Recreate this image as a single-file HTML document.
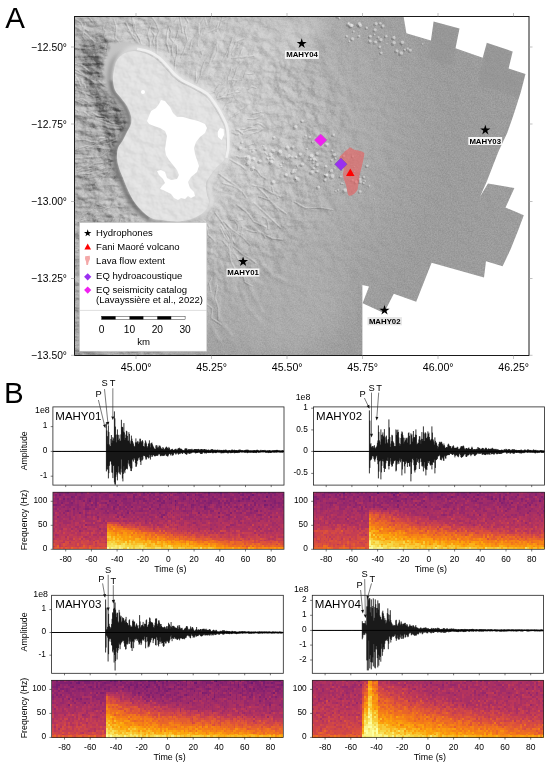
<!DOCTYPE html>
<html><head><meta charset="utf-8"><title>Figure</title>
<style>html,body{margin:0;padding:0;background:#fff}svg{display:block}text{font-family:"Liberation Sans",Arial,Helvetica,sans-serif;fill:#000}</style></head><body>
<svg width="550" height="767" viewBox="0 0 550 767">
<rect width="550" height="767" fill="#fff"/>
<defs>
<clipPath id="mapclip"><rect x="74.5" y="16.5" width="454.5" height="339.0"/></clipPath>
<clipPath id="lagclip"><path d="M114.0,70.0C114.7,66.7 115.2,62.8 117.0,60.0C118.8,57.2 122.0,54.5 125.0,53.0C128.0,51.5 131.3,50.8 135.0,51.0C138.7,51.2 143.3,52.5 147.0,54.0C150.7,55.5 154.0,57.7 157.0,60.0C160.0,62.3 162.3,65.2 165.0,68.0C167.7,70.8 170.3,74.5 173.0,77.0C175.7,79.5 178.0,81.2 181.0,83.0C184.0,84.8 187.0,85.8 191.0,88.0C195.0,90.2 201.3,93.0 205.0,96.0C208.7,99.0 210.5,102.3 213.0,106.0C215.5,109.7 218.0,114.0 220.0,118.0C222.0,122.0 224.0,124.7 225.0,130.0C226.0,135.3 226.2,145.0 226.0,150.0C225.8,155.0 225.7,157.0 224.0,160.0C222.3,163.0 218.3,165.3 216.0,168.0C213.7,170.7 211.7,173.3 210.0,176.0C208.3,178.7 206.5,181.0 206.0,184.0C205.5,187.0 206.5,191.0 207.0,194.0C207.5,197.0 209.2,199.3 209.0,202.0C208.8,204.7 207.8,207.7 206.0,210.0C204.2,212.3 201.0,214.3 198.0,216.0C195.0,217.7 191.7,219.1 188.0,220.0C184.3,220.9 180.3,221.5 176.0,221.5C171.7,221.5 166.2,220.6 162.0,220.0C157.8,219.4 154.5,219.7 151.0,218.0C147.5,216.3 144.0,213.0 141.0,210.0C138.0,207.0 135.3,203.7 133.0,200.0C130.7,196.3 128.7,191.7 127.0,188.0C125.3,184.3 124.3,181.3 123.0,178.0C121.7,174.7 120.0,171.3 119.0,168.0C118.0,164.7 117.2,161.3 117.0,158.0C116.8,154.7 117.0,151.0 118.0,148.0C119.0,145.0 121.5,142.7 123.0,140.0C124.5,137.3 125.7,134.7 127.0,132.0C128.3,129.3 130.3,126.7 131.0,124.0C131.7,121.3 131.7,119.0 131.0,116.0C130.3,113.0 128.7,109.0 127.0,106.0C125.3,103.0 123.0,100.7 121.0,98.0C119.0,95.3 116.3,93.0 115.0,90.0C113.7,87.0 113.2,83.3 113.0,80.0C112.8,76.7 113.3,73.3 114.0,70.0Z"/></clipPath>
<filter id="relief" x="0" y="0" width="100%" height="100%" color-interpolation-filters="sRGB">
<feTurbulence type="fractalNoise" baseFrequency="0.09 0.11" numOctaves="4" seed="11" result="n"/>
<feDiffuseLighting in="n" surfaceScale="3" diffuseConstant="1.0" lighting-color="#ffffff" result="l"><feDistantLight azimuth="325" elevation="45"/></feDiffuseLighting>
<feColorMatrix in="l" type="matrix" values="1.3 0 0 0 -0.40  0 1.3 0 0 -0.40  0 0 1.3 0 -0.40  0 0 0 1 0"/>
</filter>
<filter id="reliefW" x="0" y="0" width="100%" height="100%" color-interpolation-filters="sRGB">
<feTurbulence type="fractalNoise" baseFrequency="0.045 0.17" numOctaves="4" seed="4" result="n"/>
<feDiffuseLighting in="n" surfaceScale="3.5" diffuseConstant="1.0" lighting-color="#ffffff" result="l"><feDistantLight azimuth="325" elevation="45"/></feDiffuseLighting>
<feColorMatrix in="l" type="matrix" values="1.3 0 0 0 -0.40  0 1.3 0 0 -0.40  0 0 1.3 0 -0.40  0 0 0 1 0"/>
</filter>
<filter id="grain" x="0" y="0" width="100%" height="100%" color-interpolation-filters="sRGB">
<feTurbulence type="fractalNoise" baseFrequency="0.7" numOctaves="2" seed="5" result="n"/>
<feColorMatrix in="n" type="matrix" values="0 0 0 1.2 -0.1  0 0 0 1.2 -0.1  0 0 0 1.2 -0.1  0 0 0 0 1"/>
</filter>
<filter id="b4"><feGaussianBlur stdDeviation="4"/></filter>
<filter id="b8"><feGaussianBlur stdDeviation="8"/></filter>
<filter id="b14"><feGaussianBlur stdDeviation="14"/></filter>
<filter id="b25"><feGaussianBlur stdDeviation="25"/></filter>
<filter id="b1"><feGaussianBlur stdDeviation="0.8"/></filter>
<filter id="b05"><feGaussianBlur stdDeviation="0.45"/></filter>
<filter id="b2"><feGaussianBlur stdDeviation="2"/></filter>
<radialGradient id="tmask" cx="185" cy="135" r="250" gradientUnits="userSpaceOnUse"><stop offset="0" stop-color="#fff"/><stop offset="0.45" stop-color="#ddd"/><stop offset="0.7" stop-color="#333"/><stop offset="1" stop-color="#111"/></radialGradient>
<mask id="texmask"><rect x="70" y="10" width="470" height="350" fill="url(#tmask)"/></mask>
<radialGradient id="baseg" cx="178" cy="128" r="270" gradientUnits="userSpaceOnUse"><stop offset="0" stop-color="#d2d2d2"/><stop offset="0.25" stop-color="#cccccc"/><stop offset="0.4" stop-color="#c0c0c0"/><stop offset="0.55" stop-color="#b2b2b2"/><stop offset="0.7" stop-color="#aaaaaa"/><stop offset="0.85" stop-color="#a1a1a1"/><stop offset="1" stop-color="#9c9c9c"/></radialGradient>
<linearGradient id="wmaskg" x1="75" x2="200" y1="0" y2="0" gradientUnits="userSpaceOnUse"><stop offset="0" stop-color="#fff"/><stop offset="0.55" stop-color="#fff"/><stop offset="1" stop-color="#000"/></linearGradient>
<mask id="wmask"><rect x="70" y="10" width="200" height="350" fill="url(#wmaskg)"/></mask>

</defs>
<g clip-path="url(#mapclip)">
<rect x="74.5" y="16.5" width="454.5" height="339.0" fill="url(#baseg)"/>
<ellipse cx="285" cy="300" rx="60" ry="55" fill="#adadad" filter="url(#b14)" opacity="0.8"/>
<path d="M112,17 L330,17 L300,55 L240,80 L190,70 L150,42 L112,40Z" fill="#c9c9c9" filter="url(#b8)" opacity="0.8"/>
<path d="M75,17 L108,17 L100,60 L104,100 L120,130 L112,165 L118,200 L140,232 L180,262 L180,356 L75,356Z" fill="#a9a9a9" filter="url(#b8)"/>
<path d="M75,17 L112,17 L106,36 L88,40 L75,48Z" fill="#b8b8b8" filter="url(#b4)"/>
<path d="M84,38 L109,41 L102,60 L101,80 L105,92 L114,100 L125,112 L128,128 L120,142 L116,155 L118,170 L124,186 L134,204 L128,208 L116,190 L108,170 L106,150 L104,128 L94,106 L86,80 L82,55Z" fill="#7e7e7e" filter="url(#b2)" opacity="0.95"/>
<path d="M99,180 L120,176 L128,192 L140,212 L128,220 L104,214 L97,196Z" fill="#b6b6b6" filter="url(#b2)"/>
<g mask="url(#texmask)" style="mix-blend-mode:overlay" opacity="0.42"><rect x="74.5" y="16.5" width="454.5" height="339.0" filter="url(#relief)"/></g>
<g mask="url(#wmask)" style="mix-blend-mode:overlay" opacity="0.36"><rect x="74.5" y="16.5" width="130" height="339.0" filter="url(#reliefW)"/></g>
<g fill="none" stroke-linecap="round" filter="url(#b05)"><path d="M236.1,249.7L241.6,254.7L248.9,258.7L255.0,263.3M179.1,255.3L186.0,263.0L190.5,270.8L196.6,278.2M209.8,94.0L214.4,92.2L216.5,88.0L219.3,84.4M216.0,31.3L219.2,26.8L220.5,21.4L222.3,16.2M240.5,58.4L244.7,57.4L249.5,57.0L253.7,56.2M158.5,31.1L155.4,23.2L149.9,15.6L146.0,7.9M42.3,177.6L37.0,179.9L32.4,184.1L29.6,192.9M63.5,140.4L59.3,139.6L55.2,141.1L51.0,140.6M113.6,217.2L110.4,224.4L104.3,229.8L101.2,237.1M85.1,220.6L73.0,223.4L62.5,227.9L53.1,233.4M227.7,81.5L231.6,80.0L237.4,80.9L241.6,80.0M115.8,140.9L111.5,142.7L107.2,144.4L102.7,145.2M168.6,52.1L166.0,42.9L166.5,33.6L169.1,24.3M197.3,46.2L197.2,40.7L200.1,36.1L201.0,30.9M182.1,33.0L180.3,23.5L178.7,14.1L174.2,4.6M165.1,305.0L168.7,316.8L173.4,328.6L174.7,340.3M92.0,22.4L88.7,18.4L85.8,14.1L83.8,9.3M149.1,49.6L149.4,41.9L147.0,34.9L149.7,26.8M219.8,228.9L224.0,237.4L230.0,245.0L233.1,254.2M132.5,262.2L132.9,275.0L132.0,287.5L131.5,299.9M122.8,249.6L122.4,257.5L126.3,266.9L127.8,275.2M231.2,133.0L233.5,133.4L235.8,135.0L238.2,134.6M87.5,31.5L82.5,28.1L79.9,22.8L74.7,19.5M128.6,-2.6L125.0,-8.3L121.6,-13.9L119.2,-19.9M257.3,188.3L264.6,195.0L271.0,203.2L277.6,210.8M231.6,58.8L236.7,58.0L241.9,57.4L246.9,56.9M240.9,129.2L244.3,129.6L247.5,127.4L250.9,127.3M43.7,166.3L35.3,169.2L27.3,173.7L20.3,181.2M234.2,115.2L238.7,110.7L244.0,108.5L248.4,103.9M96.0,206.6L91.3,210.7L85.6,213.8L80.8,217.8M141.7,49.5L137.7,43.1L134.6,36.5L127.4,31.4M257.3,231.5L264.3,235.5L271.8,239.0L281.5,240.1M207.0,27.9L204.1,17.9L207.0,9.6L204.8,-0.0M174.1,70.4L174.6,62.2L176.7,54.1L176.3,45.9M158.0,247.4L154.2,255.8L147.7,263.7L142.1,271.5M203.7,221.6L204.7,223.8L207.4,225.3L208.5,227.4M68.4,199.0L65.9,208.1L62.7,215.6L58.1,221.4M113.1,124.0L104.8,120.5L96.0,118.8L87.4,116.6M105.7,-6.4L101.9,-16.6L94.1,-24.8L93.5,-36.5M69.0,44.4L59.4,42.8L52.4,38.3L41.3,39.0M187.8,22.8L184.5,17.5L183.8,12.7L182.5,7.7M124.3,190.8L118.6,194.0L115.5,199.3L111.5,203.9M219.8,96.9L222.9,94.6L225.7,91.9L228.3,89.1M167.6,256.2L169.6,263.5L173.8,270.8L171.5,278.1M76.7,79.3L70.7,71.6L64.0,65.2L60.8,53.9M60.9,72.3L56.7,71.9L51.4,73.5L45.8,75.8M96.2,212.4L92.3,217.7L88.1,222.7L83.7,227.4M172.0,55.3L171.2,47.3L175.5,39.5L177.9,31.7M271.5,187.3L272.7,192.8L275.5,195.0L277.6,198.6M210.9,278.7L208.5,283.8L209.6,288.1L210.1,292.4M245.1,229.9L252.2,232.4L261.2,233.1L265.0,238.3M92.8,82.2L83.0,76.4L72.4,71.8L62.3,66.6M173.9,43.8L169.6,37.8L170.4,31.9L167.8,26.0M196.6,270.9L193.7,274.4L197.0,276.8L197.6,279.7M191.3,238.0L193.9,241.2L194.3,244.8L192.3,248.9M262.1,217.1L265.8,219.3L267.3,223.9L268.0,229.3M258.4,197.0L268.9,200.7L277.0,208.1L285.8,214.4M189.3,49.3L191.3,40.7L198.0,33.3L198.3,24.3M153.4,45.7L152.5,41.2L154.2,36.2L151.4,32.1M144.8,247.5L139.9,257.2L136.4,267.2L128.5,276.0M87.1,165.5L77.6,169.8L68.3,174.6L58.6,178.5M100.2,217.5L95.3,219.9L94.7,225.9L93.4,231.2M264.3,153.0L267.2,156.3L270.5,157.2L273.4,160.2M105.1,122.8L97.6,120.5L90.2,117.8L83.5,112.5M227.1,55.6L232.3,49.6L235.6,42.3L244.1,38.8M97.0,270.8L98.2,275.5L97.5,279.2L93.7,281.4M67.1,44.8L62.2,34.6L55.0,27.0L51.1,15.9M73.9,127.4L67.7,126.6L61.7,123.9L55.6,123.3M247.0,137.4L252.4,133.6L257.8,132.5L263.0,129.0M84.4,166.7L78.2,166.7L71.8,165.8L65.6,165.6M253.7,125.3L256.9,123.5L260.4,124.9L264.1,127.9M90.6,245.4L84.4,246.7L80.4,249.5L74.6,251.0M205.7,287.8L204.0,292.2L204.2,296.1L205.7,299.8M214.8,213.3L221.9,223.1L228.4,233.2L234.1,243.8M231.2,54.7L233.1,51.3L236.0,48.7L237.8,45.2M133.9,34.4L134.5,25.7L131.6,18.3L135.8,8.7M106.8,139.6L99.7,142.0L92.8,146.6L85.7,148.7M241.0,226.0L242.1,228.5L240.6,233.0L240.3,236.5M87.8,71.4L80.5,65.7L70.2,64.0L60.7,61.3M231.2,96.5L233.7,94.3L235.2,90.4L238.1,88.7M236.1,156.4L238.8,158.2L242.0,157.9L245.3,157.6M180.5,57.8L183.4,51.5L185.4,45.1L189.0,39.0M157.7,304.6L148.4,311.4L146.3,318.9L137.0,325.3M97.4,172.3L92.6,172.8L88.5,174.6L83.3,174.1M247.5,119.4L252.8,119.9L257.6,118.3L262.2,115.4M66.7,182.5L60.2,188.8L54.4,196.2L47.0,200.6M83.6,218.5L72.1,223.2L62.3,229.8L50.6,234.0M231.0,86.6L233.5,82.1L238.1,80.0L241.9,77.1M180.4,252.2L186.5,262.1L187.8,272.7L190.8,283.0M94.3,-16.3L87.9,-24.5L80.1,-32.0L76.6,-41.8M195.0,83.0L195.5,79.7L195.3,76.0L195.3,72.5M252.2,114.3L254.9,113.5L258.0,113.6L260.6,112.2M91.0,210.5L82.0,215.2L76.1,223.1L67.8,228.5M170.2,266.4L172.1,271.8L174.6,277.2L178.7,282.5M231.0,81.8L234.4,75.3L236.6,67.6L240.1,61.4M151.8,257.5L149.0,267.6L143.9,277.3L134.5,286.0M227.6,94.9L233.0,93.1L239.2,92.5L242.9,88.2M143.4,297.1L140.4,309.0L143.5,321.8L143.0,334.1M165.2,234.6L160.2,242.2L157.0,249.8L150.8,256.9M55.0,123.8L45.3,127.6L36.0,126.8L26.6,129.4M103.6,138.7L98.9,138.6L94.5,142.3L89.8,142.4M86.0,77.7L77.3,70.9L66.4,67.3L58.4,59.5M212.6,60.8L214.6,56.3L216.8,51.9L216.2,46.0M54.3,106.7L47.8,102.4L40.9,99.8L34.3,96.0M84.5,88.4L83.8,84.5L81.2,84.0L80.9,79.8M220.6,226.0L225.7,236.0L231.0,245.8L240.6,253.2M119.3,-8.4L114.1,-12.2L113.4,-17.7L112.2,-23.0M227.5,57.0L228.6,53.2L228.9,49.0L230.2,45.5M231.8,235.3L231.2,241.2L231.8,246.4L228.4,253.6M81.2,-5.8L73.7,-10.7L63.3,-13.5L59.1,-20.6M236.0,204.9L246.0,212.4L253.5,222.3L265.6,227.6M221.7,61.8L225.9,54.2L229.4,46.1L232.2,37.5M106.7,51.9L106.8,49.3L103.9,48.9L105.0,45.4M53.0,169.6L47.1,174.5L39.4,173.4L33.4,177.9M50.2,196.3L47.2,201.0L44.5,205.9L44.4,215.0M117.7,224.9L113.7,226.8L111.3,229.7L106.9,231.3M61.7,126.3L52.7,126.7L43.6,127.7L34.9,122.9M208.4,32.9L215.9,29.2L217.7,23.2L225.0,19.7M92.6,97.2L83.8,93.2L74.4,90.5L64.1,89.6M103.1,36.8L105.2,31.7L102.5,29.7L103.1,25.7M137.8,44.0L132.4,37.5L128.6,30.4L125.3,23.2M243.5,77.0L244.8,73.9L249.2,74.6L252.5,74.0M77.1,13.9L76.8,7.9L73.7,3.9L68.0,1.9M222.1,241.2L228.5,248.9L235.5,256.2L240.2,264.7M105.1,163.7L95.5,168.5L84.6,170.3L74.1,173.0M103.8,227.8L99.5,228.1L94.7,228.0L90.4,228.2M235.6,48.7L239.3,47.6L241.0,44.9L243.0,42.5M200.0,57.6L202.0,55.4L200.3,51.8L203.2,49.9M112.7,94.5L109.2,88.5L103.1,86.1L98.4,81.8M146.2,243.7L145.8,255.0L147.6,266.8L150.3,278.5M96.2,142.6L89.9,142.0L83.5,140.3L77.3,140.6M83.0,105.1L76.3,102.2L70.1,98.1L62.5,97.9M76.6,240.5L67.9,247.9L57.7,253.8L45.3,257.5M142.3,51.2L139.4,39.8L133.2,29.6L131.6,17.8M56.3,112.4L52.7,114.6L49.0,117.0L45.5,119.0M56.2,31.9L50.8,21.7L50.5,6.6L43.8,-2.1M50.0,119.8L43.8,118.3L37.2,120.8L30.3,127.0M151.8,6.2L148.8,0.9L141.5,-3.6L138.7,-8.9M87.2,162.2L83.6,164.8L79.4,165.5L76.2,169.1M104.1,207.6L99.6,206.2L95.6,205.1L94.5,207.0M154.9,267.7L152.8,280.1L158.5,293.3L158.6,305.9M156.1,54.0L156.2,46.1L156.0,38.2L159.3,30.0M218.5,174.3L224.6,178.9L230.9,183.1L237.0,187.6M91.7,157.5L80.1,159.0L68.0,158.1L57.1,162.0M232.7,69.4L237.7,65.8L242.6,62.2L246.9,57.9M251.9,185.9L262.3,188.0L270.7,193.4L280.0,197.3M192.3,46.9L195.5,42.1L199.4,37.5L198.1,31.5M78.5,164.9L68.7,171.4L60.5,181.5L50.5,187.2M234.2,221.6L237.5,225.6L237.0,232.4L242.7,234.8M204.6,28.8L209.2,23.4L211.1,17.1L213.5,10.9M66.8,69.2L58.2,66.9L51.6,61.4L42.9,59.5M237.4,57.7L239.7,55.1L240.7,51.2L242.6,48.2M199.6,26.1L204.1,18.1L209.5,10.3L215.3,2.7M222.8,109.5L226.2,103.8L231.2,101.3L234.2,95.4M67.2,52.3L60.5,51.1L55.7,47.5L52.8,41.4M227.2,84.0L227.6,77.7L229.7,73.3L231.0,68.1M108.7,151.3L104.9,154.3L101.1,157.0L96.7,157.9M217.2,99.6L222.3,98.0L228.3,97.8L233.8,97.0M74.7,166.6L71.5,166.6L70.8,173.4L68.5,175.5M203.5,62.8L208.3,56.2L213.7,49.9L217.0,42.6M227.6,122.3L230.8,118.0L234.5,115.6L238.2,113.3M103.7,168.7L97.9,171.4L90.7,171.0L85.2,174.2M247.4,89.6L249.5,88.1L251.8,86.9L255.6,88.5M193.9,273.9L196.1,277.1L204.4,278.8L205.8,282.0M294.1,202.5L304.9,208.7L319.2,208.1L331.8,210.4M223.7,222.6L231.9,230.5L241.8,237.2L249.4,245.4M97.8,-15.9L90.1,-19.1L88.9,-25.5L84.7,-30.4M158.6,18.8L162.8,11.0L168.2,3.4L170.3,-4.1M240.2,269.5L242.8,275.9L244.4,282.7L251.5,286.7M49.2,153.6L39.5,157.4L29.1,157.5L18.9,158.1M202.4,222.7L206.1,228.7L207.7,235.5L213.3,240.7M108.8,161.6L101.5,163.6L93.5,164.2L87.1,168.3M93.9,42.9L86.4,35.5L77.8,28.9L68.1,23.4M120.1,219.2L118.0,226.9L115.1,234.1L114.6,242.6M253.5,203.4L262.4,211.7L271.3,220.0L280.0,228.6M84.7,39.9L82.0,36.9L82.8,31.0L84.3,24.6M69.3,81.1L60.6,78.1L50.8,77.4L42.4,73.8M77.7,111.6L68.8,105.8L59.7,100.8L50.5,96.5M229.6,159.9L234.8,163.1L240.2,165.9L245.0,170.1M245.3,147.2L247.8,145.6L250.1,145.1L252.5,144.2M80.6,158.5L71.7,159.5L63.1,161.5L54.6,164.2M224.8,230.8L229.5,237.8L231.2,246.6L234.1,254.7M128.0,-1.7L126.8,-11.6L122.0,-20.3L121.0,-30.3M84.8,95.0L76.3,89.6L67.7,84.4L58.4,80.5M129.6,240.0L127.3,242.8L124.2,245.1L123.8,248.7M235.6,130.2L237.9,130.7L240.3,132.6L242.6,134.5M189.4,241.0L191.2,243.5L193.5,245.8L196.2,248.0M228.5,245.5L229.0,254.1L230.4,262.1L234.0,269.1M112.2,204.9L110.1,208.0L105.6,209.1L102.4,211.2M251.8,168.2L256.7,170.7L260.4,176.2L265.2,179.0M183.9,234.9L177.6,238.8L175.9,242.1L172.7,245.4M227.6,185.0L235.2,187.7L241.3,191.9L245.9,198.2M119.5,126.8L114.0,125.8L108.5,124.8L103.1,123.0M216.4,97.8L218.2,93.3L221.5,90.7L224.0,87.2M108.4,121.3L103.3,117.6L97.5,116.9L92.4,113.5M228.2,92.0L230.7,87.4L234.8,84.8L237.6,80.6M204.2,70.8L208.5,64.9L210.8,57.9L213.5,51.2M99.8,11.8L100.5,4.8L97.9,-0.4L93.8,-4.7M72.0,100.7L64.7,91.3L55.3,87.6L47.0,81.1M107.2,172.0L98.9,174.1L91.6,178.0L82.7,178.9M172.7,298.8L175.1,311.5L175.4,324.2L182.8,336.7M222.6,183.8L230.1,186.0L237.2,188.6L242.7,193.3M71.5,157.0L66.7,161.6L62.5,167.6L58.2,173.0M71.0,32.9L66.9,21.7L64.6,9.1L59.6,-1.0M99.7,141.2L90.2,145.6L80.5,148.1L70.9,151.3M79.9,86.2L76.9,79.3L72.9,74.1L68.4,70.0M187.2,42.7L186.1,37.2L184.4,31.7L185.3,26.5M88.0,103.5L84.8,101.2L81.4,99.3L76.7,101.0M230.7,220.1L235.0,219.8L237.0,221.2L241.8,220.3M120.1,45.1L114.7,38.2L115.8,27.8L113.1,19.4M112.1,167.2L107.0,174.5L100.1,178.9L94.5,185.1M248.9,149.9L252.8,149.3L256.4,150.2L260.8,146.5M174.4,21.1L180.3,13.6L181.1,5.8L186.1,-1.6M196.8,83.7L199.9,77.1L201.3,69.7L203.6,62.7M216.7,286.0L214.6,298.2L217.7,308.8L218.0,320.2M203.1,302.2L211.9,309.2L210.7,318.5L220.5,325.2M87.5,5.8L84.0,-0.6L76.1,-4.0L71.5,-9.7M243.4,132.1L247.7,130.4L252.1,129.7L256.5,129.5" stroke="#000" stroke-opacity="0.12" stroke-width="1.4"/><path d="M237.1,248.7L242.6,253.7L249.9,257.7L256.0,262.3M180.1,254.3L187.0,262.0L191.5,269.8L197.6,277.2M210.8,93.0L215.4,91.2L217.5,87.0L220.3,83.4M217.0,30.3L220.2,25.8L221.5,20.4L223.3,15.2M241.5,57.4L245.7,56.4L250.5,56.0L254.7,55.2M159.5,30.1L156.4,22.2L150.9,14.6L147.0,6.9M43.3,176.6L38.0,178.9L33.4,183.1L30.6,191.9M64.5,139.4L60.3,138.6L56.2,140.1L52.0,139.6M114.6,216.2L111.4,223.4L105.3,228.8L102.2,236.1M86.1,219.6L74.0,222.4L63.5,226.9L54.1,232.4M228.7,80.5L232.6,79.0L238.4,79.9L242.6,79.0M116.8,139.9L112.5,141.7L108.2,143.4L103.7,144.2M169.6,51.1L167.0,41.9L167.5,32.6L170.1,23.3M198.3,45.2L198.2,39.7L201.1,35.1L202.0,29.9M183.1,32.0L181.3,22.5L179.7,13.1L175.2,3.6M166.1,304.0L169.7,315.8L174.4,327.6L175.7,339.3M93.0,21.4L89.7,17.4L86.8,13.1L84.8,8.3M150.1,48.6L150.4,40.9L148.0,33.9L150.7,25.8M220.8,227.9L225.0,236.4L231.0,244.0L234.1,253.2M133.5,261.2L133.9,274.0L133.0,286.5L132.5,298.9M123.8,248.6L123.4,256.5L127.3,265.9L128.8,274.2M232.2,132.0L234.5,132.4L236.8,134.0L239.2,133.6M88.5,30.5L83.5,27.1L80.9,21.8L75.7,18.5M129.6,-3.6L126.0,-9.3L122.6,-14.9L120.2,-20.9M258.3,187.3L265.6,194.0L272.0,202.2L278.6,209.8M232.6,57.8L237.7,57.0L242.9,56.4L247.9,55.9M241.9,128.2L245.3,128.6L248.5,126.4L251.9,126.3M44.7,165.3L36.3,168.2L28.3,172.7L21.3,180.2M235.2,114.2L239.7,109.7L245.0,107.5L249.4,102.9M97.0,205.6L92.3,209.7L86.6,212.8L81.8,216.8M142.7,48.5L138.7,42.1L135.6,35.5L128.4,30.4M258.3,230.5L265.3,234.5L272.8,238.0L282.5,239.1M208.0,26.9L205.1,16.9L208.0,8.6L205.8,-1.0M175.1,69.4L175.6,61.2L177.7,53.1L177.3,44.9M159.0,246.4L155.2,254.8L148.7,262.7L143.1,270.5M204.7,220.6L205.7,222.8L208.4,224.3L209.5,226.4M69.4,198.0L66.9,207.1L63.7,214.6L59.1,220.4M114.1,123.0L105.8,119.5L97.0,117.8L88.4,115.6M106.7,-7.4L102.9,-17.6L95.1,-25.8L94.5,-37.5M70.0,43.4L60.4,41.8L53.4,37.3L42.3,38.0M188.8,21.8L185.5,16.5L184.8,11.7L183.5,6.7M125.3,189.8L119.6,193.0L116.5,198.3L112.5,202.9M220.8,95.9L223.9,93.6L226.7,90.9L229.3,88.1M168.6,255.2L170.6,262.5L174.8,269.8L172.5,277.1M77.7,78.3L71.7,70.6L65.0,64.2L61.8,52.9M61.9,71.3L57.7,70.9L52.4,72.5L46.8,74.8M97.2,211.4L93.3,216.7L89.1,221.7L84.7,226.4M173.0,54.3L172.2,46.3L176.5,38.5L178.9,30.7M272.5,186.3L273.7,191.8L276.5,194.0L278.6,197.6M211.9,277.7L209.5,282.8L210.6,287.1L211.1,291.4M246.1,228.9L253.2,231.4L262.2,232.1L266.0,237.3M93.8,81.2L84.0,75.4L73.4,70.8L63.3,65.6M174.9,42.8L170.6,36.8L171.4,30.9L168.8,25.0M197.6,269.9L194.7,273.4L198.0,275.8L198.6,278.7M192.3,237.0L194.9,240.2L195.3,243.8L193.3,247.9M263.1,216.1L266.8,218.3L268.3,222.9L269.0,228.3M259.4,196.0L269.9,199.7L278.0,207.1L286.8,213.4M190.3,48.3L192.3,39.7L199.0,32.3L199.3,23.3M154.4,44.7L153.5,40.2L155.2,35.2L152.4,31.1M145.8,246.5L140.9,256.2L137.4,266.2L129.5,275.0M88.1,164.5L78.6,168.8L69.3,173.6L59.6,177.5M101.2,216.5L96.3,218.9L95.7,224.9L94.4,230.2M265.3,152.0L268.2,155.3L271.5,156.2L274.4,159.2M106.1,121.8L98.6,119.5L91.2,116.8L84.5,111.5M228.1,54.6L233.3,48.6L236.6,41.3L245.1,37.8M98.0,269.8L99.2,274.5L98.5,278.2L94.7,280.4M68.1,43.8L63.2,33.6L56.0,26.0L52.1,14.9M74.9,126.4L68.7,125.6L62.7,122.9L56.6,122.3M248.0,136.4L253.4,132.6L258.8,131.5L264.0,128.0M85.4,165.7L79.2,165.7L72.8,164.8L66.6,164.6M254.7,124.3L257.9,122.5L261.4,123.9L265.1,126.9M91.6,244.4L85.4,245.7L81.4,248.5L75.6,250.0M206.7,286.8L205.0,291.2L205.2,295.1L206.7,298.8M215.8,212.3L222.9,222.1L229.4,232.2L235.1,242.8M232.2,53.7L234.1,50.3L237.0,47.7L238.8,44.2M134.9,33.4L135.5,24.7L132.6,17.3L136.8,7.7M107.8,138.6L100.7,141.0L93.8,145.6L86.7,147.7M242.0,225.0L243.1,227.5L241.6,232.0L241.3,235.5M88.8,70.4L81.5,64.7L71.2,63.0L61.7,60.3M232.2,95.5L234.7,93.3L236.2,89.4L239.1,87.7M237.1,155.4L239.8,157.2L243.0,156.9L246.3,156.6M181.5,56.8L184.4,50.5L186.4,44.1L190.0,38.0M158.7,303.6L149.4,310.4L147.3,317.9L138.0,324.3M98.4,171.3L93.6,171.8L89.5,173.6L84.3,173.1M248.5,118.4L253.8,118.9L258.6,117.3L263.2,114.4M67.7,181.5L61.2,187.8L55.4,195.2L48.0,199.6M84.6,217.5L73.1,222.2L63.3,228.8L51.6,233.0M232.0,85.6L234.5,81.1L239.1,79.0L242.9,76.1M181.4,251.2L187.5,261.1L188.8,271.7L191.8,282.0M95.3,-17.3L88.9,-25.5L81.1,-33.0L77.6,-42.8M196.0,82.0L196.5,78.7L196.3,75.0L196.3,71.5M253.2,113.3L255.9,112.5L259.0,112.6L261.6,111.2M92.0,209.5L83.0,214.2L77.1,222.1L68.8,227.5M171.2,265.4L173.1,270.8L175.6,276.2L179.7,281.5M232.0,80.8L235.4,74.3L237.6,66.6L241.1,60.4M152.8,256.5L150.0,266.6L144.9,276.3L135.5,285.0M228.6,93.9L234.0,92.1L240.2,91.5L243.9,87.2M144.4,296.1L141.4,308.0L144.5,320.8L144.0,333.1M166.2,233.6L161.2,241.2L158.0,248.8L151.8,255.9M56.0,122.8L46.3,126.6L37.0,125.8L27.6,128.4M104.6,137.7L99.9,137.6L95.5,141.3L90.8,141.4M87.0,76.7L78.3,69.9L67.4,66.3L59.4,58.5M213.6,59.8L215.6,55.3L217.8,50.9L217.2,45.0M55.3,105.7L48.8,101.4L41.9,98.8L35.3,95.0M85.5,87.4L84.8,83.5L82.2,83.0L81.9,78.8M221.6,225.0L226.7,235.0L232.0,244.8L241.6,252.2M120.3,-9.4L115.1,-13.2L114.4,-18.7L113.2,-24.0M228.5,56.0L229.6,52.2L229.9,48.0L231.2,44.5M232.8,234.3L232.2,240.2L232.8,245.4L229.4,252.6M82.2,-6.8L74.7,-11.7L64.3,-14.5L60.1,-21.6M237.0,203.9L247.0,211.4L254.5,221.3L266.6,226.6M222.7,60.8L226.9,53.2L230.4,45.1L233.2,36.5M107.7,50.9L107.8,48.3L104.9,47.9L106.0,44.4M54.0,168.6L48.1,173.5L40.4,172.4L34.4,176.9M51.2,195.3L48.2,200.0L45.5,204.9L45.4,214.0M118.7,223.9L114.7,225.8L112.3,228.7L107.9,230.3M62.7,125.3L53.7,125.7L44.6,126.7L35.9,121.9M209.4,31.9L216.9,28.2L218.7,22.2L226.0,18.7M93.6,96.2L84.8,92.2L75.4,89.5L65.1,88.6M104.1,35.8L106.2,30.7L103.5,28.7L104.1,24.7M138.8,43.0L133.4,36.5L129.6,29.4L126.3,22.2M244.5,76.0L245.8,72.9L250.2,73.6L253.5,73.0M78.1,12.9L77.8,6.9L74.7,2.9L69.0,0.9M223.1,240.2L229.5,247.9L236.5,255.2L241.2,263.7M106.1,162.7L96.5,167.5L85.6,169.3L75.1,172.0M104.8,226.8L100.5,227.1L95.7,227.0L91.4,227.2M236.6,47.7L240.3,46.6L242.0,43.9L244.0,41.5M201.0,56.6L203.0,54.4L201.3,50.8L204.2,48.9M113.7,93.5L110.2,87.5L104.1,85.1L99.4,80.8M147.2,242.7L146.8,254.0L148.6,265.8L151.3,277.5M97.2,141.6L90.9,141.0L84.5,139.3L78.3,139.6M84.0,104.1L77.3,101.2L71.1,97.1L63.5,96.9M77.6,239.5L68.9,246.9L58.7,252.8L46.3,256.5M143.3,50.2L140.4,38.8L134.2,28.6L132.6,16.8M57.3,111.4L53.7,113.6L50.0,116.0L46.5,118.0M57.2,30.9L51.8,20.7L51.5,5.6L44.8,-3.1M51.0,118.8L44.8,117.3L38.2,119.8L31.3,126.0M152.8,5.2L149.8,-0.1L142.5,-4.6L139.7,-9.9M88.2,161.2L84.6,163.8L80.4,164.5L77.2,168.1M105.1,206.6L100.6,205.2L96.6,204.1L95.5,206.0M155.9,266.7L153.8,279.1L159.5,292.3L159.6,304.9M157.1,53.0L157.2,45.1L157.0,37.2L160.3,29.0M219.5,173.3L225.6,177.9L231.9,182.1L238.0,186.6M92.7,156.5L81.1,158.0L69.0,157.1L58.1,161.0M233.7,68.4L238.7,64.8L243.6,61.2L247.9,56.9M252.9,184.9L263.3,187.0L271.7,192.4L281.0,196.3M193.3,45.9L196.5,41.1L200.4,36.5L199.1,30.5M79.5,163.9L69.7,170.4L61.5,180.5L51.5,186.2M235.2,220.6L238.5,224.6L238.0,231.4L243.7,233.8M205.6,27.8L210.2,22.4L212.1,16.1L214.5,9.9M67.8,68.2L59.2,65.9L52.6,60.4L43.9,58.5M238.4,56.7L240.7,54.1L241.7,50.2L243.6,47.2M200.6,25.1L205.1,17.1L210.5,9.3L216.3,1.7M223.8,108.5L227.2,102.8L232.2,100.3L235.2,94.4M68.2,51.3L61.5,50.1L56.7,46.5L53.8,40.4M228.2,83.0L228.6,76.7L230.7,72.3L232.0,67.1M109.7,150.3L105.9,153.3L102.1,156.0L97.7,156.9M218.2,98.6L223.3,97.0L229.3,96.8L234.8,96.0M75.7,165.6L72.5,165.6L71.8,172.4L69.5,174.5M204.5,61.8L209.3,55.2L214.7,48.9L218.0,41.6M228.6,121.3L231.8,117.0L235.5,114.6L239.2,112.3M104.7,167.7L98.9,170.4L91.7,170.0L86.2,173.2M248.4,88.6L250.5,87.1L252.8,85.9L256.6,87.5M194.9,272.9L197.1,276.1L205.4,277.8L206.8,281.0M295.1,201.5L305.9,207.7L320.2,207.1L332.8,209.4M224.7,221.6L232.9,229.5L242.8,236.2L250.4,244.4M98.8,-16.9L91.1,-20.1L89.9,-26.5L85.7,-31.4M159.6,17.8L163.8,10.0L169.2,2.4L171.3,-5.1M241.2,268.5L243.8,274.9L245.4,281.7L252.5,285.7M50.2,152.6L40.5,156.4L30.1,156.5L19.9,157.1M203.4,221.7L207.1,227.7L208.7,234.5L214.3,239.7M109.8,160.6L102.5,162.6L94.5,163.2L88.1,167.3M94.9,41.9L87.4,34.5L78.8,27.9L69.1,22.4M121.1,218.2L119.0,225.9L116.1,233.1L115.6,241.6M254.5,202.4L263.4,210.7L272.3,219.0L281.0,227.6M85.7,38.9L83.0,35.9L83.8,30.0L85.3,23.6M70.3,80.1L61.6,77.1L51.8,76.4L43.4,72.8M78.7,110.6L69.8,104.8L60.7,99.8L51.5,95.5M230.6,158.9L235.8,162.1L241.2,164.9L246.0,169.1M246.3,146.2L248.8,144.6L251.1,144.1L253.5,143.2M81.6,157.5L72.7,158.5L64.1,160.5L55.6,163.2M225.8,229.8L230.5,236.8L232.2,245.6L235.1,253.7M129.0,-2.7L127.8,-12.6L123.0,-21.3L122.0,-31.3M85.8,94.0L77.3,88.6L68.7,83.4L59.4,79.5M130.6,239.0L128.3,241.8L125.2,244.1L124.8,247.7M236.6,129.2L238.9,129.7L241.3,131.6L243.6,133.5M190.4,240.0L192.2,242.5L194.5,244.8L197.2,247.0M229.5,244.5L230.0,253.1L231.4,261.1L235.0,268.1M113.2,203.9L111.1,207.0L106.6,208.1L103.4,210.2M252.8,167.2L257.7,169.7L261.4,175.2L266.2,178.0M184.9,233.9L178.6,237.8L176.9,241.1L173.7,244.4M228.6,184.0L236.2,186.7L242.3,190.9L246.9,197.2M120.5,125.8L115.0,124.8L109.5,123.8L104.1,122.0M217.4,96.8L219.2,92.3L222.5,89.7L225.0,86.2M109.4,120.3L104.3,116.6L98.5,115.9L93.4,112.5M229.2,91.0L231.7,86.4L235.8,83.8L238.6,79.6M205.2,69.8L209.5,63.9L211.8,56.9L214.5,50.2M100.8,10.8L101.5,3.8L98.9,-1.4L94.8,-5.7M73.0,99.7L65.7,90.3L56.3,86.6L48.0,80.1M108.2,171.0L99.9,173.1L92.6,177.0L83.7,177.9M173.7,297.8L176.1,310.5L176.4,323.2L183.8,335.7M223.6,182.8L231.1,185.0L238.2,187.6L243.7,192.3M72.5,156.0L67.7,160.6L63.5,166.6L59.2,172.0M72.0,31.9L67.9,20.7L65.6,8.1L60.6,-2.0M100.7,140.2L91.2,144.6L81.5,147.1L71.9,150.3M80.9,85.2L77.9,78.3L73.9,73.1L69.4,69.0M188.2,41.7L187.1,36.2L185.4,30.7L186.3,25.5M89.0,102.5L85.8,100.2L82.4,98.3L77.7,100.0M231.7,219.1L236.0,218.8L238.0,220.2L242.8,219.3M121.1,44.1L115.7,37.2L116.8,26.8L114.1,18.4M113.1,166.2L108.0,173.5L101.1,177.9L95.5,184.1M249.9,148.9L253.8,148.3L257.4,149.2L261.8,145.5M175.4,20.1L181.3,12.6L182.1,4.8L187.1,-2.6M197.8,82.7L200.9,76.1L202.3,68.7L204.6,61.7M217.7,285.0L215.6,297.2L218.7,307.8L219.0,319.2M204.1,301.2L212.9,308.2L211.7,317.5L221.5,324.2M88.5,4.8L85.0,-1.6L77.1,-5.0L72.5,-10.7M244.4,131.1L248.7,129.4L253.1,128.7L257.5,128.5" stroke="#fff" stroke-opacity="0.25" stroke-width="1.3"/></g>
<g fill="none" stroke-linecap="round" filter="url(#b1)"><path d="M225.3,119.2L231.5,117.6L237.0,113.8L243.2,112.1M104.5,272.5L100.9,280.4L88.3,283.6L82.0,290.0M113.1,272.6L105.3,277.6L100.5,283.9L92.4,288.5M57.9,35.9L54.6,32.0L50.4,29.0L51.6,20.4M121.6,46.6L113.9,42.7L107.5,38.3L100.3,34.5M106.0,34.5L104.7,28.6L102.1,23.6L99.2,18.8M122.3,44.5L115.9,34.7L111.7,23.7L105.3,13.8M116.7,130.9L105.9,131.8L95.2,132.8L84.4,134.1M219.4,258.4L219.6,269.7L225.7,278.8L225.9,290.0M77.6,156.5L70.8,158.5L64.0,160.8L56.7,160.7M78.0,14.8L68.1,9.9L65.3,-0.6L60.9,-9.8M102.3,245.2L96.4,248.8L97.7,256.9L97.5,264.0M206.6,293.1L207.3,297.0L212.1,299.9L214.4,303.4M208.9,66.5L211.9,58.4L213.2,49.6L215.7,41.4M148.9,39.6L149.1,35.7L144.8,32.9L145.5,28.8M90.3,31.1L80.6,28.9L75.7,22.6L64.0,22.6M66.0,24.6L64.2,20.4L64.0,14.8L61.2,11.6M72.1,17.7L68.1,7.1L60.1,-0.1L51.9,-7.2M140.5,290.7L136.2,297.5L138.0,305.5L133.0,312.1M225.1,77.9L228.5,71.5L232.9,66.0L235.8,59.2M112.6,128.4L105.4,126.3L98.4,123.0L90.9,122.4M191.3,77.6L192.1,75.2L191.7,72.4L190.0,69.2M93.4,59.5L88.1,48.6L82.3,38.3L76.8,27.9M127.9,224.4L125.5,226.1L120.9,226.6L118.1,228.0M101.4,160.1L94.8,161.4L89.3,165.6L83.0,167.6M71.5,236.8L67.9,243.1L64.7,249.7L62.9,257.5M205.1,57.3L209.4,50.3L213.0,43.1L218.5,36.8M84.7,84.7L82.9,82.9L80.7,81.7L79.0,79.7M235.9,138.5L239.8,140.5L243.6,142.6L247.4,144.3M110.5,100.2L104.1,93.9L98.3,87.0L91.6,81.3M80.4,193.2L73.2,200.4L67.6,209.8L59.6,216.0M110.4,6.3L111.4,1.1L107.7,-2.0L109.8,-7.7M98.4,97.0L97.1,92.8L94.3,91.0L93.1,86.8M255.0,221.1L259.2,223.3L265.8,222.9L272.0,222.7M103.5,161.7L93.2,166.0L82.5,169.2L71.9,172.8M227.4,248.4L228.8,253.0L231.9,256.7L236.3,259.8M230.4,156.0L235.9,157.2L241.5,158.3L246.7,160.6M155.6,12.3L152.6,7.5L146.1,3.4L145.5,-1.7M55.4,107.6L44.3,107.0L34.2,102.0L23.8,98.5M84.3,208.2L77.3,215.0L73.9,225.7L65.7,231.2M124.8,243.0L126.0,247.3L125.7,251.1L127.7,255.7M74.9,35.5L69.4,28.2L61.1,23.4L53.6,18.0M65.1,219.5L61.9,223.0L53.0,219.2L47.5,219.5M89.6,122.7L87.4,122.3L84.9,123.8L82.2,127.8M117.8,209.1L113.5,212.7L112.1,218.3L107.2,221.5M61.5,149.4L56.3,151.0L51.3,153.7L45.9,153.9M113.5,208.5L111.2,210.1L112.7,214.6L112.1,217.4M255.3,257.4L262.1,267.4L270.7,276.0L283.0,282.0M115.1,165.2L107.3,169.6L99.0,173.2L90.6,176.4M225.0,196.7L230.6,198.9L234.9,202.3L241.5,203.5M111.5,113.2L108.6,111.7L105.5,110.6L102.7,108.9M262.1,149.0L265.8,148.8L270.0,144.1L273.9,142.0M92.5,137.1L88.0,135.2L83.6,132.8L79.3,130.3M215.6,79.6L218.5,75.8L220.6,71.4L220.0,65.0M298.4,199.4L308.2,203.5L318.1,207.3L328.8,209.5M179.1,231.6L177.6,237.8L174.9,244.0L176.1,250.0M101.6,222.5L94.8,228.1L86.2,232.2L78.4,236.9M98.3,85.2L89.8,81.0L82.0,75.6L73.1,72.0M127.3,114.4L120.1,110.0L112.2,107.0L105.9,100.6M142.9,293.7L141.3,299.8L140.3,306.2L139.6,312.5M119.3,126.8L116.5,126.0L113.8,125.3L111.0,124.9M182.5,75.0L186.6,69.9L188.1,64.2L193.1,59.5M160.7,3.3L157.7,-4.7L155.4,-12.7L148.6,-20.2M115.5,106.2L110.1,102.6L105.0,98.7L100.4,94.0M97.6,187.5L95.0,191.1L92.3,194.6L89.0,197.2M105.5,24.3L101.6,18.4L101.8,10.1L101.3,2.4M186.1,66.9L184.8,64.3L186.5,62.4L187.2,60.2M122.3,115.3L119.7,116.0L117.8,114.6L115.4,114.8M88.3,88.9L80.4,82.2L70.5,79.0L60.4,76.2M82.4,197.7L74.5,203.1L67.9,210.4L59.1,214.8M225.4,264.3L227.4,274.7L234.1,283.1L234.6,294.2M257.2,204.1L264.7,205.3L270.6,208.4L276.8,211.1M126.0,265.9L120.7,272.2L120.1,280.2L112.9,285.9M237.6,198.5L248.0,203.7L254.7,213.0L263.6,219.8M200.0,82.3L202.9,75.7L207.2,69.8L209.0,62.5M224.2,40.4L227.1,35.8L228.4,30.4L227.9,24.0M191.5,59.2L191.9,52.2L194.3,45.7L198.5,39.7M100.8,231.2L97.1,234.3L94.9,238.6L95.6,244.9M53.5,132.0L46.4,130.7L39.3,128.2L32.2,126.3M257.9,128.8L261.7,130.3L265.3,128.8L268.8,125.8M51.1,136.4L41.7,136.9L32.6,143.8L23.5,146.7M117.9,194.5L114.2,201.9L109.0,208.2L105.3,215.7M234.4,52.0L238.5,45.2L244.7,40.0L249.1,33.4M241.9,168.6L243.7,170.2L246.4,169.8L247.1,173.7M195.5,27.7L200.5,19.6L204.3,11.3L206.9,2.6M125.3,37.9L122.8,35.4L123.7,31.4L127.7,26.1M111.6,149.3L102.6,152.6L93.9,156.9L85.2,161.4M103.8,158.1L99.6,155.9L96.1,155.5L93.2,157.0M65.4,173.3L60.5,179.4L54.6,182.9L49.8,188.9M129.9,216.9L129.8,221.0L128.6,224.7L127.0,228.2M197.1,32.7L204.2,27.2L208.6,21.0L217.0,16.3M58.7,177.7L46.8,178.3L35.0,179.1L23.2,179.5M172.6,285.1L175.9,288.7L181.4,292.1L183.4,295.7M236.7,221.1L240.3,232.1L247.2,240.7L250.3,251.9M128.2,48.3L123.2,42.8L118.0,37.4L113.8,31.5M140.1,236.4L135.4,239.2L135.1,243.5L134.1,247.5M187.9,62.1L186.8,54.7L187.1,47.6L183.2,39.9M96.2,135.0L86.3,137.9L76.5,140.2L67.0,145.4M236.4,105.8L239.7,105.2L243.0,104.3L246.8,104.7M234.9,145.3L239.4,149.4L244.1,152.0L249.1,153.1M63.3,64.6L61.5,59.6L60.8,53.4L57.6,50.8M92.4,116.9L89.7,118.7L87.4,118.3L85.7,115.5M196.0,80.6L200.9,75.4L204.0,69.2L208.5,63.8M180.9,279.8L179.7,289.1L181.6,298.2L175.5,307.7M107.8,31.0L108.4,27.6L106.4,25.8L108.5,21.6M216.6,90.9L222.6,88.3L228.0,85.1L232.8,81.2M241.7,206.7L251.4,212.2L257.4,221.6L265.0,229.3M205.1,44.3L205.4,40.8L206.7,37.8L205.9,34.0M76.9,-9.6L75.9,-11.4L77.6,-14.9L78.4,-17.8M171.9,237.8L172.5,244.5L173.9,251.2L176.9,257.9M142.6,19.1L138.5,17.0L133.8,15.2L132.4,12.4M232.1,204.2L236.3,207.3L243.4,207.7L249.4,208.9M101.2,196.3L100.0,200.8L96.0,202.2L94.5,206.3M90.5,45.5L84.5,36.7L78.4,27.9L73.0,18.6M104.3,197.1L94.7,204.0L87.3,213.1L76.3,218.4M150.2,24.4L149.4,17.6L150.3,10.6L149.0,3.9M135.9,220.0L135.6,228.9L132.8,236.8L133.2,245.8M226.1,76.1L234.2,71.3L241.0,65.4L248.1,59.6M238.9,189.7L242.9,191.2L246.7,193.1L250.4,194.9M130.1,17.4L126.5,15.0L129.1,10.5L128.5,7.1M247.7,127.5L250.9,124.1L254.5,123.9L258.3,125.2M68.8,159.5L59.9,158.4L51.8,160.3L42.9,158.5M128.9,22.3L127.1,20.4L125.7,18.4L120.3,18.0M140.7,253.6L138.4,261.7L134.7,269.3L131.2,277.0M231.8,39.7L236.7,36.1L241.2,32.3L247.7,30.1M180.5,74.7L180.5,67.3L184.8,60.7L186.1,53.5M110.3,246.3L107.7,257.9L110.8,272.2L105.6,282.5M230.2,140.6L233.1,139.3L235.9,139.6L238.8,137.9M246.1,174.9L254.8,181.6L263.6,188.0L272.3,194.4M226.4,44.7L233.3,38.8L238.6,31.8L244.7,25.5M168.0,12.0L170.5,7.5L174.0,3.1L177.9,-1.2M98.6,175.8L93.2,179.0L87.7,181.9L82.2,184.9M119.1,52.6L114.6,48.6L107.9,46.2L106.7,40.0M110.6,175.0L108.0,175.9L107.4,179.8L105.4,181.6M105.6,36.2L101.9,31.0L96.9,26.6L94.7,20.3M112.0,79.1L108.7,73.7L104.9,68.7L102.7,62.3" stroke="#000" stroke-opacity="0.11" stroke-width="2.6"/><path d="M227.1,117.4L233.3,115.8L238.8,112.0L245.0,110.3M106.3,270.7L102.7,278.6L90.1,281.8L83.8,288.2M114.9,270.8L107.1,275.8L102.3,282.1L94.2,286.7M59.7,34.1L56.4,30.2L52.2,27.2L53.4,18.6M123.4,44.8L115.7,40.9L109.3,36.5L102.1,32.7M107.8,32.7L106.5,26.8L103.9,21.8L101.0,17.0M124.1,42.7L117.7,32.9L113.5,21.9L107.1,12.0M118.5,129.1L107.7,130.0L97.0,131.0L86.2,132.3M221.2,256.6L221.4,267.9L227.5,277.0L227.7,288.2M79.4,154.7L72.6,156.7L65.8,159.0L58.5,158.9M79.8,13.0L69.9,8.1L67.1,-2.4L62.7,-11.6M104.1,243.4L98.2,247.0L99.5,255.1L99.3,262.2M208.4,291.3L209.1,295.2L213.9,298.1L216.2,301.6M210.7,64.7L213.7,56.6L215.0,47.8L217.5,39.6M150.7,37.8L150.9,33.9L146.6,31.1L147.3,27.0M92.1,29.3L82.4,27.1L77.5,20.8L65.8,20.8M67.8,22.8L66.0,18.6L65.8,13.0L63.0,9.8M73.9,15.9L69.9,5.3L61.9,-1.9L53.7,-9.0M142.3,288.9L138.0,295.7L139.8,303.7L134.8,310.3M226.9,76.1L230.3,69.7L234.7,64.2L237.6,57.4M114.4,126.6L107.2,124.5L100.2,121.2L92.7,120.6M193.1,75.8L193.9,73.4L193.5,70.6L191.8,67.4M95.2,57.7L89.9,46.8L84.1,36.5L78.6,26.1M129.7,222.6L127.3,224.3L122.7,224.8L119.9,226.2M103.2,158.3L96.6,159.6L91.1,163.8L84.8,165.8M73.3,235.0L69.7,241.3L66.5,247.9L64.7,255.7M206.9,55.5L211.2,48.5L214.8,41.3L220.3,35.0M86.5,82.9L84.7,81.1L82.5,79.9L80.8,77.9M237.7,136.7L241.6,138.7L245.4,140.8L249.2,142.5M112.3,98.4L105.9,92.1L100.1,85.2L93.4,79.5M82.2,191.4L75.0,198.6L69.4,208.0L61.4,214.2M112.2,4.5L113.2,-0.7L109.5,-3.8L111.6,-9.5M100.2,95.2L98.9,91.0L96.1,89.2L94.9,85.0M256.8,219.3L261.0,221.5L267.6,221.1L273.8,220.9M105.3,159.9L95.0,164.2L84.3,167.4L73.7,171.0M229.2,246.6L230.6,251.2L233.7,254.9L238.1,258.0M232.2,154.2L237.7,155.4L243.3,156.5L248.5,158.8M157.4,10.5L154.4,5.7L147.9,1.6L147.3,-3.5M57.2,105.8L46.1,105.2L36.0,100.2L25.6,96.7M86.1,206.4L79.1,213.2L75.7,223.9L67.5,229.4M126.6,241.2L127.8,245.5L127.5,249.3L129.5,253.9M76.7,33.7L71.2,26.4L62.9,21.6L55.4,16.2M66.9,217.7L63.7,221.2L54.8,217.4L49.3,217.7M91.4,120.9L89.2,120.5L86.7,122.0L84.0,126.0M119.6,207.3L115.3,210.9L113.9,216.5L109.0,219.7M63.3,147.6L58.1,149.2L53.1,151.9L47.7,152.1M115.3,206.7L113.0,208.3L114.5,212.8L113.9,215.6M257.1,255.6L263.9,265.6L272.5,274.2L284.8,280.2M116.9,163.4L109.1,167.8L100.8,171.4L92.4,174.6M226.8,194.9L232.4,197.1L236.7,200.5L243.3,201.7M113.3,111.4L110.4,109.9L107.3,108.8L104.5,107.1M263.9,147.2L267.6,147.0L271.8,142.3L275.7,140.2M94.3,135.3L89.8,133.4L85.4,131.0L81.1,128.5M217.4,77.8L220.3,74.0L222.4,69.6L221.8,63.2M300.2,197.6L310.0,201.7L319.9,205.5L330.6,207.7M180.9,229.8L179.4,236.0L176.7,242.2L177.9,248.2M103.4,220.7L96.6,226.3L88.0,230.4L80.2,235.1M100.1,83.4L91.6,79.2L83.8,73.8L74.9,70.2M129.1,112.6L121.9,108.2L114.0,105.2L107.7,98.8M144.7,291.9L143.1,298.0L142.1,304.4L141.4,310.7M121.1,125.0L118.3,124.2L115.6,123.5L112.8,123.1M184.3,73.2L188.4,68.1L189.9,62.4L194.9,57.7M162.5,1.5L159.5,-6.5L157.2,-14.5L150.4,-22.0M117.3,104.4L111.9,100.8L106.8,96.9L102.2,92.2M99.4,185.7L96.8,189.3L94.1,192.8L90.8,195.4M107.3,22.5L103.4,16.6L103.6,8.3L103.1,0.6M187.9,65.1L186.6,62.5L188.3,60.6L189.0,58.4M124.1,113.5L121.5,114.2L119.6,112.8L117.2,113.0M90.1,87.1L82.2,80.4L72.3,77.2L62.2,74.4M84.2,195.9L76.3,201.3L69.7,208.6L60.9,213.0M227.2,262.5L229.2,272.9L235.9,281.3L236.4,292.4M259.0,202.3L266.5,203.5L272.4,206.6L278.6,209.3M127.8,264.1L122.5,270.4L121.9,278.4L114.7,284.1M239.4,196.7L249.8,201.9L256.5,211.2L265.4,218.0M201.8,80.5L204.7,73.9L209.0,68.0L210.8,60.7M226.0,38.6L228.9,34.0L230.2,28.6L229.7,22.2M193.3,57.4L193.7,50.4L196.1,43.9L200.3,37.9M102.6,229.4L98.9,232.5L96.7,236.8L97.4,243.1M55.3,130.2L48.2,128.9L41.1,126.4L34.0,124.5M259.7,127.0L263.5,128.5L267.1,127.0L270.6,124.0M52.9,134.6L43.5,135.1L34.4,142.0L25.3,144.9M119.7,192.7L116.0,200.1L110.8,206.4L107.1,213.9M236.2,50.2L240.3,43.4L246.5,38.2L250.9,31.6M243.7,166.8L245.5,168.4L248.2,168.0L248.9,171.9M197.3,25.9L202.3,17.8L206.1,9.5L208.7,0.8M127.1,36.1L124.6,33.6L125.5,29.6L129.5,24.3M113.4,147.5L104.4,150.8L95.7,155.1L87.0,159.6M105.6,156.3L101.4,154.1L97.9,153.7L95.0,155.2M67.2,171.5L62.3,177.6L56.4,181.1L51.6,187.1M131.7,215.1L131.6,219.2L130.4,222.9L128.8,226.4M198.9,30.9L206.0,25.4L210.4,19.2L218.8,14.5M60.5,175.9L48.6,176.5L36.8,177.3L25.0,177.7M174.4,283.3L177.7,286.9L183.2,290.3L185.2,293.9M238.5,219.3L242.1,230.3L249.0,238.9L252.1,250.1M130.0,46.5L125.0,41.0L119.8,35.6L115.6,29.7M141.9,234.6L137.2,237.4L136.9,241.7L135.9,245.7M189.7,60.3L188.6,52.9L188.9,45.8L185.0,38.1M98.0,133.2L88.1,136.1L78.3,138.4L68.8,143.6M238.2,104.0L241.5,103.4L244.8,102.5L248.6,102.9M236.7,143.5L241.2,147.6L245.9,150.2L250.9,151.3M65.1,62.8L63.3,57.8L62.6,51.6L59.4,49.0M94.2,115.1L91.5,116.9L89.2,116.5L87.5,113.7M197.8,78.8L202.7,73.6L205.8,67.4L210.3,62.0M182.7,278.0L181.5,287.3L183.4,296.4L177.3,305.9M109.6,29.2L110.2,25.8L108.2,24.0L110.3,19.8M218.4,89.1L224.4,86.5L229.8,83.3L234.6,79.4M243.5,204.9L253.2,210.4L259.2,219.8L266.8,227.5M206.9,42.5L207.2,39.0L208.5,36.0L207.7,32.2M78.7,-11.4L77.7,-13.2L79.4,-16.7L80.2,-19.6M173.7,236.0L174.3,242.7L175.7,249.4L178.7,256.1M144.4,17.3L140.3,15.2L135.6,13.4L134.2,10.6M233.9,202.4L238.1,205.5L245.2,205.9L251.2,207.1M103.0,194.5L101.8,199.0L97.8,200.4L96.3,204.5M92.3,43.7L86.3,34.9L80.2,26.1L74.8,16.8M106.1,195.3L96.5,202.2L89.1,211.3L78.1,216.6M152.0,22.6L151.2,15.8L152.1,8.8L150.8,2.1M137.7,218.2L137.4,227.1L134.6,235.0L135.0,244.0M227.9,74.3L236.0,69.5L242.8,63.6L249.9,57.8M240.7,187.9L244.7,189.4L248.5,191.3L252.2,193.1M131.9,15.6L128.3,13.2L130.9,8.7L130.3,5.3M249.5,125.7L252.7,122.3L256.3,122.1L260.1,123.4M70.6,157.7L61.7,156.6L53.6,158.5L44.7,156.7M130.7,20.5L128.9,18.6L127.5,16.6L122.1,16.2M142.5,251.8L140.2,259.9L136.5,267.5L133.0,275.2M233.6,37.9L238.5,34.3L243.0,30.5L249.5,28.3M182.3,72.9L182.3,65.5L186.6,58.9L187.9,51.7M112.1,244.5L109.5,256.1L112.6,270.4L107.4,280.7M232.0,138.8L234.9,137.5L237.7,137.8L240.6,136.1M247.9,173.1L256.6,179.8L265.4,186.2L274.1,192.6M228.2,42.9L235.1,37.0L240.4,30.0L246.5,23.7M169.8,10.2L172.3,5.7L175.8,1.3L179.7,-3.0M100.4,174.0L95.0,177.2L89.5,180.1L84.0,183.1M120.9,50.8L116.4,46.8L109.7,44.4L108.5,38.2M112.4,173.2L109.8,174.1L109.2,178.0L107.2,179.8M107.4,34.4L103.7,29.2L98.7,24.8L96.5,18.5M113.8,77.3L110.5,71.9L106.7,66.9L104.5,60.5" stroke="#fff" stroke-opacity="0.2" stroke-width="2.4"/></g>
<g fill="none" stroke-linecap="round" stroke-linejoin="round" filter="url(#b1)"><path d="M220.9,175.4L229.5,182.4L237.7,190.0L245.0,198.5L253.9,205.2L260.5,214.6M175.2,230.8L174.5,243.8L177.9,256.6L179.3,269.5L177.3,282.6L180.5,295.4M217.8,196.9L223.8,205.8L228.4,215.8L233.1,225.7L235.9,236.7L239.2,247.3M212.4,220.7L217.3,237.1L222.2,253.4L226.9,269.8L231.3,286.2L230.6,304.5M167.6,233.2L167.1,247.5L167.9,261.9L169.1,276.2L170.3,290.6L172.2,304.9M129.6,253.3L123.2,271.1L113.9,287.9L105.6,305.0L95.6,321.4L88.1,338.8M233.1,214.9L240.7,226.5L247.2,238.9L255.2,250.2L261.1,263.0L270.3,273.4M208.4,251.4L212.8,262.3L215.3,273.9L213.9,286.6L218.2,297.7L218.3,309.9M222.3,236.9L229.4,252.5L238.8,266.9L246.6,282.1L253.7,297.7L261.7,312.8M219.0,177.7L224.3,183.4L230.0,188.7L236.0,193.8L240.3,200.6L244.7,207.3M208.8,212.3L214.3,221.7L219.7,231.1L223.8,241.2L232.2,249.1L237.3,258.7M213.9,193.0L223.8,206.4L233.9,219.7L245.2,232.0L255.6,245.0L268.6,256.0M197.4,251.0L200.6,262.6L202.5,274.5L201.4,287.0L202.2,299.1L201.5,311.4M172.9,248.7L171.4,256.8L170.9,265.0L168.1,273.2L165.7,281.3L161.9,289.3M168.2,247.1L167.1,256.3L168.2,265.5L164.5,274.5L161.0,283.5L160.4,292.6M228.2,213.3L235.6,221.1L242.8,229.1L249.8,237.3L256.6,245.6L262.9,254.3M219.2,242.6L223.0,248.4L226.8,254.2L229.8,260.4L236.4,264.8L241.8,269.7M231.3,186.1L238.9,192.4L246.0,199.3L252.9,206.3L261.3,211.7L267.8,219.3M186.6,240.3L189.0,256.3L193.7,271.8L199.0,287.2L205.2,302.4L209.2,318.0M218.2,196.9L225.9,207.4L232.0,219.2L239.2,230.1L244.3,242.5L247.9,255.8M189.5,232.4L189.9,243.9L192.6,254.9L190.0,266.9L190.3,278.3L190.4,289.7M128.8,243.8L125.5,249.8L126.5,257.5L125.9,264.5L124.6,271.2L125.4,278.6M212.1,237.2L215.2,248.6L222.1,258.5L228.5,268.5L235.8,278.0L243.1,287.6M140.4,251.9L137.3,267.0L131.6,281.5L131.9,297.5L127.6,312.4L124.2,327.5M216.8,223.4L221.0,234.1L226.8,244.0L227.8,256.3L230.6,267.6L231.9,279.5M151.5,252.0L149.7,269.7L145.4,287.1L139.9,304.3L136.0,321.7L131.6,339.0M189.3,258.9L193.4,275.7L197.7,292.6L200.9,309.6L210.0,325.5L218.5,341.3M219.7,213.7L227.7,226.1L236.0,238.2L242.9,251.2L254.0,261.6L261.5,274.3M235.0,202.1L241.8,208.7L247.7,216.2L251.7,225.4L257.2,233.1L262.0,241.5M220.1,238.7L227.1,248.9L232.8,259.8L241.8,268.9L250.0,278.4L262.2,285.5M169.2,249.9L168.1,267.0L165.3,284.0L164.1,301.0L158.7,317.8L152.1,334.4M186.3,246.0L188.2,263.0L186.5,280.5L187.0,297.7L180.9,315.4L179.0,332.6M196.7,255.3L202.3,271.7L207.0,288.4L215.0,304.2L219.4,321.0L230.5,335.8M218.6,248.4L225.1,263.8L234.0,278.1L242.1,292.8L247.5,308.7L259.2,321.7M168.2,255.0L168.6,268.7L171.7,282.4L169.7,296.1L172.1,309.8L175.5,323.4M213.1,186.8L223.5,199.7L233.4,213.0L241.7,227.5L250.3,241.8L258.6,256.2M227.1,234.1L231.6,239.4L235.7,244.9L239.6,250.5L243.5,256.2L245.2,263.1M146.8,249.9L141.7,266.9L139.8,284.6L136.3,301.9L136.9,320.0L135.5,337.8M169.0,260.8L167.8,268.9L167.5,277.1L170.1,285.3L173.6,293.4L173.9,301.5M176.5,229.5L177.8,247.3L178.9,265.2L178.0,283.1L178.1,301.1L177.9,319.0M178.6,251.7L178.0,270.1L178.0,288.6L175.3,307.1L170.8,325.6L163.2,343.9M229.0,187.6L237.1,194.1L244.8,201.0L250.7,209.9L257.1,218.3L262.8,227.3M161.0,242.2L158.7,255.1L154.8,268.0L150.7,280.7L147.0,293.4L145.2,306.5M137.2,224.8L134.2,236.4L130.7,247.8L127.8,259.3L129.0,272.2L126.6,283.9M182.7,235.7L182.9,242.2L183.5,248.6L179.7,255.5L178.9,262.0L175.8,268.6M189.9,241.5L193.1,259.6L196.0,277.8L202.5,295.3L205.7,313.4L206.8,331.9" stroke="#000" stroke-opacity="0.10" stroke-width="2.2"/><path d="M222.6,174.4L231.2,181.4L239.4,188.9L246.7,197.5L255.6,204.2L262.2,213.6M176.9,229.8L176.2,242.8L179.6,255.6L181.0,268.5L179.0,281.6L182.2,294.4M219.5,195.9L225.5,204.8L230.1,214.8L234.8,224.6L237.6,235.7L240.9,246.3M214.1,219.7L219.0,236.1L223.9,252.4L228.6,268.7L233.0,285.2L232.3,303.5M169.3,232.2L168.8,246.5L169.6,260.9L170.8,275.2L172.0,289.6L173.9,303.9M131.3,252.3L124.9,270.1L115.6,286.9L107.3,304.0L97.3,320.4L89.8,337.8M234.8,213.9L242.4,225.5L248.9,237.9L256.9,249.2L262.8,262.0L272.0,272.4M210.1,250.3L214.5,261.3L217.0,272.9L215.6,285.6L219.9,296.6L220.0,308.8M224.0,235.9L231.1,251.5L240.5,265.8L248.3,281.1L255.4,296.6L263.4,311.8M220.7,176.7L226.0,182.4L231.7,187.7L237.7,192.7L242.0,199.6L246.4,206.3M210.5,211.2L216.0,220.7L221.4,230.1L225.5,240.2L233.9,248.1L239.0,257.7M215.6,191.9L225.5,205.4L235.6,218.7L246.9,231.0L257.3,244.0L270.3,255.0M199.1,250.0L202.3,261.5L204.2,273.4L203.1,286.0L203.9,298.0L203.2,310.4M174.6,247.6L173.1,255.8L172.6,264.0L169.8,272.1L167.4,280.2L163.6,288.3M169.9,246.1L168.8,255.3L169.9,264.4L166.2,273.5L162.7,282.5L162.1,291.6M229.9,212.3L237.3,220.1L244.5,228.1L251.5,236.3L258.3,244.6L264.6,253.3M220.9,241.6L224.7,247.4L228.5,253.2L231.5,259.4L238.1,263.7L243.5,268.7M233.0,185.1L240.6,191.4L247.7,198.3L254.6,205.3L263.0,210.6L269.5,218.3M188.3,239.3L190.7,255.2L195.4,270.8L200.7,286.2L206.9,301.4L210.9,317.0M219.9,195.9L227.6,206.4L233.7,218.2L240.9,229.1L246.0,241.4L249.6,254.7M191.2,231.4L191.6,242.9L194.3,253.9L191.7,265.8L192.0,277.3L192.1,288.7M130.5,242.8L127.2,248.8L128.2,256.5L127.6,263.5L126.3,270.2L127.1,277.6M213.8,236.2L216.9,247.6L223.8,257.4L230.2,267.4L237.5,277.0L244.8,286.5M142.1,250.9L139.0,266.0L133.3,280.5L133.6,296.5L129.3,311.4L125.9,326.5M218.5,222.4L222.7,233.1L228.5,243.0L229.5,255.3L232.3,266.6L233.6,278.5M153.2,250.9L151.4,268.7L147.1,286.1L141.6,303.2L137.7,320.7L133.3,338.0M191.0,257.8L195.1,274.7L199.4,291.5L202.6,308.6L211.7,324.4L220.2,340.3M221.4,212.7L229.4,225.0L237.7,237.2L244.6,250.2L255.7,260.6L263.2,273.3M236.7,201.1L243.5,207.6L249.4,215.2L253.4,224.4L258.9,232.1L263.7,240.5M221.8,237.7L228.8,247.9L234.5,258.7L243.5,267.9L251.7,277.4L263.9,284.5M170.9,248.9L169.8,265.9L167.0,282.9L165.8,300.0L160.4,316.8L153.8,333.4M188.0,245.0L189.9,262.0L188.2,279.5L188.7,296.7L182.6,314.4L180.7,331.6M198.4,254.2L204.0,270.7L208.7,287.4L216.7,303.2L221.1,319.9L232.2,334.8M220.3,247.4L226.8,262.8L235.7,277.1L243.8,291.8L249.2,307.7L260.9,320.7M169.9,254.0L170.3,267.7L173.4,281.4L171.4,295.1L173.8,308.7L177.2,322.4M214.8,185.8L225.2,198.7L235.1,212.0L243.4,226.5L252.0,240.8L260.3,255.2M228.8,233.1L233.3,238.4L237.4,243.9L241.3,249.5L245.2,255.2L246.9,262.1M148.5,248.9L143.4,265.9L141.5,283.6L138.0,300.9L138.6,319.0L137.2,336.7M170.7,259.8L169.5,267.9L169.2,276.1L171.8,284.2L175.3,292.3L175.6,300.5M178.2,228.5L179.5,246.3L180.6,264.2L179.7,282.1L179.8,300.0L179.6,317.9M180.3,250.6L179.7,269.1L179.7,287.6L177.0,306.1L172.5,324.6L164.9,342.9M230.7,186.6L238.8,193.1L246.5,200.0L252.4,208.9L258.8,217.3L264.5,226.3M162.7,241.1L160.4,254.1L156.5,266.9L152.4,279.7L148.7,292.4L146.9,305.4M138.9,223.8L135.9,235.4L132.4,246.8L129.5,258.3L130.7,271.2L128.3,282.9M184.4,234.6L184.6,241.1L185.2,247.6L181.4,254.4L180.6,261.0L177.5,267.6M191.6,240.5L194.8,258.6L197.7,276.8L204.2,294.2L207.4,312.4L208.5,330.9" stroke="#fff" stroke-opacity="0.22" stroke-width="2.0"/></g>
<g fill="none" stroke-linecap="round" stroke-linejoin="round" filter="url(#b1)"><path d="M156.1,49.1L156.0,41.2L154.7,33.5L156.4,25.3L158.8,17.2L159.9,9.3M245.8,84.2L251.3,77.7L256.9,71.3L263.2,66.0L268.2,58.9L272.3,51.0M223.8,100.3L228.2,95.1L233.1,90.7L237.4,85.7L241.7,80.5L245.6,75.0M182.2,72.1L185.4,64.8L188.0,57.3L191.0,49.9L194.9,42.8L199.8,36.1M201.5,77.9L206.0,71.3L208.3,63.5L210.6,55.7L213.9,48.4L216.9,41.0M196.9,55.3L197.0,48.5L198.2,42.0L198.5,35.3L197.4,28.2L195.8,21.1M138.9,14.9L138.9,4.5L138.3,-5.8L138.1,-16.1L139.3,-26.7L141.7,-37.4M173.3,56.5L172.5,46.1L172.0,35.8L171.4,25.4L169.2,15.1L165.3,4.9M174.0,73.1L175.6,67.0L176.8,60.9L178.0,54.9L182.0,49.1L185.1,43.4M189.4,78.9L191.1,71.2L193.9,63.8L195.8,56.1L195.2,47.6L196.9,39.8M206.8,69.3L210.8,58.5L217.8,49.2L221.0,38.0L225.2,27.3L232.1,17.9M221.8,70.1L228.6,62.0L236.1,54.5L242.4,45.9L246.7,35.8L253.0,27.3M199.2,47.6L202.3,42.3L204.3,36.6L207.7,31.4L213.6,27.2L217.0,22.0M246.8,87.0L255.9,81.6L263.2,73.6L270.1,65.0L277.3,57.0L285.4,50.2M226.0,100.4L232.6,96.0L240.4,93.6L247.3,89.6L254.3,86.0L261.4,82.4M204.4,56.1L207.0,49.5L207.4,42.0L208.5,34.9L209.3,27.6L208.7,19.9M161.4,52.0L160.8,44.7L158.7,37.7L158.1,30.5L154.2,23.7L152.9,16.5M217.9,88.4L223.0,83.8L227.5,78.5L233.2,74.5L238.8,70.3L243.6,65.3M177.6,36.4L177.4,28.6L181.0,21.1L183.4,13.5L189.4,6.5L193.2,-0.8M152.8,19.7L149.9,9.2L151.7,-2.0L148.5,-12.4L148.7,-23.3L148.1,-34.2M189.7,81.8L194.3,71.4L198.3,60.8L202.1,50.1L206.5,39.6L209.1,28.4M159.4,46.2L158.5,36.6L158.3,27.0L158.9,17.3L159.6,7.6L159.2,-2.0M199.9,75.0L202.0,68.9L205.7,63.5L208.9,57.9L212.4,52.5L216.3,47.3M205.7,87.8L211.7,80.2L216.5,71.7L222.6,64.1L228.3,56.3L231.5,46.6M232.9,78.9L239.6,73.7L247.9,70.4L254.5,65.2L261.2,60.1L268.8,56.1M195.0,61.3L197.9,49.7L200.9,38.1L204.1,26.6L203.4,13.9L206.5,2.4" stroke="#000" stroke-opacity="0.09" stroke-width="2.0"/><path d="M157.6,48.2L157.5,40.3L156.2,32.6L157.9,24.4L160.3,16.3L161.4,8.4M247.3,83.3L252.8,76.8L258.4,70.4L264.7,65.1L269.7,58.0L273.8,50.1M225.3,99.4L229.7,94.2L234.6,89.8L238.9,84.8L243.2,79.6L247.1,74.1M183.7,71.2L186.9,63.9L189.5,56.4L192.5,49.0L196.4,41.9L201.3,35.2M203.0,77.0L207.5,70.4L209.8,62.6L212.1,54.8L215.4,47.5L218.4,40.1M198.4,54.4L198.5,47.6L199.7,41.1L200.0,34.4L198.9,27.3L197.3,20.2M140.4,14.0L140.4,3.6L139.8,-6.7L139.6,-17.0L140.8,-27.6L143.2,-38.3M174.8,55.6L174.0,45.2L173.5,34.9L172.9,24.5L170.7,14.2L166.8,4.0M175.5,72.2L177.1,66.1L178.3,60.0L179.5,54.0L183.5,48.2L186.6,42.5M190.9,78.0L192.6,70.3L195.4,62.9L197.3,55.2L196.7,46.7L198.4,38.9M208.3,68.4L212.3,57.6L219.3,48.3L222.5,37.1L226.7,26.4L233.6,17.0M223.3,69.2L230.1,61.1L237.6,53.6L243.9,45.0L248.2,34.9L254.5,26.4M200.7,46.7L203.8,41.4L205.8,35.7L209.2,30.5L215.1,26.3L218.5,21.1M248.3,86.1L257.4,80.7L264.7,72.7L271.6,64.1L278.8,56.1L286.9,49.3M227.5,99.5L234.1,95.1L241.9,92.7L248.8,88.7L255.8,85.1L262.9,81.5M205.9,55.2L208.5,48.6L208.9,41.1L210.0,34.0L210.8,26.7L210.2,19.0M162.9,51.1L162.3,43.8L160.2,36.8L159.6,29.6L155.7,22.8L154.4,15.6M219.4,87.5L224.5,82.9L229.0,77.6L234.7,73.6L240.3,69.4L245.1,64.4M179.1,35.5L178.9,27.7L182.5,20.2L184.9,12.6L190.9,5.6L194.7,-1.7M154.3,18.8L151.4,8.3L153.2,-2.9L150.0,-13.3L150.2,-24.2L149.6,-35.1M191.2,80.9L195.8,70.5L199.8,59.9L203.6,49.2L208.0,38.7L210.6,27.5M160.9,45.3L160.0,35.7L159.8,26.1L160.4,16.4L161.1,6.7L160.7,-2.9M201.4,74.1L203.5,68.0L207.2,62.6L210.4,57.0L213.9,51.6L217.8,46.4M207.2,86.9L213.2,79.3L218.0,70.8L224.1,63.2L229.8,55.4L233.0,45.7M234.4,78.0L241.1,72.8L249.4,69.5L256.0,64.3L262.7,59.2L270.3,55.2M196.5,60.4L199.4,48.8L202.4,37.2L205.6,25.7L204.9,13.0L208.0,1.5" stroke="#fff" stroke-opacity="0.22" stroke-width="1.8"/></g>
<g filter="url(#b05)"><g fill="#000" fill-opacity="0.18"><circle cx="309.9" cy="157.4" r="1.9"/><circle cx="325.4" cy="176.3" r="1.3"/><circle cx="334.0" cy="168.8" r="0.8"/><circle cx="294.7" cy="178.9" r="1.4"/><circle cx="247.0" cy="158.5" r="1.9"/><circle cx="335.1" cy="191.6" r="0.9"/><circle cx="310.5" cy="173.5" r="1.8"/><circle cx="272.0" cy="183.4" r="1.8"/><circle cx="286.0" cy="158.5" r="1.6"/><circle cx="278.8" cy="153.4" r="2.0"/><circle cx="337.6" cy="190.8" r="0.9"/><circle cx="266.8" cy="159.0" r="1.5"/><circle cx="241.2" cy="143.3" r="1.1"/><circle cx="324.1" cy="181.1" r="1.3"/><circle cx="342.9" cy="184.3" r="0.7"/><circle cx="325.3" cy="176.4" r="1.7"/><circle cx="282.7" cy="163.0" r="0.8"/><circle cx="269.2" cy="155.7" r="1.7"/><circle cx="351.6" cy="181.1" r="1.2"/><circle cx="301.0" cy="165.5" r="1.7"/><circle cx="330.9" cy="177.8" r="1.9"/><circle cx="247.1" cy="164.6" r="1.9"/><circle cx="290.9" cy="157.6" r="1.1"/><circle cx="280.0" cy="165.1" r="0.9"/><circle cx="323.7" cy="175.1" r="0.8"/><circle cx="341.1" cy="184.1" r="1.0"/><circle cx="312.5" cy="163.2" r="1.2"/><circle cx="252.3" cy="151.5" r="1.3"/><circle cx="343.7" cy="191.8" r="1.9"/><circle cx="312.8" cy="169.2" r="1.3"/><circle cx="264.5" cy="149.8" r="1.3"/><circle cx="366.0" cy="166.9" r="1.3"/><circle cx="295.4" cy="157.9" r="1.1"/><circle cx="292.5" cy="172.5" r="2.0"/><circle cx="339.7" cy="177.5" r="1.1"/><circle cx="251.4" cy="169.7" r="1.8"/><circle cx="286.3" cy="148.7" r="1.6"/><circle cx="315.8" cy="166.2" r="1.6"/><circle cx="258.9" cy="162.3" r="1.6"/><circle cx="288.0" cy="156.9" r="1.5"/><circle cx="238.9" cy="149.2" r="1.6"/><circle cx="299.0" cy="155.7" r="1.7"/><circle cx="272.2" cy="151.8" r="1.8"/><circle cx="291.7" cy="148.2" r="1.6"/><circle cx="359.2" cy="182.9" r="1.4"/><circle cx="273.1" cy="138.5" r="1.3"/><circle cx="315.8" cy="161.0" r="0.9"/><circle cx="316.2" cy="172.2" r="1.2"/><circle cx="312.9" cy="160.6" r="1.6"/><circle cx="252.4" cy="160.0" r="1.5"/><circle cx="263.1" cy="146.6" r="0.8"/><circle cx="295.5" cy="170.4" r="0.9"/><circle cx="281.0" cy="167.2" r="0.7"/><circle cx="285.0" cy="175.9" r="1.5"/><circle cx="270.1" cy="159.0" r="1.2"/><circle cx="270.2" cy="163.3" r="1.8"/><circle cx="296.7" cy="166.7" r="0.8"/><circle cx="296.0" cy="180.6" r="1.9"/><circle cx="317.4" cy="188.3" r="1.5"/><circle cx="291.4" cy="173.5" r="1.4"/><circle cx="351.9" cy="157.3" r="1.1"/><circle cx="342.9" cy="157.3" r="1.3"/><circle cx="333.1" cy="156.2" r="1.7"/><circle cx="311.8" cy="142.6" r="1.0"/><circle cx="329.9" cy="172.2" r="1.7"/><circle cx="325.0" cy="167.4" r="1.2"/><circle cx="309.6" cy="160.2" r="1.2"/><circle cx="308.7" cy="138.4" r="1.4"/><circle cx="315.9" cy="154.8" r="1.6"/><circle cx="294.2" cy="128.1" r="1.7"/><circle cx="334.9" cy="159.0" r="0.9"/><circle cx="341.3" cy="169.5" r="1.2"/><circle cx="319.4" cy="142.0" r="0.8"/><circle cx="331.0" cy="161.1" r="1.1"/><circle cx="305.1" cy="136.6" r="1.1"/><circle cx="331.4" cy="151.3" r="1.0"/><circle cx="332.5" cy="135.9" r="1.3"/><circle cx="301.3" cy="121.9" r="1.3"/><circle cx="325.6" cy="145.6" r="1.7"/><circle cx="306.2" cy="149.4" r="0.9"/><circle cx="358.0" cy="25.3" r="1.7"/><circle cx="379.5" cy="41.2" r="1.6"/><circle cx="409.0" cy="51.5" r="1.4"/><circle cx="369.1" cy="37.7" r="1.4"/><circle cx="401.0" cy="43.8" r="1.7"/><circle cx="392.5" cy="38.8" r="1.6"/><circle cx="422.0" cy="44.7" r="0.8"/><circle cx="399.7" cy="54.7" r="1.8"/><circle cx="392.5" cy="44.3" r="1.8"/><circle cx="338.6" cy="18.2" r="0.9"/><circle cx="385.2" cy="37.3" r="1.2"/><circle cx="350.6" cy="26.8" r="1.6"/><circle cx="406.7" cy="49.7" r="1.1"/><circle cx="358.2" cy="37.0" r="1.1"/><circle cx="336.8" cy="17.3" r="1.5"/><circle cx="381.9" cy="27.3" r="1.4"/><circle cx="347.4" cy="25.2" r="1.6"/><circle cx="377.6" cy="38.4" r="1.1"/><circle cx="395.6" cy="52.0" r="1.5"/><circle cx="339.0" cy="19.1" r="0.8"/><circle cx="380.2" cy="53.9" r="1.3"/><circle cx="359.1" cy="26.8" r="1.6"/><circle cx="351.2" cy="40.1" r="1.5"/><circle cx="369.0" cy="42.4" r="1.5"/><circle cx="404.0" cy="50.8" r="1.1"/><circle cx="345.9" cy="37.2" r="1.1"/><circle cx="374.3" cy="43.2" r="1.5"/><circle cx="378.6" cy="47.9" r="1.3"/><circle cx="365.6" cy="28.8" r="1.2"/><circle cx="347.8" cy="24.1" r="0.7"/><circle cx="386.2" cy="44.4" r="0.7"/><circle cx="379.3" cy="24.4" r="1.2"/><circle cx="373.7" cy="35.1" r="0.9"/><circle cx="348.7" cy="42.0" r="0.9"/><circle cx="352.6" cy="32.1" r="1.0"/><circle cx="349.4" cy="27.0" r="1.8"/><circle cx="374.6" cy="24.8" r="1.5"/><circle cx="373.9" cy="31.0" r="1.5"/><circle cx="353.7" cy="171.9" r="0.8"/><circle cx="359.3" cy="176.9" r="0.7"/><circle cx="364.3" cy="181.7" r="0.9"/><circle cx="359.0" cy="192.6" r="1.3"/><circle cx="354.9" cy="183.1" r="1.5"/><circle cx="352.3" cy="195.4" r="0.6"/><circle cx="353.8" cy="167.1" r="0.6"/><circle cx="368.5" cy="186.5" r="1.0"/><circle cx="363.0" cy="178.0" r="1.1"/><circle cx="373.9" cy="199.6" r="0.7"/><circle cx="363.0" cy="183.8" r="1.0"/><circle cx="358.6" cy="180.4" r="1.6"/><circle cx="350.0" cy="175.7" r="1.1"/><circle cx="352.2" cy="175.3" r="1.1"/></g><g fill="#fff" fill-opacity="0.44"><circle cx="311.6" cy="155.6" r="1.9"/><circle cx="326.6" cy="175.1" r="1.3"/><circle cx="334.8" cy="168.0" r="0.8"/><circle cx="296.0" cy="177.6" r="1.4"/><circle cx="248.7" cy="156.8" r="1.9"/><circle cx="335.9" cy="190.8" r="0.9"/><circle cx="312.2" cy="171.9" r="1.8"/><circle cx="273.7" cy="181.8" r="1.8"/><circle cx="287.5" cy="157.1" r="1.6"/><circle cx="280.5" cy="151.6" r="2.0"/><circle cx="338.4" cy="189.9" r="0.9"/><circle cx="268.2" cy="157.7" r="1.5"/><circle cx="242.2" cy="142.3" r="1.1"/><circle cx="325.3" cy="179.9" r="1.3"/><circle cx="343.6" cy="183.7" r="0.7"/><circle cx="326.9" cy="174.9" r="1.7"/><circle cx="283.4" cy="162.3" r="0.8"/><circle cx="270.8" cy="154.2" r="1.7"/><circle cx="352.7" cy="180.1" r="1.2"/><circle cx="302.5" cy="164.0" r="1.7"/><circle cx="332.6" cy="176.0" r="1.9"/><circle cx="248.8" cy="162.9" r="1.9"/><circle cx="291.9" cy="156.6" r="1.1"/><circle cx="280.9" cy="164.3" r="0.9"/><circle cx="324.4" cy="174.4" r="0.8"/><circle cx="342.0" cy="183.2" r="1.0"/><circle cx="313.6" cy="162.1" r="1.2"/><circle cx="253.5" cy="150.3" r="1.3"/><circle cx="345.4" cy="190.1" r="1.9"/><circle cx="314.0" cy="168.0" r="1.3"/><circle cx="265.7" cy="148.6" r="1.3"/><circle cx="367.2" cy="165.8" r="1.3"/><circle cx="296.3" cy="156.9" r="1.1"/><circle cx="294.3" cy="170.7" r="2.0"/><circle cx="340.8" cy="176.5" r="1.1"/><circle cx="253.1" cy="168.0" r="1.8"/><circle cx="287.8" cy="147.2" r="1.6"/><circle cx="317.2" cy="164.7" r="1.6"/><circle cx="260.3" cy="160.9" r="1.6"/><circle cx="289.3" cy="155.6" r="1.5"/><circle cx="240.3" cy="147.8" r="1.6"/><circle cx="300.5" cy="154.1" r="1.7"/><circle cx="273.8" cy="150.2" r="1.8"/><circle cx="293.1" cy="146.8" r="1.6"/><circle cx="360.5" cy="181.7" r="1.4"/><circle cx="274.3" cy="137.3" r="1.3"/><circle cx="316.6" cy="160.2" r="0.9"/><circle cx="317.4" cy="171.1" r="1.2"/><circle cx="314.4" cy="159.1" r="1.6"/><circle cx="253.8" cy="158.6" r="1.5"/><circle cx="263.8" cy="145.9" r="0.8"/><circle cx="296.3" cy="169.6" r="0.9"/><circle cx="281.7" cy="166.5" r="0.7"/><circle cx="286.3" cy="174.6" r="1.5"/><circle cx="271.2" cy="157.9" r="1.2"/><circle cx="271.8" cy="161.7" r="1.8"/><circle cx="297.4" cy="165.9" r="0.8"/><circle cx="297.8" cy="178.9" r="1.9"/><circle cx="318.8" cy="186.9" r="1.5"/><circle cx="292.7" cy="172.2" r="1.4"/><circle cx="352.9" cy="156.3" r="1.1"/><circle cx="344.1" cy="156.1" r="1.3"/><circle cx="334.6" cy="154.6" r="1.7"/><circle cx="312.8" cy="141.7" r="1.0"/><circle cx="331.5" cy="170.7" r="1.7"/><circle cx="326.1" cy="166.2" r="1.2"/><circle cx="310.7" cy="159.1" r="1.2"/><circle cx="309.9" cy="137.1" r="1.4"/><circle cx="317.3" cy="153.3" r="1.6"/><circle cx="295.8" cy="126.6" r="1.7"/><circle cx="335.7" cy="158.2" r="0.9"/><circle cx="342.4" cy="168.4" r="1.2"/><circle cx="320.2" cy="141.3" r="0.8"/><circle cx="331.9" cy="160.1" r="1.1"/><circle cx="306.1" cy="135.6" r="1.1"/><circle cx="332.3" cy="150.4" r="1.0"/><circle cx="333.7" cy="134.7" r="1.3"/><circle cx="302.5" cy="120.7" r="1.3"/><circle cx="327.1" cy="144.1" r="1.7"/><circle cx="307.1" cy="148.6" r="0.9"/><circle cx="359.5" cy="23.8" r="1.7"/><circle cx="381.0" cy="39.7" r="1.6"/><circle cx="410.3" cy="50.2" r="1.4"/><circle cx="370.4" cy="36.4" r="1.4"/><circle cx="402.5" cy="42.3" r="1.7"/><circle cx="394.0" cy="37.4" r="1.6"/><circle cx="422.7" cy="44.0" r="0.8"/><circle cx="401.4" cy="53.0" r="1.8"/><circle cx="394.1" cy="42.7" r="1.8"/><circle cx="339.4" cy="17.4" r="0.9"/><circle cx="386.3" cy="36.3" r="1.2"/><circle cx="352.1" cy="25.3" r="1.6"/><circle cx="407.7" cy="48.7" r="1.1"/><circle cx="359.3" cy="35.9" r="1.1"/><circle cx="338.1" cy="15.9" r="1.5"/><circle cx="383.2" cy="26.0" r="1.4"/><circle cx="348.9" cy="23.7" r="1.6"/><circle cx="378.6" cy="37.4" r="1.1"/><circle cx="397.0" cy="50.7" r="1.5"/><circle cx="339.8" cy="18.4" r="0.8"/><circle cx="381.4" cy="52.7" r="1.3"/><circle cx="360.5" cy="25.3" r="1.6"/><circle cx="352.6" cy="38.7" r="1.5"/><circle cx="370.3" cy="41.1" r="1.5"/><circle cx="405.0" cy="49.8" r="1.1"/><circle cx="346.9" cy="36.2" r="1.1"/><circle cx="375.6" cy="41.9" r="1.5"/><circle cx="379.8" cy="46.7" r="1.3"/><circle cx="366.7" cy="27.8" r="1.2"/><circle cx="348.5" cy="23.4" r="0.7"/><circle cx="386.9" cy="43.8" r="0.7"/><circle cx="380.4" cy="23.3" r="1.2"/><circle cx="374.5" cy="34.3" r="0.9"/><circle cx="349.5" cy="41.2" r="0.9"/><circle cx="353.6" cy="31.2" r="1.0"/><circle cx="351.1" cy="25.4" r="1.8"/><circle cx="376.0" cy="23.4" r="1.5"/><circle cx="375.2" cy="29.7" r="1.5"/><circle cx="354.4" cy="171.2" r="0.8"/><circle cx="359.9" cy="176.3" r="0.7"/><circle cx="365.1" cy="180.9" r="0.9"/><circle cx="360.2" cy="191.5" r="1.3"/><circle cx="356.3" cy="181.7" r="1.5"/><circle cx="352.8" cy="194.9" r="0.6"/><circle cx="354.4" cy="166.5" r="0.6"/><circle cx="369.4" cy="185.7" r="1.0"/><circle cx="364.0" cy="177.0" r="1.1"/><circle cx="374.5" cy="199.0" r="0.7"/><circle cx="363.9" cy="182.9" r="1.0"/><circle cx="360.1" cy="179.0" r="1.6"/><circle cx="351.0" cy="174.7" r="1.1"/><circle cx="353.2" cy="174.3" r="1.1"/></g></g>
<g style="mix-blend-mode:overlay" opacity="0.13"><rect x="74.5" y="16.5" width="454.5" height="339.0" filter="url(#grain)"/></g>
<path d="M111.5,44 L124.5,41.5 L139.8,43.5 L151,48.5 L147,54 L135,51 L125,53 L117,60 L114,70 L113,80 L115,90 L121,98 L114.5,96.5 L107.5,90 L104.3,79.8 L104.3,66.7 L107.3,54.5Z" fill="#c4c4c4" filter="url(#b1)"/>
<path d="M114.0,70.0C114.7,66.7 115.2,62.8 117.0,60.0C118.8,57.2 122.0,54.5 125.0,53.0C128.0,51.5 131.3,50.8 135.0,51.0C138.7,51.2 143.3,52.5 147.0,54.0C150.7,55.5 154.0,57.7 157.0,60.0C160.0,62.3 162.3,65.2 165.0,68.0C167.7,70.8 170.3,74.5 173.0,77.0C175.7,79.5 178.0,81.2 181.0,83.0C184.0,84.8 187.0,85.8 191.0,88.0C195.0,90.2 201.3,93.0 205.0,96.0C208.7,99.0 210.5,102.3 213.0,106.0C215.5,109.7 218.0,114.0 220.0,118.0C222.0,122.0 224.0,124.7 225.0,130.0C226.0,135.3 226.2,145.0 226.0,150.0C225.8,155.0 225.7,157.0 224.0,160.0C222.3,163.0 218.3,165.3 216.0,168.0C213.7,170.7 211.7,173.3 210.0,176.0C208.3,178.7 206.5,181.0 206.0,184.0C205.5,187.0 206.5,191.0 207.0,194.0C207.5,197.0 209.2,199.3 209.0,202.0C208.8,204.7 207.8,207.7 206.0,210.0C204.2,212.3 201.0,214.3 198.0,216.0C195.0,217.7 191.7,219.1 188.0,220.0C184.3,220.9 180.3,221.5 176.0,221.5C171.7,221.5 166.2,220.6 162.0,220.0C157.8,219.4 154.5,219.7 151.0,218.0C147.5,216.3 144.0,213.0 141.0,210.0C138.0,207.0 135.3,203.7 133.0,200.0C130.7,196.3 128.7,191.7 127.0,188.0C125.3,184.3 124.3,181.3 123.0,178.0C121.7,174.7 120.0,171.3 119.0,168.0C118.0,164.7 117.2,161.3 117.0,158.0C116.8,154.7 117.0,151.0 118.0,148.0C119.0,145.0 121.5,142.7 123.0,140.0C124.5,137.3 125.7,134.7 127.0,132.0C128.3,129.3 130.3,126.7 131.0,124.0C131.7,121.3 131.7,119.0 131.0,116.0C130.3,113.0 128.7,109.0 127.0,106.0C125.3,103.0 123.0,100.7 121.0,98.0C119.0,95.3 116.3,93.0 115.0,90.0C113.7,87.0 113.2,83.3 113.0,80.0C112.8,76.7 113.3,73.3 114.0,70.0Z" fill="none" stroke="#7c7c7c" stroke-width="5" filter="url(#b2)" opacity="0.7" transform="translate(-3,1.5)"/>
<path d="M114.0,70.0C114.7,66.7 115.2,62.8 117.0,60.0C118.8,57.2 122.0,54.5 125.0,53.0C128.0,51.5 131.3,50.8 135.0,51.0C138.7,51.2 143.3,52.5 147.0,54.0C150.7,55.5 154.0,57.7 157.0,60.0C160.0,62.3 162.3,65.2 165.0,68.0C167.7,70.8 170.3,74.5 173.0,77.0C175.7,79.5 178.0,81.2 181.0,83.0C184.0,84.8 187.0,85.8 191.0,88.0C195.0,90.2 201.3,93.0 205.0,96.0C208.7,99.0 210.5,102.3 213.0,106.0C215.5,109.7 218.0,114.0 220.0,118.0C222.0,122.0 224.0,124.7 225.0,130.0C226.0,135.3 226.2,145.0 226.0,150.0C225.8,155.0 225.7,157.0 224.0,160.0C222.3,163.0 218.3,165.3 216.0,168.0C213.7,170.7 211.7,173.3 210.0,176.0C208.3,178.7 206.5,181.0 206.0,184.0C205.5,187.0 206.5,191.0 207.0,194.0C207.5,197.0 209.2,199.3 209.0,202.0C208.8,204.7 207.8,207.7 206.0,210.0C204.2,212.3 201.0,214.3 198.0,216.0C195.0,217.7 191.7,219.1 188.0,220.0C184.3,220.9 180.3,221.5 176.0,221.5C171.7,221.5 166.2,220.6 162.0,220.0C157.8,219.4 154.5,219.7 151.0,218.0C147.5,216.3 144.0,213.0 141.0,210.0C138.0,207.0 135.3,203.7 133.0,200.0C130.7,196.3 128.7,191.7 127.0,188.0C125.3,184.3 124.3,181.3 123.0,178.0C121.7,174.7 120.0,171.3 119.0,168.0C118.0,164.7 117.2,161.3 117.0,158.0C116.8,154.7 117.0,151.0 118.0,148.0C119.0,145.0 121.5,142.7 123.0,140.0C124.5,137.3 125.7,134.7 127.0,132.0C128.3,129.3 130.3,126.7 131.0,124.0C131.7,121.3 131.7,119.0 131.0,116.0C130.3,113.0 128.7,109.0 127.0,106.0C125.3,103.0 123.0,100.7 121.0,98.0C119.0,95.3 116.3,93.0 115.0,90.0C113.7,87.0 113.2,83.3 113.0,80.0C112.8,76.7 113.3,73.3 114.0,70.0Z" fill="none" stroke="#e4e4e4" stroke-width="6" filter="url(#b2)" opacity="0.9" transform="translate(3,-2.5)"/>
<path d="M113.0,80.0C113.3,81.7 113.7,87.0 115.0,90.0C116.3,93.0 119.0,95.3 121.0,98.0C123.0,100.7 125.3,103.0 127.0,106.0C128.7,109.0 130.3,113.0 131.0,116.0C131.7,119.0 131.7,121.3 131.0,124.0C130.3,126.7 128.3,129.3 127.0,132.0C125.7,134.7 124.5,137.3 123.0,140.0C121.5,142.7 119.0,145.0 118.0,148.0C117.0,151.0 116.8,154.7 117.0,158.0C117.2,161.3 118.0,164.7 119.0,168.0C120.0,171.3 121.7,174.7 123.0,178.0C124.3,181.3 125.3,184.3 127.0,188.0C128.7,191.7 130.7,196.3 133.0,200.0C135.3,203.7 138.0,207.0 141.0,210.0C144.0,213.0 149.3,216.7 151.0,218.0" fill="none" stroke="#707070" stroke-width="3" filter="url(#b1)" opacity="0.8" transform="translate(-2,0.8)"/>
<path d="M135.0,51.0C137.0,51.5 143.3,52.5 147.0,54.0C150.7,55.5 154.0,57.7 157.0,60.0C160.0,62.3 162.3,65.2 165.0,68.0C167.7,70.8 170.3,74.5 173.0,77.0C175.7,79.5 178.0,81.2 181.0,83.0C184.0,84.8 187.0,85.8 191.0,88.0C195.0,90.2 201.3,93.0 205.0,96.0C208.7,99.0 210.5,102.3 213.0,106.0C215.5,109.7 218.0,114.0 220.0,118.0C222.0,122.0 224.0,124.7 225.0,130.0C226.0,135.3 226.2,145.0 226.0,150.0C225.8,155.0 224.3,158.3 224.0,160.0" fill="none" stroke="#f2f2f2" stroke-width="2.6" filter="url(#b05)" opacity="0.95" transform="translate(2.2,-2.2)"/>
<g clip-path="url(#lagclip)"><rect x="74.5" y="16.5" width="200" height="250" fill="#e1e1e1"/><g style="mix-blend-mode:overlay" opacity="0.28"><rect x="74.5" y="16.5" width="200" height="250" filter="url(#relief)"/></g></g>
<path d="M161.0,100.0 L165.0,101.0 L170.0,107.0 L173.0,113.0 L177.0,117.0 L183.0,117.0 L190.0,119.0 L198.0,121.0 L205.0,124.0 L207.0,128.0 L205.0,133.0 L200.0,137.0 L196.0,142.0 L194.0,148.0 L195.0,154.0 L197.0,160.0 L199.0,166.0 L197.0,172.0 L191.0,177.0 L188.0,182.0 L190.0,188.0 L194.0,192.0 L195.0,196.0 L191.0,198.0 L188.0,196.0 L185.0,199.0 L181.0,198.0 L178.0,200.0 L174.0,198.0 L171.0,194.0 L167.0,192.0 L163.0,190.0 L160.0,189.0 L162.0,186.0 L165.0,183.0 L163.0,179.0 L159.0,175.0 L157.0,171.0 L161.0,170.0 L165.0,172.0 L167.0,178.0 L171.0,180.0 L177.0,179.0 L179.0,175.0 L177.0,170.0 L173.0,165.0 L169.0,160.0 L166.0,155.0 L165.0,149.0 L166.0,142.0 L167.0,136.0 L165.0,131.0 L160.0,128.0 L154.0,126.0 L149.0,124.0 L147.0,121.0 L149.0,116.0 L151.0,111.0 L156.0,108.0 L159.0,104.0Z" fill="#fff"/>
<path d="M220.0,128.0 L223.6,129.0 L224.0,135.0 L221.6,140.0 L218.0,137.0 L217.6,132.0Z" fill="#fff"/>
<circle cx="143" cy="92" r="2" fill="#fff"/>
<path d="M433.6,21.5 L459.5,28.5 L452,66 L427,58Z" fill="#8c8c8c" opacity="0.3" filter="url(#b1)"/>
<path d="M486.8,42.7 L512.7,51.5 L508.6,68.6 L525.5,74.1 L519,98 L478,84Z" fill="#8c8c8c" opacity="0.3" filter="url(#b1)"/>
<path d="M403.6,16.5 L406.4,33.2 L430.9,40.5 L433.6,21.5 L459.5,28.5 L455.5,48.2 L482.7,57.7 L486.8,42.7 L512.7,51.5 L508.6,68.6 L525.5,74.1 L520.9,91.8 L514.0,113.6 L507.3,132.7 L498.7,151.0 L492.8,166.0 L487.0,181.0 L480.0,196.7 L488.0,183.4 L514.4,188.0 L505.5,207.5 L523.8,215.3 L518.3,230.0 L510.5,249.6 L502.6,266.2 L486.0,261.3 L484.0,277.5 L431.6,262.7 L416.2,301.7 L393.8,293.8 L383.9,313.0 L362.6,303.2 L369.0,286.5 L362.4,285.0 L362.4,356.0 L530.0,356.0 L530.0,16.5Z" fill="#fff"/>
<path d="M343.6,152.7C345.1,151.3 346.9,149.9 348.0,149.1C349.1,148.2 349.1,147.5 350.2,147.6C351.3,147.8 353.2,149.3 354.5,149.8C355.9,150.3 356.6,150.1 358.2,150.5C359.8,151.0 363.1,151.5 364.0,152.7C364.9,153.9 364.0,156.0 363.7,157.8C363.5,159.6 363.0,161.7 362.5,163.6C362.1,165.6 361.6,167.5 361.1,169.5C360.6,171.4 360.0,173.3 359.6,175.3C359.3,177.2 359.2,179.4 358.9,181.1C358.7,182.8 358.4,184.0 358.2,185.5C357.9,186.9 357.9,188.6 357.5,189.8C357.0,191.0 356.1,191.9 355.3,192.7C354.4,193.6 353.5,194.4 352.4,194.9C351.3,195.4 349.6,196.2 348.7,195.6C347.9,195.0 347.6,192.7 347.3,191.3C346.9,189.8 346.9,188.4 346.5,186.9C346.2,185.5 345.6,184.0 345.1,182.5C344.6,181.1 344.0,179.6 343.6,178.2C343.3,176.7 342.9,175.3 342.9,173.8C342.9,172.4 343.8,171.2 343.6,169.5C343.5,167.8 342.9,165.6 342.2,163.6C341.5,161.7 339.0,159.6 339.3,157.8C339.5,156.0 342.2,154.2 343.6,152.7Z" fill="#e86060" fill-opacity="0.62"/>
</g>
<rect x="74.5" y="16.5" width="454.5" height="339.0" fill="none" stroke="#1a1a1a" stroke-width="1"/>
<path d="M136,13.0V16.5 M136,355.5V359.0 M211.5,13.0V16.5 M211.5,355.5V359.0 M287,13.0V16.5 M287,355.5V359.0 M362.5,13.0V16.5 M362.5,355.5V359.0 M438,13.0V16.5 M438,355.5V359.0 M513.5,13.0V16.5 M513.5,355.5V359.0 M71.0,47H74.5 M529.0,47H532.5 M71.0,124H74.5 M529.0,124H532.5 M71.0,201.5H74.5 M529.0,201.5H532.5 M71.0,278.5H74.5 M529.0,278.5H532.5 M71.0,355.3H74.5 M529.0,355.3H532.5" stroke="#999" stroke-width="0.6" fill="none"/>
<text x="136.2" y="371.0" font-size="10.6" text-anchor="middle">45.00°</text>
<text x="211.7" y="371.0" font-size="10.6" text-anchor="middle">45.25°</text>
<text x="287.2" y="371.0" font-size="10.6" text-anchor="middle">45.50°</text>
<text x="362.7" y="371.0" font-size="10.6" text-anchor="middle">45.75°</text>
<text x="438.2" y="371.0" font-size="10.6" text-anchor="middle">46.00°</text>
<text x="513.7" y="371.0" font-size="10.6" text-anchor="middle">46.25°</text>
<text x="67" y="50.8" font-size="10.3" text-anchor="end">−12.50°</text>
<text x="67" y="127.8" font-size="10.3" text-anchor="end">−12.75°</text>
<text x="67" y="205.3" font-size="10.3" text-anchor="end">−13.00°</text>
<text x="67" y="282.3" font-size="10.3" text-anchor="end">−13.25°</text>
<text x="67" y="359.1" font-size="10.3" text-anchor="end">−13.50°</text>
<path d="M320.6,133.9 L326.8,140.1 L320.6,146.3 L314.4,140.1Z" fill="#f020f0" stroke="#b060b0" stroke-width="0.5"/>
<path d="M340.9,158.0 L347.1,164.2 L340.9,170.4 L334.7,164.2Z" fill="#9a30f0" stroke="#7050a0" stroke-width="0.5"/>
<path d="M350.3,168.4 L354.6,176.1 L346,176.1Z" fill="#ff0000"/>
<path d="M301.70,38.30 L302.89,41.96 L306.74,41.96 L303.63,44.23 L304.82,47.89 L301.70,45.62 L298.58,47.89 L299.77,44.23 L296.66,41.96 L300.51,41.96Z" fill="#000"/>
<rect x="285.0" y="50.7" width="33.9" height="8.2" fill="#f6f6f6"/>
<text x="302" y="57.3" font-size="7.8" font-weight="bold" text-anchor="middle">MAHY04</text>
<path d="M485.30,124.80 L486.49,128.46 L490.34,128.46 L487.23,130.73 L488.42,134.39 L485.30,132.12 L482.18,134.39 L483.37,130.73 L480.26,128.46 L484.11,128.46Z" fill="#000"/>
<rect x="468.3" y="137.0" width="33.8" height="8.0" fill="#f6f6f6"/>
<text x="485.2" y="143.6" font-size="7.8" font-weight="bold" text-anchor="middle">MAHY03</text>
<path d="M384.50,305.00 L385.69,308.66 L389.54,308.66 L386.43,310.93 L387.62,314.59 L384.50,312.32 L381.38,314.59 L382.57,310.93 L379.46,308.66 L383.31,308.66Z" fill="#000"/>
<rect x="367.5" y="317.1" width="34.4" height="8.2" fill="#e6e6e6"/>
<text x="384.7" y="323.9" font-size="7.8" font-weight="bold" text-anchor="middle">MAHY02</text>
<path d="M243.10,256.40 L244.29,260.06 L248.14,260.06 L245.03,262.33 L246.22,265.99 L243.10,263.72 L239.98,265.99 L241.17,262.33 L238.06,260.06 L241.91,260.06Z" fill="#000"/>
<rect x="226.5" y="268.5" width="33.0" height="8.1" fill="#f6f6f6"/>
<text x="243.0" y="275.3" font-size="7.8" font-weight="bold" text-anchor="middle">MAHY01</text>
<rect x="79.6" y="222.6" width="127.2" height="128.6" fill="#fff" stroke="#c8c8c8" stroke-width="0.6"/>
<path d="M79.6,310.4H206.8" stroke="#c8c8c8" stroke-width="0.6"/>
<path d="M87.70,229.30 L88.58,231.99 L91.41,231.99 L89.12,233.66 L89.99,236.36 L87.70,234.69 L85.41,236.36 L86.28,233.66 L83.99,231.99 L86.82,231.99Z" fill="#000"/>
<path d="M87.7,243.6 L91,249.4 L84.4,249.4Z" fill="#ff0000"/>
<path d="M85.2,256.2 L89.8,255.8 L90,259 L88.6,262 L88,265 L86.4,265 L86,261.5 L85,259Z" fill="#f4a8a8"/>
<path d="M87.7,273.2 L91.3,276.8 L87.7,280.4 L84.1,276.8Z" fill="#9a30f0"/>
<path d="M87.7,286.5 L91.3,290.1 L87.7,293.7 L84.1,290.1Z" fill="#f020f0"/>
<text x="96.1" y="236.3" font-size="9.53">Hydrophones</text>
<text x="96.1" y="249.6" font-size="9.53">Fani Maoré volcano</text>
<text x="96.1" y="264.0" font-size="9.53">Lava flow extent</text>
<text x="96.1" y="279.3" font-size="9.53">EQ hydroacoustique</text>
<text x="96.1" y="292.7" font-size="9.53">EQ seismicity catalog</text>
<text x="96.1" y="302.9" font-size="9.53">(Lavayssière et al., 2022)</text>
<rect x="101.7" y="316.3" width="83.4" height="3.1" fill="#fff" stroke="#000" stroke-width="0.4"/>
<rect x="101.7" y="316.3" width="13.9" height="3.1" fill="#000"/>
<rect x="129.5" y="316.3" width="13.9" height="3.1" fill="#000"/>
<rect x="157.3" y="316.3" width="13.9" height="3.1" fill="#000"/>
<text x="101.7" y="332.8" font-size="10.2" text-anchor="middle">0</text>
<text x="129.5" y="332.8" font-size="10.2" text-anchor="middle">10</text>
<text x="157.3" y="332.8" font-size="10.2" text-anchor="middle">20</text>
<text x="185.1" y="332.8" font-size="10.2" text-anchor="middle">30</text>
<text x="143.7" y="344.5" font-size="9.6" text-anchor="middle">km</text>
<text x="5.2" y="28.2" font-size="29.5">A</text>
<text x="4.0" y="403.4" font-size="29.5">B</text>
<g shape-rendering="crispEdges"><path fill="#6c1972" d="M208.3,492.2h2.1v2.1h-2.1zM220.2,492.2h2.1v2.1h-2.1zM186.4,494.2h2.1v2.1h-2.1zM252.1,494.2h2.1v2.1h-2.1zM266.1,496.1h2.1v2.1h-2.1zM174.4,500.1h2.1v2.1h-2.1z"/><path fill="#761d70" d="M66.8,492.2h2.1v2.1h-2.1zM80.8,492.2h2.1v2.1h-2.1zM142.6,492.2h2.1v2.1h-2.1zM150.5,492.2h2.1v2.1h-2.1zM158.5,492.2h4.1v2.1h-4.1zM178.4,492.2h2.1v2.1h-2.1zM184.4,492.2h2.1v2.1h-2.1zM238.2,492.2h2.1v2.1h-2.1zM268.1,492.2h2.1v2.1h-2.1zM58.9,494.2h2.1v2.1h-2.1zM116.7,494.2h2.1v2.1h-2.1zM194.3,494.2h2.1v2.1h-2.1zM242.2,494.2h2.1v2.1h-2.1zM70.8,496.1h2.1v2.1h-2.1zM132.6,496.1h2.1v2.1h-2.1zM248.1,496.1h2.1v2.1h-2.1zM62.9,498.1h2.1v2.1h-2.1zM168.4,498.1h2.1v2.1h-2.1zM182.4,498.1h2.1v2.1h-2.1zM242.2,498.1h2.1v2.1h-2.1zM248.1,498.1h2.1v2.1h-2.1zM88.8,500.1h2.1v2.1h-2.1zM108.7,500.1h2.1v2.1h-2.1zM114.7,500.1h2.1v2.1h-2.1zM238.2,500.1h2.1v2.1h-2.1zM264.1,500.1h2.1v2.1h-2.1zM174.4,504.0h2.1v2.1h-2.1zM264.1,504.0h2.1v2.1h-2.1zM204.3,506.0h2.1v2.1h-2.1z"/><path fill="#81206f" d="M58.9,492.2h4.1v2.1h-4.1zM64.9,492.2h2.1v2.1h-2.1zM74.8,492.2h2.1v2.1h-2.1zM98.7,492.2h2.1v2.1h-2.1zM108.7,492.2h2.1v2.1h-2.1zM126.6,492.2h6.1v2.1h-6.1zM146.5,492.2h2.1v2.1h-2.1zM152.5,492.2h2.1v2.1h-2.1zM170.4,492.2h2.1v2.1h-2.1zM176.4,492.2h2.1v2.1h-2.1zM180.4,492.2h2.1v2.1h-2.1zM188.4,492.2h2.1v2.1h-2.1zM204.3,492.2h2.1v2.1h-2.1zM214.3,492.2h2.1v2.1h-2.1zM218.3,492.2h2.1v2.1h-2.1zM224.2,492.2h4.1v2.1h-4.1zM242.2,492.2h2.1v2.1h-2.1zM246.1,492.2h6.1v2.1h-6.1zM256.1,492.2h2.1v2.1h-2.1zM260.1,492.2h2.1v2.1h-2.1zM264.1,492.2h2.1v2.1h-2.1zM272.0,492.2h4.1v2.1h-4.1zM54.9,494.2h2.1v2.1h-2.1zM74.8,494.2h2.1v2.1h-2.1zM94.7,494.2h2.1v2.1h-2.1zM104.7,494.2h2.1v2.1h-2.1zM112.7,494.2h2.1v2.1h-2.1zM118.6,494.2h2.1v2.1h-2.1zM132.6,494.2h4.1v2.1h-4.1zM142.6,494.2h2.1v2.1h-2.1zM148.5,494.2h2.1v2.1h-2.1zM152.5,494.2h2.1v2.1h-2.1zM164.5,494.2h2.1v2.1h-2.1zM168.4,494.2h2.1v2.1h-2.1zM174.4,494.2h2.1v2.1h-2.1zM188.4,494.2h2.1v2.1h-2.1zM198.3,494.2h4.1v2.1h-4.1zM208.3,494.2h2.1v2.1h-2.1zM220.2,494.2h2.1v2.1h-2.1zM240.2,494.2h2.1v2.1h-2.1zM250.1,494.2h2.1v2.1h-2.1zM270.1,494.2h2.1v2.1h-2.1zM274.0,494.2h2.1v2.1h-2.1zM282.0,494.2h2.1v2.1h-2.1zM72.8,496.1h2.1v2.1h-2.1zM78.8,496.1h2.1v2.1h-2.1zM90.8,496.1h2.1v2.1h-2.1zM156.5,496.1h2.1v2.1h-2.1zM166.5,496.1h2.1v2.1h-2.1zM182.4,496.1h2.1v2.1h-2.1zM200.3,496.1h4.1v2.1h-4.1zM212.3,496.1h2.1v2.1h-2.1zM224.2,496.1h2.1v2.1h-2.1zM270.1,496.1h2.1v2.1h-2.1zM56.9,498.1h2.1v2.1h-2.1zM66.8,498.1h2.1v2.1h-2.1zM78.8,498.1h2.1v2.1h-2.1zM88.8,498.1h2.1v2.1h-2.1zM94.7,498.1h2.1v2.1h-2.1zM122.6,498.1h4.1v2.1h-4.1zM132.6,498.1h2.1v2.1h-2.1zM138.6,498.1h2.1v2.1h-2.1zM142.6,498.1h2.1v2.1h-2.1zM152.5,498.1h2.1v2.1h-2.1zM158.5,498.1h2.1v2.1h-2.1zM184.4,498.1h2.1v2.1h-2.1zM190.4,498.1h2.1v2.1h-2.1zM194.3,498.1h2.1v2.1h-2.1zM214.3,498.1h2.1v2.1h-2.1zM230.2,498.1h2.1v2.1h-2.1zM246.1,498.1h2.1v2.1h-2.1zM258.1,498.1h2.1v2.1h-2.1zM82.8,500.1h2.1v2.1h-2.1zM94.7,500.1h2.1v2.1h-2.1zM132.6,500.1h2.1v2.1h-2.1zM142.6,500.1h4.1v2.1h-4.1zM156.5,500.1h4.1v2.1h-4.1zM162.5,500.1h2.1v2.1h-2.1zM192.4,500.1h2.1v2.1h-2.1zM196.3,500.1h2.1v2.1h-2.1zM204.3,500.1h2.1v2.1h-2.1zM210.3,500.1h2.1v2.1h-2.1zM218.3,500.1h2.1v2.1h-2.1zM226.2,500.1h2.1v2.1h-2.1zM230.2,500.1h2.1v2.1h-2.1zM252.1,500.1h2.1v2.1h-2.1zM274.0,500.1h2.1v2.1h-2.1zM60.9,502.0h2.1v2.1h-2.1zM70.8,502.0h2.1v2.1h-2.1zM94.7,502.0h2.1v2.1h-2.1zM104.7,502.0h2.1v2.1h-2.1zM160.5,502.0h4.1v2.1h-4.1zM170.4,502.0h2.1v2.1h-2.1zM208.3,502.0h4.1v2.1h-4.1zM218.3,502.0h2.1v2.1h-2.1zM224.2,502.0h2.1v2.1h-2.1zM228.2,502.0h2.1v2.1h-2.1zM254.1,502.0h2.1v2.1h-2.1zM274.0,502.0h2.1v2.1h-2.1zM278.0,502.0h2.1v2.1h-2.1zM52.9,504.0h4.1v2.1h-4.1zM90.8,504.0h2.1v2.1h-2.1zM94.7,504.0h2.1v2.1h-2.1zM106.7,504.0h2.1v2.1h-2.1zM116.7,504.0h2.1v2.1h-2.1zM158.5,504.0h2.1v2.1h-2.1zM190.4,504.0h4.1v2.1h-4.1zM244.2,504.0h2.1v2.1h-2.1zM254.1,504.0h2.1v2.1h-2.1zM266.1,504.0h2.1v2.1h-2.1zM270.1,504.0h2.1v2.1h-2.1zM112.7,506.0h2.1v2.1h-2.1zM130.6,506.0h2.1v2.1h-2.1zM190.4,506.0h2.1v2.1h-2.1zM220.2,506.0h2.1v2.1h-2.1zM236.2,506.0h2.1v2.1h-2.1zM272.0,506.0h2.1v2.1h-2.1zM72.8,508.0h2.1v2.1h-2.1zM84.8,508.0h4.1v2.1h-4.1zM112.7,508.0h2.1v2.1h-2.1zM148.5,508.0h2.1v2.1h-2.1zM156.5,508.0h2.1v2.1h-2.1zM204.3,508.0h2.1v2.1h-2.1zM250.1,508.0h2.1v2.1h-2.1zM66.8,509.9h2.1v2.1h-2.1zM256.1,509.9h2.1v2.1h-2.1zM78.8,511.9h2.1v2.1h-2.1zM126.6,511.9h2.1v2.1h-2.1zM198.3,511.9h2.1v2.1h-2.1zM218.3,511.9h2.1v2.1h-2.1zM230.2,511.9h2.1v2.1h-2.1zM162.5,513.9h2.1v2.1h-2.1zM160.5,515.8h2.1v2.1h-2.1zM218.3,515.8h2.1v2.1h-2.1z"/><path fill="#8c246e" d="M56.9,492.2h2.1v2.1h-2.1zM62.9,492.2h2.1v2.1h-2.1zM68.8,492.2h4.1v2.1h-4.1zM76.8,492.2h4.1v2.1h-4.1zM82.8,492.2h4.1v2.1h-4.1zM88.8,492.2h4.1v2.1h-4.1zM94.7,492.2h2.1v2.1h-2.1zM100.7,492.2h2.1v2.1h-2.1zM106.7,492.2h2.1v2.1h-2.1zM110.7,492.2h4.1v2.1h-4.1zM116.7,492.2h2.1v2.1h-2.1zM120.6,492.2h4.1v2.1h-4.1zM134.6,492.2h2.1v2.1h-2.1zM140.6,492.2h2.1v2.1h-2.1zM162.5,492.2h2.1v2.1h-2.1zM166.5,492.2h4.1v2.1h-4.1zM186.4,492.2h2.1v2.1h-2.1zM190.4,492.2h6.1v2.1h-6.1zM198.3,492.2h2.1v2.1h-2.1zM202.3,492.2h2.1v2.1h-2.1zM206.3,492.2h2.1v2.1h-2.1zM210.3,492.2h4.1v2.1h-4.1zM216.3,492.2h2.1v2.1h-2.1zM222.2,492.2h2.1v2.1h-2.1zM228.2,492.2h2.1v2.1h-2.1zM232.2,492.2h6.1v2.1h-6.1zM244.2,492.2h2.1v2.1h-2.1zM258.1,492.2h2.1v2.1h-2.1zM262.1,492.2h2.1v2.1h-2.1zM270.1,492.2h2.1v2.1h-2.1zM278.0,492.2h2.1v2.1h-2.1zM60.9,494.2h2.1v2.1h-2.1zM64.9,494.2h10.1v2.1h-10.1zM80.8,494.2h4.1v2.1h-4.1zM92.7,494.2h2.1v2.1h-2.1zM96.7,494.2h2.1v2.1h-2.1zM102.7,494.2h2.1v2.1h-2.1zM106.7,494.2h2.1v2.1h-2.1zM114.7,494.2h2.1v2.1h-2.1zM120.6,494.2h4.1v2.1h-4.1zM140.6,494.2h2.1v2.1h-2.1zM144.5,494.2h2.1v2.1h-2.1zM158.5,494.2h2.1v2.1h-2.1zM162.5,494.2h2.1v2.1h-2.1zM172.4,494.2h2.1v2.1h-2.1zM176.4,494.2h8.1v2.1h-8.1zM190.4,494.2h2.1v2.1h-2.1zM196.3,494.2h2.1v2.1h-2.1zM210.3,494.2h2.1v2.1h-2.1zM216.3,494.2h2.1v2.1h-2.1zM224.2,494.2h6.1v2.1h-6.1zM234.2,494.2h4.1v2.1h-4.1zM246.1,494.2h2.1v2.1h-2.1zM254.1,494.2h4.1v2.1h-4.1zM262.1,494.2h2.1v2.1h-2.1zM266.1,494.2h4.1v2.1h-4.1zM276.0,494.2h2.1v2.1h-2.1zM54.9,496.1h2.1v2.1h-2.1zM62.9,496.1h2.1v2.1h-2.1zM76.8,496.1h2.1v2.1h-2.1zM80.8,496.1h4.1v2.1h-4.1zM94.7,496.1h4.1v2.1h-4.1zM100.7,496.1h8.1v2.1h-8.1zM114.7,496.1h2.1v2.1h-2.1zM118.6,496.1h2.1v2.1h-2.1zM124.6,496.1h2.1v2.1h-2.1zM138.6,496.1h4.1v2.1h-4.1zM148.5,496.1h4.1v2.1h-4.1zM154.5,496.1h2.1v2.1h-2.1zM158.5,496.1h4.1v2.1h-4.1zM170.4,496.1h2.1v2.1h-2.1zM178.4,496.1h4.1v2.1h-4.1zM184.4,496.1h2.1v2.1h-2.1zM188.4,496.1h2.1v2.1h-2.1zM198.3,496.1h2.1v2.1h-2.1zM206.3,496.1h4.1v2.1h-4.1zM218.3,496.1h4.1v2.1h-4.1zM226.2,496.1h8.1v2.1h-8.1zM236.2,496.1h4.1v2.1h-4.1zM244.2,496.1h2.1v2.1h-2.1zM250.1,496.1h2.1v2.1h-2.1zM256.1,496.1h4.1v2.1h-4.1zM262.1,496.1h2.1v2.1h-2.1zM278.0,496.1h2.1v2.1h-2.1zM282.0,496.1h2.1v2.1h-2.1zM54.9,498.1h2.1v2.1h-2.1zM68.8,498.1h6.1v2.1h-6.1zM76.8,498.1h2.1v2.1h-2.1zM80.8,498.1h2.1v2.1h-2.1zM86.8,498.1h2.1v2.1h-2.1zM90.8,498.1h2.1v2.1h-2.1zM96.7,498.1h2.1v2.1h-2.1zM100.7,498.1h2.1v2.1h-2.1zM104.7,498.1h10.1v2.1h-10.1zM128.6,498.1h2.1v2.1h-2.1zM134.6,498.1h4.1v2.1h-4.1zM140.6,498.1h2.1v2.1h-2.1zM148.5,498.1h2.1v2.1h-2.1zM160.5,498.1h2.1v2.1h-2.1zM170.4,498.1h2.1v2.1h-2.1zM178.4,498.1h4.1v2.1h-4.1zM188.4,498.1h2.1v2.1h-2.1zM198.3,498.1h2.1v2.1h-2.1zM208.3,498.1h6.1v2.1h-6.1zM216.3,498.1h2.1v2.1h-2.1zM232.2,498.1h2.1v2.1h-2.1zM238.2,498.1h2.1v2.1h-2.1zM244.2,498.1h2.1v2.1h-2.1zM254.1,498.1h2.1v2.1h-2.1zM270.1,498.1h6.1v2.1h-6.1zM280.0,498.1h2.1v2.1h-2.1zM56.9,500.1h2.1v2.1h-2.1zM60.9,500.1h4.1v2.1h-4.1zM66.8,500.1h4.1v2.1h-4.1zM72.8,500.1h2.1v2.1h-2.1zM86.8,500.1h2.1v2.1h-2.1zM96.7,500.1h2.1v2.1h-2.1zM110.7,500.1h2.1v2.1h-2.1zM120.6,500.1h6.1v2.1h-6.1zM136.6,500.1h2.1v2.1h-2.1zM148.5,500.1h2.1v2.1h-2.1zM170.4,500.1h2.1v2.1h-2.1zM176.4,500.1h2.1v2.1h-2.1zM180.4,500.1h4.1v2.1h-4.1zM188.4,500.1h2.1v2.1h-2.1zM198.3,500.1h2.1v2.1h-2.1zM202.3,500.1h2.1v2.1h-2.1zM208.3,500.1h2.1v2.1h-2.1zM212.3,500.1h6.1v2.1h-6.1zM222.2,500.1h2.1v2.1h-2.1zM232.2,500.1h2.1v2.1h-2.1zM236.2,500.1h2.1v2.1h-2.1zM240.2,500.1h4.1v2.1h-4.1zM246.1,500.1h4.1v2.1h-4.1zM256.1,500.1h2.1v2.1h-2.1zM262.1,500.1h2.1v2.1h-2.1zM268.1,500.1h6.1v2.1h-6.1zM282.0,500.1h2.1v2.1h-2.1zM56.9,502.0h2.1v2.1h-2.1zM68.8,502.0h2.1v2.1h-2.1zM86.8,502.0h2.1v2.1h-2.1zM92.7,502.0h2.1v2.1h-2.1zM100.7,502.0h4.1v2.1h-4.1zM110.7,502.0h6.1v2.1h-6.1zM122.6,502.0h8.1v2.1h-8.1zM136.6,502.0h2.1v2.1h-2.1zM146.5,502.0h2.1v2.1h-2.1zM152.5,502.0h2.1v2.1h-2.1zM168.4,502.0h2.1v2.1h-2.1zM174.4,502.0h4.1v2.1h-4.1zM188.4,502.0h2.1v2.1h-2.1zM198.3,502.0h6.1v2.1h-6.1zM206.3,502.0h2.1v2.1h-2.1zM220.2,502.0h2.1v2.1h-2.1zM226.2,502.0h2.1v2.1h-2.1zM234.2,502.0h2.1v2.1h-2.1zM272.0,502.0h2.1v2.1h-2.1zM276.0,502.0h2.1v2.1h-2.1zM280.0,502.0h4.1v2.1h-4.1zM56.9,504.0h4.1v2.1h-4.1zM64.9,504.0h8.1v2.1h-8.1zM76.8,504.0h2.1v2.1h-2.1zM84.8,504.0h2.1v2.1h-2.1zM114.7,504.0h2.1v2.1h-2.1zM124.6,504.0h2.1v2.1h-2.1zM128.6,504.0h2.1v2.1h-2.1zM150.5,504.0h2.1v2.1h-2.1zM180.4,504.0h4.1v2.1h-4.1zM194.3,504.0h2.1v2.1h-2.1zM198.3,504.0h2.1v2.1h-2.1zM204.3,504.0h2.1v2.1h-2.1zM208.3,504.0h2.1v2.1h-2.1zM216.3,504.0h4.1v2.1h-4.1zM224.2,504.0h2.1v2.1h-2.1zM228.2,504.0h2.1v2.1h-2.1zM250.1,504.0h2.1v2.1h-2.1zM258.1,504.0h2.1v2.1h-2.1zM274.0,504.0h2.1v2.1h-2.1zM278.0,504.0h4.1v2.1h-4.1zM62.9,506.0h2.1v2.1h-2.1zM68.8,506.0h2.1v2.1h-2.1zM76.8,506.0h2.1v2.1h-2.1zM84.8,506.0h4.1v2.1h-4.1zM94.7,506.0h2.1v2.1h-2.1zM106.7,506.0h2.1v2.1h-2.1zM114.7,506.0h2.1v2.1h-2.1zM118.6,506.0h2.1v2.1h-2.1zM122.6,506.0h2.1v2.1h-2.1zM126.6,506.0h2.1v2.1h-2.1zM142.6,506.0h4.1v2.1h-4.1zM150.5,506.0h2.1v2.1h-2.1zM158.5,506.0h2.1v2.1h-2.1zM174.4,506.0h2.1v2.1h-2.1zM180.4,506.0h2.1v2.1h-2.1zM184.4,506.0h2.1v2.1h-2.1zM192.4,506.0h2.1v2.1h-2.1zM200.3,506.0h2.1v2.1h-2.1zM206.3,506.0h2.1v2.1h-2.1zM216.3,506.0h2.1v2.1h-2.1zM226.2,506.0h2.1v2.1h-2.1zM230.2,506.0h2.1v2.1h-2.1zM234.2,506.0h2.1v2.1h-2.1zM240.2,506.0h2.1v2.1h-2.1zM244.2,506.0h2.1v2.1h-2.1zM252.1,506.0h2.1v2.1h-2.1zM264.1,506.0h2.1v2.1h-2.1zM278.0,506.0h2.1v2.1h-2.1zM282.0,506.0h2.1v2.1h-2.1zM54.9,508.0h2.1v2.1h-2.1zM76.8,508.0h2.1v2.1h-2.1zM88.8,508.0h2.1v2.1h-2.1zM92.7,508.0h2.1v2.1h-2.1zM100.7,508.0h2.1v2.1h-2.1zM118.6,508.0h2.1v2.1h-2.1zM124.6,508.0h2.1v2.1h-2.1zM140.6,508.0h2.1v2.1h-2.1zM166.5,508.0h2.1v2.1h-2.1zM178.4,508.0h2.1v2.1h-2.1zM184.4,508.0h2.1v2.1h-2.1zM206.3,508.0h4.1v2.1h-4.1zM238.2,508.0h2.1v2.1h-2.1zM246.1,508.0h2.1v2.1h-2.1zM270.1,508.0h2.1v2.1h-2.1zM64.9,509.9h2.1v2.1h-2.1zM104.7,509.9h2.1v2.1h-2.1zM126.6,509.9h2.1v2.1h-2.1zM130.6,509.9h2.1v2.1h-2.1zM138.6,509.9h4.1v2.1h-4.1zM172.4,509.9h2.1v2.1h-2.1zM182.4,509.9h4.1v2.1h-4.1zM190.4,509.9h2.1v2.1h-2.1zM210.3,509.9h4.1v2.1h-4.1zM234.2,509.9h2.1v2.1h-2.1zM254.1,509.9h2.1v2.1h-2.1zM260.1,509.9h2.1v2.1h-2.1zM62.9,511.9h2.1v2.1h-2.1zM106.7,511.9h2.1v2.1h-2.1zM114.7,511.9h2.1v2.1h-2.1zM132.6,511.9h2.1v2.1h-2.1zM158.5,511.9h2.1v2.1h-2.1zM164.5,511.9h2.1v2.1h-2.1zM186.4,511.9h2.1v2.1h-2.1zM240.2,511.9h2.1v2.1h-2.1zM250.1,511.9h2.1v2.1h-2.1zM84.8,513.9h2.1v2.1h-2.1zM120.6,513.9h2.1v2.1h-2.1zM160.5,513.9h2.1v2.1h-2.1zM226.2,513.9h4.1v2.1h-4.1zM258.1,513.9h4.1v2.1h-4.1zM56.9,515.8h2.1v2.1h-2.1zM96.7,515.8h2.1v2.1h-2.1zM116.7,515.8h2.1v2.1h-2.1zM122.6,515.8h2.1v2.1h-2.1zM270.1,515.8h2.1v2.1h-2.1zM84.8,523.7h2.1v2.1h-2.1z"/><path fill="#96286c" d="M52.9,492.2h2.1v2.1h-2.1zM72.8,492.2h2.1v2.1h-2.1zM92.7,492.2h2.1v2.1h-2.1zM96.7,492.2h2.1v2.1h-2.1zM102.7,492.2h4.1v2.1h-4.1zM114.7,492.2h2.1v2.1h-2.1zM118.6,492.2h2.1v2.1h-2.1zM124.6,492.2h2.1v2.1h-2.1zM136.6,492.2h4.1v2.1h-4.1zM144.5,492.2h2.1v2.1h-2.1zM148.5,492.2h2.1v2.1h-2.1zM154.5,492.2h4.1v2.1h-4.1zM164.5,492.2h2.1v2.1h-2.1zM172.4,492.2h4.1v2.1h-4.1zM182.4,492.2h2.1v2.1h-2.1zM200.3,492.2h2.1v2.1h-2.1zM230.2,492.2h2.1v2.1h-2.1zM240.2,492.2h2.1v2.1h-2.1zM254.1,492.2h2.1v2.1h-2.1zM266.1,492.2h2.1v2.1h-2.1zM276.0,492.2h2.1v2.1h-2.1zM280.0,492.2h4.1v2.1h-4.1zM52.9,494.2h2.1v2.1h-2.1zM56.9,494.2h2.1v2.1h-2.1zM76.8,494.2h4.1v2.1h-4.1zM84.8,494.2h8.1v2.1h-8.1zM98.7,494.2h4.1v2.1h-4.1zM124.6,494.2h6.1v2.1h-6.1zM136.6,494.2h2.1v2.1h-2.1zM150.5,494.2h2.1v2.1h-2.1zM156.5,494.2h2.1v2.1h-2.1zM184.4,494.2h2.1v2.1h-2.1zM202.3,494.2h4.1v2.1h-4.1zM212.3,494.2h4.1v2.1h-4.1zM218.3,494.2h2.1v2.1h-2.1zM230.2,494.2h2.1v2.1h-2.1zM238.2,494.2h2.1v2.1h-2.1zM244.2,494.2h2.1v2.1h-2.1zM248.1,494.2h2.1v2.1h-2.1zM260.1,494.2h2.1v2.1h-2.1zM264.1,494.2h2.1v2.1h-2.1zM272.0,494.2h2.1v2.1h-2.1zM278.0,494.2h4.1v2.1h-4.1zM56.9,496.1h6.1v2.1h-6.1zM66.8,496.1h4.1v2.1h-4.1zM84.8,496.1h6.1v2.1h-6.1zM92.7,496.1h2.1v2.1h-2.1zM112.7,496.1h2.1v2.1h-2.1zM116.7,496.1h2.1v2.1h-2.1zM120.6,496.1h4.1v2.1h-4.1zM136.6,496.1h2.1v2.1h-2.1zM146.5,496.1h2.1v2.1h-2.1zM152.5,496.1h2.1v2.1h-2.1zM162.5,496.1h2.1v2.1h-2.1zM168.4,496.1h2.1v2.1h-2.1zM172.4,496.1h2.1v2.1h-2.1zM190.4,496.1h8.1v2.1h-8.1zM204.3,496.1h2.1v2.1h-2.1zM210.3,496.1h2.1v2.1h-2.1zM216.3,496.1h2.1v2.1h-2.1zM222.2,496.1h2.1v2.1h-2.1zM234.2,496.1h2.1v2.1h-2.1zM242.2,496.1h2.1v2.1h-2.1zM252.1,496.1h4.1v2.1h-4.1zM260.1,496.1h2.1v2.1h-2.1zM264.1,496.1h2.1v2.1h-2.1zM268.1,496.1h2.1v2.1h-2.1zM272.0,496.1h6.1v2.1h-6.1zM280.0,496.1h2.1v2.1h-2.1zM52.9,498.1h2.1v2.1h-2.1zM60.9,498.1h2.1v2.1h-2.1zM64.9,498.1h2.1v2.1h-2.1zM74.8,498.1h2.1v2.1h-2.1zM82.8,498.1h2.1v2.1h-2.1zM92.7,498.1h2.1v2.1h-2.1zM98.7,498.1h2.1v2.1h-2.1zM102.7,498.1h2.1v2.1h-2.1zM114.7,498.1h8.1v2.1h-8.1zM126.6,498.1h2.1v2.1h-2.1zM130.6,498.1h2.1v2.1h-2.1zM144.5,498.1h2.1v2.1h-2.1zM150.5,498.1h2.1v2.1h-2.1zM154.5,498.1h2.1v2.1h-2.1zM164.5,498.1h4.1v2.1h-4.1zM172.4,498.1h2.1v2.1h-2.1zM176.4,498.1h2.1v2.1h-2.1zM200.3,498.1h6.1v2.1h-6.1zM220.2,498.1h2.1v2.1h-2.1zM226.2,498.1h4.1v2.1h-4.1zM236.2,498.1h2.1v2.1h-2.1zM240.2,498.1h2.1v2.1h-2.1zM250.1,498.1h2.1v2.1h-2.1zM256.1,498.1h2.1v2.1h-2.1zM260.1,498.1h4.1v2.1h-4.1zM268.1,498.1h2.1v2.1h-2.1zM276.0,498.1h4.1v2.1h-4.1zM52.9,500.1h4.1v2.1h-4.1zM58.9,500.1h2.1v2.1h-2.1zM64.9,500.1h2.1v2.1h-2.1zM76.8,500.1h2.1v2.1h-2.1zM80.8,500.1h2.1v2.1h-2.1zM90.8,500.1h4.1v2.1h-4.1zM98.7,500.1h2.1v2.1h-2.1zM112.7,500.1h2.1v2.1h-2.1zM116.7,500.1h2.1v2.1h-2.1zM126.6,500.1h6.1v2.1h-6.1zM134.6,500.1h2.1v2.1h-2.1zM140.6,500.1h2.1v2.1h-2.1zM146.5,500.1h2.1v2.1h-2.1zM150.5,500.1h2.1v2.1h-2.1zM154.5,500.1h2.1v2.1h-2.1zM160.5,500.1h2.1v2.1h-2.1zM166.5,500.1h4.1v2.1h-4.1zM172.4,500.1h2.1v2.1h-2.1zM178.4,500.1h2.1v2.1h-2.1zM184.4,500.1h4.1v2.1h-4.1zM190.4,500.1h2.1v2.1h-2.1zM206.3,500.1h2.1v2.1h-2.1zM228.2,500.1h2.1v2.1h-2.1zM234.2,500.1h2.1v2.1h-2.1zM244.2,500.1h2.1v2.1h-2.1zM250.1,500.1h2.1v2.1h-2.1zM254.1,500.1h2.1v2.1h-2.1zM258.1,500.1h4.1v2.1h-4.1zM266.1,500.1h2.1v2.1h-2.1zM276.0,500.1h6.1v2.1h-6.1zM58.9,502.0h2.1v2.1h-2.1zM62.9,502.0h2.1v2.1h-2.1zM72.8,502.0h2.1v2.1h-2.1zM76.8,502.0h2.1v2.1h-2.1zM84.8,502.0h2.1v2.1h-2.1zM88.8,502.0h2.1v2.1h-2.1zM98.7,502.0h2.1v2.1h-2.1zM108.7,502.0h2.1v2.1h-2.1zM118.6,502.0h2.1v2.1h-2.1zM130.6,502.0h2.1v2.1h-2.1zM140.6,502.0h2.1v2.1h-2.1zM144.5,502.0h2.1v2.1h-2.1zM154.5,502.0h6.1v2.1h-6.1zM164.5,502.0h4.1v2.1h-4.1zM186.4,502.0h2.1v2.1h-2.1zM190.4,502.0h4.1v2.1h-4.1zM196.3,502.0h2.1v2.1h-2.1zM204.3,502.0h2.1v2.1h-2.1zM212.3,502.0h6.1v2.1h-6.1zM232.2,502.0h2.1v2.1h-2.1zM236.2,502.0h4.1v2.1h-4.1zM246.1,502.0h2.1v2.1h-2.1zM256.1,502.0h16.1v2.1h-16.1zM72.8,504.0h4.1v2.1h-4.1zM88.8,504.0h2.1v2.1h-2.1zM92.7,504.0h2.1v2.1h-2.1zM96.7,504.0h2.1v2.1h-2.1zM108.7,504.0h6.1v2.1h-6.1zM122.6,504.0h2.1v2.1h-2.1zM126.6,504.0h2.1v2.1h-2.1zM132.6,504.0h12.1v2.1h-12.1zM146.5,504.0h4.1v2.1h-4.1zM160.5,504.0h2.1v2.1h-2.1zM164.5,504.0h2.1v2.1h-2.1zM168.4,504.0h2.1v2.1h-2.1zM176.4,504.0h4.1v2.1h-4.1zM186.4,504.0h2.1v2.1h-2.1zM196.3,504.0h2.1v2.1h-2.1zM206.3,504.0h2.1v2.1h-2.1zM220.2,504.0h2.1v2.1h-2.1zM230.2,504.0h2.1v2.1h-2.1zM236.2,504.0h2.1v2.1h-2.1zM246.1,504.0h2.1v2.1h-2.1zM268.1,504.0h2.1v2.1h-2.1zM272.0,504.0h2.1v2.1h-2.1zM54.9,506.0h4.1v2.1h-4.1zM60.9,506.0h2.1v2.1h-2.1zM66.8,506.0h2.1v2.1h-2.1zM74.8,506.0h2.1v2.1h-2.1zM78.8,506.0h2.1v2.1h-2.1zM90.8,506.0h2.1v2.1h-2.1zM102.7,506.0h2.1v2.1h-2.1zM108.7,506.0h2.1v2.1h-2.1zM120.6,506.0h2.1v2.1h-2.1zM128.6,506.0h2.1v2.1h-2.1zM134.6,506.0h2.1v2.1h-2.1zM140.6,506.0h2.1v2.1h-2.1zM146.5,506.0h2.1v2.1h-2.1zM152.5,506.0h4.1v2.1h-4.1zM164.5,506.0h4.1v2.1h-4.1zM178.4,506.0h2.1v2.1h-2.1zM182.4,506.0h2.1v2.1h-2.1zM186.4,506.0h2.1v2.1h-2.1zM196.3,506.0h2.1v2.1h-2.1zM202.3,506.0h2.1v2.1h-2.1zM214.3,506.0h2.1v2.1h-2.1zM218.3,506.0h2.1v2.1h-2.1zM246.1,506.0h6.1v2.1h-6.1zM258.1,506.0h4.1v2.1h-4.1zM266.1,506.0h2.1v2.1h-2.1zM270.1,506.0h2.1v2.1h-2.1zM274.0,506.0h4.1v2.1h-4.1zM280.0,506.0h2.1v2.1h-2.1zM52.9,508.0h2.1v2.1h-2.1zM58.9,508.0h2.1v2.1h-2.1zM66.8,508.0h2.1v2.1h-2.1zM82.8,508.0h2.1v2.1h-2.1zM90.8,508.0h2.1v2.1h-2.1zM98.7,508.0h2.1v2.1h-2.1zM102.7,508.0h8.1v2.1h-8.1zM120.6,508.0h4.1v2.1h-4.1zM128.6,508.0h2.1v2.1h-2.1zM134.6,508.0h2.1v2.1h-2.1zM138.6,508.0h2.1v2.1h-2.1zM154.5,508.0h2.1v2.1h-2.1zM158.5,508.0h8.1v2.1h-8.1zM168.4,508.0h4.1v2.1h-4.1zM174.4,508.0h2.1v2.1h-2.1zM180.4,508.0h2.1v2.1h-2.1zM190.4,508.0h4.1v2.1h-4.1zM196.3,508.0h2.1v2.1h-2.1zM210.3,508.0h2.1v2.1h-2.1zM216.3,508.0h2.1v2.1h-2.1zM220.2,508.0h2.1v2.1h-2.1zM224.2,508.0h2.1v2.1h-2.1zM228.2,508.0h2.1v2.1h-2.1zM236.2,508.0h2.1v2.1h-2.1zM244.2,508.0h2.1v2.1h-2.1zM252.1,508.0h2.1v2.1h-2.1zM256.1,508.0h2.1v2.1h-2.1zM268.1,508.0h2.1v2.1h-2.1zM272.0,508.0h4.1v2.1h-4.1zM282.0,508.0h2.1v2.1h-2.1zM56.9,509.9h2.1v2.1h-2.1zM68.8,509.9h2.1v2.1h-2.1zM72.8,509.9h2.1v2.1h-2.1zM76.8,509.9h2.1v2.1h-2.1zM84.8,509.9h4.1v2.1h-4.1zM108.7,509.9h10.1v2.1h-10.1zM122.6,509.9h2.1v2.1h-2.1zM134.6,509.9h4.1v2.1h-4.1zM142.6,509.9h6.1v2.1h-6.1zM150.5,509.9h4.1v2.1h-4.1zM156.5,509.9h2.1v2.1h-2.1zM164.5,509.9h6.1v2.1h-6.1zM180.4,509.9h2.1v2.1h-2.1zM186.4,509.9h4.1v2.1h-4.1zM196.3,509.9h4.1v2.1h-4.1zM202.3,509.9h2.1v2.1h-2.1zM206.3,509.9h2.1v2.1h-2.1zM220.2,509.9h2.1v2.1h-2.1zM228.2,509.9h2.1v2.1h-2.1zM242.2,509.9h4.1v2.1h-4.1zM250.1,509.9h2.1v2.1h-2.1zM280.0,509.9h2.1v2.1h-2.1zM52.9,511.9h2.1v2.1h-2.1zM58.9,511.9h2.1v2.1h-2.1zM72.8,511.9h2.1v2.1h-2.1zM80.8,511.9h2.1v2.1h-2.1zM84.8,511.9h2.1v2.1h-2.1zM96.7,511.9h2.1v2.1h-2.1zM102.7,511.9h4.1v2.1h-4.1zM112.7,511.9h2.1v2.1h-2.1zM120.6,511.9h2.1v2.1h-2.1zM124.6,511.9h2.1v2.1h-2.1zM150.5,511.9h4.1v2.1h-4.1zM170.4,511.9h2.1v2.1h-2.1zM190.4,511.9h2.1v2.1h-2.1zM204.3,511.9h4.1v2.1h-4.1zM210.3,511.9h2.1v2.1h-2.1zM222.2,511.9h4.1v2.1h-4.1zM236.2,511.9h4.1v2.1h-4.1zM246.1,511.9h4.1v2.1h-4.1zM252.1,511.9h4.1v2.1h-4.1zM264.1,511.9h2.1v2.1h-2.1zM268.1,511.9h4.1v2.1h-4.1zM52.9,513.9h2.1v2.1h-2.1zM64.9,513.9h2.1v2.1h-2.1zM72.8,513.9h2.1v2.1h-2.1zM86.8,513.9h2.1v2.1h-2.1zM90.8,513.9h2.1v2.1h-2.1zM94.7,513.9h2.1v2.1h-2.1zM116.7,513.9h2.1v2.1h-2.1zM124.6,513.9h2.1v2.1h-2.1zM142.6,513.9h2.1v2.1h-2.1zM146.5,513.9h2.1v2.1h-2.1zM156.5,513.9h2.1v2.1h-2.1zM164.5,513.9h2.1v2.1h-2.1zM172.4,513.9h2.1v2.1h-2.1zM188.4,513.9h4.1v2.1h-4.1zM194.3,513.9h2.1v2.1h-2.1zM200.3,513.9h2.1v2.1h-2.1zM246.1,513.9h4.1v2.1h-4.1zM256.1,513.9h2.1v2.1h-2.1zM268.1,513.9h2.1v2.1h-2.1zM68.8,515.8h2.1v2.1h-2.1zM84.8,515.8h2.1v2.1h-2.1zM140.6,515.8h2.1v2.1h-2.1zM148.5,515.8h4.1v2.1h-4.1zM158.5,515.8h2.1v2.1h-2.1zM166.5,515.8h2.1v2.1h-2.1zM180.4,515.8h2.1v2.1h-2.1zM184.4,515.8h2.1v2.1h-2.1zM188.4,515.8h6.1v2.1h-6.1zM222.2,515.8h2.1v2.1h-2.1zM228.2,515.8h4.1v2.1h-4.1zM236.2,515.8h2.1v2.1h-2.1zM276.0,515.8h2.1v2.1h-2.1zM68.8,517.8h2.1v2.1h-2.1zM96.7,517.8h2.1v2.1h-2.1zM136.6,517.8h2.1v2.1h-2.1zM178.4,517.8h2.1v2.1h-2.1zM184.4,517.8h2.1v2.1h-2.1zM188.4,517.8h2.1v2.1h-2.1zM194.3,517.8h2.1v2.1h-2.1zM200.3,517.8h2.1v2.1h-2.1zM208.3,517.8h2.1v2.1h-2.1zM228.2,517.8h2.1v2.1h-2.1zM240.2,517.8h2.1v2.1h-2.1zM260.1,517.8h2.1v2.1h-2.1zM102.7,519.8h2.1v2.1h-2.1zM144.5,519.8h2.1v2.1h-2.1zM150.5,519.8h2.1v2.1h-2.1zM238.2,519.8h2.1v2.1h-2.1zM258.1,519.8h2.1v2.1h-2.1zM192.4,521.7h4.1v2.1h-4.1zM240.2,521.7h2.1v2.1h-2.1zM166.5,523.7h2.1v2.1h-2.1zM230.2,523.7h4.1v2.1h-4.1zM226.2,525.7h2.1v2.1h-2.1zM258.1,525.7h2.1v2.1h-2.1zM98.7,527.6h2.1v2.1h-2.1zM210.3,527.6h2.1v2.1h-2.1zM78.8,529.6h2.1v2.1h-2.1z"/><path fill="#a02c68" d="M54.9,492.2h2.1v2.1h-2.1zM132.6,492.2h2.1v2.1h-2.1zM196.3,492.2h2.1v2.1h-2.1zM252.1,492.2h2.1v2.1h-2.1zM62.9,494.2h2.1v2.1h-2.1zM108.7,494.2h4.1v2.1h-4.1zM130.6,494.2h2.1v2.1h-2.1zM146.5,494.2h2.1v2.1h-2.1zM154.5,494.2h2.1v2.1h-2.1zM160.5,494.2h2.1v2.1h-2.1zM166.5,494.2h2.1v2.1h-2.1zM192.4,494.2h2.1v2.1h-2.1zM206.3,494.2h2.1v2.1h-2.1zM222.2,494.2h2.1v2.1h-2.1zM232.2,494.2h2.1v2.1h-2.1zM258.1,494.2h2.1v2.1h-2.1zM64.9,496.1h2.1v2.1h-2.1zM74.8,496.1h2.1v2.1h-2.1zM98.7,496.1h2.1v2.1h-2.1zM108.7,496.1h4.1v2.1h-4.1zM126.6,496.1h6.1v2.1h-6.1zM134.6,496.1h2.1v2.1h-2.1zM142.6,496.1h4.1v2.1h-4.1zM174.4,496.1h4.1v2.1h-4.1zM186.4,496.1h2.1v2.1h-2.1zM214.3,496.1h2.1v2.1h-2.1zM240.2,496.1h2.1v2.1h-2.1zM246.1,496.1h2.1v2.1h-2.1zM84.8,498.1h2.1v2.1h-2.1zM146.5,498.1h2.1v2.1h-2.1zM162.5,498.1h2.1v2.1h-2.1zM174.4,498.1h2.1v2.1h-2.1zM186.4,498.1h2.1v2.1h-2.1zM192.4,498.1h2.1v2.1h-2.1zM196.3,498.1h2.1v2.1h-2.1zM206.3,498.1h2.1v2.1h-2.1zM218.3,498.1h2.1v2.1h-2.1zM222.2,498.1h2.1v2.1h-2.1zM252.1,498.1h2.1v2.1h-2.1zM264.1,498.1h4.1v2.1h-4.1zM282.0,498.1h2.1v2.1h-2.1zM70.8,500.1h2.1v2.1h-2.1zM74.8,500.1h2.1v2.1h-2.1zM78.8,500.1h2.1v2.1h-2.1zM84.8,500.1h2.1v2.1h-2.1zM100.7,500.1h8.1v2.1h-8.1zM118.6,500.1h2.1v2.1h-2.1zM138.6,500.1h2.1v2.1h-2.1zM152.5,500.1h2.1v2.1h-2.1zM164.5,500.1h2.1v2.1h-2.1zM194.3,500.1h2.1v2.1h-2.1zM200.3,500.1h2.1v2.1h-2.1zM220.2,500.1h2.1v2.1h-2.1zM224.2,500.1h2.1v2.1h-2.1zM54.9,502.0h2.1v2.1h-2.1zM64.9,502.0h4.1v2.1h-4.1zM74.8,502.0h2.1v2.1h-2.1zM78.8,502.0h4.1v2.1h-4.1zM106.7,502.0h2.1v2.1h-2.1zM116.7,502.0h2.1v2.1h-2.1zM120.6,502.0h2.1v2.1h-2.1zM132.6,502.0h4.1v2.1h-4.1zM138.6,502.0h2.1v2.1h-2.1zM148.5,502.0h4.1v2.1h-4.1zM172.4,502.0h2.1v2.1h-2.1zM180.4,502.0h6.1v2.1h-6.1zM194.3,502.0h2.1v2.1h-2.1zM222.2,502.0h2.1v2.1h-2.1zM230.2,502.0h2.1v2.1h-2.1zM240.2,502.0h6.1v2.1h-6.1zM248.1,502.0h6.1v2.1h-6.1zM62.9,504.0h2.1v2.1h-2.1zM78.8,504.0h4.1v2.1h-4.1zM86.8,504.0h2.1v2.1h-2.1zM100.7,504.0h2.1v2.1h-2.1zM104.7,504.0h2.1v2.1h-2.1zM120.6,504.0h2.1v2.1h-2.1zM130.6,504.0h2.1v2.1h-2.1zM144.5,504.0h2.1v2.1h-2.1zM152.5,504.0h6.1v2.1h-6.1zM162.5,504.0h2.1v2.1h-2.1zM166.5,504.0h2.1v2.1h-2.1zM170.4,504.0h4.1v2.1h-4.1zM188.4,504.0h2.1v2.1h-2.1zM200.3,504.0h4.1v2.1h-4.1zM210.3,504.0h2.1v2.1h-2.1zM214.3,504.0h2.1v2.1h-2.1zM222.2,504.0h2.1v2.1h-2.1zM232.2,504.0h2.1v2.1h-2.1zM238.2,504.0h2.1v2.1h-2.1zM242.2,504.0h2.1v2.1h-2.1zM252.1,504.0h2.1v2.1h-2.1zM260.1,504.0h4.1v2.1h-4.1zM276.0,504.0h2.1v2.1h-2.1zM282.0,504.0h2.1v2.1h-2.1zM58.9,506.0h2.1v2.1h-2.1zM64.9,506.0h2.1v2.1h-2.1zM70.8,506.0h4.1v2.1h-4.1zM80.8,506.0h4.1v2.1h-4.1zM88.8,506.0h2.1v2.1h-2.1zM92.7,506.0h2.1v2.1h-2.1zM96.7,506.0h2.1v2.1h-2.1zM100.7,506.0h2.1v2.1h-2.1zM104.7,506.0h2.1v2.1h-2.1zM116.7,506.0h2.1v2.1h-2.1zM132.6,506.0h2.1v2.1h-2.1zM136.6,506.0h2.1v2.1h-2.1zM156.5,506.0h2.1v2.1h-2.1zM160.5,506.0h4.1v2.1h-4.1zM168.4,506.0h4.1v2.1h-4.1zM188.4,506.0h2.1v2.1h-2.1zM194.3,506.0h2.1v2.1h-2.1zM198.3,506.0h2.1v2.1h-2.1zM208.3,506.0h2.1v2.1h-2.1zM224.2,506.0h2.1v2.1h-2.1zM232.2,506.0h2.1v2.1h-2.1zM238.2,506.0h2.1v2.1h-2.1zM254.1,506.0h4.1v2.1h-4.1zM268.1,506.0h2.1v2.1h-2.1zM60.9,508.0h6.1v2.1h-6.1zM68.8,508.0h4.1v2.1h-4.1zM74.8,508.0h2.1v2.1h-2.1zM78.8,508.0h4.1v2.1h-4.1zM96.7,508.0h2.1v2.1h-2.1zM110.7,508.0h2.1v2.1h-2.1zM114.7,508.0h2.1v2.1h-2.1zM126.6,508.0h2.1v2.1h-2.1zM132.6,508.0h2.1v2.1h-2.1zM136.6,508.0h2.1v2.1h-2.1zM144.5,508.0h2.1v2.1h-2.1zM152.5,508.0h2.1v2.1h-2.1zM186.4,508.0h4.1v2.1h-4.1zM198.3,508.0h4.1v2.1h-4.1zM212.3,508.0h4.1v2.1h-4.1zM222.2,508.0h2.1v2.1h-2.1zM226.2,508.0h2.1v2.1h-2.1zM232.2,508.0h2.1v2.1h-2.1zM240.2,508.0h4.1v2.1h-4.1zM248.1,508.0h2.1v2.1h-2.1zM258.1,508.0h6.1v2.1h-6.1zM266.1,508.0h2.1v2.1h-2.1zM276.0,508.0h2.1v2.1h-2.1zM280.0,508.0h2.1v2.1h-2.1zM52.9,509.9h4.1v2.1h-4.1zM60.9,509.9h4.1v2.1h-4.1zM74.8,509.9h2.1v2.1h-2.1zM78.8,509.9h4.1v2.1h-4.1zM90.8,509.9h14.1v2.1h-14.1zM118.6,509.9h2.1v2.1h-2.1zM124.6,509.9h2.1v2.1h-2.1zM128.6,509.9h2.1v2.1h-2.1zM132.6,509.9h2.1v2.1h-2.1zM154.5,509.9h2.1v2.1h-2.1zM158.5,509.9h4.1v2.1h-4.1zM174.4,509.9h6.1v2.1h-6.1zM194.3,509.9h2.1v2.1h-2.1zM200.3,509.9h2.1v2.1h-2.1zM204.3,509.9h2.1v2.1h-2.1zM222.2,509.9h2.1v2.1h-2.1zM232.2,509.9h2.1v2.1h-2.1zM238.2,509.9h2.1v2.1h-2.1zM252.1,509.9h2.1v2.1h-2.1zM262.1,509.9h2.1v2.1h-2.1zM266.1,509.9h2.1v2.1h-2.1zM270.1,509.9h10.1v2.1h-10.1zM282.0,509.9h2.1v2.1h-2.1zM64.9,511.9h2.1v2.1h-2.1zM68.8,511.9h2.1v2.1h-2.1zM74.8,511.9h4.1v2.1h-4.1zM90.8,511.9h2.1v2.1h-2.1zM94.7,511.9h2.1v2.1h-2.1zM100.7,511.9h2.1v2.1h-2.1zM108.7,511.9h4.1v2.1h-4.1zM122.6,511.9h2.1v2.1h-2.1zM130.6,511.9h2.1v2.1h-2.1zM142.6,511.9h2.1v2.1h-2.1zM146.5,511.9h4.1v2.1h-4.1zM154.5,511.9h4.1v2.1h-4.1zM160.5,511.9h2.1v2.1h-2.1zM166.5,511.9h2.1v2.1h-2.1zM176.4,511.9h4.1v2.1h-4.1zM182.4,511.9h4.1v2.1h-4.1zM188.4,511.9h2.1v2.1h-2.1zM202.3,511.9h2.1v2.1h-2.1zM212.3,511.9h4.1v2.1h-4.1zM228.2,511.9h2.1v2.1h-2.1zM234.2,511.9h2.1v2.1h-2.1zM256.1,511.9h2.1v2.1h-2.1zM274.0,511.9h2.1v2.1h-2.1zM278.0,511.9h4.1v2.1h-4.1zM58.9,513.9h4.1v2.1h-4.1zM68.8,513.9h2.1v2.1h-2.1zM80.8,513.9h2.1v2.1h-2.1zM88.8,513.9h2.1v2.1h-2.1zM92.7,513.9h2.1v2.1h-2.1zM100.7,513.9h2.1v2.1h-2.1zM104.7,513.9h4.1v2.1h-4.1zM118.6,513.9h2.1v2.1h-2.1zM126.6,513.9h4.1v2.1h-4.1zM132.6,513.9h10.1v2.1h-10.1zM144.5,513.9h2.1v2.1h-2.1zM168.4,513.9h2.1v2.1h-2.1zM180.4,513.9h2.1v2.1h-2.1zM184.4,513.9h2.1v2.1h-2.1zM192.4,513.9h2.1v2.1h-2.1zM206.3,513.9h2.1v2.1h-2.1zM212.3,513.9h4.1v2.1h-4.1zM224.2,513.9h2.1v2.1h-2.1zM236.2,513.9h4.1v2.1h-4.1zM244.2,513.9h2.1v2.1h-2.1zM250.1,513.9h4.1v2.1h-4.1zM262.1,513.9h2.1v2.1h-2.1zM266.1,513.9h2.1v2.1h-2.1zM280.0,513.9h4.1v2.1h-4.1zM58.9,515.8h2.1v2.1h-2.1zM62.9,515.8h6.1v2.1h-6.1zM74.8,515.8h2.1v2.1h-2.1zM80.8,515.8h4.1v2.1h-4.1zM90.8,515.8h2.1v2.1h-2.1zM106.7,515.8h2.1v2.1h-2.1zM114.7,515.8h2.1v2.1h-2.1zM124.6,515.8h4.1v2.1h-4.1zM130.6,515.8h2.1v2.1h-2.1zM134.6,515.8h2.1v2.1h-2.1zM138.6,515.8h2.1v2.1h-2.1zM144.5,515.8h2.1v2.1h-2.1zM152.5,515.8h2.1v2.1h-2.1zM176.4,515.8h2.1v2.1h-2.1zM182.4,515.8h2.1v2.1h-2.1zM186.4,515.8h2.1v2.1h-2.1zM196.3,515.8h4.1v2.1h-4.1zM212.3,515.8h2.1v2.1h-2.1zM232.2,515.8h2.1v2.1h-2.1zM238.2,515.8h6.1v2.1h-6.1zM248.1,515.8h2.1v2.1h-2.1zM252.1,515.8h2.1v2.1h-2.1zM256.1,515.8h2.1v2.1h-2.1zM260.1,515.8h2.1v2.1h-2.1zM264.1,515.8h4.1v2.1h-4.1zM274.0,515.8h2.1v2.1h-2.1zM282.0,515.8h2.1v2.1h-2.1zM52.9,517.8h2.1v2.1h-2.1zM58.9,517.8h4.1v2.1h-4.1zM70.8,517.8h2.1v2.1h-2.1zM74.8,517.8h2.1v2.1h-2.1zM84.8,517.8h4.1v2.1h-4.1zM102.7,517.8h2.1v2.1h-2.1zM132.6,517.8h2.1v2.1h-2.1zM144.5,517.8h4.1v2.1h-4.1zM150.5,517.8h4.1v2.1h-4.1zM160.5,517.8h4.1v2.1h-4.1zM166.5,517.8h6.1v2.1h-6.1zM176.4,517.8h2.1v2.1h-2.1zM182.4,517.8h2.1v2.1h-2.1zM186.4,517.8h2.1v2.1h-2.1zM192.4,517.8h2.1v2.1h-2.1zM198.3,517.8h2.1v2.1h-2.1zM204.3,517.8h4.1v2.1h-4.1zM210.3,517.8h8.1v2.1h-8.1zM226.2,517.8h2.1v2.1h-2.1zM234.2,517.8h6.1v2.1h-6.1zM244.2,517.8h2.1v2.1h-2.1zM254.1,517.8h2.1v2.1h-2.1zM262.1,517.8h2.1v2.1h-2.1zM266.1,517.8h2.1v2.1h-2.1zM282.0,517.8h2.1v2.1h-2.1zM58.9,519.8h2.1v2.1h-2.1zM62.9,519.8h4.1v2.1h-4.1zM72.8,519.8h2.1v2.1h-2.1zM84.8,519.8h10.1v2.1h-10.1zM116.7,519.8h2.1v2.1h-2.1zM122.6,519.8h4.1v2.1h-4.1zM128.6,519.8h2.1v2.1h-2.1zM132.6,519.8h2.1v2.1h-2.1zM156.5,519.8h2.1v2.1h-2.1zM164.5,519.8h2.1v2.1h-2.1zM170.4,519.8h2.1v2.1h-2.1zM200.3,519.8h2.1v2.1h-2.1zM210.3,519.8h4.1v2.1h-4.1zM216.3,519.8h2.1v2.1h-2.1zM224.2,519.8h4.1v2.1h-4.1zM252.1,519.8h4.1v2.1h-4.1zM266.1,519.8h2.1v2.1h-2.1zM270.1,519.8h2.1v2.1h-2.1zM62.9,521.7h8.1v2.1h-8.1zM78.8,521.7h2.1v2.1h-2.1zM90.8,521.7h2.1v2.1h-2.1zM94.7,521.7h2.1v2.1h-2.1zM98.7,521.7h4.1v2.1h-4.1zM104.7,521.7h2.1v2.1h-2.1zM144.5,521.7h2.1v2.1h-2.1zM174.4,521.7h2.1v2.1h-2.1zM178.4,521.7h2.1v2.1h-2.1zM182.4,521.7h2.1v2.1h-2.1zM202.3,521.7h4.1v2.1h-4.1zM220.2,521.7h2.1v2.1h-2.1zM234.2,521.7h2.1v2.1h-2.1zM238.2,521.7h2.1v2.1h-2.1zM244.2,521.7h2.1v2.1h-2.1zM248.1,521.7h2.1v2.1h-2.1zM272.0,521.7h4.1v2.1h-4.1zM58.9,523.7h2.1v2.1h-2.1zM86.8,523.7h8.1v2.1h-8.1zM156.5,523.7h2.1v2.1h-2.1zM180.4,523.7h2.1v2.1h-2.1zM188.4,523.7h2.1v2.1h-2.1zM196.3,523.7h2.1v2.1h-2.1zM210.3,523.7h2.1v2.1h-2.1zM214.3,523.7h2.1v2.1h-2.1zM234.2,523.7h2.1v2.1h-2.1zM250.1,523.7h2.1v2.1h-2.1zM272.0,523.7h2.1v2.1h-2.1zM276.0,523.7h2.1v2.1h-2.1zM74.8,525.7h4.1v2.1h-4.1zM80.8,525.7h2.1v2.1h-2.1zM96.7,525.7h2.1v2.1h-2.1zM176.4,525.7h2.1v2.1h-2.1zM216.3,525.7h2.1v2.1h-2.1zM228.2,525.7h2.1v2.1h-2.1zM278.0,525.7h2.1v2.1h-2.1zM60.9,527.6h2.1v2.1h-2.1zM70.8,527.6h2.1v2.1h-2.1zM84.8,527.6h2.1v2.1h-2.1zM198.3,527.6h2.1v2.1h-2.1zM256.1,527.6h2.1v2.1h-2.1zM260.1,527.6h2.1v2.1h-2.1zM276.0,527.6h2.1v2.1h-2.1zM270.1,529.6h2.1v2.1h-2.1zM254.1,531.6h2.1v2.1h-2.1zM54.9,533.5h2.1v2.1h-2.1z"/><path fill="#a93063" d="M86.8,492.2h2.1v2.1h-2.1zM138.6,494.2h2.1v2.1h-2.1zM170.4,494.2h2.1v2.1h-2.1zM52.9,496.1h2.1v2.1h-2.1zM164.5,496.1h2.1v2.1h-2.1zM58.9,498.1h2.1v2.1h-2.1zM156.5,498.1h2.1v2.1h-2.1zM224.2,498.1h2.1v2.1h-2.1zM234.2,498.1h2.1v2.1h-2.1zM52.9,502.0h2.1v2.1h-2.1zM82.8,502.0h2.1v2.1h-2.1zM96.7,502.0h2.1v2.1h-2.1zM142.6,502.0h2.1v2.1h-2.1zM178.4,502.0h2.1v2.1h-2.1zM60.9,504.0h2.1v2.1h-2.1zM82.8,504.0h2.1v2.1h-2.1zM102.7,504.0h2.1v2.1h-2.1zM118.6,504.0h2.1v2.1h-2.1zM184.4,504.0h2.1v2.1h-2.1zM212.3,504.0h2.1v2.1h-2.1zM226.2,504.0h2.1v2.1h-2.1zM234.2,504.0h2.1v2.1h-2.1zM256.1,504.0h2.1v2.1h-2.1zM52.9,506.0h2.1v2.1h-2.1zM98.7,506.0h2.1v2.1h-2.1zM110.7,506.0h2.1v2.1h-2.1zM124.6,506.0h2.1v2.1h-2.1zM138.6,506.0h2.1v2.1h-2.1zM148.5,506.0h2.1v2.1h-2.1zM172.4,506.0h2.1v2.1h-2.1zM176.4,506.0h2.1v2.1h-2.1zM210.3,506.0h4.1v2.1h-4.1zM222.2,506.0h2.1v2.1h-2.1zM228.2,506.0h2.1v2.1h-2.1zM242.2,506.0h2.1v2.1h-2.1zM262.1,506.0h2.1v2.1h-2.1zM56.9,508.0h2.1v2.1h-2.1zM116.7,508.0h2.1v2.1h-2.1zM130.6,508.0h2.1v2.1h-2.1zM142.6,508.0h2.1v2.1h-2.1zM146.5,508.0h2.1v2.1h-2.1zM150.5,508.0h2.1v2.1h-2.1zM172.4,508.0h2.1v2.1h-2.1zM182.4,508.0h2.1v2.1h-2.1zM194.3,508.0h2.1v2.1h-2.1zM202.3,508.0h2.1v2.1h-2.1zM218.3,508.0h2.1v2.1h-2.1zM230.2,508.0h2.1v2.1h-2.1zM234.2,508.0h2.1v2.1h-2.1zM254.1,508.0h2.1v2.1h-2.1zM264.1,508.0h2.1v2.1h-2.1zM278.0,508.0h2.1v2.1h-2.1zM58.9,509.9h2.1v2.1h-2.1zM70.8,509.9h2.1v2.1h-2.1zM88.8,509.9h2.1v2.1h-2.1zM106.7,509.9h2.1v2.1h-2.1zM120.6,509.9h2.1v2.1h-2.1zM148.5,509.9h2.1v2.1h-2.1zM162.5,509.9h2.1v2.1h-2.1zM170.4,509.9h2.1v2.1h-2.1zM192.4,509.9h2.1v2.1h-2.1zM208.3,509.9h2.1v2.1h-2.1zM216.3,509.9h4.1v2.1h-4.1zM224.2,509.9h4.1v2.1h-4.1zM230.2,509.9h2.1v2.1h-2.1zM240.2,509.9h2.1v2.1h-2.1zM246.1,509.9h4.1v2.1h-4.1zM258.1,509.9h2.1v2.1h-2.1zM264.1,509.9h2.1v2.1h-2.1zM268.1,509.9h2.1v2.1h-2.1zM56.9,511.9h2.1v2.1h-2.1zM60.9,511.9h2.1v2.1h-2.1zM70.8,511.9h2.1v2.1h-2.1zM86.8,511.9h2.1v2.1h-2.1zM92.7,511.9h2.1v2.1h-2.1zM98.7,511.9h2.1v2.1h-2.1zM116.7,511.9h4.1v2.1h-4.1zM134.6,511.9h8.1v2.1h-8.1zM162.5,511.9h2.1v2.1h-2.1zM172.4,511.9h4.1v2.1h-4.1zM180.4,511.9h2.1v2.1h-2.1zM196.3,511.9h2.1v2.1h-2.1zM200.3,511.9h2.1v2.1h-2.1zM208.3,511.9h2.1v2.1h-2.1zM216.3,511.9h2.1v2.1h-2.1zM220.2,511.9h2.1v2.1h-2.1zM226.2,511.9h2.1v2.1h-2.1zM232.2,511.9h2.1v2.1h-2.1zM242.2,511.9h2.1v2.1h-2.1zM260.1,511.9h4.1v2.1h-4.1zM266.1,511.9h2.1v2.1h-2.1zM272.0,511.9h2.1v2.1h-2.1zM282.0,511.9h2.1v2.1h-2.1zM54.9,513.9h2.1v2.1h-2.1zM62.9,513.9h2.1v2.1h-2.1zM66.8,513.9h2.1v2.1h-2.1zM70.8,513.9h2.1v2.1h-2.1zM74.8,513.9h4.1v2.1h-4.1zM82.8,513.9h2.1v2.1h-2.1zM96.7,513.9h4.1v2.1h-4.1zM102.7,513.9h2.1v2.1h-2.1zM108.7,513.9h6.1v2.1h-6.1zM122.6,513.9h2.1v2.1h-2.1zM130.6,513.9h2.1v2.1h-2.1zM148.5,513.9h8.1v2.1h-8.1zM158.5,513.9h2.1v2.1h-2.1zM174.4,513.9h2.1v2.1h-2.1zM178.4,513.9h2.1v2.1h-2.1zM182.4,513.9h2.1v2.1h-2.1zM198.3,513.9h2.1v2.1h-2.1zM216.3,513.9h4.1v2.1h-4.1zM232.2,513.9h4.1v2.1h-4.1zM240.2,513.9h4.1v2.1h-4.1zM270.1,513.9h2.1v2.1h-2.1zM274.0,513.9h6.1v2.1h-6.1zM52.9,515.8h2.1v2.1h-2.1zM60.9,515.8h2.1v2.1h-2.1zM70.8,515.8h2.1v2.1h-2.1zM76.8,515.8h2.1v2.1h-2.1zM94.7,515.8h2.1v2.1h-2.1zM98.7,515.8h8.1v2.1h-8.1zM110.7,515.8h2.1v2.1h-2.1zM120.6,515.8h2.1v2.1h-2.1zM128.6,515.8h2.1v2.1h-2.1zM142.6,515.8h2.1v2.1h-2.1zM146.5,515.8h2.1v2.1h-2.1zM156.5,515.8h2.1v2.1h-2.1zM164.5,515.8h2.1v2.1h-2.1zM170.4,515.8h2.1v2.1h-2.1zM174.4,515.8h2.1v2.1h-2.1zM178.4,515.8h2.1v2.1h-2.1zM194.3,515.8h2.1v2.1h-2.1zM200.3,515.8h6.1v2.1h-6.1zM208.3,515.8h4.1v2.1h-4.1zM220.2,515.8h2.1v2.1h-2.1zM224.2,515.8h4.1v2.1h-4.1zM250.1,515.8h2.1v2.1h-2.1zM258.1,515.8h2.1v2.1h-2.1zM272.0,515.8h2.1v2.1h-2.1zM280.0,515.8h2.1v2.1h-2.1zM54.9,517.8h4.1v2.1h-4.1zM64.9,517.8h4.1v2.1h-4.1zM76.8,517.8h8.1v2.1h-8.1zM88.8,517.8h4.1v2.1h-4.1zM100.7,517.8h2.1v2.1h-2.1zM104.7,517.8h10.1v2.1h-10.1zM118.6,517.8h2.1v2.1h-2.1zM126.6,517.8h4.1v2.1h-4.1zM134.6,517.8h2.1v2.1h-2.1zM140.6,517.8h4.1v2.1h-4.1zM154.5,517.8h6.1v2.1h-6.1zM174.4,517.8h2.1v2.1h-2.1zM190.4,517.8h2.1v2.1h-2.1zM196.3,517.8h2.1v2.1h-2.1zM202.3,517.8h2.1v2.1h-2.1zM222.2,517.8h4.1v2.1h-4.1zM230.2,517.8h2.1v2.1h-2.1zM242.2,517.8h2.1v2.1h-2.1zM250.1,517.8h4.1v2.1h-4.1zM258.1,517.8h2.1v2.1h-2.1zM264.1,517.8h2.1v2.1h-2.1zM268.1,517.8h4.1v2.1h-4.1zM274.0,517.8h2.1v2.1h-2.1zM52.9,519.8h2.1v2.1h-2.1zM56.9,519.8h2.1v2.1h-2.1zM60.9,519.8h2.1v2.1h-2.1zM66.8,519.8h4.1v2.1h-4.1zM74.8,519.8h6.1v2.1h-6.1zM94.7,519.8h2.1v2.1h-2.1zM100.7,519.8h2.1v2.1h-2.1zM106.7,519.8h4.1v2.1h-4.1zM112.7,519.8h4.1v2.1h-4.1zM130.6,519.8h2.1v2.1h-2.1zM134.6,519.8h2.1v2.1h-2.1zM138.6,519.8h2.1v2.1h-2.1zM146.5,519.8h4.1v2.1h-4.1zM154.5,519.8h2.1v2.1h-2.1zM166.5,519.8h2.1v2.1h-2.1zM172.4,519.8h4.1v2.1h-4.1zM180.4,519.8h4.1v2.1h-4.1zM186.4,519.8h6.1v2.1h-6.1zM194.3,519.8h4.1v2.1h-4.1zM202.3,519.8h4.1v2.1h-4.1zM214.3,519.8h2.1v2.1h-2.1zM222.2,519.8h2.1v2.1h-2.1zM228.2,519.8h2.1v2.1h-2.1zM232.2,519.8h4.1v2.1h-4.1zM244.2,519.8h6.1v2.1h-6.1zM256.1,519.8h2.1v2.1h-2.1zM264.1,519.8h2.1v2.1h-2.1zM272.0,519.8h2.1v2.1h-2.1zM276.0,519.8h2.1v2.1h-2.1zM280.0,519.8h4.1v2.1h-4.1zM52.9,521.7h2.1v2.1h-2.1zM56.9,521.7h2.1v2.1h-2.1zM72.8,521.7h2.1v2.1h-2.1zM80.8,521.7h4.1v2.1h-4.1zM96.7,521.7h2.1v2.1h-2.1zM146.5,521.7h2.1v2.1h-2.1zM150.5,521.7h6.1v2.1h-6.1zM162.5,521.7h2.1v2.1h-2.1zM170.4,521.7h2.1v2.1h-2.1zM180.4,521.7h2.1v2.1h-2.1zM190.4,521.7h2.1v2.1h-2.1zM196.3,521.7h2.1v2.1h-2.1zM212.3,521.7h4.1v2.1h-4.1zM228.2,521.7h2.1v2.1h-2.1zM246.1,521.7h2.1v2.1h-2.1zM250.1,521.7h6.1v2.1h-6.1zM278.0,521.7h6.1v2.1h-6.1zM52.9,523.7h2.1v2.1h-2.1zM64.9,523.7h2.1v2.1h-2.1zM72.8,523.7h2.1v2.1h-2.1zM80.8,523.7h2.1v2.1h-2.1zM94.7,523.7h4.1v2.1h-4.1zM152.5,523.7h2.1v2.1h-2.1zM158.5,523.7h4.1v2.1h-4.1zM182.4,523.7h2.1v2.1h-2.1zM186.4,523.7h2.1v2.1h-2.1zM190.4,523.7h2.1v2.1h-2.1zM198.3,523.7h2.1v2.1h-2.1zM212.3,523.7h2.1v2.1h-2.1zM216.3,523.7h2.1v2.1h-2.1zM222.2,523.7h2.1v2.1h-2.1zM246.1,523.7h4.1v2.1h-4.1zM254.1,523.7h2.1v2.1h-2.1zM262.1,523.7h2.1v2.1h-2.1zM268.1,523.7h4.1v2.1h-4.1zM274.0,523.7h2.1v2.1h-2.1zM54.9,525.7h2.1v2.1h-2.1zM58.9,525.7h2.1v2.1h-2.1zM68.8,525.7h2.1v2.1h-2.1zM92.7,525.7h2.1v2.1h-2.1zM188.4,525.7h2.1v2.1h-2.1zM196.3,525.7h2.1v2.1h-2.1zM202.3,525.7h6.1v2.1h-6.1zM210.3,525.7h4.1v2.1h-4.1zM220.2,525.7h2.1v2.1h-2.1zM230.2,525.7h2.1v2.1h-2.1zM234.2,525.7h8.1v2.1h-8.1zM244.2,525.7h2.1v2.1h-2.1zM252.1,525.7h4.1v2.1h-4.1zM262.1,525.7h2.1v2.1h-2.1zM266.1,525.7h4.1v2.1h-4.1zM272.0,525.7h4.1v2.1h-4.1zM52.9,527.6h2.1v2.1h-2.1zM58.9,527.6h2.1v2.1h-2.1zM76.8,527.6h4.1v2.1h-4.1zM82.8,527.6h2.1v2.1h-2.1zM102.7,527.6h4.1v2.1h-4.1zM176.4,527.6h2.1v2.1h-2.1zM212.3,527.6h2.1v2.1h-2.1zM220.2,527.6h2.1v2.1h-2.1zM226.2,527.6h4.1v2.1h-4.1zM242.2,527.6h6.1v2.1h-6.1zM266.1,527.6h2.1v2.1h-2.1zM270.1,527.6h2.1v2.1h-2.1zM280.0,527.6h2.1v2.1h-2.1zM52.9,529.6h2.1v2.1h-2.1zM80.8,529.6h2.1v2.1h-2.1zM88.8,529.6h2.1v2.1h-2.1zM96.7,529.6h2.1v2.1h-2.1zM104.7,529.6h2.1v2.1h-2.1zM214.3,529.6h2.1v2.1h-2.1zM228.2,529.6h2.1v2.1h-2.1zM240.2,529.6h2.1v2.1h-2.1zM258.1,529.6h2.1v2.1h-2.1zM264.1,529.6h6.1v2.1h-6.1zM272.0,529.6h2.1v2.1h-2.1zM276.0,529.6h2.1v2.1h-2.1zM100.7,531.6h2.1v2.1h-2.1zM220.2,531.6h4.1v2.1h-4.1zM260.1,531.6h4.1v2.1h-4.1zM266.1,531.6h2.1v2.1h-2.1zM56.9,533.5h2.1v2.1h-2.1zM92.7,533.5h4.1v2.1h-4.1zM100.7,533.5h4.1v2.1h-4.1zM258.1,533.5h2.1v2.1h-2.1zM64.9,535.5h2.1v2.1h-2.1zM84.8,535.5h2.1v2.1h-2.1z"/><path fill="#b2335e" d="M90.8,502.0h2.1v2.1h-2.1zM98.7,504.0h2.1v2.1h-2.1zM240.2,504.0h2.1v2.1h-2.1zM248.1,504.0h2.1v2.1h-2.1zM94.7,508.0h2.1v2.1h-2.1zM176.4,508.0h2.1v2.1h-2.1zM82.8,509.9h2.1v2.1h-2.1zM214.3,509.9h2.1v2.1h-2.1zM236.2,509.9h2.1v2.1h-2.1zM66.8,511.9h2.1v2.1h-2.1zM82.8,511.9h2.1v2.1h-2.1zM88.8,511.9h2.1v2.1h-2.1zM128.6,511.9h2.1v2.1h-2.1zM144.5,511.9h2.1v2.1h-2.1zM168.4,511.9h2.1v2.1h-2.1zM192.4,511.9h4.1v2.1h-4.1zM244.2,511.9h2.1v2.1h-2.1zM258.1,511.9h2.1v2.1h-2.1zM56.9,513.9h2.1v2.1h-2.1zM78.8,513.9h2.1v2.1h-2.1zM114.7,513.9h2.1v2.1h-2.1zM166.5,513.9h2.1v2.1h-2.1zM170.4,513.9h2.1v2.1h-2.1zM176.4,513.9h2.1v2.1h-2.1zM186.4,513.9h2.1v2.1h-2.1zM196.3,513.9h2.1v2.1h-2.1zM202.3,513.9h4.1v2.1h-4.1zM208.3,513.9h4.1v2.1h-4.1zM220.2,513.9h4.1v2.1h-4.1zM230.2,513.9h2.1v2.1h-2.1zM254.1,513.9h2.1v2.1h-2.1zM264.1,513.9h2.1v2.1h-2.1zM272.0,513.9h2.1v2.1h-2.1zM54.9,515.8h2.1v2.1h-2.1zM72.8,515.8h2.1v2.1h-2.1zM78.8,515.8h2.1v2.1h-2.1zM86.8,515.8h4.1v2.1h-4.1zM108.7,515.8h2.1v2.1h-2.1zM132.6,515.8h2.1v2.1h-2.1zM136.6,515.8h2.1v2.1h-2.1zM168.4,515.8h2.1v2.1h-2.1zM214.3,515.8h4.1v2.1h-4.1zM244.2,515.8h2.1v2.1h-2.1zM254.1,515.8h2.1v2.1h-2.1zM262.1,515.8h2.1v2.1h-2.1zM62.9,517.8h2.1v2.1h-2.1zM72.8,517.8h2.1v2.1h-2.1zM94.7,517.8h2.1v2.1h-2.1zM114.7,517.8h2.1v2.1h-2.1zM122.6,517.8h4.1v2.1h-4.1zM130.6,517.8h2.1v2.1h-2.1zM138.6,517.8h2.1v2.1h-2.1zM148.5,517.8h2.1v2.1h-2.1zM164.5,517.8h2.1v2.1h-2.1zM172.4,517.8h2.1v2.1h-2.1zM218.3,517.8h4.1v2.1h-4.1zM232.2,517.8h2.1v2.1h-2.1zM246.1,517.8h2.1v2.1h-2.1zM256.1,517.8h2.1v2.1h-2.1zM272.0,517.8h2.1v2.1h-2.1zM276.0,517.8h6.1v2.1h-6.1zM70.8,519.8h2.1v2.1h-2.1zM80.8,519.8h2.1v2.1h-2.1zM110.7,519.8h2.1v2.1h-2.1zM118.6,519.8h4.1v2.1h-4.1zM126.6,519.8h2.1v2.1h-2.1zM136.6,519.8h2.1v2.1h-2.1zM140.6,519.8h4.1v2.1h-4.1zM152.5,519.8h2.1v2.1h-2.1zM158.5,519.8h6.1v2.1h-6.1zM178.4,519.8h2.1v2.1h-2.1zM184.4,519.8h2.1v2.1h-2.1zM192.4,519.8h2.1v2.1h-2.1zM198.3,519.8h2.1v2.1h-2.1zM206.3,519.8h4.1v2.1h-4.1zM218.3,519.8h4.1v2.1h-4.1zM230.2,519.8h2.1v2.1h-2.1zM236.2,519.8h2.1v2.1h-2.1zM240.2,519.8h2.1v2.1h-2.1zM250.1,519.8h2.1v2.1h-2.1zM260.1,519.8h4.1v2.1h-4.1zM274.0,519.8h2.1v2.1h-2.1zM278.0,519.8h2.1v2.1h-2.1zM54.9,521.7h2.1v2.1h-2.1zM58.9,521.7h4.1v2.1h-4.1zM70.8,521.7h2.1v2.1h-2.1zM86.8,521.7h4.1v2.1h-4.1zM102.7,521.7h2.1v2.1h-2.1zM118.6,521.7h2.1v2.1h-2.1zM124.6,521.7h4.1v2.1h-4.1zM132.6,521.7h2.1v2.1h-2.1zM140.6,521.7h2.1v2.1h-2.1zM156.5,521.7h2.1v2.1h-2.1zM164.5,521.7h4.1v2.1h-4.1zM176.4,521.7h2.1v2.1h-2.1zM188.4,521.7h2.1v2.1h-2.1zM198.3,521.7h4.1v2.1h-4.1zM206.3,521.7h2.1v2.1h-2.1zM210.3,521.7h2.1v2.1h-2.1zM216.3,521.7h4.1v2.1h-4.1zM224.2,521.7h4.1v2.1h-4.1zM232.2,521.7h2.1v2.1h-2.1zM236.2,521.7h2.1v2.1h-2.1zM242.2,521.7h2.1v2.1h-2.1zM256.1,521.7h2.1v2.1h-2.1zM260.1,521.7h12.1v2.1h-12.1zM276.0,521.7h2.1v2.1h-2.1zM56.9,523.7h2.1v2.1h-2.1zM60.9,523.7h4.1v2.1h-4.1zM68.8,523.7h4.1v2.1h-4.1zM76.8,523.7h4.1v2.1h-4.1zM98.7,523.7h2.1v2.1h-2.1zM102.7,523.7h4.1v2.1h-4.1zM136.6,523.7h2.1v2.1h-2.1zM140.6,523.7h10.1v2.1h-10.1zM168.4,523.7h2.1v2.1h-2.1zM172.4,523.7h2.1v2.1h-2.1zM178.4,523.7h2.1v2.1h-2.1zM194.3,523.7h2.1v2.1h-2.1zM200.3,523.7h2.1v2.1h-2.1zM206.3,523.7h4.1v2.1h-4.1zM218.3,523.7h4.1v2.1h-4.1zM224.2,523.7h2.1v2.1h-2.1zM236.2,523.7h2.1v2.1h-2.1zM240.2,523.7h6.1v2.1h-6.1zM256.1,523.7h4.1v2.1h-4.1zM278.0,523.7h4.1v2.1h-4.1zM56.9,525.7h2.1v2.1h-2.1zM60.9,525.7h8.1v2.1h-8.1zM72.8,525.7h2.1v2.1h-2.1zM86.8,525.7h2.1v2.1h-2.1zM90.8,525.7h2.1v2.1h-2.1zM94.7,525.7h2.1v2.1h-2.1zM102.7,525.7h2.1v2.1h-2.1zM152.5,525.7h2.1v2.1h-2.1zM158.5,525.7h4.1v2.1h-4.1zM168.4,525.7h4.1v2.1h-4.1zM174.4,525.7h2.1v2.1h-2.1zM186.4,525.7h2.1v2.1h-2.1zM192.4,525.7h4.1v2.1h-4.1zM198.3,525.7h4.1v2.1h-4.1zM208.3,525.7h2.1v2.1h-2.1zM214.3,525.7h2.1v2.1h-2.1zM218.3,525.7h2.1v2.1h-2.1zM222.2,525.7h2.1v2.1h-2.1zM232.2,525.7h2.1v2.1h-2.1zM242.2,525.7h2.1v2.1h-2.1zM246.1,525.7h4.1v2.1h-4.1zM256.1,525.7h2.1v2.1h-2.1zM260.1,525.7h2.1v2.1h-2.1zM276.0,525.7h2.1v2.1h-2.1zM280.0,525.7h2.1v2.1h-2.1zM56.9,527.6h2.1v2.1h-2.1zM66.8,527.6h2.1v2.1h-2.1zM72.8,527.6h2.1v2.1h-2.1zM80.8,527.6h2.1v2.1h-2.1zM96.7,527.6h2.1v2.1h-2.1zM100.7,527.6h2.1v2.1h-2.1zM152.5,527.6h2.1v2.1h-2.1zM182.4,527.6h2.1v2.1h-2.1zM190.4,527.6h2.1v2.1h-2.1zM194.3,527.6h2.1v2.1h-2.1zM200.3,527.6h6.1v2.1h-6.1zM208.3,527.6h2.1v2.1h-2.1zM214.3,527.6h6.1v2.1h-6.1zM224.2,527.6h2.1v2.1h-2.1zM232.2,527.6h10.1v2.1h-10.1zM252.1,527.6h4.1v2.1h-4.1zM264.1,527.6h2.1v2.1h-2.1zM272.0,527.6h4.1v2.1h-4.1zM282.0,527.6h2.1v2.1h-2.1zM56.9,529.6h2.1v2.1h-2.1zM60.9,529.6h2.1v2.1h-2.1zM66.8,529.6h4.1v2.1h-4.1zM74.8,529.6h2.1v2.1h-2.1zM84.8,529.6h4.1v2.1h-4.1zM90.8,529.6h2.1v2.1h-2.1zM94.7,529.6h2.1v2.1h-2.1zM98.7,529.6h2.1v2.1h-2.1zM102.7,529.6h2.1v2.1h-2.1zM180.4,529.6h2.1v2.1h-2.1zM186.4,529.6h4.1v2.1h-4.1zM192.4,529.6h2.1v2.1h-2.1zM198.3,529.6h2.1v2.1h-2.1zM210.3,529.6h2.1v2.1h-2.1zM216.3,529.6h4.1v2.1h-4.1zM226.2,529.6h2.1v2.1h-2.1zM234.2,529.6h2.1v2.1h-2.1zM242.2,529.6h12.1v2.1h-12.1zM256.1,529.6h2.1v2.1h-2.1zM278.0,529.6h6.1v2.1h-6.1zM60.9,531.6h2.1v2.1h-2.1zM70.8,531.6h4.1v2.1h-4.1zM76.8,531.6h4.1v2.1h-4.1zM88.8,531.6h2.1v2.1h-2.1zM96.7,531.6h2.1v2.1h-2.1zM208.3,531.6h2.1v2.1h-2.1zM212.3,531.6h2.1v2.1h-2.1zM216.3,531.6h2.1v2.1h-2.1zM232.2,531.6h4.1v2.1h-4.1zM270.1,531.6h2.1v2.1h-2.1zM274.0,531.6h2.1v2.1h-2.1zM280.0,531.6h4.1v2.1h-4.1zM66.8,533.5h2.1v2.1h-2.1zM76.8,533.5h4.1v2.1h-4.1zM88.8,533.5h2.1v2.1h-2.1zM98.7,533.5h2.1v2.1h-2.1zM240.2,533.5h4.1v2.1h-4.1zM272.0,533.5h2.1v2.1h-2.1zM54.9,535.5h4.1v2.1h-4.1zM82.8,535.5h2.1v2.1h-2.1zM86.8,535.5h2.1v2.1h-2.1zM96.7,535.5h2.1v2.1h-2.1zM242.2,535.5h2.1v2.1h-2.1zM274.0,535.5h2.1v2.1h-2.1zM278.0,535.5h6.1v2.1h-6.1zM52.9,537.5h2.1v2.1h-2.1zM68.8,537.5h4.1v2.1h-4.1zM80.8,537.5h2.1v2.1h-2.1zM88.8,537.5h2.1v2.1h-2.1zM268.1,537.5h2.1v2.1h-2.1zM272.0,537.5h2.1v2.1h-2.1zM88.8,539.5h2.1v2.1h-2.1zM92.7,539.5h2.1v2.1h-2.1zM62.9,541.4h2.1v2.1h-2.1zM68.8,541.4h2.1v2.1h-2.1zM94.7,541.4h2.1v2.1h-2.1zM104.7,541.4h2.1v2.1h-2.1z"/><path fill="#bc375a" d="M54.9,511.9h2.1v2.1h-2.1zM276.0,511.9h2.1v2.1h-2.1zM92.7,515.8h2.1v2.1h-2.1zM112.7,515.8h2.1v2.1h-2.1zM118.6,515.8h2.1v2.1h-2.1zM154.5,515.8h2.1v2.1h-2.1zM162.5,515.8h2.1v2.1h-2.1zM172.4,515.8h2.1v2.1h-2.1zM206.3,515.8h2.1v2.1h-2.1zM234.2,515.8h2.1v2.1h-2.1zM246.1,515.8h2.1v2.1h-2.1zM268.1,515.8h2.1v2.1h-2.1zM278.0,515.8h2.1v2.1h-2.1zM92.7,517.8h2.1v2.1h-2.1zM98.7,517.8h2.1v2.1h-2.1zM116.7,517.8h2.1v2.1h-2.1zM120.6,517.8h2.1v2.1h-2.1zM180.4,517.8h2.1v2.1h-2.1zM248.1,517.8h2.1v2.1h-2.1zM96.7,519.8h2.1v2.1h-2.1zM104.7,519.8h2.1v2.1h-2.1zM176.4,519.8h2.1v2.1h-2.1zM242.2,519.8h2.1v2.1h-2.1zM268.1,519.8h2.1v2.1h-2.1zM74.8,521.7h4.1v2.1h-4.1zM84.8,521.7h2.1v2.1h-2.1zM130.6,521.7h2.1v2.1h-2.1zM136.6,521.7h2.1v2.1h-2.1zM142.6,521.7h2.1v2.1h-2.1zM158.5,521.7h4.1v2.1h-4.1zM168.4,521.7h2.1v2.1h-2.1zM172.4,521.7h2.1v2.1h-2.1zM184.4,521.7h4.1v2.1h-4.1zM222.2,521.7h2.1v2.1h-2.1zM230.2,521.7h2.1v2.1h-2.1zM258.1,521.7h2.1v2.1h-2.1zM54.9,523.7h2.1v2.1h-2.1zM66.8,523.7h2.1v2.1h-2.1zM74.8,523.7h2.1v2.1h-2.1zM82.8,523.7h2.1v2.1h-2.1zM100.7,523.7h2.1v2.1h-2.1zM120.6,523.7h2.1v2.1h-2.1zM134.6,523.7h2.1v2.1h-2.1zM154.5,523.7h2.1v2.1h-2.1zM162.5,523.7h2.1v2.1h-2.1zM176.4,523.7h2.1v2.1h-2.1zM184.4,523.7h2.1v2.1h-2.1zM192.4,523.7h2.1v2.1h-2.1zM202.3,523.7h4.1v2.1h-4.1zM226.2,523.7h4.1v2.1h-4.1zM238.2,523.7h2.1v2.1h-2.1zM260.1,523.7h2.1v2.1h-2.1zM264.1,523.7h2.1v2.1h-2.1zM282.0,523.7h2.1v2.1h-2.1zM52.9,525.7h2.1v2.1h-2.1zM70.8,525.7h2.1v2.1h-2.1zM78.8,525.7h2.1v2.1h-2.1zM82.8,525.7h2.1v2.1h-2.1zM88.8,525.7h2.1v2.1h-2.1zM98.7,525.7h4.1v2.1h-4.1zM104.7,525.7h2.1v2.1h-2.1zM148.5,525.7h2.1v2.1h-2.1zM154.5,525.7h2.1v2.1h-2.1zM162.5,525.7h2.1v2.1h-2.1zM172.4,525.7h2.1v2.1h-2.1zM178.4,525.7h8.1v2.1h-8.1zM190.4,525.7h2.1v2.1h-2.1zM224.2,525.7h2.1v2.1h-2.1zM250.1,525.7h2.1v2.1h-2.1zM264.1,525.7h2.1v2.1h-2.1zM270.1,525.7h2.1v2.1h-2.1zM282.0,525.7h2.1v2.1h-2.1zM54.9,527.6h2.1v2.1h-2.1zM68.8,527.6h2.1v2.1h-2.1zM74.8,527.6h2.1v2.1h-2.1zM86.8,527.6h10.1v2.1h-10.1zM164.5,527.6h2.1v2.1h-2.1zM170.4,527.6h2.1v2.1h-2.1zM178.4,527.6h4.1v2.1h-4.1zM184.4,527.6h6.1v2.1h-6.1zM192.4,527.6h2.1v2.1h-2.1zM196.3,527.6h2.1v2.1h-2.1zM206.3,527.6h2.1v2.1h-2.1zM222.2,527.6h2.1v2.1h-2.1zM230.2,527.6h2.1v2.1h-2.1zM250.1,527.6h2.1v2.1h-2.1zM258.1,527.6h2.1v2.1h-2.1zM262.1,527.6h2.1v2.1h-2.1zM278.0,527.6h2.1v2.1h-2.1zM62.9,529.6h4.1v2.1h-4.1zM72.8,529.6h2.1v2.1h-2.1zM76.8,529.6h2.1v2.1h-2.1zM82.8,529.6h2.1v2.1h-2.1zM174.4,529.6h2.1v2.1h-2.1zM194.3,529.6h4.1v2.1h-4.1zM202.3,529.6h2.1v2.1h-2.1zM206.3,529.6h2.1v2.1h-2.1zM230.2,529.6h2.1v2.1h-2.1zM262.1,529.6h2.1v2.1h-2.1zM274.0,529.6h2.1v2.1h-2.1zM52.9,531.6h4.1v2.1h-4.1zM58.9,531.6h2.1v2.1h-2.1zM64.9,531.6h6.1v2.1h-6.1zM84.8,531.6h2.1v2.1h-2.1zM94.7,531.6h2.1v2.1h-2.1zM102.7,531.6h4.1v2.1h-4.1zM186.4,531.6h2.1v2.1h-2.1zM190.4,531.6h4.1v2.1h-4.1zM200.3,531.6h2.1v2.1h-2.1zM204.3,531.6h2.1v2.1h-2.1zM210.3,531.6h2.1v2.1h-2.1zM224.2,531.6h2.1v2.1h-2.1zM228.2,531.6h2.1v2.1h-2.1zM236.2,531.6h2.1v2.1h-2.1zM240.2,531.6h2.1v2.1h-2.1zM252.1,531.6h2.1v2.1h-2.1zM256.1,531.6h4.1v2.1h-4.1zM264.1,531.6h2.1v2.1h-2.1zM268.1,531.6h2.1v2.1h-2.1zM272.0,531.6h2.1v2.1h-2.1zM276.0,531.6h4.1v2.1h-4.1zM52.9,533.5h2.1v2.1h-2.1zM58.9,533.5h8.1v2.1h-8.1zM72.8,533.5h4.1v2.1h-4.1zM80.8,533.5h4.1v2.1h-4.1zM86.8,533.5h2.1v2.1h-2.1zM96.7,533.5h2.1v2.1h-2.1zM104.7,533.5h2.1v2.1h-2.1zM204.3,533.5h2.1v2.1h-2.1zM228.2,533.5h2.1v2.1h-2.1zM234.2,533.5h2.1v2.1h-2.1zM244.2,533.5h4.1v2.1h-4.1zM250.1,533.5h4.1v2.1h-4.1zM262.1,533.5h2.1v2.1h-2.1zM266.1,533.5h6.1v2.1h-6.1zM274.0,533.5h2.1v2.1h-2.1zM278.0,533.5h4.1v2.1h-4.1zM58.9,535.5h2.1v2.1h-2.1zM68.8,535.5h4.1v2.1h-4.1zM76.8,535.5h2.1v2.1h-2.1zM90.8,535.5h6.1v2.1h-6.1zM100.7,535.5h2.1v2.1h-2.1zM220.2,535.5h2.1v2.1h-2.1zM228.2,535.5h2.1v2.1h-2.1zM244.2,535.5h2.1v2.1h-2.1zM260.1,535.5h4.1v2.1h-4.1zM266.1,535.5h4.1v2.1h-4.1zM54.9,537.5h2.1v2.1h-2.1zM58.9,537.5h2.1v2.1h-2.1zM64.9,537.5h2.1v2.1h-2.1zM84.8,537.5h4.1v2.1h-4.1zM90.8,537.5h2.1v2.1h-2.1zM94.7,537.5h4.1v2.1h-4.1zM104.7,537.5h2.1v2.1h-2.1zM248.1,537.5h2.1v2.1h-2.1zM270.1,537.5h2.1v2.1h-2.1zM274.0,537.5h2.1v2.1h-2.1zM62.9,539.5h2.1v2.1h-2.1zM66.8,539.5h2.1v2.1h-2.1zM70.8,539.5h4.1v2.1h-4.1zM78.8,539.5h2.1v2.1h-2.1zM98.7,539.5h2.1v2.1h-2.1zM264.1,539.5h2.1v2.1h-2.1zM274.0,539.5h2.1v2.1h-2.1zM60.9,541.4h2.1v2.1h-2.1zM58.9,543.4h2.1v2.1h-2.1zM88.8,543.4h2.1v2.1h-2.1zM58.9,545.4h2.1v2.1h-2.1z"/><path fill="#c43e52" d="M54.9,519.8h2.1v2.1h-2.1zM82.8,519.8h2.1v2.1h-2.1zM98.7,519.8h2.1v2.1h-2.1zM168.4,519.8h2.1v2.1h-2.1zM92.7,521.7h2.1v2.1h-2.1zM120.6,521.7h4.1v2.1h-4.1zM128.6,521.7h2.1v2.1h-2.1zM134.6,521.7h2.1v2.1h-2.1zM138.6,521.7h2.1v2.1h-2.1zM148.5,521.7h2.1v2.1h-2.1zM208.3,521.7h2.1v2.1h-2.1zM124.6,523.7h2.1v2.1h-2.1zM130.6,523.7h2.1v2.1h-2.1zM150.5,523.7h2.1v2.1h-2.1zM164.5,523.7h2.1v2.1h-2.1zM170.4,523.7h2.1v2.1h-2.1zM174.4,523.7h2.1v2.1h-2.1zM266.1,523.7h2.1v2.1h-2.1zM84.8,525.7h2.1v2.1h-2.1zM134.6,525.7h2.1v2.1h-2.1zM146.5,525.7h2.1v2.1h-2.1zM150.5,525.7h2.1v2.1h-2.1zM62.9,527.6h4.1v2.1h-4.1zM160.5,527.6h4.1v2.1h-4.1zM166.5,527.6h4.1v2.1h-4.1zM174.4,527.6h2.1v2.1h-2.1zM248.1,527.6h2.1v2.1h-2.1zM268.1,527.6h2.1v2.1h-2.1zM54.9,529.6h2.1v2.1h-2.1zM58.9,529.6h2.1v2.1h-2.1zM70.8,529.6h2.1v2.1h-2.1zM92.7,529.6h2.1v2.1h-2.1zM100.7,529.6h2.1v2.1h-2.1zM160.5,529.6h2.1v2.1h-2.1zM164.5,529.6h2.1v2.1h-2.1zM172.4,529.6h2.1v2.1h-2.1zM176.4,529.6h4.1v2.1h-4.1zM182.4,529.6h4.1v2.1h-4.1zM190.4,529.6h2.1v2.1h-2.1zM200.3,529.6h2.1v2.1h-2.1zM208.3,529.6h2.1v2.1h-2.1zM212.3,529.6h2.1v2.1h-2.1zM232.2,529.6h2.1v2.1h-2.1zM260.1,529.6h2.1v2.1h-2.1zM56.9,531.6h2.1v2.1h-2.1zM74.8,531.6h2.1v2.1h-2.1zM80.8,531.6h4.1v2.1h-4.1zM92.7,531.6h2.1v2.1h-2.1zM98.7,531.6h2.1v2.1h-2.1zM170.4,531.6h2.1v2.1h-2.1zM178.4,531.6h2.1v2.1h-2.1zM182.4,531.6h2.1v2.1h-2.1zM198.3,531.6h2.1v2.1h-2.1zM202.3,531.6h2.1v2.1h-2.1zM214.3,531.6h2.1v2.1h-2.1zM218.3,531.6h2.1v2.1h-2.1zM226.2,531.6h2.1v2.1h-2.1zM230.2,531.6h2.1v2.1h-2.1zM238.2,531.6h2.1v2.1h-2.1zM244.2,531.6h8.1v2.1h-8.1zM68.8,533.5h4.1v2.1h-4.1zM84.8,533.5h2.1v2.1h-2.1zM90.8,533.5h2.1v2.1h-2.1zM184.4,533.5h2.1v2.1h-2.1zM196.3,533.5h2.1v2.1h-2.1zM206.3,533.5h2.1v2.1h-2.1zM218.3,533.5h6.1v2.1h-6.1zM226.2,533.5h2.1v2.1h-2.1zM232.2,533.5h2.1v2.1h-2.1zM236.2,533.5h2.1v2.1h-2.1zM248.1,533.5h2.1v2.1h-2.1zM254.1,533.5h2.1v2.1h-2.1zM260.1,533.5h2.1v2.1h-2.1zM264.1,533.5h2.1v2.1h-2.1zM276.0,533.5h2.1v2.1h-2.1zM282.0,533.5h2.1v2.1h-2.1zM52.9,535.5h2.1v2.1h-2.1zM60.9,535.5h4.1v2.1h-4.1zM72.8,535.5h4.1v2.1h-4.1zM78.8,535.5h2.1v2.1h-2.1zM88.8,535.5h2.1v2.1h-2.1zM98.7,535.5h2.1v2.1h-2.1zM102.7,535.5h4.1v2.1h-4.1zM210.3,535.5h2.1v2.1h-2.1zM214.3,535.5h2.1v2.1h-2.1zM224.2,535.5h4.1v2.1h-4.1zM230.2,535.5h2.1v2.1h-2.1zM234.2,535.5h2.1v2.1h-2.1zM240.2,535.5h2.1v2.1h-2.1zM246.1,535.5h2.1v2.1h-2.1zM250.1,535.5h6.1v2.1h-6.1zM264.1,535.5h2.1v2.1h-2.1zM272.0,535.5h2.1v2.1h-2.1zM276.0,535.5h2.1v2.1h-2.1zM56.9,537.5h2.1v2.1h-2.1zM60.9,537.5h4.1v2.1h-4.1zM74.8,537.5h4.1v2.1h-4.1zM92.7,537.5h2.1v2.1h-2.1zM98.7,537.5h2.1v2.1h-2.1zM102.7,537.5h2.1v2.1h-2.1zM234.2,537.5h2.1v2.1h-2.1zM244.2,537.5h2.1v2.1h-2.1zM254.1,537.5h2.1v2.1h-2.1zM266.1,537.5h2.1v2.1h-2.1zM282.0,537.5h2.1v2.1h-2.1zM56.9,539.5h2.1v2.1h-2.1zM64.9,539.5h2.1v2.1h-2.1zM68.8,539.5h2.1v2.1h-2.1zM76.8,539.5h2.1v2.1h-2.1zM82.8,539.5h2.1v2.1h-2.1zM90.8,539.5h2.1v2.1h-2.1zM104.7,539.5h2.1v2.1h-2.1zM240.2,539.5h2.1v2.1h-2.1zM260.1,539.5h2.1v2.1h-2.1zM266.1,539.5h4.1v2.1h-4.1zM278.0,539.5h6.1v2.1h-6.1zM52.9,541.4h2.1v2.1h-2.1zM58.9,541.4h2.1v2.1h-2.1zM74.8,541.4h6.1v2.1h-6.1zM88.8,541.4h4.1v2.1h-4.1zM98.7,541.4h6.1v2.1h-6.1zM68.8,543.4h4.1v2.1h-4.1zM74.8,543.4h2.1v2.1h-2.1zM78.8,543.4h4.1v2.1h-4.1zM86.8,543.4h2.1v2.1h-2.1zM90.8,543.4h2.1v2.1h-2.1zM94.7,543.4h2.1v2.1h-2.1zM52.9,545.4h2.1v2.1h-2.1zM60.9,545.4h2.1v2.1h-2.1zM64.9,545.4h2.1v2.1h-2.1zM74.8,545.4h6.1v2.1h-6.1zM94.7,545.4h2.1v2.1h-2.1zM98.7,545.4h2.1v2.1h-2.1zM104.7,545.4h2.1v2.1h-2.1z"/><path fill="#cd444a" d="M110.7,521.7h8.1v2.1h-8.1zM122.6,523.7h2.1v2.1h-2.1zM128.6,523.7h2.1v2.1h-2.1zM132.6,523.7h2.1v2.1h-2.1zM138.6,523.7h2.1v2.1h-2.1zM252.1,523.7h2.1v2.1h-2.1zM138.6,525.7h2.1v2.1h-2.1zM142.6,525.7h4.1v2.1h-4.1zM156.5,525.7h2.1v2.1h-2.1zM164.5,525.7h4.1v2.1h-4.1zM138.6,527.6h2.1v2.1h-2.1zM144.5,527.6h2.1v2.1h-2.1zM148.5,527.6h2.1v2.1h-2.1zM154.5,527.6h2.1v2.1h-2.1zM158.5,527.6h2.1v2.1h-2.1zM172.4,527.6h2.1v2.1h-2.1zM152.5,529.6h6.1v2.1h-6.1zM166.5,529.6h6.1v2.1h-6.1zM204.3,529.6h2.1v2.1h-2.1zM222.2,529.6h4.1v2.1h-4.1zM236.2,529.6h4.1v2.1h-4.1zM254.1,529.6h2.1v2.1h-2.1zM62.9,531.6h2.1v2.1h-2.1zM86.8,531.6h2.1v2.1h-2.1zM90.8,531.6h2.1v2.1h-2.1zM162.5,531.6h2.1v2.1h-2.1zM172.4,531.6h2.1v2.1h-2.1zM176.4,531.6h2.1v2.1h-2.1zM180.4,531.6h2.1v2.1h-2.1zM194.3,531.6h4.1v2.1h-4.1zM206.3,531.6h2.1v2.1h-2.1zM242.2,531.6h2.1v2.1h-2.1zM172.4,533.5h2.1v2.1h-2.1zM188.4,533.5h4.1v2.1h-4.1zM194.3,533.5h2.1v2.1h-2.1zM198.3,533.5h4.1v2.1h-4.1zM208.3,533.5h2.1v2.1h-2.1zM212.3,533.5h4.1v2.1h-4.1zM224.2,533.5h2.1v2.1h-2.1zM230.2,533.5h2.1v2.1h-2.1zM256.1,533.5h2.1v2.1h-2.1zM66.8,535.5h2.1v2.1h-2.1zM80.8,535.5h2.1v2.1h-2.1zM196.3,535.5h4.1v2.1h-4.1zM212.3,535.5h2.1v2.1h-2.1zM218.3,535.5h2.1v2.1h-2.1zM222.2,535.5h2.1v2.1h-2.1zM232.2,535.5h2.1v2.1h-2.1zM236.2,535.5h2.1v2.1h-2.1zM248.1,535.5h2.1v2.1h-2.1zM256.1,535.5h4.1v2.1h-4.1zM270.1,535.5h2.1v2.1h-2.1zM66.8,537.5h2.1v2.1h-2.1zM82.8,537.5h2.1v2.1h-2.1zM100.7,537.5h2.1v2.1h-2.1zM226.2,537.5h6.1v2.1h-6.1zM238.2,537.5h2.1v2.1h-2.1zM246.1,537.5h2.1v2.1h-2.1zM252.1,537.5h2.1v2.1h-2.1zM256.1,537.5h4.1v2.1h-4.1zM264.1,537.5h2.1v2.1h-2.1zM276.0,537.5h2.1v2.1h-2.1zM280.0,537.5h2.1v2.1h-2.1zM52.9,539.5h2.1v2.1h-2.1zM58.9,539.5h4.1v2.1h-4.1zM74.8,539.5h2.1v2.1h-2.1zM80.8,539.5h2.1v2.1h-2.1zM84.8,539.5h2.1v2.1h-2.1zM94.7,539.5h2.1v2.1h-2.1zM100.7,539.5h4.1v2.1h-4.1zM230.2,539.5h2.1v2.1h-2.1zM238.2,539.5h2.1v2.1h-2.1zM254.1,539.5h2.1v2.1h-2.1zM258.1,539.5h2.1v2.1h-2.1zM262.1,539.5h2.1v2.1h-2.1zM272.0,539.5h2.1v2.1h-2.1zM276.0,539.5h2.1v2.1h-2.1zM54.9,541.4h4.1v2.1h-4.1zM70.8,541.4h4.1v2.1h-4.1zM82.8,541.4h6.1v2.1h-6.1zM254.1,541.4h2.1v2.1h-2.1zM258.1,541.4h2.1v2.1h-2.1zM270.1,541.4h2.1v2.1h-2.1zM278.0,541.4h2.1v2.1h-2.1zM54.9,543.4h4.1v2.1h-4.1zM60.9,543.4h2.1v2.1h-2.1zM66.8,543.4h2.1v2.1h-2.1zM72.8,543.4h2.1v2.1h-2.1zM84.8,543.4h2.1v2.1h-2.1zM96.7,543.4h2.1v2.1h-2.1zM104.7,543.4h2.1v2.1h-2.1zM276.0,543.4h2.1v2.1h-2.1zM66.8,545.4h8.1v2.1h-8.1zM80.8,545.4h2.1v2.1h-2.1zM86.8,545.4h2.1v2.1h-2.1zM92.7,545.4h2.1v2.1h-2.1zM96.7,545.4h2.1v2.1h-2.1zM100.7,545.4h2.1v2.1h-2.1zM62.9,547.3h2.1v2.1h-2.1z"/><path fill="#d54a42" d="M106.7,521.7h4.1v2.1h-4.1zM116.7,523.7h2.1v2.1h-2.1zM126.6,523.7h2.1v2.1h-2.1zM122.6,525.7h2.1v2.1h-2.1zM126.6,525.7h2.1v2.1h-2.1zM130.6,525.7h4.1v2.1h-4.1zM136.6,525.7h2.1v2.1h-2.1zM140.6,525.7h2.1v2.1h-2.1zM140.6,527.6h2.1v2.1h-2.1zM146.5,527.6h2.1v2.1h-2.1zM150.5,527.6h2.1v2.1h-2.1zM156.5,527.6h2.1v2.1h-2.1zM148.5,529.6h4.1v2.1h-4.1zM220.2,529.6h2.1v2.1h-2.1zM166.5,531.6h2.1v2.1h-2.1zM174.4,531.6h2.1v2.1h-2.1zM184.4,531.6h2.1v2.1h-2.1zM188.4,531.6h2.1v2.1h-2.1zM176.4,533.5h2.1v2.1h-2.1zM182.4,533.5h2.1v2.1h-2.1zM186.4,533.5h2.1v2.1h-2.1zM202.3,533.5h2.1v2.1h-2.1zM210.3,533.5h2.1v2.1h-2.1zM216.3,533.5h2.1v2.1h-2.1zM238.2,533.5h2.1v2.1h-2.1zM188.4,535.5h2.1v2.1h-2.1zM204.3,535.5h4.1v2.1h-4.1zM216.3,535.5h2.1v2.1h-2.1zM238.2,535.5h2.1v2.1h-2.1zM72.8,537.5h2.1v2.1h-2.1zM78.8,537.5h2.1v2.1h-2.1zM212.3,537.5h8.1v2.1h-8.1zM222.2,537.5h4.1v2.1h-4.1zM236.2,537.5h2.1v2.1h-2.1zM242.2,537.5h2.1v2.1h-2.1zM250.1,537.5h2.1v2.1h-2.1zM262.1,537.5h2.1v2.1h-2.1zM278.0,537.5h2.1v2.1h-2.1zM54.9,539.5h2.1v2.1h-2.1zM86.8,539.5h2.1v2.1h-2.1zM96.7,539.5h2.1v2.1h-2.1zM218.3,539.5h6.1v2.1h-6.1zM228.2,539.5h2.1v2.1h-2.1zM234.2,539.5h4.1v2.1h-4.1zM244.2,539.5h6.1v2.1h-6.1zM270.1,539.5h2.1v2.1h-2.1zM64.9,541.4h4.1v2.1h-4.1zM80.8,541.4h2.1v2.1h-2.1zM92.7,541.4h2.1v2.1h-2.1zM96.7,541.4h2.1v2.1h-2.1zM252.1,541.4h2.1v2.1h-2.1zM256.1,541.4h2.1v2.1h-2.1zM266.1,541.4h4.1v2.1h-4.1zM280.0,541.4h4.1v2.1h-4.1zM64.9,543.4h2.1v2.1h-2.1zM82.8,543.4h2.1v2.1h-2.1zM92.7,543.4h2.1v2.1h-2.1zM98.7,543.4h6.1v2.1h-6.1zM262.1,543.4h2.1v2.1h-2.1zM282.0,543.4h2.1v2.1h-2.1zM54.9,545.4h2.1v2.1h-2.1zM62.9,545.4h2.1v2.1h-2.1zM84.8,545.4h2.1v2.1h-2.1zM90.8,545.4h2.1v2.1h-2.1zM102.7,545.4h2.1v2.1h-2.1zM58.9,547.3h2.1v2.1h-2.1zM68.8,547.3h2.1v2.1h-2.1zM76.8,547.3h2.1v2.1h-2.1zM86.8,547.3h2.1v2.1h-2.1z"/><path fill="#dd513a" d="M112.7,523.7h2.1v2.1h-2.1zM118.6,523.7h2.1v2.1h-2.1zM124.6,525.7h2.1v2.1h-2.1zM128.6,525.7h2.1v2.1h-2.1zM142.6,527.6h2.1v2.1h-2.1zM140.6,529.6h8.1v2.1h-8.1zM154.5,531.6h2.1v2.1h-2.1zM158.5,531.6h4.1v2.1h-4.1zM168.4,531.6h2.1v2.1h-2.1zM166.5,533.5h2.1v2.1h-2.1zM174.4,533.5h2.1v2.1h-2.1zM178.4,533.5h4.1v2.1h-4.1zM192.4,533.5h2.1v2.1h-2.1zM174.4,535.5h2.1v2.1h-2.1zM178.4,535.5h2.1v2.1h-2.1zM182.4,535.5h2.1v2.1h-2.1zM186.4,535.5h2.1v2.1h-2.1zM194.3,535.5h2.1v2.1h-2.1zM200.3,535.5h4.1v2.1h-4.1zM208.3,535.5h2.1v2.1h-2.1zM202.3,537.5h2.1v2.1h-2.1zM220.2,537.5h2.1v2.1h-2.1zM232.2,537.5h2.1v2.1h-2.1zM240.2,537.5h2.1v2.1h-2.1zM260.1,537.5h2.1v2.1h-2.1zM194.3,539.5h2.1v2.1h-2.1zM204.3,539.5h2.1v2.1h-2.1zM232.2,539.5h2.1v2.1h-2.1zM250.1,539.5h2.1v2.1h-2.1zM256.1,539.5h2.1v2.1h-2.1zM228.2,541.4h2.1v2.1h-2.1zM244.2,541.4h2.1v2.1h-2.1zM248.1,541.4h4.1v2.1h-4.1zM260.1,541.4h6.1v2.1h-6.1zM272.0,541.4h4.1v2.1h-4.1zM52.9,543.4h2.1v2.1h-2.1zM62.9,543.4h2.1v2.1h-2.1zM76.8,543.4h2.1v2.1h-2.1zM244.2,543.4h2.1v2.1h-2.1zM264.1,543.4h4.1v2.1h-4.1zM270.1,543.4h2.1v2.1h-2.1zM280.0,543.4h2.1v2.1h-2.1zM88.8,545.4h2.1v2.1h-2.1zM246.1,545.4h2.1v2.1h-2.1zM52.9,547.3h2.1v2.1h-2.1zM56.9,547.3h2.1v2.1h-2.1zM66.8,547.3h2.1v2.1h-2.1zM72.8,547.3h4.1v2.1h-4.1zM82.8,547.3h4.1v2.1h-4.1zM90.8,547.3h6.1v2.1h-6.1zM98.7,547.3h6.1v2.1h-6.1z"/><path fill="#e25b32" d="M128.6,527.6h4.1v2.1h-4.1zM134.6,527.6h4.1v2.1h-4.1zM162.5,529.6h2.1v2.1h-2.1zM156.5,531.6h2.1v2.1h-2.1zM164.5,533.5h2.1v2.1h-2.1zM168.4,533.5h2.1v2.1h-2.1zM168.4,535.5h2.1v2.1h-2.1zM190.4,535.5h4.1v2.1h-4.1zM178.4,537.5h2.1v2.1h-2.1zM184.4,537.5h4.1v2.1h-4.1zM190.4,537.5h2.1v2.1h-2.1zM194.3,537.5h8.1v2.1h-8.1zM204.3,537.5h2.1v2.1h-2.1zM208.3,537.5h4.1v2.1h-4.1zM202.3,539.5h2.1v2.1h-2.1zM206.3,539.5h2.1v2.1h-2.1zM216.3,539.5h2.1v2.1h-2.1zM224.2,539.5h4.1v2.1h-4.1zM242.2,539.5h2.1v2.1h-2.1zM252.1,539.5h2.1v2.1h-2.1zM226.2,541.4h2.1v2.1h-2.1zM234.2,541.4h2.1v2.1h-2.1zM242.2,541.4h2.1v2.1h-2.1zM246.1,541.4h2.1v2.1h-2.1zM276.0,541.4h2.1v2.1h-2.1zM232.2,543.4h4.1v2.1h-4.1zM248.1,543.4h4.1v2.1h-4.1zM254.1,543.4h2.1v2.1h-2.1zM260.1,543.4h2.1v2.1h-2.1zM268.1,543.4h2.1v2.1h-2.1zM272.0,543.4h4.1v2.1h-4.1zM82.8,545.4h2.1v2.1h-2.1zM242.2,545.4h2.1v2.1h-2.1zM252.1,545.4h2.1v2.1h-2.1zM264.1,545.4h2.1v2.1h-2.1zM268.1,545.4h2.1v2.1h-2.1zM278.0,545.4h2.1v2.1h-2.1zM282.0,545.4h2.1v2.1h-2.1zM54.9,547.3h2.1v2.1h-2.1zM60.9,547.3h2.1v2.1h-2.1zM64.9,547.3h2.1v2.1h-2.1zM78.8,547.3h4.1v2.1h-4.1zM96.7,547.3h2.1v2.1h-2.1zM104.7,547.3h2.1v2.1h-2.1z"/><path fill="#e86529" d="M110.7,523.7h2.1v2.1h-2.1zM114.7,523.7h2.1v2.1h-2.1zM108.7,525.7h2.1v2.1h-2.1zM116.7,525.7h6.1v2.1h-6.1zM126.6,527.6h2.1v2.1h-2.1zM132.6,527.6h2.1v2.1h-2.1zM134.6,529.6h4.1v2.1h-4.1zM158.5,529.6h2.1v2.1h-2.1zM146.5,531.6h2.1v2.1h-2.1zM150.5,531.6h2.1v2.1h-2.1zM164.5,531.6h2.1v2.1h-2.1zM144.5,533.5h2.1v2.1h-2.1zM150.5,533.5h4.1v2.1h-4.1zM156.5,533.5h6.1v2.1h-6.1zM170.4,533.5h2.1v2.1h-2.1zM154.5,535.5h2.1v2.1h-2.1zM164.5,535.5h2.1v2.1h-2.1zM170.4,535.5h4.1v2.1h-4.1zM176.4,535.5h2.1v2.1h-2.1zM180.4,535.5h2.1v2.1h-2.1zM184.4,535.5h2.1v2.1h-2.1zM166.5,537.5h2.1v2.1h-2.1zM172.4,537.5h2.1v2.1h-2.1zM180.4,537.5h4.1v2.1h-4.1zM188.4,537.5h2.1v2.1h-2.1zM206.3,537.5h2.1v2.1h-2.1zM184.4,539.5h2.1v2.1h-2.1zM188.4,539.5h6.1v2.1h-6.1zM196.3,539.5h4.1v2.1h-4.1zM208.3,539.5h2.1v2.1h-2.1zM214.3,539.5h2.1v2.1h-2.1zM216.3,541.4h2.1v2.1h-2.1zM220.2,541.4h6.1v2.1h-6.1zM236.2,541.4h6.1v2.1h-6.1zM224.2,543.4h2.1v2.1h-2.1zM228.2,543.4h2.1v2.1h-2.1zM236.2,543.4h6.1v2.1h-6.1zM246.1,543.4h2.1v2.1h-2.1zM256.1,543.4h2.1v2.1h-2.1zM278.0,543.4h2.1v2.1h-2.1zM56.9,545.4h2.1v2.1h-2.1zM248.1,545.4h2.1v2.1h-2.1zM256.1,545.4h6.1v2.1h-6.1zM266.1,545.4h2.1v2.1h-2.1zM270.1,545.4h2.1v2.1h-2.1zM274.0,545.4h4.1v2.1h-4.1zM280.0,545.4h2.1v2.1h-2.1zM70.8,547.3h2.1v2.1h-2.1zM88.8,547.3h2.1v2.1h-2.1z"/><path fill="#ee6e21" d="M106.7,523.7h4.1v2.1h-4.1zM114.7,525.7h2.1v2.1h-2.1zM110.7,527.6h2.1v2.1h-2.1zM122.6,527.6h2.1v2.1h-2.1zM138.6,529.6h2.1v2.1h-2.1zM132.6,531.6h2.1v2.1h-2.1zM136.6,531.6h2.1v2.1h-2.1zM140.6,531.6h2.1v2.1h-2.1zM148.5,531.6h2.1v2.1h-2.1zM152.5,531.6h2.1v2.1h-2.1zM146.5,533.5h2.1v2.1h-2.1zM162.5,533.5h2.1v2.1h-2.1zM150.5,535.5h2.1v2.1h-2.1zM162.5,535.5h2.1v2.1h-2.1zM168.4,537.5h4.1v2.1h-4.1zM192.4,537.5h2.1v2.1h-2.1zM174.4,539.5h2.1v2.1h-2.1zM178.4,539.5h2.1v2.1h-2.1zM200.3,539.5h2.1v2.1h-2.1zM210.3,539.5h2.1v2.1h-2.1zM196.3,541.4h4.1v2.1h-4.1zM202.3,541.4h2.1v2.1h-2.1zM208.3,541.4h2.1v2.1h-2.1zM212.3,541.4h4.1v2.1h-4.1zM218.3,541.4h2.1v2.1h-2.1zM230.2,541.4h4.1v2.1h-4.1zM206.3,543.4h2.1v2.1h-2.1zM222.2,543.4h2.1v2.1h-2.1zM226.2,543.4h2.1v2.1h-2.1zM230.2,543.4h2.1v2.1h-2.1zM242.2,543.4h2.1v2.1h-2.1zM252.1,543.4h2.1v2.1h-2.1zM258.1,543.4h2.1v2.1h-2.1zM228.2,545.4h6.1v2.1h-6.1zM236.2,545.4h4.1v2.1h-4.1zM244.2,545.4h2.1v2.1h-2.1zM272.0,545.4h2.1v2.1h-2.1zM246.1,547.3h2.1v2.1h-2.1z"/><path fill="#f37819" d="M106.7,525.7h2.1v2.1h-2.1zM112.7,525.7h2.1v2.1h-2.1zM108.7,527.6h2.1v2.1h-2.1zM114.7,527.6h8.1v2.1h-8.1zM124.6,527.6h2.1v2.1h-2.1zM112.7,529.6h4.1v2.1h-4.1zM130.6,529.6h4.1v2.1h-4.1zM120.6,531.6h2.1v2.1h-2.1zM138.6,531.6h2.1v2.1h-2.1zM144.5,531.6h2.1v2.1h-2.1zM130.6,533.5h2.1v2.1h-2.1zM138.6,535.5h2.1v2.1h-2.1zM144.5,535.5h2.1v2.1h-2.1zM158.5,535.5h4.1v2.1h-4.1zM166.5,535.5h2.1v2.1h-2.1zM144.5,537.5h2.1v2.1h-2.1zM148.5,537.5h2.1v2.1h-2.1zM164.5,537.5h2.1v2.1h-2.1zM174.4,537.5h4.1v2.1h-4.1zM158.5,539.5h2.1v2.1h-2.1zM164.5,539.5h2.1v2.1h-2.1zM170.4,539.5h2.1v2.1h-2.1zM176.4,539.5h2.1v2.1h-2.1zM182.4,539.5h2.1v2.1h-2.1zM186.4,539.5h2.1v2.1h-2.1zM212.3,539.5h2.1v2.1h-2.1zM184.4,541.4h2.1v2.1h-2.1zM200.3,541.4h2.1v2.1h-2.1zM210.3,541.4h2.1v2.1h-2.1zM204.3,543.4h2.1v2.1h-2.1zM218.3,543.4h4.1v2.1h-4.1zM224.2,545.4h2.1v2.1h-2.1zM234.2,545.4h2.1v2.1h-2.1zM240.2,545.4h2.1v2.1h-2.1zM254.1,545.4h2.1v2.1h-2.1zM262.1,545.4h2.1v2.1h-2.1zM256.1,547.3h2.1v2.1h-2.1z"/><path fill="#f58315" d="M110.7,525.7h2.1v2.1h-2.1zM116.7,529.6h4.1v2.1h-4.1zM124.6,529.6h6.1v2.1h-6.1zM114.7,531.6h2.1v2.1h-2.1zM118.6,531.6h2.1v2.1h-2.1zM126.6,531.6h4.1v2.1h-4.1zM142.6,531.6h2.1v2.1h-2.1zM136.6,533.5h8.1v2.1h-8.1zM148.5,533.5h2.1v2.1h-2.1zM154.5,533.5h2.1v2.1h-2.1zM146.5,535.5h4.1v2.1h-4.1zM152.5,535.5h2.1v2.1h-2.1zM150.5,537.5h6.1v2.1h-6.1zM158.5,537.5h4.1v2.1h-4.1zM162.5,539.5h2.1v2.1h-2.1zM168.4,539.5h2.1v2.1h-2.1zM166.5,541.4h2.1v2.1h-2.1zM170.4,541.4h4.1v2.1h-4.1zM180.4,541.4h4.1v2.1h-4.1zM188.4,541.4h2.1v2.1h-2.1zM192.4,541.4h4.1v2.1h-4.1zM204.3,541.4h4.1v2.1h-4.1zM188.4,543.4h2.1v2.1h-2.1zM198.3,543.4h2.1v2.1h-2.1zM210.3,543.4h2.1v2.1h-2.1zM216.3,543.4h2.1v2.1h-2.1zM216.3,545.4h6.1v2.1h-6.1zM226.2,545.4h2.1v2.1h-2.1zM250.1,545.4h2.1v2.1h-2.1zM244.2,547.3h2.1v2.1h-2.1zM260.1,547.3h2.1v2.1h-2.1zM268.1,547.3h2.1v2.1h-2.1zM276.0,547.3h2.1v2.1h-2.1z"/><path fill="#f88e12" d="M106.7,527.6h2.1v2.1h-2.1zM106.7,529.6h6.1v2.1h-6.1zM120.6,529.6h4.1v2.1h-4.1zM134.6,531.6h2.1v2.1h-2.1zM114.7,533.5h2.1v2.1h-2.1zM120.6,533.5h2.1v2.1h-2.1zM126.6,533.5h2.1v2.1h-2.1zM132.6,533.5h4.1v2.1h-4.1zM132.6,535.5h6.1v2.1h-6.1zM142.6,535.5h2.1v2.1h-2.1zM156.5,535.5h2.1v2.1h-2.1zM132.6,537.5h2.1v2.1h-2.1zM140.6,537.5h4.1v2.1h-4.1zM162.5,537.5h2.1v2.1h-2.1zM144.5,539.5h2.1v2.1h-2.1zM152.5,539.5h6.1v2.1h-6.1zM166.5,539.5h2.1v2.1h-2.1zM172.4,539.5h2.1v2.1h-2.1zM180.4,539.5h2.1v2.1h-2.1zM154.5,541.4h2.1v2.1h-2.1zM178.4,541.4h2.1v2.1h-2.1zM184.4,543.4h2.1v2.1h-2.1zM190.4,543.4h4.1v2.1h-4.1zM196.3,543.4h2.1v2.1h-2.1zM200.3,543.4h4.1v2.1h-4.1zM212.3,543.4h4.1v2.1h-4.1zM210.3,545.4h2.1v2.1h-2.1zM222.2,545.4h2.1v2.1h-2.1zM224.2,547.3h2.1v2.1h-2.1zM234.2,547.3h4.1v2.1h-4.1zM240.2,547.3h4.1v2.1h-4.1zM254.1,547.3h2.1v2.1h-2.1zM258.1,547.3h2.1v2.1h-2.1zM262.1,547.3h6.1v2.1h-6.1zM270.1,547.3h4.1v2.1h-4.1zM280.0,547.3h4.1v2.1h-4.1z"/><path fill="#fa9a0e" d="M112.7,527.6h2.1v2.1h-2.1zM110.7,531.6h4.1v2.1h-4.1zM116.7,531.6h2.1v2.1h-2.1zM122.6,531.6h4.1v2.1h-4.1zM130.6,531.6h2.1v2.1h-2.1zM110.7,533.5h4.1v2.1h-4.1zM118.6,533.5h2.1v2.1h-2.1zM122.6,533.5h4.1v2.1h-4.1zM128.6,533.5h2.1v2.1h-2.1zM120.6,535.5h4.1v2.1h-4.1zM126.6,535.5h2.1v2.1h-2.1zM130.6,535.5h2.1v2.1h-2.1zM140.6,535.5h2.1v2.1h-2.1zM122.6,537.5h2.1v2.1h-2.1zM126.6,537.5h6.1v2.1h-6.1zM146.5,537.5h2.1v2.1h-2.1zM156.5,537.5h2.1v2.1h-2.1zM150.5,539.5h2.1v2.1h-2.1zM160.5,539.5h2.1v2.1h-2.1zM150.5,541.4h2.1v2.1h-2.1zM160.5,541.4h2.1v2.1h-2.1zM164.5,541.4h2.1v2.1h-2.1zM174.4,541.4h4.1v2.1h-4.1zM186.4,541.4h2.1v2.1h-2.1zM190.4,541.4h2.1v2.1h-2.1zM170.4,543.4h6.1v2.1h-6.1zM180.4,543.4h2.1v2.1h-2.1zM194.3,543.4h2.1v2.1h-2.1zM208.3,543.4h2.1v2.1h-2.1zM180.4,545.4h2.1v2.1h-2.1zM186.4,545.4h2.1v2.1h-2.1zM194.3,545.4h4.1v2.1h-4.1zM202.3,545.4h6.1v2.1h-6.1zM212.3,545.4h2.1v2.1h-2.1zM220.2,547.3h2.1v2.1h-2.1zM226.2,547.3h6.1v2.1h-6.1zM250.1,547.3h2.1v2.1h-2.1zM274.0,547.3h2.1v2.1h-2.1zM278.0,547.3h2.1v2.1h-2.1z"/><path fill="#fca50a" d="M108.7,531.6h2.1v2.1h-2.1zM110.7,535.5h2.1v2.1h-2.1zM114.7,535.5h4.1v2.1h-4.1zM124.6,535.5h2.1v2.1h-2.1zM114.7,537.5h2.1v2.1h-2.1zM118.6,537.5h2.1v2.1h-2.1zM124.6,537.5h2.1v2.1h-2.1zM138.6,537.5h2.1v2.1h-2.1zM106.7,539.5h2.1v2.1h-2.1zM122.6,539.5h6.1v2.1h-6.1zM130.6,539.5h4.1v2.1h-4.1zM138.6,539.5h4.1v2.1h-4.1zM126.6,541.4h2.1v2.1h-2.1zM142.6,541.4h4.1v2.1h-4.1zM152.5,541.4h2.1v2.1h-2.1zM168.4,541.4h2.1v2.1h-2.1zM148.5,543.4h2.1v2.1h-2.1zM154.5,543.4h8.1v2.1h-8.1zM166.5,543.4h4.1v2.1h-4.1zM176.4,543.4h4.1v2.1h-4.1zM182.4,543.4h2.1v2.1h-2.1zM160.5,545.4h2.1v2.1h-2.1zM172.4,545.4h2.1v2.1h-2.1zM188.4,545.4h2.1v2.1h-2.1zM192.4,545.4h2.1v2.1h-2.1zM198.3,545.4h4.1v2.1h-4.1zM208.3,545.4h2.1v2.1h-2.1zM214.3,545.4h2.1v2.1h-2.1zM216.3,547.3h4.1v2.1h-4.1zM222.2,547.3h2.1v2.1h-2.1zM238.2,547.3h2.1v2.1h-2.1zM252.1,547.3h2.1v2.1h-2.1z"/><path fill="#fab119" d="M106.7,531.6h2.1v2.1h-2.1zM106.7,533.5h4.1v2.1h-4.1zM116.7,533.5h2.1v2.1h-2.1zM118.6,535.5h2.1v2.1h-2.1zM128.6,535.5h2.1v2.1h-2.1zM106.7,537.5h2.1v2.1h-2.1zM110.7,537.5h2.1v2.1h-2.1zM120.6,537.5h2.1v2.1h-2.1zM134.6,537.5h4.1v2.1h-4.1zM108.7,539.5h2.1v2.1h-2.1zM120.6,539.5h2.1v2.1h-2.1zM134.6,539.5h4.1v2.1h-4.1zM142.6,539.5h2.1v2.1h-2.1zM146.5,539.5h4.1v2.1h-4.1zM116.7,541.4h2.1v2.1h-2.1zM122.6,541.4h2.1v2.1h-2.1zM130.6,541.4h2.1v2.1h-2.1zM134.6,541.4h8.1v2.1h-8.1zM146.5,541.4h2.1v2.1h-2.1zM158.5,541.4h2.1v2.1h-2.1zM162.5,541.4h2.1v2.1h-2.1zM142.6,543.4h2.1v2.1h-2.1zM146.5,543.4h2.1v2.1h-2.1zM164.5,543.4h2.1v2.1h-2.1zM186.4,543.4h2.1v2.1h-2.1zM146.5,545.4h4.1v2.1h-4.1zM166.5,545.4h2.1v2.1h-2.1zM174.4,545.4h6.1v2.1h-6.1zM182.4,545.4h4.1v2.1h-4.1zM190.4,545.4h2.1v2.1h-2.1zM176.4,547.3h2.1v2.1h-2.1zM184.4,547.3h2.1v2.1h-2.1zM190.4,547.3h2.1v2.1h-2.1zM198.3,547.3h2.1v2.1h-2.1zM202.3,547.3h2.1v2.1h-2.1zM206.3,547.3h2.1v2.1h-2.1zM214.3,547.3h2.1v2.1h-2.1zM232.2,547.3h2.1v2.1h-2.1zM248.1,547.3h2.1v2.1h-2.1z"/><path fill="#f9be28" d="M112.7,535.5h2.1v2.1h-2.1zM108.7,537.5h2.1v2.1h-2.1zM116.7,537.5h2.1v2.1h-2.1zM110.7,539.5h6.1v2.1h-6.1zM118.6,539.5h2.1v2.1h-2.1zM114.7,541.4h2.1v2.1h-2.1zM118.6,541.4h4.1v2.1h-4.1zM128.6,541.4h2.1v2.1h-2.1zM148.5,541.4h2.1v2.1h-2.1zM156.5,541.4h2.1v2.1h-2.1zM116.7,543.4h4.1v2.1h-4.1zM126.6,543.4h2.1v2.1h-2.1zM130.6,543.4h6.1v2.1h-6.1zM150.5,543.4h2.1v2.1h-2.1zM162.5,543.4h2.1v2.1h-2.1zM144.5,545.4h2.1v2.1h-2.1zM150.5,545.4h4.1v2.1h-4.1zM156.5,545.4h4.1v2.1h-4.1zM162.5,545.4h2.1v2.1h-2.1zM170.4,545.4h2.1v2.1h-2.1zM172.4,547.3h4.1v2.1h-4.1zM186.4,547.3h4.1v2.1h-4.1zM192.4,547.3h2.1v2.1h-2.1zM204.3,547.3h2.1v2.1h-2.1zM212.3,547.3h2.1v2.1h-2.1z"/><path fill="#f8ca37" d="M106.7,535.5h4.1v2.1h-4.1zM112.7,537.5h2.1v2.1h-2.1zM116.7,539.5h2.1v2.1h-2.1zM128.6,539.5h2.1v2.1h-2.1zM106.7,541.4h2.1v2.1h-2.1zM110.7,541.4h2.1v2.1h-2.1zM132.6,541.4h2.1v2.1h-2.1zM124.6,543.4h2.1v2.1h-2.1zM136.6,543.4h6.1v2.1h-6.1zM144.5,543.4h2.1v2.1h-2.1zM152.5,543.4h2.1v2.1h-2.1zM132.6,545.4h2.1v2.1h-2.1zM154.5,545.4h2.1v2.1h-2.1zM164.5,545.4h2.1v2.1h-2.1zM122.6,547.3h4.1v2.1h-4.1zM132.6,547.3h2.1v2.1h-2.1zM150.5,547.3h4.1v2.1h-4.1zM160.5,547.3h8.1v2.1h-8.1zM180.4,547.3h4.1v2.1h-4.1zM194.3,547.3h4.1v2.1h-4.1zM208.3,547.3h4.1v2.1h-4.1z"/><path fill="#f6d746" d="M108.7,541.4h2.1v2.1h-2.1zM112.7,541.4h2.1v2.1h-2.1zM124.6,541.4h2.1v2.1h-2.1zM106.7,543.4h4.1v2.1h-4.1zM112.7,543.4h4.1v2.1h-4.1zM120.6,543.4h2.1v2.1h-2.1zM128.6,543.4h2.1v2.1h-2.1zM124.6,545.4h8.1v2.1h-8.1zM134.6,545.4h4.1v2.1h-4.1zM142.6,545.4h2.1v2.1h-2.1zM168.4,545.4h2.1v2.1h-2.1zM128.6,547.3h2.1v2.1h-2.1zM138.6,547.3h2.1v2.1h-2.1zM142.6,547.3h2.1v2.1h-2.1zM146.5,547.3h4.1v2.1h-4.1zM168.4,547.3h2.1v2.1h-2.1zM178.4,547.3h2.1v2.1h-2.1z"/><path fill="#f8e15e" d="M110.7,543.4h2.1v2.1h-2.1zM122.6,543.4h2.1v2.1h-2.1zM106.7,545.4h8.1v2.1h-8.1zM116.7,545.4h2.1v2.1h-2.1zM120.6,545.4h4.1v2.1h-4.1zM138.6,545.4h4.1v2.1h-4.1zM108.7,547.3h2.1v2.1h-2.1zM116.7,547.3h2.1v2.1h-2.1zM130.6,547.3h2.1v2.1h-2.1zM134.6,547.3h4.1v2.1h-4.1zM144.5,547.3h2.1v2.1h-2.1zM154.5,547.3h6.1v2.1h-6.1zM170.4,547.3h2.1v2.1h-2.1zM200.3,547.3h2.1v2.1h-2.1z"/><path fill="#f9eb75" d="M114.7,545.4h2.1v2.1h-2.1zM118.6,545.4h2.1v2.1h-2.1zM112.7,547.3h4.1v2.1h-4.1zM120.6,547.3h2.1v2.1h-2.1zM140.6,547.3h2.1v2.1h-2.1z"/><path fill="#faf58c" d="M110.7,547.3h2.1v2.1h-2.1zM118.6,547.3h2.1v2.1h-2.1zM126.6,547.3h2.1v2.1h-2.1z"/><path fill="#fcffa4" d="M106.7,547.3h2.1v2.1h-2.1z"/></g>
<rect x="52.9" y="492.2" width="231.1" height="57.1" fill="none" stroke="#222" stroke-width="0.7"/>
<rect x="52.9" y="406.9" width="231.1" height="78.2" fill="#fff" stroke="#222" stroke-width="0.8"/>
<path d="M52.9,451.4H284.0" stroke="#000" stroke-width="0.9"/>
<path d="M53.4,451.1V451.7M53.9,451.1V451.7M54.4,451.1V451.8M54.9,451.1V451.6M55.4,451.1V451.6M55.9,451.2V451.8M56.4,451.1V451.8M56.9,451.0V451.6M57.4,451.0V451.8M57.9,451.2V451.8M58.4,451.1V451.7M58.9,451.0V451.7M59.4,451.1V451.8M59.9,451.0V451.7M60.4,451.0V451.8M60.9,451.1V451.6M61.4,451.1V451.7M61.9,451.1V451.6M62.4,451.1V451.6M62.9,451.1V451.8M63.4,451.1V451.7M63.9,451.1V451.7M64.4,451.0V451.7M64.9,451.0V451.8M65.4,451.0V451.7M65.9,451.2V451.8M66.4,451.0V451.7M66.9,451.1V451.7M67.4,451.0V451.7M67.9,451.1V451.7M68.4,451.0V451.6M68.9,451.1V451.8M69.4,451.0V451.8M69.9,451.2V451.6M70.4,451.1V451.7M70.9,451.1V451.6M71.4,451.1V451.6M71.9,451.2V451.8M72.4,451.1V451.7M72.9,451.1V451.7M73.4,451.1V451.7M73.9,451.0V451.8M74.4,451.2V451.6M74.9,451.0V451.7M75.4,451.0V451.7M75.9,451.1V451.7M76.4,451.0V451.7M76.9,451.1V451.8M77.4,451.1V451.7M77.9,451.0V451.8M78.4,451.1V451.7M78.9,451.2V451.8M79.4,451.2V451.6M79.9,451.1V451.7M80.4,451.0V451.7M80.9,451.0V451.6M81.4,451.1V451.7M81.9,451.2V451.7M82.4,451.0V451.8M82.9,451.1V451.6M83.4,451.1V451.8M83.9,451.1V451.6M84.4,451.0V451.7M84.9,451.0V451.8M85.4,451.0V451.7M85.9,451.0V451.7M86.4,451.1V451.7M86.9,451.0V451.8M87.4,451.1V451.7M87.9,451.1V451.7M88.4,451.1V451.7M88.9,451.1V451.7M89.4,451.0V451.7M89.9,451.0V451.7M90.4,451.2V451.8M90.9,451.0V451.7M91.4,451.2V451.7M91.9,451.1V451.7M92.4,451.0V451.7M92.9,451.0V451.6M93.4,451.1V451.8M93.9,451.2V451.6M94.4,451.0V451.8M94.9,451.2V451.7M95.4,451.2V451.8M95.9,451.1V451.7M96.4,451.1V451.8M96.9,451.1V451.8M97.4,451.1V451.7M97.9,451.0V451.8M98.4,451.1V451.7M98.9,451.0V451.8M99.4,451.0V451.7M99.9,451.0V451.8M100.4,451.0V451.8M100.9,451.0V451.8M101.4,451.0V451.7M101.9,451.1V451.8M102.4,451.0V451.7M102.9,451.1V451.6M103.4,451.0V451.8M103.9,451.1V451.6M104.4,451.1V451.7M104.9,451.1V451.8M105.4,451.2V451.7M105.9,451.2V451.7M106.4,422.2V471.4M106.9,430.5V469.2M107.4,436.2V469.6M107.9,444.2V466.0M108.4,425.4V478.4M108.9,431.9V473.2M109.4,444.5V465.8M109.9,446.3V461.8M110.4,446.0V461.0M110.9,438.9V461.6M111.4,435.0V464.5M111.9,442.9V472.5M112.4,440.4V472.8M112.9,437.1V478.1M113.4,438.3V466.0M113.9,441.0V465.1M114.4,411.4V482.4M114.9,418.4V484.4M115.4,426.6V484.6M115.9,435.0V476.8M116.4,442.3V472.1M116.9,434.4V474.6M117.4,429.4V480.4M117.9,434.9V473.1M118.4,440.1V466.3M118.9,434.8V472.0M119.4,438.6V473.7M119.9,441.1V471.7M120.4,440.7V474.6M120.9,434.4V468.8M121.4,419.8V459.5M121.9,426.9V472.4M122.4,426.9V478.5M122.9,427.4V481.4M123.4,431.6V473.9M123.9,423.1V466.3M124.4,432.4V471.7M124.9,439.9V473.2M125.4,437.9V470.1M125.9,434.6V469.0M126.4,430.8V468.8M126.9,431.4V468.2M127.4,435.9V469.3M127.9,440.7V462.9M128.4,440.7V460.2M128.9,432.2V464.4M129.4,434.0V466.4M129.9,442.5V463.5M130.4,443.9V468.3M130.9,440.6V471.0M131.4,435.6V471.1M131.9,438.7V468.4M132.4,441.0V459.3M132.9,442.3V460.3M133.4,443.6V461.6M133.9,445.6V458.2M134.4,446.4V458.5M134.9,446.5V459.9M135.4,442.4V463.1M135.9,438.4V466.8M136.4,442.3V466.5M136.9,442.8V464.4M137.4,441.6V460.9M137.9,440.9V460.3M138.4,444.0V458.4M138.9,442.2V457.7M139.4,442.4V457.3M139.9,438.7V459.8M140.4,438.8V461.9M140.9,441.5V465.0M141.4,442.4V460.6M141.9,441.0V457.0M142.4,440.1V460.4M142.9,441.5V459.3M143.4,446.0V455.8M143.9,446.5V455.5M144.4,446.6V456.1M144.9,443.3V455.9M145.4,440.4V457.4M145.9,441.7V459.5M146.4,443.4V459.4M146.9,446.4V456.8M147.4,447.5V457.1M147.9,446.1V457.3M148.4,444.0V458.5M148.9,442.9V457.7M149.4,440.3V454.8M149.9,444.4V457.6M150.4,447.3V459.6M150.9,443.3V455.6M151.4,443.1V455.0M151.9,442.5V457.0M152.4,444.3V456.5M152.9,445.6V455.0M153.4,446.7V455.1M153.9,447.7V455.4M154.4,448.5V456.3M154.9,449.0V456.0M155.4,449.1V456.3M155.9,445.5V455.6M156.4,445.1V455.6M156.9,447.5V455.8M157.4,447.6V455.7M157.9,445.5V455.6M158.4,447.1V454.5M158.9,448.4V453.7M159.4,445.7V454.2M159.9,445.6V454.5M160.4,446.5V456.1M160.9,447.7V456.2M161.4,448.4V455.5M161.9,449.1V455.5M162.4,448.8V455.6M162.9,447.0V456.1M163.4,447.9V455.9M163.9,449.6V455.3M164.4,449.3V455.5M164.9,448.8V455.5M165.4,447.8V454.3M165.9,447.5V454.3M166.4,446.6V455.7M166.9,447.0V456.0M167.4,448.0V456.4M167.9,448.6V456.4M168.4,448.5V455.4M168.9,446.9V454.2M169.4,448.0V453.7M169.9,449.5V454.0M170.4,449.9V454.7M170.9,449.8V455.6M171.4,449.4V453.8M171.9,449.0V454.3M172.4,448.8V455.5M172.9,449.7V455.6M173.4,450.0V454.9M173.9,450.0V453.6M174.4,449.6V452.9M174.9,449.4V453.1M175.4,449.1V453.7M175.9,448.7V454.7M176.4,449.6V453.7M176.9,449.8V453.1M177.4,449.6V452.8M177.9,448.7V453.8M178.4,448.3V454.7M178.9,448.2V453.9M179.4,447.7V453.4M179.9,448.8V454.1M180.4,448.8V453.5M180.9,448.5V452.8M181.4,449.0V453.0M181.9,449.2V453.3M182.4,450.0V454.0M182.9,450.2V453.4M183.4,450.2V452.6M183.9,450.3V452.6M184.4,450.2V453.0M184.9,448.7V453.4M185.4,448.3V454.0M185.9,448.9V454.1M186.4,448.4V454.7M186.9,448.6V454.5M187.4,449.8V453.4M187.9,450.2V452.7M188.4,449.3V453.1M188.9,449.2V453.7M189.4,449.5V453.7M189.9,449.2V453.7M190.4,449.2V453.2M190.9,449.8V453.5M191.4,449.4V453.1M191.9,448.8V452.6M192.4,449.5V452.6M192.9,450.3V452.4M193.4,449.7V452.5M193.9,449.6V452.4M194.4,449.0V452.4M194.9,449.2V452.8M195.4,449.1V453.4M195.9,449.1V453.2M196.4,449.2V453.0M196.9,449.2V453.1M197.4,449.3V453.0M197.9,449.3V452.5M198.4,448.9V452.5M198.9,449.2V452.6M199.4,449.8V452.6M199.9,449.6V452.8M200.4,449.5V453.7M200.9,449.2V454.0M201.4,449.0V453.8M201.9,449.0V453.9M202.4,449.4V453.5M202.9,449.7V452.6M203.4,449.6V452.4M203.9,449.2V452.4M204.4,449.0V453.2M204.9,449.2V453.4M205.4,449.6V453.0M205.9,449.7V453.2M206.4,449.5V453.5M206.9,449.9V453.0M207.4,450.0V452.7M207.9,449.8V452.7M208.4,449.7V453.0M208.9,449.7V453.1M209.4,450.2V452.8M209.9,450.5V452.8M210.4,449.9V453.0M210.9,449.6V452.9M211.4,449.3V452.4M211.9,449.2V452.7M212.4,449.2V453.1M212.9,449.6V453.3M213.4,449.8V453.1M213.9,450.0V452.6M214.4,449.9V452.6M214.9,449.7V452.9M215.4,449.8V453.0M215.9,450.0V453.2M216.4,449.9V452.9M216.9,450.0V452.6M217.4,449.6V452.4M217.9,449.9V452.3M218.4,450.4V452.5M218.9,449.8V452.6M219.4,449.9V452.7M219.9,450.5V452.2M220.4,450.2V452.7M220.9,449.9V453.3M221.4,450.0V453.1M221.9,450.2V453.3M222.4,450.3V453.1M222.9,450.2V453.0M223.4,449.8V453.1M223.9,450.0V453.2M224.4,450.1V452.8M224.9,449.8V452.7M225.4,449.9V452.7M225.9,449.5V452.7M226.4,450.0V452.8M226.9,450.4V452.8M227.4,450.5V453.1M227.9,450.6V453.4M228.4,450.4V453.2M228.9,450.2V452.7M229.4,450.0V452.5M229.9,450.3V452.8M230.4,450.5V453.2M230.9,450.5V453.0M231.4,450.0V453.1M231.9,449.5V452.9M232.4,449.8V452.9M232.9,449.9V452.9M233.4,450.2V452.6M233.9,450.1V452.7M234.4,449.7V453.3M234.9,450.0V453.1M235.4,450.3V453.0M235.9,450.0V452.9M236.4,450.0V453.0M236.9,450.4V452.8M237.4,450.4V452.9M237.9,450.3V453.1M238.4,450.0V452.8M238.9,449.7V452.5M239.4,449.7V452.8M239.9,449.8V452.5M240.4,449.7V452.1M240.9,450.1V452.3M241.4,450.2V452.4M241.9,450.1V452.5M242.4,450.1V452.5M242.9,450.4V452.1M243.4,450.5V452.3M243.9,450.5V452.5M244.4,450.2V452.6M244.9,450.1V452.7M245.4,449.9V452.7M245.9,449.9V452.6M246.4,449.8V452.4M246.9,449.8V452.8M247.4,449.8V453.2M247.9,449.8V452.9M248.4,449.9V452.7M248.9,450.4V452.4M249.4,450.5V452.6M249.9,450.5V452.7M250.4,450.4V452.7M250.9,450.4V452.7M251.4,450.5V452.6M251.9,450.5V452.5M252.4,450.5V452.6M252.9,450.4V452.8M253.4,450.3V453.0M253.9,450.2V452.8M254.4,450.1V452.8M254.9,450.2V452.7M255.4,450.4V452.8M255.9,450.4V452.9M256.4,450.1V453.1M256.9,449.8V452.7M257.4,449.8V452.1M257.9,450.2V452.4M258.4,450.3V452.7M258.9,450.6V452.8M259.4,450.7V452.6M259.9,450.7V452.4M260.4,450.3V452.4M260.9,449.8V452.5M261.4,450.4V452.2M261.9,450.5V452.2M262.4,450.2V452.3M262.9,450.0V452.3M263.4,450.1V452.3M263.9,450.4V452.3M264.4,450.4V452.2M264.9,449.9V452.2M265.4,450.3V452.5M265.9,450.7V452.9M266.4,450.7V452.7M266.9,450.6V452.5M267.4,450.4V452.6M267.9,450.5V452.7M268.4,450.7V453.1M268.9,450.2V452.7M269.4,450.1V452.7M269.9,450.4V452.9M270.4,450.5V453.0M270.9,450.6V452.8M271.4,450.7V452.7M271.9,450.7V452.8M272.4,450.4V452.3M272.9,450.2V452.2M273.4,450.4V452.5M273.9,450.3V452.6M274.4,450.2V452.7M274.9,450.3V452.3M275.4,450.2V452.3M275.9,450.1V452.7M276.4,449.9V452.6M276.9,450.0V452.3M277.4,449.9V452.3M277.9,450.2V452.4M278.4,450.4V452.3M278.9,450.5V452.2M279.4,450.4V452.4M279.9,450.5V452.6M280.4,450.6V452.6M280.9,450.7V452.3M281.4,450.6V452.3M281.9,450.4V452.8M282.4,450.3V452.6M282.9,450.1V452.3M283.4,450.5V452.4" stroke="#000" stroke-width="0.8" fill="none"/>
<text x="65.7" y="561.5" font-size="8.5" text-anchor="middle">-80</text>
<text x="91.4" y="561.5" font-size="8.5" text-anchor="middle">-60</text>
<text x="117.1" y="561.5" font-size="8.5" text-anchor="middle">-40</text>
<text x="142.8" y="561.5" font-size="8.5" text-anchor="middle">-20</text>
<text x="168.4" y="561.5" font-size="8.5" text-anchor="middle">0</text>
<text x="194.1" y="561.5" font-size="8.5" text-anchor="middle">20</text>
<text x="219.8" y="561.5" font-size="8.5" text-anchor="middle">40</text>
<text x="245.5" y="561.5" font-size="8.5" text-anchor="middle">60</text>
<text x="271.2" y="561.5" font-size="8.5" text-anchor="middle">80</text>
<text x="47.3" y="428.4" font-size="8.3" text-anchor="end">1</text>
<text x="47.3" y="453.2" font-size="8.3" text-anchor="end">0</text>
<text x="47.3" y="478.0" font-size="8.3" text-anchor="end">-1</text>
<text x="47.3" y="551.1" font-size="8.3" text-anchor="end">0</text>
<text x="47.3" y="527.1" font-size="8.3" text-anchor="end">50</text>
<text x="47.3" y="503.1" font-size="8.3" text-anchor="end">100</text>
<path d="M65.7,485.1v2 M65.7,549.3v2.2 M91.4,485.1v2 M91.4,549.3v2.2 M117.1,485.1v2 M117.1,549.3v2.2 M142.8,485.1v2 M142.8,549.3v2.2 M168.4,485.1v2 M168.4,549.3v2.2 M194.1,485.1v2 M194.1,549.3v2.2 M219.8,485.1v2 M219.8,549.3v2.2 M245.5,485.1v2 M245.5,549.3v2.2 M271.2,485.1v2 M271.2,549.3v2.2 M52.9,426.6h-2.2 M52.9,451.4h-2.2 M52.9,476.2h-2.2 M52.9,549.3h-2.2 M52.9,525.3h-2.2 M52.9,501.3h-2.2" stroke="#222" stroke-width="0.6" fill="none"/>
<text x="170.4" y="572.0" font-size="8.9" text-anchor="middle">Time (s)</text>
<text x="35.0" y="412.5" font-size="8.8">1e8</text>
<text transform="translate(27.0,450.8) rotate(-90)" font-size="8.8" text-anchor="middle">Amplitude</text>
<text transform="translate(27.0,520.0) rotate(-90)" font-size="8.8" text-anchor="middle">Frequency (Hz)</text>
<text x="55.3" y="419.6" font-size="11.5">MAHY01</text>
<text x="98.5" y="396.9" font-size="9.3" text-anchor="middle">P</text>
<path d="M98.4,400.0L104.4,424.7" stroke="#222" stroke-width="0.6"/>
<path d="M105.3,428.2L103.0,425.1L105.9,424.3Z" fill="#111"/>
<text x="104.6" y="386.0" font-size="9.3" text-anchor="middle">S</text>
<path d="M104.5,389.1L107.8,421.9" stroke="#222" stroke-width="0.6"/>
<path d="M108.2,425.5L106.3,422.1L109.3,421.8Z" fill="#111"/>
<text x="112.7" y="386.0" font-size="9.3" text-anchor="middle">T</text>
<path d="M112.85,388.3L112.8,416.4" stroke="#222" stroke-width="0.6"/>
<path d="M112.85,420.0L111.3,416.4L114.3,416.4Z" fill="#111"/>
<g shape-rendering="crispEdges"><path fill="#621570" d="M377.2,492.2h2.1v2.1h-2.1z"/><path fill="#6c1972" d="M343.3,492.2h2.1v2.1h-2.1zM393.1,494.2h2.1v2.1h-2.1z"/><path fill="#761d70" d="M391.1,492.2h2.1v2.1h-2.1zM395.1,492.2h4.1v2.1h-4.1zM413.0,492.2h2.1v2.1h-2.1zM417.0,492.2h2.1v2.1h-2.1zM428.9,492.2h2.1v2.1h-2.1zM468.8,492.2h2.1v2.1h-2.1zM476.8,494.2h2.1v2.1h-2.1zM369.2,496.1h2.1v2.1h-2.1zM450.9,496.1h2.1v2.1h-2.1zM490.7,498.1h2.1v2.1h-2.1zM502.7,498.1h2.1v2.1h-2.1zM397.1,500.1h2.1v2.1h-2.1zM538.5,500.1h2.1v2.1h-2.1z"/><path fill="#81206f" d="M323.4,492.2h2.1v2.1h-2.1zM327.3,492.2h6.1v2.1h-6.1zM337.3,492.2h2.1v2.1h-2.1zM349.3,492.2h2.1v2.1h-2.1zM357.2,492.2h2.1v2.1h-2.1zM361.2,492.2h2.1v2.1h-2.1zM365.2,492.2h2.1v2.1h-2.1zM387.1,492.2h2.1v2.1h-2.1zM407.0,492.2h4.1v2.1h-4.1zM421.0,492.2h2.1v2.1h-2.1zM430.9,492.2h2.1v2.1h-2.1zM434.9,492.2h2.1v2.1h-2.1zM456.8,492.2h2.1v2.1h-2.1zM460.8,492.2h4.1v2.1h-4.1zM478.8,492.2h2.1v2.1h-2.1zM508.6,492.2h2.1v2.1h-2.1zM321.4,494.2h4.1v2.1h-4.1zM335.3,494.2h2.1v2.1h-2.1zM339.3,494.2h2.1v2.1h-2.1zM343.3,494.2h2.1v2.1h-2.1zM399.1,494.2h2.1v2.1h-2.1zM409.0,494.2h4.1v2.1h-4.1zM417.0,494.2h2.1v2.1h-2.1zM440.9,494.2h2.1v2.1h-2.1zM456.8,494.2h2.1v2.1h-2.1zM464.8,494.2h2.1v2.1h-2.1zM498.7,494.2h2.1v2.1h-2.1zM504.7,494.2h2.1v2.1h-2.1zM516.6,494.2h2.1v2.1h-2.1zM534.5,494.2h2.1v2.1h-2.1zM313.4,496.1h4.1v2.1h-4.1zM323.4,496.1h2.1v2.1h-2.1zM327.3,496.1h2.1v2.1h-2.1zM357.2,496.1h2.1v2.1h-2.1zM383.1,496.1h2.1v2.1h-2.1zM395.1,496.1h2.1v2.1h-2.1zM436.9,496.1h4.1v2.1h-4.1zM462.8,496.1h2.1v2.1h-2.1zM466.8,496.1h2.1v2.1h-2.1zM472.8,496.1h2.1v2.1h-2.1zM486.7,496.1h2.1v2.1h-2.1zM490.7,496.1h2.1v2.1h-2.1zM498.7,496.1h2.1v2.1h-2.1zM502.7,496.1h2.1v2.1h-2.1zM514.6,496.1h2.1v2.1h-2.1zM540.5,496.1h2.1v2.1h-2.1zM315.4,498.1h4.1v2.1h-4.1zM343.3,498.1h2.1v2.1h-2.1zM369.2,498.1h2.1v2.1h-2.1zM391.1,498.1h2.1v2.1h-2.1zM405.0,498.1h2.1v2.1h-2.1zM411.0,498.1h2.1v2.1h-2.1zM446.9,498.1h2.1v2.1h-2.1zM476.8,498.1h2.1v2.1h-2.1zM494.7,498.1h2.1v2.1h-2.1zM498.7,498.1h2.1v2.1h-2.1zM520.6,498.1h2.1v2.1h-2.1zM369.2,500.1h2.1v2.1h-2.1zM423.0,500.1h2.1v2.1h-2.1zM474.8,500.1h2.1v2.1h-2.1zM498.7,500.1h2.1v2.1h-2.1zM500.7,502.0h2.1v2.1h-2.1zM510.6,502.0h2.1v2.1h-2.1zM397.1,504.0h2.1v2.1h-2.1zM528.6,504.0h2.1v2.1h-2.1zM397.1,506.0h2.1v2.1h-2.1zM425.0,506.0h2.1v2.1h-2.1z"/><path fill="#8c246e" d="M315.4,492.2h2.1v2.1h-2.1zM319.4,492.2h2.1v2.1h-2.1zM325.4,492.2h2.1v2.1h-2.1zM333.3,492.2h4.1v2.1h-4.1zM341.3,492.2h2.1v2.1h-2.1zM347.3,492.2h2.1v2.1h-2.1zM355.2,492.2h2.1v2.1h-2.1zM367.2,492.2h4.1v2.1h-4.1zM373.2,492.2h2.1v2.1h-2.1zM379.1,492.2h6.1v2.1h-6.1zM389.1,492.2h2.1v2.1h-2.1zM393.1,492.2h2.1v2.1h-2.1zM403.1,492.2h4.1v2.1h-4.1zM415.0,492.2h2.1v2.1h-2.1zM419.0,492.2h2.1v2.1h-2.1zM427.0,492.2h2.1v2.1h-2.1zM432.9,492.2h2.1v2.1h-2.1zM436.9,492.2h2.1v2.1h-2.1zM440.9,492.2h4.1v2.1h-4.1zM446.9,492.2h2.1v2.1h-2.1zM450.9,492.2h2.1v2.1h-2.1zM454.8,492.2h2.1v2.1h-2.1zM458.8,492.2h2.1v2.1h-2.1zM464.8,492.2h2.1v2.1h-2.1zM470.8,492.2h6.1v2.1h-6.1zM482.7,492.2h10.1v2.1h-10.1zM502.7,492.2h2.1v2.1h-2.1zM530.6,492.2h2.1v2.1h-2.1zM534.5,492.2h2.1v2.1h-2.1zM540.5,492.2h2.1v2.1h-2.1zM345.3,494.2h2.1v2.1h-2.1zM349.3,494.2h4.1v2.1h-4.1zM359.2,494.2h10.1v2.1h-10.1zM371.2,494.2h6.1v2.1h-6.1zM395.1,494.2h2.1v2.1h-2.1zM413.0,494.2h4.1v2.1h-4.1zM425.0,494.2h2.1v2.1h-2.1zM428.9,494.2h4.1v2.1h-4.1zM442.9,494.2h4.1v2.1h-4.1zM454.8,494.2h2.1v2.1h-2.1zM460.8,494.2h4.1v2.1h-4.1zM474.8,494.2h2.1v2.1h-2.1zM478.8,494.2h6.1v2.1h-6.1zM486.7,494.2h2.1v2.1h-2.1zM528.6,494.2h2.1v2.1h-2.1zM321.4,496.1h2.1v2.1h-2.1zM329.3,496.1h2.1v2.1h-2.1zM335.3,496.1h4.1v2.1h-4.1zM343.3,496.1h2.1v2.1h-2.1zM347.3,496.1h2.1v2.1h-2.1zM353.2,496.1h2.1v2.1h-2.1zM363.2,496.1h2.1v2.1h-2.1zM367.2,496.1h2.1v2.1h-2.1zM385.1,496.1h4.1v2.1h-4.1zM393.1,496.1h2.1v2.1h-2.1zM397.1,496.1h2.1v2.1h-2.1zM407.0,496.1h2.1v2.1h-2.1zM415.0,496.1h2.1v2.1h-2.1zM419.0,496.1h6.1v2.1h-6.1zM428.9,496.1h4.1v2.1h-4.1zM444.9,496.1h2.1v2.1h-2.1zM448.9,496.1h2.1v2.1h-2.1zM452.9,496.1h4.1v2.1h-4.1zM484.7,496.1h2.1v2.1h-2.1zM488.7,496.1h2.1v2.1h-2.1zM510.6,496.1h2.1v2.1h-2.1zM524.6,496.1h2.1v2.1h-2.1zM528.6,496.1h4.1v2.1h-4.1zM313.4,498.1h2.1v2.1h-2.1zM339.3,498.1h4.1v2.1h-4.1zM353.2,498.1h2.1v2.1h-2.1zM365.2,498.1h2.1v2.1h-2.1zM373.2,498.1h2.1v2.1h-2.1zM377.2,498.1h2.1v2.1h-2.1zM387.1,498.1h4.1v2.1h-4.1zM393.1,498.1h4.1v2.1h-4.1zM401.1,498.1h4.1v2.1h-4.1zM417.0,498.1h2.1v2.1h-2.1zM428.9,498.1h2.1v2.1h-2.1zM436.9,498.1h2.1v2.1h-2.1zM440.9,498.1h2.1v2.1h-2.1zM448.9,498.1h2.1v2.1h-2.1zM464.8,498.1h2.1v2.1h-2.1zM470.8,498.1h2.1v2.1h-2.1zM474.8,498.1h2.1v2.1h-2.1zM480.7,498.1h2.1v2.1h-2.1zM486.7,498.1h4.1v2.1h-4.1zM508.6,498.1h6.1v2.1h-6.1zM532.5,498.1h2.1v2.1h-2.1zM538.5,498.1h2.1v2.1h-2.1zM542.5,498.1h2.1v2.1h-2.1zM313.4,500.1h2.1v2.1h-2.1zM319.4,500.1h2.1v2.1h-2.1zM349.3,500.1h2.1v2.1h-2.1zM353.2,500.1h2.1v2.1h-2.1zM363.2,500.1h2.1v2.1h-2.1zM373.2,500.1h2.1v2.1h-2.1zM377.2,500.1h2.1v2.1h-2.1zM385.1,500.1h2.1v2.1h-2.1zM389.1,500.1h2.1v2.1h-2.1zM393.1,500.1h4.1v2.1h-4.1zM399.1,500.1h2.1v2.1h-2.1zM405.0,500.1h2.1v2.1h-2.1zM421.0,500.1h2.1v2.1h-2.1zM470.8,500.1h4.1v2.1h-4.1zM492.7,500.1h2.1v2.1h-2.1zM502.7,500.1h2.1v2.1h-2.1zM520.6,500.1h2.1v2.1h-2.1zM524.6,500.1h2.1v2.1h-2.1zM530.6,500.1h4.1v2.1h-4.1zM315.4,502.0h2.1v2.1h-2.1zM325.4,502.0h2.1v2.1h-2.1zM329.3,502.0h4.1v2.1h-4.1zM335.3,502.0h2.1v2.1h-2.1zM343.3,502.0h2.1v2.1h-2.1zM355.2,502.0h2.1v2.1h-2.1zM381.1,502.0h2.1v2.1h-2.1zM387.1,502.0h2.1v2.1h-2.1zM405.0,502.0h2.1v2.1h-2.1zM415.0,502.0h2.1v2.1h-2.1zM419.0,502.0h4.1v2.1h-4.1zM448.9,502.0h4.1v2.1h-4.1zM454.8,502.0h2.1v2.1h-2.1zM478.8,502.0h4.1v2.1h-4.1zM502.7,502.0h2.1v2.1h-2.1zM506.6,502.0h2.1v2.1h-2.1zM526.6,502.0h2.1v2.1h-2.1zM530.6,502.0h2.1v2.1h-2.1zM329.3,504.0h2.1v2.1h-2.1zM349.3,504.0h2.1v2.1h-2.1zM355.2,504.0h2.1v2.1h-2.1zM359.2,504.0h2.1v2.1h-2.1zM373.2,504.0h2.1v2.1h-2.1zM377.2,504.0h4.1v2.1h-4.1zM413.0,504.0h2.1v2.1h-2.1zM417.0,504.0h4.1v2.1h-4.1zM444.9,504.0h2.1v2.1h-2.1zM504.7,504.0h2.1v2.1h-2.1zM508.6,504.0h2.1v2.1h-2.1zM524.6,504.0h2.1v2.1h-2.1zM534.5,504.0h2.1v2.1h-2.1zM353.2,506.0h2.1v2.1h-2.1zM361.2,506.0h2.1v2.1h-2.1zM365.2,506.0h2.1v2.1h-2.1zM373.2,506.0h2.1v2.1h-2.1zM381.1,506.0h2.1v2.1h-2.1zM442.9,506.0h2.1v2.1h-2.1zM446.9,506.0h2.1v2.1h-2.1zM460.8,506.0h2.1v2.1h-2.1zM498.7,506.0h2.1v2.1h-2.1zM516.6,506.0h2.1v2.1h-2.1zM524.6,506.0h2.1v2.1h-2.1zM361.2,508.0h2.1v2.1h-2.1zM385.1,508.0h2.1v2.1h-2.1zM438.9,508.0h2.1v2.1h-2.1zM452.9,508.0h2.1v2.1h-2.1zM506.6,508.0h2.1v2.1h-2.1zM516.6,508.0h2.1v2.1h-2.1zM504.7,509.9h2.1v2.1h-2.1zM528.6,509.9h2.1v2.1h-2.1zM542.5,509.9h2.1v2.1h-2.1zM526.6,511.9h2.1v2.1h-2.1zM442.9,513.9h2.1v2.1h-2.1zM478.8,513.9h2.1v2.1h-2.1z"/><path fill="#96286c" d="M317.4,492.2h2.1v2.1h-2.1zM321.4,492.2h2.1v2.1h-2.1zM339.3,492.2h2.1v2.1h-2.1zM351.3,492.2h4.1v2.1h-4.1zM359.2,492.2h2.1v2.1h-2.1zM371.2,492.2h2.1v2.1h-2.1zM375.2,492.2h2.1v2.1h-2.1zM401.1,492.2h2.1v2.1h-2.1zM411.0,492.2h2.1v2.1h-2.1zM425.0,492.2h2.1v2.1h-2.1zM438.9,492.2h2.1v2.1h-2.1zM444.9,492.2h2.1v2.1h-2.1zM448.9,492.2h2.1v2.1h-2.1zM466.8,492.2h2.1v2.1h-2.1zM476.8,492.2h2.1v2.1h-2.1zM480.7,492.2h2.1v2.1h-2.1zM492.7,492.2h2.1v2.1h-2.1zM496.7,492.2h6.1v2.1h-6.1zM504.7,492.2h2.1v2.1h-2.1zM510.6,492.2h8.1v2.1h-8.1zM526.6,492.2h4.1v2.1h-4.1zM532.5,492.2h2.1v2.1h-2.1zM536.5,492.2h2.1v2.1h-2.1zM542.5,492.2h2.1v2.1h-2.1zM313.4,494.2h4.1v2.1h-4.1zM319.4,494.2h2.1v2.1h-2.1zM325.4,494.2h4.1v2.1h-4.1zM331.3,494.2h4.1v2.1h-4.1zM347.3,494.2h2.1v2.1h-2.1zM355.2,494.2h4.1v2.1h-4.1zM369.2,494.2h2.1v2.1h-2.1zM379.1,494.2h10.1v2.1h-10.1zM391.1,494.2h2.1v2.1h-2.1zM401.1,494.2h2.1v2.1h-2.1zM405.0,494.2h2.1v2.1h-2.1zM419.0,494.2h6.1v2.1h-6.1zM427.0,494.2h2.1v2.1h-2.1zM432.9,494.2h8.1v2.1h-8.1zM448.9,494.2h2.1v2.1h-2.1zM458.8,494.2h2.1v2.1h-2.1zM466.8,494.2h8.1v2.1h-8.1zM490.7,494.2h8.1v2.1h-8.1zM502.7,494.2h2.1v2.1h-2.1zM506.6,494.2h4.1v2.1h-4.1zM512.6,494.2h4.1v2.1h-4.1zM522.6,494.2h4.1v2.1h-4.1zM530.6,494.2h4.1v2.1h-4.1zM536.5,494.2h4.1v2.1h-4.1zM317.4,496.1h4.1v2.1h-4.1zM325.4,496.1h2.1v2.1h-2.1zM333.3,496.1h2.1v2.1h-2.1zM339.3,496.1h2.1v2.1h-2.1zM349.3,496.1h2.1v2.1h-2.1zM355.2,496.1h2.1v2.1h-2.1zM365.2,496.1h2.1v2.1h-2.1zM373.2,496.1h2.1v2.1h-2.1zM377.2,496.1h4.1v2.1h-4.1zM389.1,496.1h2.1v2.1h-2.1zM399.1,496.1h2.1v2.1h-2.1zM413.0,496.1h2.1v2.1h-2.1zM427.0,496.1h2.1v2.1h-2.1zM432.9,496.1h4.1v2.1h-4.1zM440.9,496.1h2.1v2.1h-2.1zM446.9,496.1h2.1v2.1h-2.1zM458.8,496.1h4.1v2.1h-4.1zM464.8,496.1h2.1v2.1h-2.1zM468.8,496.1h2.1v2.1h-2.1zM478.8,496.1h2.1v2.1h-2.1zM482.7,496.1h2.1v2.1h-2.1zM494.7,496.1h4.1v2.1h-4.1zM508.6,496.1h2.1v2.1h-2.1zM512.6,496.1h2.1v2.1h-2.1zM526.6,496.1h2.1v2.1h-2.1zM536.5,496.1h4.1v2.1h-4.1zM542.5,496.1h2.1v2.1h-2.1zM319.4,498.1h4.1v2.1h-4.1zM325.4,498.1h4.1v2.1h-4.1zM337.3,498.1h2.1v2.1h-2.1zM345.3,498.1h4.1v2.1h-4.1zM355.2,498.1h2.1v2.1h-2.1zM359.2,498.1h2.1v2.1h-2.1zM363.2,498.1h2.1v2.1h-2.1zM367.2,498.1h2.1v2.1h-2.1zM379.1,498.1h8.1v2.1h-8.1zM397.1,498.1h4.1v2.1h-4.1zM407.0,498.1h4.1v2.1h-4.1zM413.0,498.1h2.1v2.1h-2.1zM419.0,498.1h4.1v2.1h-4.1zM432.9,498.1h4.1v2.1h-4.1zM438.9,498.1h2.1v2.1h-2.1zM442.9,498.1h2.1v2.1h-2.1zM454.8,498.1h2.1v2.1h-2.1zM458.8,498.1h2.1v2.1h-2.1zM468.8,498.1h2.1v2.1h-2.1zM492.7,498.1h2.1v2.1h-2.1zM500.7,498.1h2.1v2.1h-2.1zM504.7,498.1h2.1v2.1h-2.1zM514.6,498.1h2.1v2.1h-2.1zM518.6,498.1h2.1v2.1h-2.1zM522.6,498.1h2.1v2.1h-2.1zM528.6,498.1h4.1v2.1h-4.1zM540.5,498.1h2.1v2.1h-2.1zM315.4,500.1h2.1v2.1h-2.1zM321.4,500.1h2.1v2.1h-2.1zM331.3,500.1h2.1v2.1h-2.1zM337.3,500.1h2.1v2.1h-2.1zM341.3,500.1h2.1v2.1h-2.1zM345.3,500.1h2.1v2.1h-2.1zM351.3,500.1h2.1v2.1h-2.1zM359.2,500.1h2.1v2.1h-2.1zM365.2,500.1h4.1v2.1h-4.1zM371.2,500.1h2.1v2.1h-2.1zM379.1,500.1h2.1v2.1h-2.1zM383.1,500.1h2.1v2.1h-2.1zM387.1,500.1h2.1v2.1h-2.1zM403.1,500.1h2.1v2.1h-2.1zM409.0,500.1h4.1v2.1h-4.1zM428.9,500.1h4.1v2.1h-4.1zM440.9,500.1h4.1v2.1h-4.1zM446.9,500.1h2.1v2.1h-2.1zM452.9,500.1h2.1v2.1h-2.1zM456.8,500.1h8.1v2.1h-8.1zM490.7,500.1h2.1v2.1h-2.1zM500.7,500.1h2.1v2.1h-2.1zM506.6,500.1h2.1v2.1h-2.1zM512.6,500.1h6.1v2.1h-6.1zM534.5,500.1h2.1v2.1h-2.1zM540.5,500.1h2.1v2.1h-2.1zM313.4,502.0h2.1v2.1h-2.1zM327.3,502.0h2.1v2.1h-2.1zM333.3,502.0h2.1v2.1h-2.1zM345.3,502.0h4.1v2.1h-4.1zM353.2,502.0h2.1v2.1h-2.1zM363.2,502.0h4.1v2.1h-4.1zM373.2,502.0h4.1v2.1h-4.1zM379.1,502.0h2.1v2.1h-2.1zM385.1,502.0h2.1v2.1h-2.1zM389.1,502.0h8.1v2.1h-8.1zM399.1,502.0h4.1v2.1h-4.1zM411.0,502.0h2.1v2.1h-2.1zM425.0,502.0h2.1v2.1h-2.1zM436.9,502.0h4.1v2.1h-4.1zM446.9,502.0h2.1v2.1h-2.1zM456.8,502.0h2.1v2.1h-2.1zM462.8,502.0h2.1v2.1h-2.1zM472.8,502.0h2.1v2.1h-2.1zM476.8,502.0h2.1v2.1h-2.1zM486.7,502.0h6.1v2.1h-6.1zM496.7,502.0h2.1v2.1h-2.1zM504.7,502.0h2.1v2.1h-2.1zM518.6,502.0h2.1v2.1h-2.1zM528.6,502.0h2.1v2.1h-2.1zM313.4,504.0h2.1v2.1h-2.1zM319.4,504.0h4.1v2.1h-4.1zM331.3,504.0h2.1v2.1h-2.1zM339.3,504.0h8.1v2.1h-8.1zM357.2,504.0h2.1v2.1h-2.1zM365.2,504.0h2.1v2.1h-2.1zM375.2,504.0h2.1v2.1h-2.1zM389.1,504.0h2.1v2.1h-2.1zM393.1,504.0h2.1v2.1h-2.1zM401.1,504.0h2.1v2.1h-2.1zM407.0,504.0h2.1v2.1h-2.1zM423.0,504.0h2.1v2.1h-2.1zM428.9,504.0h2.1v2.1h-2.1zM442.9,504.0h2.1v2.1h-2.1zM446.9,504.0h4.1v2.1h-4.1zM454.8,504.0h2.1v2.1h-2.1zM462.8,504.0h6.1v2.1h-6.1zM478.8,504.0h2.1v2.1h-2.1zM482.7,504.0h6.1v2.1h-6.1zM496.7,504.0h2.1v2.1h-2.1zM500.7,504.0h4.1v2.1h-4.1zM516.6,504.0h2.1v2.1h-2.1zM522.6,504.0h2.1v2.1h-2.1zM321.4,506.0h2.1v2.1h-2.1zM325.4,506.0h2.1v2.1h-2.1zM329.3,506.0h2.1v2.1h-2.1zM339.3,506.0h2.1v2.1h-2.1zM345.3,506.0h2.1v2.1h-2.1zM355.2,506.0h2.1v2.1h-2.1zM369.2,506.0h2.1v2.1h-2.1zM379.1,506.0h2.1v2.1h-2.1zM387.1,506.0h2.1v2.1h-2.1zM393.1,506.0h4.1v2.1h-4.1zM405.0,506.0h4.1v2.1h-4.1zM411.0,506.0h2.1v2.1h-2.1zM415.0,506.0h2.1v2.1h-2.1zM421.0,506.0h4.1v2.1h-4.1zM430.9,506.0h2.1v2.1h-2.1zM434.9,506.0h4.1v2.1h-4.1zM444.9,506.0h2.1v2.1h-2.1zM452.9,506.0h2.1v2.1h-2.1zM462.8,506.0h2.1v2.1h-2.1zM472.8,506.0h4.1v2.1h-4.1zM478.8,506.0h2.1v2.1h-2.1zM492.7,506.0h2.1v2.1h-2.1zM502.7,506.0h4.1v2.1h-4.1zM508.6,506.0h6.1v2.1h-6.1zM518.6,506.0h4.1v2.1h-4.1zM542.5,506.0h2.1v2.1h-2.1zM313.4,508.0h2.1v2.1h-2.1zM319.4,508.0h4.1v2.1h-4.1zM325.4,508.0h2.1v2.1h-2.1zM339.3,508.0h6.1v2.1h-6.1zM383.1,508.0h2.1v2.1h-2.1zM399.1,508.0h2.1v2.1h-2.1zM403.1,508.0h2.1v2.1h-2.1zM417.0,508.0h2.1v2.1h-2.1zM432.9,508.0h6.1v2.1h-6.1zM460.8,508.0h4.1v2.1h-4.1zM476.8,508.0h4.1v2.1h-4.1zM482.7,508.0h2.1v2.1h-2.1zM492.7,508.0h2.1v2.1h-2.1zM508.6,508.0h2.1v2.1h-2.1zM518.6,508.0h2.1v2.1h-2.1zM530.6,508.0h2.1v2.1h-2.1zM540.5,508.0h2.1v2.1h-2.1zM351.3,509.9h2.1v2.1h-2.1zM357.2,509.9h6.1v2.1h-6.1zM413.0,509.9h2.1v2.1h-2.1zM444.9,509.9h2.1v2.1h-2.1zM450.9,509.9h2.1v2.1h-2.1zM460.8,509.9h2.1v2.1h-2.1zM474.8,509.9h2.1v2.1h-2.1zM482.7,509.9h4.1v2.1h-4.1zM494.7,509.9h2.1v2.1h-2.1zM516.6,509.9h2.1v2.1h-2.1zM363.2,511.9h2.1v2.1h-2.1zM427.0,511.9h2.1v2.1h-2.1zM450.9,511.9h2.1v2.1h-2.1zM458.8,511.9h2.1v2.1h-2.1zM462.8,511.9h2.1v2.1h-2.1zM494.7,511.9h2.1v2.1h-2.1zM518.6,511.9h2.1v2.1h-2.1zM536.5,511.9h2.1v2.1h-2.1zM325.4,513.9h2.1v2.1h-2.1zM423.0,513.9h2.1v2.1h-2.1zM440.9,513.9h2.1v2.1h-2.1zM444.9,513.9h2.1v2.1h-2.1zM448.9,513.9h2.1v2.1h-2.1zM466.8,513.9h2.1v2.1h-2.1zM472.8,513.9h2.1v2.1h-2.1zM496.7,513.9h2.1v2.1h-2.1zM510.6,513.9h2.1v2.1h-2.1zM514.6,513.9h2.1v2.1h-2.1zM522.6,513.9h2.1v2.1h-2.1zM538.5,513.9h2.1v2.1h-2.1zM347.3,515.8h2.1v2.1h-2.1zM492.7,515.8h2.1v2.1h-2.1zM506.6,515.8h2.1v2.1h-2.1zM345.3,517.8h2.1v2.1h-2.1zM490.7,517.8h2.1v2.1h-2.1zM524.6,521.7h2.1v2.1h-2.1z"/><path fill="#a02c68" d="M345.3,492.2h2.1v2.1h-2.1zM363.2,492.2h2.1v2.1h-2.1zM385.1,492.2h2.1v2.1h-2.1zM423.0,492.2h2.1v2.1h-2.1zM452.9,492.2h2.1v2.1h-2.1zM518.6,492.2h2.1v2.1h-2.1zM522.6,492.2h4.1v2.1h-4.1zM538.5,492.2h2.1v2.1h-2.1zM317.4,494.2h2.1v2.1h-2.1zM329.3,494.2h2.1v2.1h-2.1zM337.3,494.2h2.1v2.1h-2.1zM341.3,494.2h2.1v2.1h-2.1zM353.2,494.2h2.1v2.1h-2.1zM377.2,494.2h2.1v2.1h-2.1zM389.1,494.2h2.1v2.1h-2.1zM403.1,494.2h2.1v2.1h-2.1zM407.0,494.2h2.1v2.1h-2.1zM446.9,494.2h2.1v2.1h-2.1zM452.9,494.2h2.1v2.1h-2.1zM484.7,494.2h2.1v2.1h-2.1zM488.7,494.2h2.1v2.1h-2.1zM500.7,494.2h2.1v2.1h-2.1zM510.6,494.2h2.1v2.1h-2.1zM518.6,494.2h4.1v2.1h-4.1zM526.6,494.2h2.1v2.1h-2.1zM540.5,494.2h4.1v2.1h-4.1zM331.3,496.1h2.1v2.1h-2.1zM351.3,496.1h2.1v2.1h-2.1zM359.2,496.1h4.1v2.1h-4.1zM375.2,496.1h2.1v2.1h-2.1zM391.1,496.1h2.1v2.1h-2.1zM401.1,496.1h4.1v2.1h-4.1zM409.0,496.1h4.1v2.1h-4.1zM417.0,496.1h2.1v2.1h-2.1zM442.9,496.1h2.1v2.1h-2.1zM456.8,496.1h2.1v2.1h-2.1zM470.8,496.1h2.1v2.1h-2.1zM474.8,496.1h4.1v2.1h-4.1zM480.7,496.1h2.1v2.1h-2.1zM504.7,496.1h4.1v2.1h-4.1zM516.6,496.1h2.1v2.1h-2.1zM520.6,496.1h4.1v2.1h-4.1zM532.5,496.1h2.1v2.1h-2.1zM323.4,498.1h2.1v2.1h-2.1zM331.3,498.1h4.1v2.1h-4.1zM349.3,498.1h4.1v2.1h-4.1zM357.2,498.1h2.1v2.1h-2.1zM361.2,498.1h2.1v2.1h-2.1zM371.2,498.1h2.1v2.1h-2.1zM415.0,498.1h2.1v2.1h-2.1zM427.0,498.1h2.1v2.1h-2.1zM430.9,498.1h2.1v2.1h-2.1zM450.9,498.1h4.1v2.1h-4.1zM456.8,498.1h2.1v2.1h-2.1zM460.8,498.1h2.1v2.1h-2.1zM466.8,498.1h2.1v2.1h-2.1zM472.8,498.1h2.1v2.1h-2.1zM478.8,498.1h2.1v2.1h-2.1zM484.7,498.1h2.1v2.1h-2.1zM516.6,498.1h2.1v2.1h-2.1zM524.6,498.1h2.1v2.1h-2.1zM534.5,498.1h2.1v2.1h-2.1zM317.4,500.1h2.1v2.1h-2.1zM325.4,500.1h6.1v2.1h-6.1zM333.3,500.1h4.1v2.1h-4.1zM339.3,500.1h2.1v2.1h-2.1zM343.3,500.1h2.1v2.1h-2.1zM347.3,500.1h2.1v2.1h-2.1zM357.2,500.1h2.1v2.1h-2.1zM361.2,500.1h2.1v2.1h-2.1zM381.1,500.1h2.1v2.1h-2.1zM407.0,500.1h2.1v2.1h-2.1zM425.0,500.1h4.1v2.1h-4.1zM432.9,500.1h8.1v2.1h-8.1zM450.9,500.1h2.1v2.1h-2.1zM464.8,500.1h2.1v2.1h-2.1zM468.8,500.1h2.1v2.1h-2.1zM476.8,500.1h14.1v2.1h-14.1zM494.7,500.1h2.1v2.1h-2.1zM504.7,500.1h2.1v2.1h-2.1zM518.6,500.1h2.1v2.1h-2.1zM522.6,500.1h2.1v2.1h-2.1zM526.6,500.1h4.1v2.1h-4.1zM536.5,500.1h2.1v2.1h-2.1zM319.4,502.0h6.1v2.1h-6.1zM339.3,502.0h4.1v2.1h-4.1zM349.3,502.0h4.1v2.1h-4.1zM367.2,502.0h4.1v2.1h-4.1zM383.1,502.0h2.1v2.1h-2.1zM397.1,502.0h2.1v2.1h-2.1zM407.0,502.0h4.1v2.1h-4.1zM413.0,502.0h2.1v2.1h-2.1zM417.0,502.0h2.1v2.1h-2.1zM423.0,502.0h2.1v2.1h-2.1zM427.0,502.0h4.1v2.1h-4.1zM432.9,502.0h2.1v2.1h-2.1zM440.9,502.0h2.1v2.1h-2.1zM444.9,502.0h2.1v2.1h-2.1zM458.8,502.0h4.1v2.1h-4.1zM466.8,502.0h6.1v2.1h-6.1zM474.8,502.0h2.1v2.1h-2.1zM482.7,502.0h4.1v2.1h-4.1zM492.7,502.0h2.1v2.1h-2.1zM498.7,502.0h2.1v2.1h-2.1zM508.6,502.0h2.1v2.1h-2.1zM512.6,502.0h4.1v2.1h-4.1zM520.6,502.0h2.1v2.1h-2.1zM532.5,502.0h4.1v2.1h-4.1zM538.5,502.0h4.1v2.1h-4.1zM315.4,504.0h2.1v2.1h-2.1zM323.4,504.0h6.1v2.1h-6.1zM337.3,504.0h2.1v2.1h-2.1zM347.3,504.0h2.1v2.1h-2.1zM351.3,504.0h4.1v2.1h-4.1zM361.2,504.0h4.1v2.1h-4.1zM367.2,504.0h6.1v2.1h-6.1zM391.1,504.0h2.1v2.1h-2.1zM399.1,504.0h2.1v2.1h-2.1zM425.0,504.0h4.1v2.1h-4.1zM434.9,504.0h2.1v2.1h-2.1zM438.9,504.0h4.1v2.1h-4.1zM450.9,504.0h4.1v2.1h-4.1zM458.8,504.0h2.1v2.1h-2.1zM468.8,504.0h6.1v2.1h-6.1zM480.7,504.0h2.1v2.1h-2.1zM488.7,504.0h4.1v2.1h-4.1zM494.7,504.0h2.1v2.1h-2.1zM498.7,504.0h2.1v2.1h-2.1zM506.6,504.0h2.1v2.1h-2.1zM518.6,504.0h2.1v2.1h-2.1zM526.6,504.0h2.1v2.1h-2.1zM532.5,504.0h2.1v2.1h-2.1zM536.5,504.0h2.1v2.1h-2.1zM540.5,504.0h4.1v2.1h-4.1zM315.4,506.0h2.1v2.1h-2.1zM319.4,506.0h2.1v2.1h-2.1zM323.4,506.0h2.1v2.1h-2.1zM327.3,506.0h2.1v2.1h-2.1zM331.3,506.0h4.1v2.1h-4.1zM341.3,506.0h4.1v2.1h-4.1zM351.3,506.0h2.1v2.1h-2.1zM357.2,506.0h2.1v2.1h-2.1zM367.2,506.0h2.1v2.1h-2.1zM371.2,506.0h2.1v2.1h-2.1zM377.2,506.0h2.1v2.1h-2.1zM383.1,506.0h4.1v2.1h-4.1zM391.1,506.0h2.1v2.1h-2.1zM403.1,506.0h2.1v2.1h-2.1zM409.0,506.0h2.1v2.1h-2.1zM413.0,506.0h2.1v2.1h-2.1zM427.0,506.0h4.1v2.1h-4.1zM440.9,506.0h2.1v2.1h-2.1zM448.9,506.0h4.1v2.1h-4.1zM454.8,506.0h2.1v2.1h-2.1zM458.8,506.0h2.1v2.1h-2.1zM468.8,506.0h4.1v2.1h-4.1zM480.7,506.0h4.1v2.1h-4.1zM486.7,506.0h6.1v2.1h-6.1zM506.6,506.0h2.1v2.1h-2.1zM522.6,506.0h2.1v2.1h-2.1zM526.6,506.0h4.1v2.1h-4.1zM534.5,506.0h4.1v2.1h-4.1zM540.5,506.0h2.1v2.1h-2.1zM315.4,508.0h2.1v2.1h-2.1zM323.4,508.0h2.1v2.1h-2.1zM329.3,508.0h2.1v2.1h-2.1zM349.3,508.0h4.1v2.1h-4.1zM357.2,508.0h2.1v2.1h-2.1zM367.2,508.0h2.1v2.1h-2.1zM393.1,508.0h2.1v2.1h-2.1zM409.0,508.0h2.1v2.1h-2.1zM419.0,508.0h2.1v2.1h-2.1zM423.0,508.0h8.1v2.1h-8.1zM446.9,508.0h2.1v2.1h-2.1zM454.8,508.0h2.1v2.1h-2.1zM458.8,508.0h2.1v2.1h-2.1zM466.8,508.0h2.1v2.1h-2.1zM472.8,508.0h4.1v2.1h-4.1zM490.7,508.0h2.1v2.1h-2.1zM494.7,508.0h2.1v2.1h-2.1zM502.7,508.0h2.1v2.1h-2.1zM520.6,508.0h4.1v2.1h-4.1zM526.6,508.0h4.1v2.1h-4.1zM532.5,508.0h2.1v2.1h-2.1zM315.4,509.9h2.1v2.1h-2.1zM319.4,509.9h4.1v2.1h-4.1zM327.3,509.9h2.1v2.1h-2.1zM333.3,509.9h2.1v2.1h-2.1zM337.3,509.9h6.1v2.1h-6.1zM347.3,509.9h2.1v2.1h-2.1zM363.2,509.9h6.1v2.1h-6.1zM399.1,509.9h2.1v2.1h-2.1zM409.0,509.9h4.1v2.1h-4.1zM419.0,509.9h2.1v2.1h-2.1zM423.0,509.9h4.1v2.1h-4.1zM432.9,509.9h2.1v2.1h-2.1zM442.9,509.9h2.1v2.1h-2.1zM454.8,509.9h2.1v2.1h-2.1zM458.8,509.9h2.1v2.1h-2.1zM462.8,509.9h6.1v2.1h-6.1zM470.8,509.9h2.1v2.1h-2.1zM476.8,509.9h2.1v2.1h-2.1zM498.7,509.9h2.1v2.1h-2.1zM502.7,509.9h2.1v2.1h-2.1zM506.6,509.9h2.1v2.1h-2.1zM514.6,509.9h2.1v2.1h-2.1zM518.6,509.9h10.1v2.1h-10.1zM530.6,509.9h6.1v2.1h-6.1zM538.5,509.9h2.1v2.1h-2.1zM315.4,511.9h2.1v2.1h-2.1zM319.4,511.9h2.1v2.1h-2.1zM329.3,511.9h4.1v2.1h-4.1zM339.3,511.9h4.1v2.1h-4.1zM347.3,511.9h4.1v2.1h-4.1zM359.2,511.9h4.1v2.1h-4.1zM407.0,511.9h2.1v2.1h-2.1zM411.0,511.9h6.1v2.1h-6.1zM442.9,511.9h2.1v2.1h-2.1zM448.9,511.9h2.1v2.1h-2.1zM452.9,511.9h2.1v2.1h-2.1zM460.8,511.9h2.1v2.1h-2.1zM476.8,511.9h4.1v2.1h-4.1zM486.7,511.9h8.1v2.1h-8.1zM502.7,511.9h2.1v2.1h-2.1zM520.6,511.9h4.1v2.1h-4.1zM540.5,511.9h4.1v2.1h-4.1zM337.3,513.9h4.1v2.1h-4.1zM345.3,513.9h2.1v2.1h-2.1zM349.3,513.9h2.1v2.1h-2.1zM353.2,513.9h2.1v2.1h-2.1zM361.2,513.9h2.1v2.1h-2.1zM415.0,513.9h4.1v2.1h-4.1zM427.0,513.9h2.1v2.1h-2.1zM430.9,513.9h2.1v2.1h-2.1zM450.9,513.9h2.1v2.1h-2.1zM462.8,513.9h2.1v2.1h-2.1zM486.7,513.9h4.1v2.1h-4.1zM494.7,513.9h2.1v2.1h-2.1zM500.7,513.9h2.1v2.1h-2.1zM504.7,513.9h2.1v2.1h-2.1zM512.6,513.9h2.1v2.1h-2.1zM518.6,513.9h4.1v2.1h-4.1zM528.6,513.9h2.1v2.1h-2.1zM315.4,515.8h2.1v2.1h-2.1zM323.4,515.8h2.1v2.1h-2.1zM329.3,515.8h2.1v2.1h-2.1zM335.3,515.8h2.1v2.1h-2.1zM361.2,515.8h2.1v2.1h-2.1zM428.9,515.8h8.1v2.1h-8.1zM466.8,515.8h8.1v2.1h-8.1zM486.7,515.8h2.1v2.1h-2.1zM490.7,515.8h2.1v2.1h-2.1zM502.7,515.8h2.1v2.1h-2.1zM508.6,515.8h2.1v2.1h-2.1zM512.6,515.8h4.1v2.1h-4.1zM325.4,517.8h2.1v2.1h-2.1zM333.3,517.8h2.1v2.1h-2.1zM337.3,517.8h2.1v2.1h-2.1zM353.2,517.8h2.1v2.1h-2.1zM361.2,517.8h2.1v2.1h-2.1zM428.9,517.8h2.1v2.1h-2.1zM434.9,517.8h2.1v2.1h-2.1zM470.8,517.8h2.1v2.1h-2.1zM474.8,517.8h2.1v2.1h-2.1zM516.6,517.8h2.1v2.1h-2.1zM528.6,517.8h2.1v2.1h-2.1zM313.4,519.8h2.1v2.1h-2.1zM347.3,519.8h2.1v2.1h-2.1zM355.2,519.8h2.1v2.1h-2.1zM363.2,519.8h2.1v2.1h-2.1zM458.8,519.8h2.1v2.1h-2.1zM484.7,519.8h2.1v2.1h-2.1zM512.6,519.8h2.1v2.1h-2.1zM520.6,519.8h2.1v2.1h-2.1zM528.6,519.8h2.1v2.1h-2.1zM540.5,519.8h2.1v2.1h-2.1zM317.4,521.7h2.1v2.1h-2.1zM323.4,521.7h2.1v2.1h-2.1zM329.3,521.7h2.1v2.1h-2.1zM351.3,521.7h2.1v2.1h-2.1zM468.8,521.7h2.1v2.1h-2.1zM472.8,523.7h2.1v2.1h-2.1z"/><path fill="#a93063" d="M313.4,492.2h2.1v2.1h-2.1zM399.1,492.2h2.1v2.1h-2.1zM494.7,492.2h2.1v2.1h-2.1zM506.6,492.2h2.1v2.1h-2.1zM520.6,492.2h2.1v2.1h-2.1zM450.9,494.2h2.1v2.1h-2.1zM341.3,496.1h2.1v2.1h-2.1zM345.3,496.1h2.1v2.1h-2.1zM381.1,496.1h2.1v2.1h-2.1zM405.0,496.1h2.1v2.1h-2.1zM425.0,496.1h2.1v2.1h-2.1zM492.7,496.1h2.1v2.1h-2.1zM500.7,496.1h2.1v2.1h-2.1zM518.6,496.1h2.1v2.1h-2.1zM329.3,498.1h2.1v2.1h-2.1zM335.3,498.1h2.1v2.1h-2.1zM375.2,498.1h2.1v2.1h-2.1zM425.0,498.1h2.1v2.1h-2.1zM444.9,498.1h2.1v2.1h-2.1zM462.8,498.1h2.1v2.1h-2.1zM482.7,498.1h2.1v2.1h-2.1zM496.7,498.1h2.1v2.1h-2.1zM506.6,498.1h2.1v2.1h-2.1zM536.5,498.1h2.1v2.1h-2.1zM323.4,500.1h2.1v2.1h-2.1zM355.2,500.1h2.1v2.1h-2.1zM375.2,500.1h2.1v2.1h-2.1zM391.1,500.1h2.1v2.1h-2.1zM401.1,500.1h2.1v2.1h-2.1zM417.0,500.1h4.1v2.1h-4.1zM444.9,500.1h2.1v2.1h-2.1zM454.8,500.1h2.1v2.1h-2.1zM496.7,500.1h2.1v2.1h-2.1zM508.6,500.1h4.1v2.1h-4.1zM542.5,500.1h2.1v2.1h-2.1zM317.4,502.0h2.1v2.1h-2.1zM337.3,502.0h2.1v2.1h-2.1zM357.2,502.0h2.1v2.1h-2.1zM371.2,502.0h2.1v2.1h-2.1zM377.2,502.0h2.1v2.1h-2.1zM403.1,502.0h2.1v2.1h-2.1zM430.9,502.0h2.1v2.1h-2.1zM434.9,502.0h2.1v2.1h-2.1zM442.9,502.0h2.1v2.1h-2.1zM452.9,502.0h2.1v2.1h-2.1zM494.7,502.0h2.1v2.1h-2.1zM522.6,502.0h4.1v2.1h-4.1zM536.5,502.0h2.1v2.1h-2.1zM542.5,502.0h2.1v2.1h-2.1zM317.4,504.0h2.1v2.1h-2.1zM335.3,504.0h2.1v2.1h-2.1zM381.1,504.0h8.1v2.1h-8.1zM395.1,504.0h2.1v2.1h-2.1zM403.1,504.0h4.1v2.1h-4.1zM409.0,504.0h4.1v2.1h-4.1zM421.0,504.0h2.1v2.1h-2.1zM430.9,504.0h4.1v2.1h-4.1zM436.9,504.0h2.1v2.1h-2.1zM456.8,504.0h2.1v2.1h-2.1zM476.8,504.0h2.1v2.1h-2.1zM492.7,504.0h2.1v2.1h-2.1zM510.6,504.0h6.1v2.1h-6.1zM520.6,504.0h2.1v2.1h-2.1zM530.6,504.0h2.1v2.1h-2.1zM538.5,504.0h2.1v2.1h-2.1zM349.3,506.0h2.1v2.1h-2.1zM375.2,506.0h2.1v2.1h-2.1zM389.1,506.0h2.1v2.1h-2.1zM399.1,506.0h4.1v2.1h-4.1zM417.0,506.0h4.1v2.1h-4.1zM432.9,506.0h2.1v2.1h-2.1zM438.9,506.0h2.1v2.1h-2.1zM456.8,506.0h2.1v2.1h-2.1zM464.8,506.0h2.1v2.1h-2.1zM476.8,506.0h2.1v2.1h-2.1zM484.7,506.0h2.1v2.1h-2.1zM494.7,506.0h2.1v2.1h-2.1zM500.7,506.0h2.1v2.1h-2.1zM532.5,506.0h2.1v2.1h-2.1zM317.4,508.0h2.1v2.1h-2.1zM327.3,508.0h2.1v2.1h-2.1zM331.3,508.0h4.1v2.1h-4.1zM345.3,508.0h4.1v2.1h-4.1zM355.2,508.0h2.1v2.1h-2.1zM359.2,508.0h2.1v2.1h-2.1zM363.2,508.0h2.1v2.1h-2.1zM369.2,508.0h2.1v2.1h-2.1zM373.2,508.0h2.1v2.1h-2.1zM379.1,508.0h2.1v2.1h-2.1zM389.1,508.0h4.1v2.1h-4.1zM395.1,508.0h4.1v2.1h-4.1zM401.1,508.0h2.1v2.1h-2.1zM407.0,508.0h2.1v2.1h-2.1zM411.0,508.0h6.1v2.1h-6.1zM421.0,508.0h2.1v2.1h-2.1zM444.9,508.0h2.1v2.1h-2.1zM450.9,508.0h2.1v2.1h-2.1zM468.8,508.0h4.1v2.1h-4.1zM480.7,508.0h2.1v2.1h-2.1zM484.7,508.0h2.1v2.1h-2.1zM498.7,508.0h4.1v2.1h-4.1zM504.7,508.0h2.1v2.1h-2.1zM512.6,508.0h4.1v2.1h-4.1zM524.6,508.0h2.1v2.1h-2.1zM534.5,508.0h6.1v2.1h-6.1zM542.5,508.0h2.1v2.1h-2.1zM313.4,509.9h2.1v2.1h-2.1zM323.4,509.9h2.1v2.1h-2.1zM331.3,509.9h2.1v2.1h-2.1zM335.3,509.9h2.1v2.1h-2.1zM345.3,509.9h2.1v2.1h-2.1zM349.3,509.9h2.1v2.1h-2.1zM353.2,509.9h2.1v2.1h-2.1zM381.1,509.9h2.1v2.1h-2.1zM389.1,509.9h2.1v2.1h-2.1zM401.1,509.9h8.1v2.1h-8.1zM415.0,509.9h4.1v2.1h-4.1zM427.0,509.9h6.1v2.1h-6.1zM434.9,509.9h4.1v2.1h-4.1zM440.9,509.9h2.1v2.1h-2.1zM446.9,509.9h4.1v2.1h-4.1zM452.9,509.9h2.1v2.1h-2.1zM456.8,509.9h2.1v2.1h-2.1zM468.8,509.9h2.1v2.1h-2.1zM478.8,509.9h4.1v2.1h-4.1zM486.7,509.9h8.1v2.1h-8.1zM508.6,509.9h6.1v2.1h-6.1zM540.5,509.9h2.1v2.1h-2.1zM317.4,511.9h2.1v2.1h-2.1zM321.4,511.9h2.1v2.1h-2.1zM325.4,511.9h4.1v2.1h-4.1zM333.3,511.9h6.1v2.1h-6.1zM351.3,511.9h2.1v2.1h-2.1zM355.2,511.9h2.1v2.1h-2.1zM367.2,511.9h2.1v2.1h-2.1zM389.1,511.9h2.1v2.1h-2.1zM403.1,511.9h4.1v2.1h-4.1zM417.0,511.9h6.1v2.1h-6.1zM428.9,511.9h4.1v2.1h-4.1zM434.9,511.9h2.1v2.1h-2.1zM438.9,511.9h2.1v2.1h-2.1zM454.8,511.9h2.1v2.1h-2.1zM466.8,511.9h4.1v2.1h-4.1zM472.8,511.9h2.1v2.1h-2.1zM480.7,511.9h4.1v2.1h-4.1zM496.7,511.9h6.1v2.1h-6.1zM506.6,511.9h12.1v2.1h-12.1zM524.6,511.9h2.1v2.1h-2.1zM528.6,511.9h8.1v2.1h-8.1zM538.5,511.9h2.1v2.1h-2.1zM315.4,513.9h2.1v2.1h-2.1zM319.4,513.9h6.1v2.1h-6.1zM327.3,513.9h4.1v2.1h-4.1zM341.3,513.9h2.1v2.1h-2.1zM351.3,513.9h2.1v2.1h-2.1zM363.2,513.9h2.1v2.1h-2.1zM367.2,513.9h2.1v2.1h-2.1zM407.0,513.9h2.1v2.1h-2.1zM411.0,513.9h4.1v2.1h-4.1zM419.0,513.9h4.1v2.1h-4.1zM425.0,513.9h2.1v2.1h-2.1zM428.9,513.9h2.1v2.1h-2.1zM432.9,513.9h8.1v2.1h-8.1zM446.9,513.9h2.1v2.1h-2.1zM454.8,513.9h6.1v2.1h-6.1zM464.8,513.9h2.1v2.1h-2.1zM468.8,513.9h2.1v2.1h-2.1zM480.7,513.9h2.1v2.1h-2.1zM490.7,513.9h2.1v2.1h-2.1zM498.7,513.9h2.1v2.1h-2.1zM506.6,513.9h4.1v2.1h-4.1zM516.6,513.9h2.1v2.1h-2.1zM530.6,513.9h2.1v2.1h-2.1zM536.5,513.9h2.1v2.1h-2.1zM542.5,513.9h2.1v2.1h-2.1zM325.4,515.8h2.1v2.1h-2.1zM333.3,515.8h2.1v2.1h-2.1zM349.3,515.8h2.1v2.1h-2.1zM357.2,515.8h2.1v2.1h-2.1zM367.2,515.8h2.1v2.1h-2.1zM425.0,515.8h2.1v2.1h-2.1zM438.9,515.8h8.1v2.1h-8.1zM450.9,515.8h2.1v2.1h-2.1zM460.8,515.8h2.1v2.1h-2.1zM464.8,515.8h2.1v2.1h-2.1zM474.8,515.8h4.1v2.1h-4.1zM480.7,515.8h2.1v2.1h-2.1zM488.7,515.8h2.1v2.1h-2.1zM496.7,515.8h4.1v2.1h-4.1zM504.7,515.8h2.1v2.1h-2.1zM516.6,515.8h2.1v2.1h-2.1zM522.6,515.8h2.1v2.1h-2.1zM526.6,515.8h6.1v2.1h-6.1zM534.5,515.8h2.1v2.1h-2.1zM538.5,515.8h2.1v2.1h-2.1zM542.5,515.8h2.1v2.1h-2.1zM317.4,517.8h2.1v2.1h-2.1zM323.4,517.8h2.1v2.1h-2.1zM331.3,517.8h2.1v2.1h-2.1zM335.3,517.8h2.1v2.1h-2.1zM339.3,517.8h4.1v2.1h-4.1zM349.3,517.8h4.1v2.1h-4.1zM357.2,517.8h4.1v2.1h-4.1zM367.2,517.8h2.1v2.1h-2.1zM430.9,517.8h4.1v2.1h-4.1zM436.9,517.8h4.1v2.1h-4.1zM448.9,517.8h2.1v2.1h-2.1zM454.8,517.8h4.1v2.1h-4.1zM472.8,517.8h2.1v2.1h-2.1zM478.8,517.8h2.1v2.1h-2.1zM484.7,517.8h2.1v2.1h-2.1zM488.7,517.8h2.1v2.1h-2.1zM494.7,517.8h4.1v2.1h-4.1zM500.7,517.8h2.1v2.1h-2.1zM506.6,517.8h2.1v2.1h-2.1zM526.6,517.8h2.1v2.1h-2.1zM532.5,517.8h2.1v2.1h-2.1zM538.5,517.8h4.1v2.1h-4.1zM319.4,519.8h2.1v2.1h-2.1zM323.4,519.8h2.1v2.1h-2.1zM329.3,519.8h2.1v2.1h-2.1zM335.3,519.8h4.1v2.1h-4.1zM345.3,519.8h2.1v2.1h-2.1zM357.2,519.8h4.1v2.1h-4.1zM365.2,519.8h4.1v2.1h-4.1zM450.9,519.8h4.1v2.1h-4.1zM456.8,519.8h2.1v2.1h-2.1zM460.8,519.8h4.1v2.1h-4.1zM468.8,519.8h2.1v2.1h-2.1zM476.8,519.8h2.1v2.1h-2.1zM492.7,519.8h2.1v2.1h-2.1zM504.7,519.8h2.1v2.1h-2.1zM530.6,519.8h2.1v2.1h-2.1zM536.5,519.8h2.1v2.1h-2.1zM333.3,521.7h8.1v2.1h-8.1zM343.3,521.7h2.1v2.1h-2.1zM347.3,521.7h2.1v2.1h-2.1zM353.2,521.7h2.1v2.1h-2.1zM365.2,521.7h2.1v2.1h-2.1zM464.8,521.7h2.1v2.1h-2.1zM476.8,521.7h2.1v2.1h-2.1zM480.7,521.7h4.1v2.1h-4.1zM486.7,521.7h2.1v2.1h-2.1zM508.6,521.7h2.1v2.1h-2.1zM512.6,521.7h2.1v2.1h-2.1zM526.6,521.7h2.1v2.1h-2.1zM319.4,523.7h2.1v2.1h-2.1zM327.3,523.7h2.1v2.1h-2.1zM349.3,523.7h2.1v2.1h-2.1zM355.2,523.7h4.1v2.1h-4.1zM460.8,523.7h2.1v2.1h-2.1zM480.7,523.7h2.1v2.1h-2.1zM496.7,523.7h2.1v2.1h-2.1zM500.7,523.7h2.1v2.1h-2.1zM510.6,523.7h2.1v2.1h-2.1zM516.6,523.7h2.1v2.1h-2.1zM520.6,523.7h2.1v2.1h-2.1zM526.6,523.7h2.1v2.1h-2.1zM530.6,523.7h2.1v2.1h-2.1zM536.5,523.7h2.1v2.1h-2.1zM361.2,525.7h2.1v2.1h-2.1zM367.2,525.7h2.1v2.1h-2.1zM486.7,525.7h2.1v2.1h-2.1zM492.7,525.7h2.1v2.1h-2.1zM502.7,525.7h2.1v2.1h-2.1zM514.6,525.7h2.1v2.1h-2.1zM530.6,525.7h2.1v2.1h-2.1zM357.2,527.6h2.1v2.1h-2.1z"/><path fill="#b2335e" d="M397.1,494.2h2.1v2.1h-2.1zM371.2,496.1h2.1v2.1h-2.1zM534.5,496.1h2.1v2.1h-2.1zM423.0,498.1h2.1v2.1h-2.1zM526.6,498.1h2.1v2.1h-2.1zM413.0,500.1h4.1v2.1h-4.1zM448.9,500.1h2.1v2.1h-2.1zM466.8,500.1h2.1v2.1h-2.1zM359.2,502.0h4.1v2.1h-4.1zM464.8,502.0h2.1v2.1h-2.1zM516.6,502.0h2.1v2.1h-2.1zM333.3,504.0h2.1v2.1h-2.1zM415.0,504.0h2.1v2.1h-2.1zM460.8,504.0h2.1v2.1h-2.1zM474.8,504.0h2.1v2.1h-2.1zM313.4,506.0h2.1v2.1h-2.1zM317.4,506.0h2.1v2.1h-2.1zM335.3,506.0h4.1v2.1h-4.1zM347.3,506.0h2.1v2.1h-2.1zM359.2,506.0h2.1v2.1h-2.1zM363.2,506.0h2.1v2.1h-2.1zM466.8,506.0h2.1v2.1h-2.1zM496.7,506.0h2.1v2.1h-2.1zM514.6,506.0h2.1v2.1h-2.1zM530.6,506.0h2.1v2.1h-2.1zM538.5,506.0h2.1v2.1h-2.1zM335.3,508.0h4.1v2.1h-4.1zM353.2,508.0h2.1v2.1h-2.1zM365.2,508.0h2.1v2.1h-2.1zM375.2,508.0h4.1v2.1h-4.1zM381.1,508.0h2.1v2.1h-2.1zM387.1,508.0h2.1v2.1h-2.1zM405.0,508.0h2.1v2.1h-2.1zM430.9,508.0h2.1v2.1h-2.1zM440.9,508.0h4.1v2.1h-4.1zM448.9,508.0h2.1v2.1h-2.1zM464.8,508.0h2.1v2.1h-2.1zM486.7,508.0h4.1v2.1h-4.1zM496.7,508.0h2.1v2.1h-2.1zM510.6,508.0h2.1v2.1h-2.1zM317.4,509.9h2.1v2.1h-2.1zM325.4,509.9h2.1v2.1h-2.1zM329.3,509.9h2.1v2.1h-2.1zM343.3,509.9h2.1v2.1h-2.1zM355.2,509.9h2.1v2.1h-2.1zM377.2,509.9h2.1v2.1h-2.1zM383.1,509.9h4.1v2.1h-4.1zM391.1,509.9h2.1v2.1h-2.1zM421.0,509.9h2.1v2.1h-2.1zM438.9,509.9h2.1v2.1h-2.1zM496.7,509.9h2.1v2.1h-2.1zM536.5,509.9h2.1v2.1h-2.1zM313.4,511.9h2.1v2.1h-2.1zM323.4,511.9h2.1v2.1h-2.1zM343.3,511.9h4.1v2.1h-4.1zM353.2,511.9h2.1v2.1h-2.1zM357.2,511.9h2.1v2.1h-2.1zM365.2,511.9h2.1v2.1h-2.1zM395.1,511.9h2.1v2.1h-2.1zM399.1,511.9h2.1v2.1h-2.1zM423.0,511.9h4.1v2.1h-4.1zM432.9,511.9h2.1v2.1h-2.1zM436.9,511.9h2.1v2.1h-2.1zM444.9,511.9h4.1v2.1h-4.1zM464.8,511.9h2.1v2.1h-2.1zM470.8,511.9h2.1v2.1h-2.1zM474.8,511.9h2.1v2.1h-2.1zM484.7,511.9h2.1v2.1h-2.1zM504.7,511.9h2.1v2.1h-2.1zM313.4,513.9h2.1v2.1h-2.1zM317.4,513.9h2.1v2.1h-2.1zM333.3,513.9h4.1v2.1h-4.1zM343.3,513.9h2.1v2.1h-2.1zM347.3,513.9h2.1v2.1h-2.1zM355.2,513.9h6.1v2.1h-6.1zM393.1,513.9h4.1v2.1h-4.1zM399.1,513.9h2.1v2.1h-2.1zM403.1,513.9h2.1v2.1h-2.1zM409.0,513.9h2.1v2.1h-2.1zM460.8,513.9h2.1v2.1h-2.1zM470.8,513.9h2.1v2.1h-2.1zM474.8,513.9h2.1v2.1h-2.1zM484.7,513.9h2.1v2.1h-2.1zM492.7,513.9h2.1v2.1h-2.1zM526.6,513.9h2.1v2.1h-2.1zM532.5,513.9h4.1v2.1h-4.1zM317.4,515.8h2.1v2.1h-2.1zM331.3,515.8h2.1v2.1h-2.1zM337.3,515.8h10.1v2.1h-10.1zM353.2,515.8h4.1v2.1h-4.1zM359.2,515.8h2.1v2.1h-2.1zM363.2,515.8h4.1v2.1h-4.1zM401.1,515.8h2.1v2.1h-2.1zM411.0,515.8h2.1v2.1h-2.1zM421.0,515.8h4.1v2.1h-4.1zM454.8,515.8h4.1v2.1h-4.1zM462.8,515.8h2.1v2.1h-2.1zM478.8,515.8h2.1v2.1h-2.1zM482.7,515.8h4.1v2.1h-4.1zM494.7,515.8h2.1v2.1h-2.1zM500.7,515.8h2.1v2.1h-2.1zM510.6,515.8h2.1v2.1h-2.1zM520.6,515.8h2.1v2.1h-2.1zM524.6,515.8h2.1v2.1h-2.1zM532.5,515.8h2.1v2.1h-2.1zM536.5,515.8h2.1v2.1h-2.1zM540.5,515.8h2.1v2.1h-2.1zM321.4,517.8h2.1v2.1h-2.1zM327.3,517.8h4.1v2.1h-4.1zM343.3,517.8h2.1v2.1h-2.1zM363.2,517.8h4.1v2.1h-4.1zM440.9,517.8h8.1v2.1h-8.1zM458.8,517.8h2.1v2.1h-2.1zM462.8,517.8h4.1v2.1h-4.1zM468.8,517.8h2.1v2.1h-2.1zM480.7,517.8h2.1v2.1h-2.1zM486.7,517.8h2.1v2.1h-2.1zM498.7,517.8h2.1v2.1h-2.1zM502.7,517.8h2.1v2.1h-2.1zM508.6,517.8h4.1v2.1h-4.1zM520.6,517.8h6.1v2.1h-6.1zM530.6,517.8h2.1v2.1h-2.1zM536.5,517.8h2.1v2.1h-2.1zM315.4,519.8h4.1v2.1h-4.1zM327.3,519.8h2.1v2.1h-2.1zM331.3,519.8h2.1v2.1h-2.1zM339.3,519.8h6.1v2.1h-6.1zM349.3,519.8h6.1v2.1h-6.1zM430.9,519.8h2.1v2.1h-2.1zM436.9,519.8h2.1v2.1h-2.1zM442.9,519.8h8.1v2.1h-8.1zM472.8,519.8h2.1v2.1h-2.1zM486.7,519.8h6.1v2.1h-6.1zM494.7,519.8h4.1v2.1h-4.1zM500.7,519.8h2.1v2.1h-2.1zM506.6,519.8h6.1v2.1h-6.1zM514.6,519.8h2.1v2.1h-2.1zM518.6,519.8h2.1v2.1h-2.1zM524.6,519.8h4.1v2.1h-4.1zM532.5,519.8h4.1v2.1h-4.1zM313.4,521.7h4.1v2.1h-4.1zM319.4,521.7h4.1v2.1h-4.1zM327.3,521.7h2.1v2.1h-2.1zM341.3,521.7h2.1v2.1h-2.1zM345.3,521.7h2.1v2.1h-2.1zM349.3,521.7h2.1v2.1h-2.1zM355.2,521.7h2.1v2.1h-2.1zM359.2,521.7h6.1v2.1h-6.1zM417.0,521.7h2.1v2.1h-2.1zM444.9,521.7h4.1v2.1h-4.1zM452.9,521.7h6.1v2.1h-6.1zM462.8,521.7h2.1v2.1h-2.1zM466.8,521.7h2.1v2.1h-2.1zM470.8,521.7h4.1v2.1h-4.1zM478.8,521.7h2.1v2.1h-2.1zM488.7,521.7h4.1v2.1h-4.1zM494.7,521.7h6.1v2.1h-6.1zM520.6,521.7h4.1v2.1h-4.1zM530.6,521.7h4.1v2.1h-4.1zM538.5,521.7h2.1v2.1h-2.1zM313.4,523.7h2.1v2.1h-2.1zM321.4,523.7h6.1v2.1h-6.1zM331.3,523.7h2.1v2.1h-2.1zM335.3,523.7h2.1v2.1h-2.1zM341.3,523.7h2.1v2.1h-2.1zM351.3,523.7h4.1v2.1h-4.1zM361.2,523.7h8.1v2.1h-8.1zM448.9,523.7h2.1v2.1h-2.1zM458.8,523.7h2.1v2.1h-2.1zM466.8,523.7h2.1v2.1h-2.1zM470.8,523.7h2.1v2.1h-2.1zM474.8,523.7h2.1v2.1h-2.1zM488.7,523.7h2.1v2.1h-2.1zM494.7,523.7h2.1v2.1h-2.1zM498.7,523.7h2.1v2.1h-2.1zM502.7,523.7h2.1v2.1h-2.1zM506.6,523.7h4.1v2.1h-4.1zM512.6,523.7h2.1v2.1h-2.1zM522.6,523.7h2.1v2.1h-2.1zM528.6,523.7h2.1v2.1h-2.1zM534.5,523.7h2.1v2.1h-2.1zM540.5,523.7h2.1v2.1h-2.1zM317.4,525.7h2.1v2.1h-2.1zM331.3,525.7h4.1v2.1h-4.1zM343.3,525.7h4.1v2.1h-4.1zM357.2,525.7h2.1v2.1h-2.1zM363.2,525.7h4.1v2.1h-4.1zM482.7,525.7h2.1v2.1h-2.1zM494.7,525.7h4.1v2.1h-4.1zM508.6,525.7h2.1v2.1h-2.1zM516.6,525.7h2.1v2.1h-2.1zM524.6,525.7h2.1v2.1h-2.1zM528.6,525.7h2.1v2.1h-2.1zM536.5,525.7h2.1v2.1h-2.1zM315.4,527.6h2.1v2.1h-2.1zM331.3,527.6h4.1v2.1h-4.1zM345.3,527.6h2.1v2.1h-2.1zM361.2,527.6h2.1v2.1h-2.1zM508.6,527.6h2.1v2.1h-2.1zM532.5,527.6h2.1v2.1h-2.1zM510.6,529.6h2.1v2.1h-2.1zM524.6,529.6h2.1v2.1h-2.1zM530.6,529.6h4.1v2.1h-4.1zM365.2,533.5h2.1v2.1h-2.1z"/><path fill="#bc375a" d="M371.2,508.0h2.1v2.1h-2.1zM456.8,508.0h2.1v2.1h-2.1zM387.1,509.9h2.1v2.1h-2.1zM393.1,509.9h2.1v2.1h-2.1zM397.1,509.9h2.1v2.1h-2.1zM472.8,509.9h2.1v2.1h-2.1zM500.7,509.9h2.1v2.1h-2.1zM381.1,511.9h2.1v2.1h-2.1zM397.1,511.9h2.1v2.1h-2.1zM401.1,511.9h2.1v2.1h-2.1zM409.0,511.9h2.1v2.1h-2.1zM440.9,511.9h2.1v2.1h-2.1zM456.8,511.9h2.1v2.1h-2.1zM331.3,513.9h2.1v2.1h-2.1zM365.2,513.9h2.1v2.1h-2.1zM401.1,513.9h2.1v2.1h-2.1zM452.9,513.9h2.1v2.1h-2.1zM476.8,513.9h2.1v2.1h-2.1zM482.7,513.9h2.1v2.1h-2.1zM502.7,513.9h2.1v2.1h-2.1zM524.6,513.9h2.1v2.1h-2.1zM540.5,513.9h2.1v2.1h-2.1zM313.4,515.8h2.1v2.1h-2.1zM319.4,515.8h4.1v2.1h-4.1zM327.3,515.8h2.1v2.1h-2.1zM351.3,515.8h2.1v2.1h-2.1zM397.1,515.8h2.1v2.1h-2.1zM403.1,515.8h2.1v2.1h-2.1zM409.0,515.8h2.1v2.1h-2.1zM413.0,515.8h2.1v2.1h-2.1zM417.0,515.8h4.1v2.1h-4.1zM427.0,515.8h2.1v2.1h-2.1zM436.9,515.8h2.1v2.1h-2.1zM446.9,515.8h4.1v2.1h-4.1zM452.9,515.8h2.1v2.1h-2.1zM458.8,515.8h2.1v2.1h-2.1zM518.6,515.8h2.1v2.1h-2.1zM313.4,517.8h4.1v2.1h-4.1zM355.2,517.8h2.1v2.1h-2.1zM411.0,517.8h4.1v2.1h-4.1zM417.0,517.8h2.1v2.1h-2.1zM421.0,517.8h6.1v2.1h-6.1zM452.9,517.8h2.1v2.1h-2.1zM460.8,517.8h2.1v2.1h-2.1zM466.8,517.8h2.1v2.1h-2.1zM476.8,517.8h2.1v2.1h-2.1zM492.7,517.8h2.1v2.1h-2.1zM504.7,517.8h2.1v2.1h-2.1zM512.6,517.8h2.1v2.1h-2.1zM518.6,517.8h2.1v2.1h-2.1zM534.5,517.8h2.1v2.1h-2.1zM542.5,517.8h2.1v2.1h-2.1zM321.4,519.8h2.1v2.1h-2.1zM325.4,519.8h2.1v2.1h-2.1zM333.3,519.8h2.1v2.1h-2.1zM411.0,519.8h2.1v2.1h-2.1zM417.0,519.8h8.1v2.1h-8.1zM427.0,519.8h4.1v2.1h-4.1zM438.9,519.8h4.1v2.1h-4.1zM454.8,519.8h2.1v2.1h-2.1zM464.8,519.8h4.1v2.1h-4.1zM470.8,519.8h2.1v2.1h-2.1zM474.8,519.8h2.1v2.1h-2.1zM478.8,519.8h4.1v2.1h-4.1zM502.7,519.8h2.1v2.1h-2.1zM538.5,519.8h2.1v2.1h-2.1zM542.5,519.8h2.1v2.1h-2.1zM331.3,521.7h2.1v2.1h-2.1zM357.2,521.7h2.1v2.1h-2.1zM367.2,521.7h2.1v2.1h-2.1zM425.0,521.7h2.1v2.1h-2.1zM428.9,521.7h2.1v2.1h-2.1zM438.9,521.7h4.1v2.1h-4.1zM450.9,521.7h2.1v2.1h-2.1zM474.8,521.7h2.1v2.1h-2.1zM502.7,521.7h4.1v2.1h-4.1zM510.6,521.7h2.1v2.1h-2.1zM514.6,521.7h6.1v2.1h-6.1zM534.5,521.7h4.1v2.1h-4.1zM540.5,521.7h4.1v2.1h-4.1zM315.4,523.7h2.1v2.1h-2.1zM329.3,523.7h2.1v2.1h-2.1zM345.3,523.7h4.1v2.1h-4.1zM425.0,523.7h2.1v2.1h-2.1zM440.9,523.7h2.1v2.1h-2.1zM450.9,523.7h2.1v2.1h-2.1zM454.8,523.7h4.1v2.1h-4.1zM462.8,523.7h4.1v2.1h-4.1zM468.8,523.7h2.1v2.1h-2.1zM476.8,523.7h2.1v2.1h-2.1zM482.7,523.7h6.1v2.1h-6.1zM504.7,523.7h2.1v2.1h-2.1zM514.6,523.7h2.1v2.1h-2.1zM518.6,523.7h2.1v2.1h-2.1zM524.6,523.7h2.1v2.1h-2.1zM532.5,523.7h2.1v2.1h-2.1zM538.5,523.7h2.1v2.1h-2.1zM313.4,525.7h4.1v2.1h-4.1zM319.4,525.7h4.1v2.1h-4.1zM327.3,525.7h4.1v2.1h-4.1zM335.3,525.7h2.1v2.1h-2.1zM341.3,525.7h2.1v2.1h-2.1zM351.3,525.7h2.1v2.1h-2.1zM355.2,525.7h2.1v2.1h-2.1zM359.2,525.7h2.1v2.1h-2.1zM438.9,525.7h2.1v2.1h-2.1zM450.9,525.7h2.1v2.1h-2.1zM466.8,525.7h2.1v2.1h-2.1zM472.8,525.7h2.1v2.1h-2.1zM478.8,525.7h2.1v2.1h-2.1zM484.7,525.7h2.1v2.1h-2.1zM488.7,525.7h2.1v2.1h-2.1zM498.7,525.7h2.1v2.1h-2.1zM510.6,525.7h4.1v2.1h-4.1zM518.6,525.7h4.1v2.1h-4.1zM526.6,525.7h2.1v2.1h-2.1zM532.5,525.7h2.1v2.1h-2.1zM538.5,525.7h4.1v2.1h-4.1zM313.4,527.6h2.1v2.1h-2.1zM319.4,527.6h4.1v2.1h-4.1zM341.3,527.6h2.1v2.1h-2.1zM353.2,527.6h2.1v2.1h-2.1zM363.2,527.6h2.1v2.1h-2.1zM486.7,527.6h2.1v2.1h-2.1zM494.7,527.6h2.1v2.1h-2.1zM504.7,527.6h4.1v2.1h-4.1zM512.6,527.6h2.1v2.1h-2.1zM520.6,527.6h2.1v2.1h-2.1zM526.6,527.6h2.1v2.1h-2.1zM536.5,527.6h2.1v2.1h-2.1zM542.5,527.6h2.1v2.1h-2.1zM353.2,529.6h2.1v2.1h-2.1zM359.2,529.6h2.1v2.1h-2.1zM490.7,529.6h2.1v2.1h-2.1zM498.7,529.6h2.1v2.1h-2.1zM508.6,529.6h2.1v2.1h-2.1zM512.6,529.6h2.1v2.1h-2.1zM516.6,529.6h4.1v2.1h-4.1zM522.6,529.6h2.1v2.1h-2.1zM526.6,529.6h2.1v2.1h-2.1zM534.5,529.6h2.1v2.1h-2.1zM538.5,529.6h2.1v2.1h-2.1zM542.5,529.6h2.1v2.1h-2.1zM313.4,531.6h2.1v2.1h-2.1zM343.3,531.6h2.1v2.1h-2.1zM363.2,531.6h2.1v2.1h-2.1zM526.6,531.6h2.1v2.1h-2.1zM530.6,531.6h2.1v2.1h-2.1zM538.5,531.6h2.1v2.1h-2.1zM313.4,533.5h2.1v2.1h-2.1zM347.3,533.5h2.1v2.1h-2.1zM361.2,533.5h2.1v2.1h-2.1zM313.4,535.5h2.1v2.1h-2.1zM325.4,535.5h2.1v2.1h-2.1zM329.3,535.5h2.1v2.1h-2.1zM331.3,537.5h2.1v2.1h-2.1zM341.3,537.5h2.1v2.1h-2.1zM349.3,537.5h2.1v2.1h-2.1zM337.3,543.4h2.1v2.1h-2.1z"/><path fill="#c43e52" d="M369.2,509.9h8.1v2.1h-8.1zM379.1,509.9h2.1v2.1h-2.1zM395.1,509.9h2.1v2.1h-2.1zM373.2,511.9h2.1v2.1h-2.1zM385.1,511.9h2.1v2.1h-2.1zM391.1,511.9h4.1v2.1h-4.1zM405.0,513.9h2.1v2.1h-2.1zM379.1,515.8h2.1v2.1h-2.1zM391.1,515.8h2.1v2.1h-2.1zM399.1,515.8h2.1v2.1h-2.1zM405.0,515.8h4.1v2.1h-4.1zM415.0,515.8h2.1v2.1h-2.1zM319.4,517.8h2.1v2.1h-2.1zM347.3,517.8h2.1v2.1h-2.1zM403.1,517.8h4.1v2.1h-4.1zM409.0,517.8h2.1v2.1h-2.1zM415.0,517.8h2.1v2.1h-2.1zM427.0,517.8h2.1v2.1h-2.1zM482.7,517.8h2.1v2.1h-2.1zM514.6,517.8h2.1v2.1h-2.1zM361.2,519.8h2.1v2.1h-2.1zM391.1,519.8h4.1v2.1h-4.1zM405.0,519.8h2.1v2.1h-2.1zM413.0,519.8h2.1v2.1h-2.1zM425.0,519.8h2.1v2.1h-2.1zM432.9,519.8h4.1v2.1h-4.1zM482.7,519.8h2.1v2.1h-2.1zM498.7,519.8h2.1v2.1h-2.1zM522.6,519.8h2.1v2.1h-2.1zM325.4,521.7h2.1v2.1h-2.1zM415.0,521.7h2.1v2.1h-2.1zM419.0,521.7h2.1v2.1h-2.1zM432.9,521.7h6.1v2.1h-6.1zM442.9,521.7h2.1v2.1h-2.1zM448.9,521.7h2.1v2.1h-2.1zM458.8,521.7h4.1v2.1h-4.1zM484.7,521.7h2.1v2.1h-2.1zM492.7,521.7h2.1v2.1h-2.1zM500.7,521.7h2.1v2.1h-2.1zM528.6,521.7h2.1v2.1h-2.1zM317.4,523.7h2.1v2.1h-2.1zM333.3,523.7h2.1v2.1h-2.1zM339.3,523.7h2.1v2.1h-2.1zM359.2,523.7h2.1v2.1h-2.1zM419.0,523.7h2.1v2.1h-2.1zM430.9,523.7h2.1v2.1h-2.1zM446.9,523.7h2.1v2.1h-2.1zM490.7,523.7h4.1v2.1h-4.1zM542.5,523.7h2.1v2.1h-2.1zM323.4,525.7h4.1v2.1h-4.1zM337.3,525.7h2.1v2.1h-2.1zM347.3,525.7h4.1v2.1h-4.1zM454.8,525.7h6.1v2.1h-6.1zM464.8,525.7h2.1v2.1h-2.1zM468.8,525.7h4.1v2.1h-4.1zM500.7,525.7h2.1v2.1h-2.1zM504.7,525.7h2.1v2.1h-2.1zM522.6,525.7h2.1v2.1h-2.1zM542.5,525.7h2.1v2.1h-2.1zM323.4,527.6h8.1v2.1h-8.1zM349.3,527.6h4.1v2.1h-4.1zM355.2,527.6h2.1v2.1h-2.1zM436.9,527.6h2.1v2.1h-2.1zM452.9,527.6h4.1v2.1h-4.1zM460.8,527.6h2.1v2.1h-2.1zM468.8,527.6h2.1v2.1h-2.1zM478.8,527.6h2.1v2.1h-2.1zM484.7,527.6h2.1v2.1h-2.1zM488.7,527.6h6.1v2.1h-6.1zM498.7,527.6h2.1v2.1h-2.1zM502.7,527.6h2.1v2.1h-2.1zM510.6,527.6h2.1v2.1h-2.1zM518.6,527.6h2.1v2.1h-2.1zM522.6,527.6h2.1v2.1h-2.1zM528.6,527.6h2.1v2.1h-2.1zM534.5,527.6h2.1v2.1h-2.1zM538.5,527.6h4.1v2.1h-4.1zM343.3,529.6h2.1v2.1h-2.1zM349.3,529.6h2.1v2.1h-2.1zM355.2,529.6h2.1v2.1h-2.1zM365.2,529.6h2.1v2.1h-2.1zM456.8,529.6h2.1v2.1h-2.1zM466.8,529.6h2.1v2.1h-2.1zM470.8,529.6h2.1v2.1h-2.1zM500.7,529.6h2.1v2.1h-2.1zM504.7,529.6h2.1v2.1h-2.1zM536.5,529.6h2.1v2.1h-2.1zM321.4,531.6h2.1v2.1h-2.1zM329.3,531.6h2.1v2.1h-2.1zM337.3,531.6h2.1v2.1h-2.1zM351.3,531.6h8.1v2.1h-8.1zM506.6,531.6h8.1v2.1h-8.1zM520.6,531.6h2.1v2.1h-2.1zM532.5,531.6h4.1v2.1h-4.1zM323.4,533.5h4.1v2.1h-4.1zM331.3,533.5h2.1v2.1h-2.1zM335.3,533.5h2.1v2.1h-2.1zM339.3,533.5h2.1v2.1h-2.1zM343.3,533.5h4.1v2.1h-4.1zM349.3,533.5h8.1v2.1h-8.1zM359.2,533.5h2.1v2.1h-2.1zM363.2,533.5h2.1v2.1h-2.1zM536.5,533.5h2.1v2.1h-2.1zM315.4,535.5h2.1v2.1h-2.1zM333.3,535.5h2.1v2.1h-2.1zM341.3,535.5h2.1v2.1h-2.1zM351.3,535.5h2.1v2.1h-2.1zM355.2,535.5h2.1v2.1h-2.1zM315.4,537.5h2.1v2.1h-2.1zM319.4,537.5h2.1v2.1h-2.1zM327.3,537.5h2.1v2.1h-2.1zM355.2,537.5h2.1v2.1h-2.1zM315.4,539.5h4.1v2.1h-4.1zM323.4,539.5h2.1v2.1h-2.1zM327.3,539.5h2.1v2.1h-2.1zM339.3,539.5h2.1v2.1h-2.1zM349.3,539.5h2.1v2.1h-2.1zM317.4,541.4h2.1v2.1h-2.1zM325.4,541.4h2.1v2.1h-2.1zM359.2,541.4h4.1v2.1h-4.1zM365.2,541.4h2.1v2.1h-2.1zM345.3,543.4h2.1v2.1h-2.1z"/><path fill="#cd444a" d="M379.1,511.9h2.1v2.1h-2.1zM383.1,511.9h2.1v2.1h-2.1zM387.1,511.9h2.1v2.1h-2.1zM379.1,513.9h2.1v2.1h-2.1zM385.1,513.9h8.1v2.1h-8.1zM397.1,513.9h2.1v2.1h-2.1zM385.1,515.8h2.1v2.1h-2.1zM395.1,515.8h2.1v2.1h-2.1zM391.1,517.8h2.1v2.1h-2.1zM399.1,517.8h4.1v2.1h-4.1zM419.0,517.8h2.1v2.1h-2.1zM450.9,517.8h2.1v2.1h-2.1zM401.1,519.8h4.1v2.1h-4.1zM409.0,519.8h2.1v2.1h-2.1zM516.6,519.8h2.1v2.1h-2.1zM407.0,521.7h2.1v2.1h-2.1zM413.0,521.7h2.1v2.1h-2.1zM421.0,521.7h2.1v2.1h-2.1zM427.0,521.7h2.1v2.1h-2.1zM430.9,521.7h2.1v2.1h-2.1zM506.6,521.7h2.1v2.1h-2.1zM337.3,523.7h2.1v2.1h-2.1zM343.3,523.7h2.1v2.1h-2.1zM411.0,523.7h2.1v2.1h-2.1zM417.0,523.7h2.1v2.1h-2.1zM421.0,523.7h4.1v2.1h-4.1zM427.0,523.7h2.1v2.1h-2.1zM432.9,523.7h8.1v2.1h-8.1zM442.9,523.7h2.1v2.1h-2.1zM478.8,523.7h2.1v2.1h-2.1zM339.3,525.7h2.1v2.1h-2.1zM353.2,525.7h2.1v2.1h-2.1zM434.9,525.7h2.1v2.1h-2.1zM452.9,525.7h2.1v2.1h-2.1zM462.8,525.7h2.1v2.1h-2.1zM474.8,525.7h4.1v2.1h-4.1zM480.7,525.7h2.1v2.1h-2.1zM490.7,525.7h2.1v2.1h-2.1zM506.6,525.7h2.1v2.1h-2.1zM534.5,525.7h2.1v2.1h-2.1zM317.4,527.6h2.1v2.1h-2.1zM335.3,527.6h2.1v2.1h-2.1zM339.3,527.6h2.1v2.1h-2.1zM343.3,527.6h2.1v2.1h-2.1zM347.3,527.6h2.1v2.1h-2.1zM359.2,527.6h2.1v2.1h-2.1zM365.2,527.6h4.1v2.1h-4.1zM444.9,527.6h4.1v2.1h-4.1zM450.9,527.6h2.1v2.1h-2.1zM464.8,527.6h4.1v2.1h-4.1zM472.8,527.6h6.1v2.1h-6.1zM482.7,527.6h2.1v2.1h-2.1zM496.7,527.6h2.1v2.1h-2.1zM500.7,527.6h2.1v2.1h-2.1zM514.6,527.6h4.1v2.1h-4.1zM524.6,527.6h2.1v2.1h-2.1zM530.6,527.6h2.1v2.1h-2.1zM327.3,529.6h8.1v2.1h-8.1zM337.3,529.6h4.1v2.1h-4.1zM345.3,529.6h4.1v2.1h-4.1zM351.3,529.6h2.1v2.1h-2.1zM357.2,529.6h2.1v2.1h-2.1zM361.2,529.6h4.1v2.1h-4.1zM367.2,529.6h2.1v2.1h-2.1zM460.8,529.6h2.1v2.1h-2.1zM472.8,529.6h2.1v2.1h-2.1zM482.7,529.6h2.1v2.1h-2.1zM488.7,529.6h2.1v2.1h-2.1zM492.7,529.6h6.1v2.1h-6.1zM520.6,529.6h2.1v2.1h-2.1zM528.6,529.6h2.1v2.1h-2.1zM315.4,531.6h6.1v2.1h-6.1zM327.3,531.6h2.1v2.1h-2.1zM335.3,531.6h2.1v2.1h-2.1zM341.3,531.6h2.1v2.1h-2.1zM345.3,531.6h6.1v2.1h-6.1zM361.2,531.6h2.1v2.1h-2.1zM365.2,531.6h2.1v2.1h-2.1zM474.8,531.6h4.1v2.1h-4.1zM498.7,531.6h2.1v2.1h-2.1zM504.7,531.6h2.1v2.1h-2.1zM514.6,531.6h2.1v2.1h-2.1zM518.6,531.6h2.1v2.1h-2.1zM524.6,531.6h2.1v2.1h-2.1zM528.6,531.6h2.1v2.1h-2.1zM536.5,531.6h2.1v2.1h-2.1zM540.5,531.6h2.1v2.1h-2.1zM315.4,533.5h6.1v2.1h-6.1zM327.3,533.5h4.1v2.1h-4.1zM333.3,533.5h2.1v2.1h-2.1zM337.3,533.5h2.1v2.1h-2.1zM341.3,533.5h2.1v2.1h-2.1zM367.2,533.5h2.1v2.1h-2.1zM518.6,533.5h2.1v2.1h-2.1zM530.6,533.5h2.1v2.1h-2.1zM534.5,533.5h2.1v2.1h-2.1zM319.4,535.5h4.1v2.1h-4.1zM331.3,535.5h2.1v2.1h-2.1zM335.3,535.5h2.1v2.1h-2.1zM339.3,535.5h2.1v2.1h-2.1zM343.3,535.5h6.1v2.1h-6.1zM353.2,535.5h2.1v2.1h-2.1zM361.2,535.5h2.1v2.1h-2.1zM367.2,535.5h2.1v2.1h-2.1zM520.6,535.5h2.1v2.1h-2.1zM538.5,535.5h2.1v2.1h-2.1zM335.3,537.5h2.1v2.1h-2.1zM339.3,537.5h2.1v2.1h-2.1zM345.3,537.5h2.1v2.1h-2.1zM353.2,537.5h2.1v2.1h-2.1zM365.2,537.5h2.1v2.1h-2.1zM319.4,539.5h2.1v2.1h-2.1zM337.3,539.5h2.1v2.1h-2.1zM341.3,539.5h2.1v2.1h-2.1zM345.3,539.5h2.1v2.1h-2.1zM351.3,539.5h2.1v2.1h-2.1zM357.2,539.5h2.1v2.1h-2.1zM363.2,539.5h2.1v2.1h-2.1zM319.4,541.4h2.1v2.1h-2.1zM329.3,541.4h2.1v2.1h-2.1zM341.3,541.4h2.1v2.1h-2.1zM355.2,541.4h2.1v2.1h-2.1zM321.4,543.4h2.1v2.1h-2.1zM329.3,543.4h2.1v2.1h-2.1zM333.3,543.4h2.1v2.1h-2.1zM339.3,543.4h4.1v2.1h-4.1zM349.3,543.4h2.1v2.1h-2.1zM361.2,543.4h4.1v2.1h-4.1zM317.4,545.4h2.1v2.1h-2.1zM327.3,545.4h2.1v2.1h-2.1zM333.3,545.4h2.1v2.1h-2.1zM349.3,545.4h2.1v2.1h-2.1zM363.2,545.4h2.1v2.1h-2.1z"/><path fill="#d54a42" d="M375.2,511.9h4.1v2.1h-4.1zM381.1,513.9h2.1v2.1h-2.1zM387.1,515.8h2.1v2.1h-2.1zM393.1,515.8h2.1v2.1h-2.1zM377.2,517.8h2.1v2.1h-2.1zM387.1,517.8h2.1v2.1h-2.1zM395.1,517.8h2.1v2.1h-2.1zM407.0,517.8h2.1v2.1h-2.1zM397.1,519.8h4.1v2.1h-4.1zM407.0,519.8h2.1v2.1h-2.1zM415.0,519.8h2.1v2.1h-2.1zM405.0,521.7h2.1v2.1h-2.1zM409.0,521.7h4.1v2.1h-4.1zM423.0,521.7h2.1v2.1h-2.1zM393.1,523.7h2.1v2.1h-2.1zM409.0,523.7h2.1v2.1h-2.1zM413.0,523.7h4.1v2.1h-4.1zM428.9,523.7h2.1v2.1h-2.1zM444.9,523.7h2.1v2.1h-2.1zM452.9,523.7h2.1v2.1h-2.1zM419.0,525.7h2.1v2.1h-2.1zM423.0,525.7h2.1v2.1h-2.1zM427.0,525.7h2.1v2.1h-2.1zM430.9,525.7h4.1v2.1h-4.1zM440.9,525.7h2.1v2.1h-2.1zM460.8,525.7h2.1v2.1h-2.1zM337.3,527.6h2.1v2.1h-2.1zM419.0,527.6h2.1v2.1h-2.1zM427.0,527.6h2.1v2.1h-2.1zM442.9,527.6h2.1v2.1h-2.1zM456.8,527.6h2.1v2.1h-2.1zM470.8,527.6h2.1v2.1h-2.1zM480.7,527.6h2.1v2.1h-2.1zM313.4,529.6h2.1v2.1h-2.1zM317.4,529.6h8.1v2.1h-8.1zM335.3,529.6h2.1v2.1h-2.1zM425.0,529.6h2.1v2.1h-2.1zM448.9,529.6h4.1v2.1h-4.1zM462.8,529.6h2.1v2.1h-2.1zM468.8,529.6h2.1v2.1h-2.1zM476.8,529.6h2.1v2.1h-2.1zM484.7,529.6h4.1v2.1h-4.1zM502.7,529.6h2.1v2.1h-2.1zM506.6,529.6h2.1v2.1h-2.1zM540.5,529.6h2.1v2.1h-2.1zM325.4,531.6h2.1v2.1h-2.1zM331.3,531.6h4.1v2.1h-4.1zM339.3,531.6h2.1v2.1h-2.1zM359.2,531.6h2.1v2.1h-2.1zM367.2,531.6h2.1v2.1h-2.1zM490.7,531.6h6.1v2.1h-6.1zM500.7,531.6h4.1v2.1h-4.1zM516.6,531.6h2.1v2.1h-2.1zM542.5,531.6h2.1v2.1h-2.1zM321.4,533.5h2.1v2.1h-2.1zM357.2,533.5h2.1v2.1h-2.1zM464.8,533.5h2.1v2.1h-2.1zM494.7,533.5h2.1v2.1h-2.1zM504.7,533.5h2.1v2.1h-2.1zM512.6,533.5h2.1v2.1h-2.1zM524.6,533.5h4.1v2.1h-4.1zM538.5,533.5h2.1v2.1h-2.1zM317.4,535.5h2.1v2.1h-2.1zM323.4,535.5h2.1v2.1h-2.1zM327.3,535.5h2.1v2.1h-2.1zM337.3,535.5h2.1v2.1h-2.1zM349.3,535.5h2.1v2.1h-2.1zM357.2,535.5h4.1v2.1h-4.1zM363.2,535.5h4.1v2.1h-4.1zM500.7,535.5h2.1v2.1h-2.1zM530.6,535.5h2.1v2.1h-2.1zM313.4,537.5h2.1v2.1h-2.1zM321.4,537.5h6.1v2.1h-6.1zM329.3,537.5h2.1v2.1h-2.1zM333.3,537.5h2.1v2.1h-2.1zM337.3,537.5h2.1v2.1h-2.1zM347.3,537.5h2.1v2.1h-2.1zM351.3,537.5h2.1v2.1h-2.1zM357.2,537.5h4.1v2.1h-4.1zM367.2,537.5h2.1v2.1h-2.1zM486.7,537.5h2.1v2.1h-2.1zM313.4,539.5h2.1v2.1h-2.1zM321.4,539.5h2.1v2.1h-2.1zM325.4,539.5h2.1v2.1h-2.1zM333.3,539.5h2.1v2.1h-2.1zM343.3,539.5h2.1v2.1h-2.1zM347.3,539.5h2.1v2.1h-2.1zM353.2,539.5h4.1v2.1h-4.1zM359.2,539.5h4.1v2.1h-4.1zM365.2,539.5h4.1v2.1h-4.1zM313.4,541.4h4.1v2.1h-4.1zM321.4,541.4h4.1v2.1h-4.1zM327.3,541.4h2.1v2.1h-2.1zM331.3,541.4h8.1v2.1h-8.1zM343.3,541.4h4.1v2.1h-4.1zM349.3,541.4h6.1v2.1h-6.1zM363.2,541.4h2.1v2.1h-2.1zM313.4,543.4h2.1v2.1h-2.1zM325.4,543.4h2.1v2.1h-2.1zM331.3,543.4h2.1v2.1h-2.1zM335.3,543.4h2.1v2.1h-2.1zM355.2,543.4h6.1v2.1h-6.1zM313.4,545.4h2.1v2.1h-2.1zM321.4,545.4h2.1v2.1h-2.1zM329.3,545.4h2.1v2.1h-2.1zM337.3,545.4h4.1v2.1h-4.1zM345.3,545.4h4.1v2.1h-4.1zM351.3,545.4h2.1v2.1h-2.1zM355.2,545.4h8.1v2.1h-8.1zM349.3,547.3h2.1v2.1h-2.1zM365.2,547.3h2.1v2.1h-2.1z"/><path fill="#dd513a" d="M369.2,511.9h4.1v2.1h-4.1zM373.2,513.9h2.1v2.1h-2.1zM383.1,513.9h2.1v2.1h-2.1zM381.1,515.8h2.1v2.1h-2.1zM379.1,517.8h2.1v2.1h-2.1zM383.1,517.8h4.1v2.1h-4.1zM389.1,517.8h2.1v2.1h-2.1zM397.1,517.8h2.1v2.1h-2.1zM375.2,519.8h2.1v2.1h-2.1zM387.1,519.8h4.1v2.1h-4.1zM395.1,519.8h2.1v2.1h-2.1zM393.1,521.7h4.1v2.1h-4.1zM399.1,521.7h2.1v2.1h-2.1zM403.1,521.7h2.1v2.1h-2.1zM389.1,523.7h2.1v2.1h-2.1zM401.1,523.7h2.1v2.1h-2.1zM401.1,525.7h2.1v2.1h-2.1zM407.0,525.7h2.1v2.1h-2.1zM411.0,525.7h2.1v2.1h-2.1zM415.0,525.7h4.1v2.1h-4.1zM421.0,525.7h2.1v2.1h-2.1zM442.9,525.7h8.1v2.1h-8.1zM430.9,527.6h4.1v2.1h-4.1zM448.9,527.6h2.1v2.1h-2.1zM458.8,527.6h2.1v2.1h-2.1zM462.8,527.6h2.1v2.1h-2.1zM315.4,529.6h2.1v2.1h-2.1zM325.4,529.6h2.1v2.1h-2.1zM436.9,529.6h4.1v2.1h-4.1zM446.9,529.6h2.1v2.1h-2.1zM452.9,529.6h2.1v2.1h-2.1zM458.8,529.6h2.1v2.1h-2.1zM474.8,529.6h2.1v2.1h-2.1zM478.8,529.6h4.1v2.1h-4.1zM514.6,529.6h2.1v2.1h-2.1zM323.4,531.6h2.1v2.1h-2.1zM434.9,531.6h2.1v2.1h-2.1zM454.8,531.6h2.1v2.1h-2.1zM466.8,531.6h2.1v2.1h-2.1zM478.8,531.6h10.1v2.1h-10.1zM496.7,531.6h2.1v2.1h-2.1zM522.6,531.6h2.1v2.1h-2.1zM480.7,533.5h2.1v2.1h-2.1zM484.7,533.5h2.1v2.1h-2.1zM488.7,533.5h2.1v2.1h-2.1zM492.7,533.5h2.1v2.1h-2.1zM496.7,533.5h2.1v2.1h-2.1zM508.6,533.5h4.1v2.1h-4.1zM516.6,533.5h2.1v2.1h-2.1zM520.6,533.5h4.1v2.1h-4.1zM528.6,533.5h2.1v2.1h-2.1zM532.5,533.5h2.1v2.1h-2.1zM542.5,533.5h2.1v2.1h-2.1zM484.7,535.5h2.1v2.1h-2.1zM492.7,535.5h2.1v2.1h-2.1zM514.6,535.5h2.1v2.1h-2.1zM524.6,535.5h2.1v2.1h-2.1zM528.6,535.5h2.1v2.1h-2.1zM534.5,535.5h4.1v2.1h-4.1zM540.5,535.5h4.1v2.1h-4.1zM317.4,537.5h2.1v2.1h-2.1zM343.3,537.5h2.1v2.1h-2.1zM516.6,537.5h2.1v2.1h-2.1zM524.6,537.5h2.1v2.1h-2.1zM329.3,539.5h4.1v2.1h-4.1zM335.3,539.5h2.1v2.1h-2.1zM339.3,541.4h2.1v2.1h-2.1zM357.2,541.4h2.1v2.1h-2.1zM367.2,541.4h2.1v2.1h-2.1zM315.4,543.4h6.1v2.1h-6.1zM323.4,543.4h2.1v2.1h-2.1zM327.3,543.4h2.1v2.1h-2.1zM343.3,543.4h2.1v2.1h-2.1zM347.3,543.4h2.1v2.1h-2.1zM351.3,543.4h2.1v2.1h-2.1zM365.2,543.4h2.1v2.1h-2.1zM319.4,545.4h2.1v2.1h-2.1zM331.3,545.4h2.1v2.1h-2.1zM335.3,545.4h2.1v2.1h-2.1zM341.3,545.4h2.1v2.1h-2.1zM353.2,545.4h2.1v2.1h-2.1zM365.2,545.4h4.1v2.1h-4.1zM333.3,547.3h6.1v2.1h-6.1z"/><path fill="#e25b32" d="M371.2,513.9h2.1v2.1h-2.1zM377.2,513.9h2.1v2.1h-2.1zM373.2,515.8h6.1v2.1h-6.1zM383.1,515.8h2.1v2.1h-2.1zM389.1,515.8h2.1v2.1h-2.1zM371.2,517.8h2.1v2.1h-2.1zM375.2,517.8h2.1v2.1h-2.1zM381.1,517.8h2.1v2.1h-2.1zM393.1,517.8h2.1v2.1h-2.1zM377.2,519.8h2.1v2.1h-2.1zM381.1,519.8h2.1v2.1h-2.1zM385.1,521.7h2.1v2.1h-2.1zM391.1,521.7h2.1v2.1h-2.1zM397.1,521.7h2.1v2.1h-2.1zM401.1,521.7h2.1v2.1h-2.1zM391.1,523.7h2.1v2.1h-2.1zM397.1,523.7h2.1v2.1h-2.1zM403.1,523.7h2.1v2.1h-2.1zM407.0,523.7h2.1v2.1h-2.1zM387.1,525.7h2.1v2.1h-2.1zM405.0,525.7h2.1v2.1h-2.1zM425.0,525.7h2.1v2.1h-2.1zM428.9,525.7h2.1v2.1h-2.1zM436.9,525.7h2.1v2.1h-2.1zM395.1,527.6h2.1v2.1h-2.1zM411.0,527.6h2.1v2.1h-2.1zM417.0,527.6h2.1v2.1h-2.1zM421.0,527.6h2.1v2.1h-2.1zM425.0,527.6h2.1v2.1h-2.1zM428.9,527.6h2.1v2.1h-2.1zM434.9,527.6h2.1v2.1h-2.1zM438.9,527.6h2.1v2.1h-2.1zM341.3,529.6h2.1v2.1h-2.1zM405.0,529.6h2.1v2.1h-2.1zM430.9,529.6h2.1v2.1h-2.1zM442.9,529.6h2.1v2.1h-2.1zM419.0,531.6h4.1v2.1h-4.1zM442.9,531.6h2.1v2.1h-2.1zM456.8,531.6h10.1v2.1h-10.1zM468.8,531.6h2.1v2.1h-2.1zM472.8,531.6h2.1v2.1h-2.1zM488.7,531.6h2.1v2.1h-2.1zM432.9,533.5h2.1v2.1h-2.1zM444.9,533.5h2.1v2.1h-2.1zM450.9,533.5h2.1v2.1h-2.1zM460.8,533.5h2.1v2.1h-2.1zM466.8,533.5h2.1v2.1h-2.1zM472.8,533.5h2.1v2.1h-2.1zM476.8,533.5h4.1v2.1h-4.1zM498.7,533.5h6.1v2.1h-6.1zM514.6,533.5h2.1v2.1h-2.1zM540.5,533.5h2.1v2.1h-2.1zM480.7,535.5h2.1v2.1h-2.1zM502.7,535.5h2.1v2.1h-2.1zM506.6,535.5h2.1v2.1h-2.1zM518.6,535.5h2.1v2.1h-2.1zM522.6,535.5h2.1v2.1h-2.1zM526.6,535.5h2.1v2.1h-2.1zM361.2,537.5h4.1v2.1h-4.1zM490.7,537.5h6.1v2.1h-6.1zM508.6,537.5h4.1v2.1h-4.1zM536.5,537.5h4.1v2.1h-4.1zM347.3,541.4h2.1v2.1h-2.1zM353.2,543.4h2.1v2.1h-2.1zM367.2,543.4h2.1v2.1h-2.1zM315.4,545.4h2.1v2.1h-2.1zM325.4,547.3h2.1v2.1h-2.1zM351.3,547.3h2.1v2.1h-2.1zM355.2,547.3h2.1v2.1h-2.1zM367.2,547.3h2.1v2.1h-2.1z"/><path fill="#e86529" d="M375.2,513.9h2.1v2.1h-2.1zM371.2,515.8h2.1v2.1h-2.1zM373.2,519.8h2.1v2.1h-2.1zM383.1,519.8h4.1v2.1h-4.1zM373.2,521.7h2.1v2.1h-2.1zM379.1,521.7h2.1v2.1h-2.1zM387.1,521.7h4.1v2.1h-4.1zM381.1,523.7h2.1v2.1h-2.1zM387.1,523.7h2.1v2.1h-2.1zM399.1,523.7h2.1v2.1h-2.1zM405.0,523.7h2.1v2.1h-2.1zM391.1,525.7h2.1v2.1h-2.1zM395.1,525.7h6.1v2.1h-6.1zM403.1,525.7h2.1v2.1h-2.1zM409.0,525.7h2.1v2.1h-2.1zM413.0,525.7h2.1v2.1h-2.1zM397.1,527.6h10.1v2.1h-10.1zM413.0,527.6h2.1v2.1h-2.1zM423.0,527.6h2.1v2.1h-2.1zM440.9,527.6h2.1v2.1h-2.1zM393.1,529.6h2.1v2.1h-2.1zM407.0,529.6h2.1v2.1h-2.1zM415.0,529.6h4.1v2.1h-4.1zM423.0,529.6h2.1v2.1h-2.1zM428.9,529.6h2.1v2.1h-2.1zM434.9,529.6h2.1v2.1h-2.1zM440.9,529.6h2.1v2.1h-2.1zM444.9,529.6h2.1v2.1h-2.1zM454.8,529.6h2.1v2.1h-2.1zM464.8,529.6h2.1v2.1h-2.1zM411.0,531.6h2.1v2.1h-2.1zM423.0,531.6h4.1v2.1h-4.1zM428.9,531.6h4.1v2.1h-4.1zM436.9,531.6h2.1v2.1h-2.1zM446.9,531.6h6.1v2.1h-6.1zM470.8,531.6h2.1v2.1h-2.1zM436.9,533.5h4.1v2.1h-4.1zM456.8,533.5h2.1v2.1h-2.1zM462.8,533.5h2.1v2.1h-2.1zM474.8,533.5h2.1v2.1h-2.1zM506.6,533.5h2.1v2.1h-2.1zM452.9,535.5h2.1v2.1h-2.1zM470.8,535.5h10.1v2.1h-10.1zM488.7,535.5h4.1v2.1h-4.1zM494.7,535.5h4.1v2.1h-4.1zM510.6,535.5h2.1v2.1h-2.1zM516.6,535.5h2.1v2.1h-2.1zM532.5,535.5h2.1v2.1h-2.1zM454.8,537.5h2.1v2.1h-2.1zM498.7,537.5h2.1v2.1h-2.1zM502.7,537.5h4.1v2.1h-4.1zM512.6,537.5h2.1v2.1h-2.1zM520.6,537.5h4.1v2.1h-4.1zM526.6,537.5h2.1v2.1h-2.1zM530.6,537.5h6.1v2.1h-6.1zM540.5,537.5h4.1v2.1h-4.1zM496.7,539.5h2.1v2.1h-2.1zM518.6,539.5h2.1v2.1h-2.1zM522.6,539.5h2.1v2.1h-2.1zM526.6,539.5h2.1v2.1h-2.1zM540.5,539.5h2.1v2.1h-2.1zM530.6,541.4h2.1v2.1h-2.1zM325.4,545.4h2.1v2.1h-2.1zM343.3,545.4h2.1v2.1h-2.1zM313.4,547.3h10.1v2.1h-10.1zM331.3,547.3h2.1v2.1h-2.1zM339.3,547.3h4.1v2.1h-4.1zM345.3,547.3h4.1v2.1h-4.1zM353.2,547.3h2.1v2.1h-2.1zM359.2,547.3h2.1v2.1h-2.1z"/><path fill="#ee6e21" d="M369.2,513.9h2.1v2.1h-2.1zM369.2,515.8h2.1v2.1h-2.1zM373.2,517.8h2.1v2.1h-2.1zM369.2,519.8h4.1v2.1h-4.1zM379.1,519.8h2.1v2.1h-2.1zM371.2,521.7h2.1v2.1h-2.1zM381.1,521.7h4.1v2.1h-4.1zM377.2,523.7h4.1v2.1h-4.1zM383.1,523.7h4.1v2.1h-4.1zM395.1,523.7h2.1v2.1h-2.1zM379.1,525.7h2.1v2.1h-2.1zM383.1,525.7h4.1v2.1h-4.1zM393.1,525.7h2.1v2.1h-2.1zM377.2,527.6h2.1v2.1h-2.1zM407.0,527.6h2.1v2.1h-2.1zM415.0,527.6h2.1v2.1h-2.1zM379.1,529.6h2.1v2.1h-2.1zM389.1,529.6h2.1v2.1h-2.1zM411.0,529.6h4.1v2.1h-4.1zM419.0,529.6h2.1v2.1h-2.1zM432.9,529.6h2.1v2.1h-2.1zM407.0,531.6h4.1v2.1h-4.1zM413.0,531.6h4.1v2.1h-4.1zM432.9,531.6h2.1v2.1h-2.1zM438.9,531.6h4.1v2.1h-4.1zM452.9,531.6h2.1v2.1h-2.1zM427.0,533.5h4.1v2.1h-4.1zM440.9,533.5h2.1v2.1h-2.1zM446.9,533.5h2.1v2.1h-2.1zM452.9,533.5h2.1v2.1h-2.1zM458.8,533.5h2.1v2.1h-2.1zM482.7,533.5h2.1v2.1h-2.1zM486.7,533.5h2.1v2.1h-2.1zM490.7,533.5h2.1v2.1h-2.1zM430.9,535.5h2.1v2.1h-2.1zM456.8,535.5h2.1v2.1h-2.1zM462.8,535.5h2.1v2.1h-2.1zM498.7,535.5h2.1v2.1h-2.1zM504.7,535.5h2.1v2.1h-2.1zM508.6,535.5h2.1v2.1h-2.1zM512.6,535.5h2.1v2.1h-2.1zM432.9,537.5h2.1v2.1h-2.1zM446.9,537.5h2.1v2.1h-2.1zM450.9,537.5h4.1v2.1h-4.1zM460.8,537.5h2.1v2.1h-2.1zM468.8,537.5h4.1v2.1h-4.1zM488.7,537.5h2.1v2.1h-2.1zM506.6,537.5h2.1v2.1h-2.1zM514.6,537.5h2.1v2.1h-2.1zM518.6,537.5h2.1v2.1h-2.1zM528.6,537.5h2.1v2.1h-2.1zM502.7,539.5h2.1v2.1h-2.1zM506.6,539.5h2.1v2.1h-2.1zM524.6,539.5h2.1v2.1h-2.1zM528.6,539.5h4.1v2.1h-4.1zM510.6,541.4h2.1v2.1h-2.1zM514.6,541.4h2.1v2.1h-2.1zM526.6,541.4h2.1v2.1h-2.1zM532.5,541.4h2.1v2.1h-2.1zM536.5,543.4h2.1v2.1h-2.1zM542.5,543.4h2.1v2.1h-2.1zM323.4,545.4h2.1v2.1h-2.1zM323.4,547.3h2.1v2.1h-2.1zM329.3,547.3h2.1v2.1h-2.1zM343.3,547.3h2.1v2.1h-2.1zM357.2,547.3h2.1v2.1h-2.1zM361.2,547.3h4.1v2.1h-4.1z"/><path fill="#f37819" d="M375.2,521.7h4.1v2.1h-4.1zM371.2,523.7h6.1v2.1h-6.1zM375.2,525.7h2.1v2.1h-2.1zM383.1,527.6h2.1v2.1h-2.1zM389.1,527.6h6.1v2.1h-6.1zM409.0,527.6h2.1v2.1h-2.1zM387.1,529.6h2.1v2.1h-2.1zM391.1,529.6h2.1v2.1h-2.1zM395.1,529.6h2.1v2.1h-2.1zM401.1,529.6h4.1v2.1h-4.1zM409.0,529.6h2.1v2.1h-2.1zM421.0,529.6h2.1v2.1h-2.1zM427.0,529.6h2.1v2.1h-2.1zM417.0,531.6h2.1v2.1h-2.1zM427.0,531.6h2.1v2.1h-2.1zM444.9,531.6h2.1v2.1h-2.1zM405.0,533.5h4.1v2.1h-4.1zM411.0,533.5h2.1v2.1h-2.1zM419.0,533.5h4.1v2.1h-4.1zM430.9,533.5h2.1v2.1h-2.1zM434.9,533.5h2.1v2.1h-2.1zM442.9,533.5h2.1v2.1h-2.1zM448.9,533.5h2.1v2.1h-2.1zM468.8,533.5h4.1v2.1h-4.1zM409.0,535.5h2.1v2.1h-2.1zM421.0,535.5h2.1v2.1h-2.1zM432.9,535.5h10.1v2.1h-10.1zM446.9,535.5h6.1v2.1h-6.1zM454.8,535.5h2.1v2.1h-2.1zM458.8,535.5h4.1v2.1h-4.1zM466.8,535.5h4.1v2.1h-4.1zM482.7,535.5h2.1v2.1h-2.1zM438.9,537.5h2.1v2.1h-2.1zM442.9,537.5h2.1v2.1h-2.1zM462.8,537.5h4.1v2.1h-4.1zM474.8,537.5h2.1v2.1h-2.1zM482.7,537.5h4.1v2.1h-4.1zM496.7,537.5h2.1v2.1h-2.1zM500.7,537.5h2.1v2.1h-2.1zM458.8,539.5h2.1v2.1h-2.1zM462.8,539.5h2.1v2.1h-2.1zM470.8,539.5h8.1v2.1h-8.1zM480.7,539.5h2.1v2.1h-2.1zM486.7,539.5h8.1v2.1h-8.1zM498.7,539.5h2.1v2.1h-2.1zM508.6,539.5h2.1v2.1h-2.1zM514.6,539.5h2.1v2.1h-2.1zM520.6,539.5h2.1v2.1h-2.1zM532.5,539.5h8.1v2.1h-8.1zM468.8,541.4h2.1v2.1h-2.1zM486.7,541.4h2.1v2.1h-2.1zM490.7,541.4h2.1v2.1h-2.1zM494.7,541.4h4.1v2.1h-4.1zM504.7,541.4h4.1v2.1h-4.1zM516.6,541.4h2.1v2.1h-2.1zM520.6,541.4h2.1v2.1h-2.1zM534.5,541.4h4.1v2.1h-4.1zM494.7,543.4h2.1v2.1h-2.1zM510.6,543.4h2.1v2.1h-2.1zM540.5,543.4h2.1v2.1h-2.1zM327.3,547.3h2.1v2.1h-2.1z"/><path fill="#f58315" d="M369.2,523.7h2.1v2.1h-2.1zM377.2,525.7h2.1v2.1h-2.1zM381.1,525.7h2.1v2.1h-2.1zM389.1,525.7h2.1v2.1h-2.1zM371.2,527.6h2.1v2.1h-2.1zM375.2,527.6h2.1v2.1h-2.1zM385.1,527.6h4.1v2.1h-4.1zM381.1,529.6h6.1v2.1h-6.1zM397.1,529.6h2.1v2.1h-2.1zM381.1,531.6h2.1v2.1h-2.1zM387.1,531.6h2.1v2.1h-2.1zM391.1,531.6h2.1v2.1h-2.1zM397.1,531.6h2.1v2.1h-2.1zM401.1,531.6h2.1v2.1h-2.1zM405.0,531.6h2.1v2.1h-2.1zM393.1,533.5h2.1v2.1h-2.1zM403.1,533.5h2.1v2.1h-2.1zM409.0,533.5h2.1v2.1h-2.1zM413.0,533.5h6.1v2.1h-6.1zM425.0,533.5h2.1v2.1h-2.1zM454.8,533.5h2.1v2.1h-2.1zM417.0,535.5h2.1v2.1h-2.1zM423.0,535.5h2.1v2.1h-2.1zM427.0,535.5h4.1v2.1h-4.1zM442.9,535.5h4.1v2.1h-4.1zM464.8,535.5h2.1v2.1h-2.1zM486.7,535.5h2.1v2.1h-2.1zM403.1,537.5h2.1v2.1h-2.1zM417.0,537.5h2.1v2.1h-2.1zM434.9,537.5h2.1v2.1h-2.1zM458.8,537.5h2.1v2.1h-2.1zM466.8,537.5h2.1v2.1h-2.1zM472.8,537.5h2.1v2.1h-2.1zM476.8,537.5h2.1v2.1h-2.1zM480.7,537.5h2.1v2.1h-2.1zM438.9,539.5h2.1v2.1h-2.1zM446.9,539.5h4.1v2.1h-4.1zM454.8,539.5h2.1v2.1h-2.1zM464.8,539.5h2.1v2.1h-2.1zM468.8,539.5h2.1v2.1h-2.1zM482.7,539.5h4.1v2.1h-4.1zM500.7,539.5h2.1v2.1h-2.1zM510.6,539.5h4.1v2.1h-4.1zM516.6,539.5h2.1v2.1h-2.1zM542.5,539.5h2.1v2.1h-2.1zM458.8,541.4h2.1v2.1h-2.1zM464.8,541.4h2.1v2.1h-2.1zM478.8,541.4h2.1v2.1h-2.1zM482.7,541.4h4.1v2.1h-4.1zM488.7,541.4h2.1v2.1h-2.1zM492.7,541.4h2.1v2.1h-2.1zM498.7,541.4h2.1v2.1h-2.1zM502.7,541.4h2.1v2.1h-2.1zM508.6,541.4h2.1v2.1h-2.1zM512.6,541.4h2.1v2.1h-2.1zM524.6,541.4h2.1v2.1h-2.1zM528.6,541.4h2.1v2.1h-2.1zM538.5,541.4h6.1v2.1h-6.1zM428.9,543.4h2.1v2.1h-2.1zM462.8,543.4h2.1v2.1h-2.1zM474.8,543.4h2.1v2.1h-2.1zM512.6,543.4h2.1v2.1h-2.1zM516.6,543.4h6.1v2.1h-6.1zM524.6,543.4h2.1v2.1h-2.1zM528.6,543.4h4.1v2.1h-4.1zM538.5,543.4h2.1v2.1h-2.1zM506.6,545.4h2.1v2.1h-2.1zM532.5,545.4h2.1v2.1h-2.1zM542.5,545.4h2.1v2.1h-2.1z"/><path fill="#f88e12" d="M369.2,517.8h2.1v2.1h-2.1zM369.2,521.7h2.1v2.1h-2.1zM371.2,525.7h4.1v2.1h-4.1zM379.1,527.6h2.1v2.1h-2.1zM399.1,529.6h2.1v2.1h-2.1zM373.2,531.6h2.1v2.1h-2.1zM377.2,531.6h4.1v2.1h-4.1zM383.1,531.6h4.1v2.1h-4.1zM393.1,531.6h2.1v2.1h-2.1zM397.1,533.5h6.1v2.1h-6.1zM423.0,533.5h2.1v2.1h-2.1zM377.2,535.5h2.1v2.1h-2.1zM397.1,535.5h2.1v2.1h-2.1zM407.0,535.5h2.1v2.1h-2.1zM411.0,535.5h6.1v2.1h-6.1zM419.0,535.5h2.1v2.1h-2.1zM425.0,535.5h2.1v2.1h-2.1zM385.1,537.5h2.1v2.1h-2.1zM411.0,537.5h2.1v2.1h-2.1zM419.0,537.5h2.1v2.1h-2.1zM436.9,537.5h2.1v2.1h-2.1zM440.9,537.5h2.1v2.1h-2.1zM444.9,537.5h2.1v2.1h-2.1zM448.9,537.5h2.1v2.1h-2.1zM478.8,537.5h2.1v2.1h-2.1zM432.9,539.5h2.1v2.1h-2.1zM436.9,539.5h2.1v2.1h-2.1zM442.9,539.5h2.1v2.1h-2.1zM456.8,539.5h2.1v2.1h-2.1zM460.8,539.5h2.1v2.1h-2.1zM466.8,539.5h2.1v2.1h-2.1zM478.8,539.5h2.1v2.1h-2.1zM494.7,539.5h2.1v2.1h-2.1zM504.7,539.5h2.1v2.1h-2.1zM417.0,541.4h2.1v2.1h-2.1zM438.9,541.4h2.1v2.1h-2.1zM444.9,541.4h4.1v2.1h-4.1zM452.9,541.4h2.1v2.1h-2.1zM518.6,541.4h2.1v2.1h-2.1zM522.6,541.4h2.1v2.1h-2.1zM466.8,543.4h2.1v2.1h-2.1zM478.8,543.4h4.1v2.1h-4.1zM484.7,543.4h4.1v2.1h-4.1zM490.7,543.4h4.1v2.1h-4.1zM496.7,543.4h2.1v2.1h-2.1zM500.7,543.4h10.1v2.1h-10.1zM514.6,543.4h2.1v2.1h-2.1zM522.6,543.4h2.1v2.1h-2.1zM534.5,543.4h2.1v2.1h-2.1zM490.7,545.4h2.1v2.1h-2.1zM494.7,545.4h4.1v2.1h-4.1zM514.6,545.4h2.1v2.1h-2.1zM518.6,545.4h2.1v2.1h-2.1zM522.6,545.4h4.1v2.1h-4.1zM536.5,545.4h2.1v2.1h-2.1z"/><path fill="#fa9a0e" d="M369.2,525.7h2.1v2.1h-2.1zM373.2,527.6h2.1v2.1h-2.1zM369.2,529.6h2.1v2.1h-2.1zM375.2,531.6h2.1v2.1h-2.1zM395.1,531.6h2.1v2.1h-2.1zM399.1,531.6h2.1v2.1h-2.1zM403.1,531.6h2.1v2.1h-2.1zM371.2,533.5h2.1v2.1h-2.1zM375.2,533.5h2.1v2.1h-2.1zM389.1,533.5h4.1v2.1h-4.1zM383.1,535.5h2.1v2.1h-2.1zM387.1,535.5h2.1v2.1h-2.1zM391.1,535.5h2.1v2.1h-2.1zM395.1,535.5h2.1v2.1h-2.1zM401.1,535.5h4.1v2.1h-4.1zM387.1,537.5h2.1v2.1h-2.1zM399.1,537.5h2.1v2.1h-2.1zM405.0,537.5h4.1v2.1h-4.1zM415.0,537.5h2.1v2.1h-2.1zM421.0,537.5h12.1v2.1h-12.1zM456.8,537.5h2.1v2.1h-2.1zM419.0,539.5h2.1v2.1h-2.1zM423.0,539.5h8.1v2.1h-8.1zM440.9,539.5h2.1v2.1h-2.1zM444.9,539.5h2.1v2.1h-2.1zM450.9,539.5h4.1v2.1h-4.1zM411.0,541.4h2.1v2.1h-2.1zM421.0,541.4h2.1v2.1h-2.1zM425.0,541.4h2.1v2.1h-2.1zM428.9,541.4h2.1v2.1h-2.1zM432.9,541.4h2.1v2.1h-2.1zM448.9,541.4h4.1v2.1h-4.1zM454.8,541.4h2.1v2.1h-2.1zM462.8,541.4h2.1v2.1h-2.1zM466.8,541.4h2.1v2.1h-2.1zM470.8,541.4h2.1v2.1h-2.1zM474.8,541.4h4.1v2.1h-4.1zM500.7,541.4h2.1v2.1h-2.1zM438.9,543.4h2.1v2.1h-2.1zM446.9,543.4h4.1v2.1h-4.1zM452.9,543.4h2.1v2.1h-2.1zM456.8,543.4h2.1v2.1h-2.1zM460.8,543.4h2.1v2.1h-2.1zM464.8,543.4h2.1v2.1h-2.1zM476.8,543.4h2.1v2.1h-2.1zM488.7,543.4h2.1v2.1h-2.1zM498.7,543.4h2.1v2.1h-2.1zM526.6,543.4h2.1v2.1h-2.1zM532.5,543.4h2.1v2.1h-2.1zM444.9,545.4h2.1v2.1h-2.1zM462.8,545.4h2.1v2.1h-2.1zM480.7,545.4h2.1v2.1h-2.1zM486.7,545.4h2.1v2.1h-2.1zM492.7,545.4h2.1v2.1h-2.1zM504.7,545.4h2.1v2.1h-2.1zM508.6,545.4h6.1v2.1h-6.1zM516.6,545.4h2.1v2.1h-2.1zM520.6,545.4h2.1v2.1h-2.1zM530.6,545.4h2.1v2.1h-2.1zM534.5,545.4h2.1v2.1h-2.1zM538.5,545.4h4.1v2.1h-4.1zM536.5,547.3h2.1v2.1h-2.1z"/><path fill="#fca50a" d="M369.2,527.6h2.1v2.1h-2.1zM381.1,527.6h2.1v2.1h-2.1zM375.2,529.6h4.1v2.1h-4.1zM389.1,531.6h2.1v2.1h-2.1zM379.1,533.5h2.1v2.1h-2.1zM383.1,533.5h6.1v2.1h-6.1zM395.1,533.5h2.1v2.1h-2.1zM371.2,535.5h4.1v2.1h-4.1zM385.1,535.5h2.1v2.1h-2.1zM399.1,535.5h2.1v2.1h-2.1zM405.0,535.5h2.1v2.1h-2.1zM377.2,537.5h4.1v2.1h-4.1zM389.1,537.5h2.1v2.1h-2.1zM393.1,537.5h2.1v2.1h-2.1zM397.1,537.5h2.1v2.1h-2.1zM409.0,537.5h2.1v2.1h-2.1zM413.0,537.5h2.1v2.1h-2.1zM383.1,539.5h2.1v2.1h-2.1zM397.1,539.5h2.1v2.1h-2.1zM405.0,539.5h2.1v2.1h-2.1zM411.0,539.5h2.1v2.1h-2.1zM415.0,539.5h4.1v2.1h-4.1zM421.0,539.5h2.1v2.1h-2.1zM430.9,539.5h2.1v2.1h-2.1zM434.9,539.5h2.1v2.1h-2.1zM389.1,541.4h2.1v2.1h-2.1zM405.0,541.4h4.1v2.1h-4.1zM415.0,541.4h2.1v2.1h-2.1zM419.0,541.4h2.1v2.1h-2.1zM430.9,541.4h2.1v2.1h-2.1zM436.9,541.4h2.1v2.1h-2.1zM442.9,541.4h2.1v2.1h-2.1zM456.8,541.4h2.1v2.1h-2.1zM460.8,541.4h2.1v2.1h-2.1zM472.8,541.4h2.1v2.1h-2.1zM480.7,541.4h2.1v2.1h-2.1zM381.1,543.4h2.1v2.1h-2.1zM421.0,543.4h2.1v2.1h-2.1zM425.0,543.4h2.1v2.1h-2.1zM430.9,543.4h2.1v2.1h-2.1zM436.9,543.4h2.1v2.1h-2.1zM444.9,543.4h2.1v2.1h-2.1zM454.8,543.4h2.1v2.1h-2.1zM458.8,543.4h2.1v2.1h-2.1zM482.7,543.4h2.1v2.1h-2.1zM434.9,545.4h2.1v2.1h-2.1zM460.8,545.4h2.1v2.1h-2.1zM464.8,545.4h2.1v2.1h-2.1zM472.8,545.4h2.1v2.1h-2.1zM478.8,545.4h2.1v2.1h-2.1zM482.7,545.4h4.1v2.1h-4.1zM488.7,545.4h2.1v2.1h-2.1zM502.7,545.4h2.1v2.1h-2.1zM526.6,545.4h4.1v2.1h-4.1zM454.8,547.3h2.1v2.1h-2.1zM482.7,547.3h2.1v2.1h-2.1zM522.6,547.3h2.1v2.1h-2.1zM530.6,547.3h2.1v2.1h-2.1z"/><path fill="#fab119" d="M371.2,529.6h4.1v2.1h-4.1zM371.2,531.6h2.1v2.1h-2.1zM377.2,533.5h2.1v2.1h-2.1zM381.1,533.5h2.1v2.1h-2.1zM381.1,535.5h2.1v2.1h-2.1zM389.1,535.5h2.1v2.1h-2.1zM393.1,535.5h2.1v2.1h-2.1zM373.2,537.5h4.1v2.1h-4.1zM391.1,537.5h2.1v2.1h-2.1zM401.1,537.5h2.1v2.1h-2.1zM381.1,539.5h2.1v2.1h-2.1zM391.1,539.5h6.1v2.1h-6.1zM399.1,539.5h6.1v2.1h-6.1zM409.0,539.5h2.1v2.1h-2.1zM413.0,539.5h2.1v2.1h-2.1zM427.0,541.4h2.1v2.1h-2.1zM434.9,541.4h2.1v2.1h-2.1zM440.9,541.4h2.1v2.1h-2.1zM399.1,543.4h6.1v2.1h-6.1zM409.0,543.4h6.1v2.1h-6.1zM423.0,543.4h2.1v2.1h-2.1zM427.0,543.4h2.1v2.1h-2.1zM440.9,543.4h4.1v2.1h-4.1zM468.8,543.4h6.1v2.1h-6.1zM415.0,545.4h2.1v2.1h-2.1zM425.0,545.4h2.1v2.1h-2.1zM442.9,545.4h2.1v2.1h-2.1zM454.8,545.4h2.1v2.1h-2.1zM458.8,545.4h2.1v2.1h-2.1zM466.8,545.4h6.1v2.1h-6.1zM474.8,545.4h4.1v2.1h-4.1zM498.7,545.4h4.1v2.1h-4.1zM446.9,547.3h2.1v2.1h-2.1zM476.8,547.3h2.1v2.1h-2.1zM500.7,547.3h2.1v2.1h-2.1zM506.6,547.3h2.1v2.1h-2.1zM512.6,547.3h2.1v2.1h-2.1zM516.6,547.3h6.1v2.1h-6.1zM528.6,547.3h2.1v2.1h-2.1zM538.5,547.3h2.1v2.1h-2.1z"/><path fill="#f9be28" d="M375.2,535.5h2.1v2.1h-2.1zM379.1,535.5h2.1v2.1h-2.1zM381.1,537.5h4.1v2.1h-4.1zM395.1,537.5h2.1v2.1h-2.1zM379.1,539.5h2.1v2.1h-2.1zM385.1,539.5h6.1v2.1h-6.1zM373.2,541.4h2.1v2.1h-2.1zM383.1,541.4h6.1v2.1h-6.1zM395.1,541.4h8.1v2.1h-8.1zM409.0,541.4h2.1v2.1h-2.1zM413.0,541.4h2.1v2.1h-2.1zM385.1,543.4h2.1v2.1h-2.1zM393.1,543.4h2.1v2.1h-2.1zM419.0,543.4h2.1v2.1h-2.1zM432.9,543.4h4.1v2.1h-4.1zM450.9,543.4h2.1v2.1h-2.1zM395.1,545.4h2.1v2.1h-2.1zM399.1,545.4h2.1v2.1h-2.1zM403.1,545.4h2.1v2.1h-2.1zM407.0,545.4h2.1v2.1h-2.1zM417.0,545.4h4.1v2.1h-4.1zM427.0,545.4h6.1v2.1h-6.1zM440.9,545.4h2.1v2.1h-2.1zM446.9,545.4h2.1v2.1h-2.1zM450.9,545.4h2.1v2.1h-2.1zM456.8,545.4h2.1v2.1h-2.1zM413.0,547.3h2.1v2.1h-2.1zM419.0,547.3h2.1v2.1h-2.1zM423.0,547.3h4.1v2.1h-4.1zM430.9,547.3h2.1v2.1h-2.1zM440.9,547.3h2.1v2.1h-2.1zM478.8,547.3h4.1v2.1h-4.1zM492.7,547.3h2.1v2.1h-2.1zM508.6,547.3h4.1v2.1h-4.1zM514.6,547.3h2.1v2.1h-2.1zM532.5,547.3h4.1v2.1h-4.1zM540.5,547.3h4.1v2.1h-4.1z"/><path fill="#f8ca37" d="M369.2,531.6h2.1v2.1h-2.1zM373.2,533.5h2.1v2.1h-2.1zM369.2,535.5h2.1v2.1h-2.1zM371.2,537.5h2.1v2.1h-2.1zM375.2,539.5h4.1v2.1h-4.1zM407.0,539.5h2.1v2.1h-2.1zM379.1,541.4h4.1v2.1h-4.1zM393.1,541.4h2.1v2.1h-2.1zM423.0,541.4h2.1v2.1h-2.1zM371.2,543.4h2.1v2.1h-2.1zM383.1,543.4h2.1v2.1h-2.1zM395.1,543.4h4.1v2.1h-4.1zM405.0,543.4h4.1v2.1h-4.1zM415.0,543.4h4.1v2.1h-4.1zM381.1,545.4h2.1v2.1h-2.1zM387.1,545.4h4.1v2.1h-4.1zM393.1,545.4h2.1v2.1h-2.1zM397.1,545.4h2.1v2.1h-2.1zM401.1,545.4h2.1v2.1h-2.1zM409.0,545.4h6.1v2.1h-6.1zM423.0,545.4h2.1v2.1h-2.1zM432.9,545.4h2.1v2.1h-2.1zM438.9,545.4h2.1v2.1h-2.1zM448.9,545.4h2.1v2.1h-2.1zM452.9,545.4h2.1v2.1h-2.1zM415.0,547.3h2.1v2.1h-2.1zM421.0,547.3h2.1v2.1h-2.1zM438.9,547.3h2.1v2.1h-2.1zM448.9,547.3h2.1v2.1h-2.1zM452.9,547.3h2.1v2.1h-2.1zM456.8,547.3h8.1v2.1h-8.1zM466.8,547.3h2.1v2.1h-2.1zM470.8,547.3h6.1v2.1h-6.1zM486.7,547.3h6.1v2.1h-6.1zM494.7,547.3h2.1v2.1h-2.1zM498.7,547.3h2.1v2.1h-2.1zM502.7,547.3h4.1v2.1h-4.1zM526.6,547.3h2.1v2.1h-2.1z"/><path fill="#f6d746" d="M369.2,533.5h2.1v2.1h-2.1zM369.2,537.5h2.1v2.1h-2.1zM371.2,539.5h4.1v2.1h-4.1zM371.2,541.4h2.1v2.1h-2.1zM391.1,541.4h2.1v2.1h-2.1zM403.1,541.4h2.1v2.1h-2.1zM373.2,543.4h8.1v2.1h-8.1zM387.1,543.4h6.1v2.1h-6.1zM377.2,545.4h2.1v2.1h-2.1zM391.1,545.4h2.1v2.1h-2.1zM405.0,545.4h2.1v2.1h-2.1zM421.0,545.4h2.1v2.1h-2.1zM436.9,545.4h2.1v2.1h-2.1zM387.1,547.3h2.1v2.1h-2.1zM403.1,547.3h2.1v2.1h-2.1zM407.0,547.3h6.1v2.1h-6.1zM417.0,547.3h2.1v2.1h-2.1zM427.0,547.3h4.1v2.1h-4.1zM432.9,547.3h2.1v2.1h-2.1zM436.9,547.3h2.1v2.1h-2.1zM442.9,547.3h4.1v2.1h-4.1zM450.9,547.3h2.1v2.1h-2.1zM464.8,547.3h2.1v2.1h-2.1zM496.7,547.3h2.1v2.1h-2.1z"/><path fill="#f8e15e" d="M375.2,541.4h4.1v2.1h-4.1zM369.2,545.4h2.1v2.1h-2.1zM375.2,545.4h2.1v2.1h-2.1zM383.1,545.4h4.1v2.1h-4.1zM383.1,547.3h4.1v2.1h-4.1zM389.1,547.3h2.1v2.1h-2.1zM395.1,547.3h4.1v2.1h-4.1zM405.0,547.3h2.1v2.1h-2.1zM468.8,547.3h2.1v2.1h-2.1zM484.7,547.3h2.1v2.1h-2.1zM524.6,547.3h2.1v2.1h-2.1z"/><path fill="#f9eb75" d="M369.2,539.5h2.1v2.1h-2.1zM373.2,545.4h2.1v2.1h-2.1zM379.1,545.4h2.1v2.1h-2.1zM373.2,547.3h4.1v2.1h-4.1zM391.1,547.3h4.1v2.1h-4.1zM401.1,547.3h2.1v2.1h-2.1zM434.9,547.3h2.1v2.1h-2.1z"/><path fill="#faf58c" d="M369.2,541.4h2.1v2.1h-2.1zM369.2,543.4h2.1v2.1h-2.1zM371.2,545.4h2.1v2.1h-2.1zM377.2,547.3h6.1v2.1h-6.1zM399.1,547.3h2.1v2.1h-2.1z"/><path fill="#fcffa4" d="M369.2,547.3h4.1v2.1h-4.1z"/></g>
<rect x="313.4" y="492.2" width="231.1" height="57.1" fill="none" stroke="#222" stroke-width="0.7"/>
<rect x="313.4" y="406.9" width="231.1" height="78.2" fill="#fff" stroke="#222" stroke-width="0.8"/>
<path d="M313.4,451.4H544.5" stroke="#000" stroke-width="0.9"/>
<path d="M313.9,451.0V451.6M314.4,451.2V451.7M314.9,451.0V451.8M315.4,451.0V451.8M315.9,451.1V451.8M316.4,451.1V451.6M316.9,451.0V451.8M317.4,451.1V451.7M317.9,451.1V451.7M318.4,451.2V451.6M318.9,451.1V451.8M319.4,451.0V451.7M319.9,451.0V451.7M320.4,451.0V451.8M320.9,451.0V451.8M321.4,451.0V451.7M321.9,451.2V451.7M322.4,451.1V451.6M322.9,451.1V451.7M323.4,451.2V451.7M323.9,451.1V451.8M324.4,451.0V451.7M324.9,451.1V451.7M325.4,451.1V451.8M325.9,451.0V451.7M326.4,451.1V451.6M326.9,451.1V451.6M327.4,451.1V451.7M327.9,451.2V451.7M328.4,451.0V451.7M328.9,451.0V451.6M329.4,451.2V451.8M329.9,451.1V451.8M330.4,451.1V451.6M330.9,451.0V451.7M331.4,451.0V451.6M331.9,451.1V451.7M332.4,451.1V451.8M332.9,451.1V451.6M333.4,451.2V451.7M333.9,451.0V451.8M334.4,451.0V451.7M334.9,451.2V451.8M335.4,451.2V451.7M335.9,451.1V451.8M336.4,451.2V451.6M336.9,451.0V451.6M337.4,451.0V451.6M337.9,451.1V451.7M338.4,451.1V451.8M338.9,451.0V451.7M339.4,451.2V451.6M339.9,451.1V451.8M340.4,451.0V451.6M340.9,451.1V451.8M341.4,451.2V451.6M341.9,451.1V451.8M342.4,451.1V451.8M342.9,451.2V451.7M343.4,451.2V451.7M343.9,451.0V451.8M344.4,451.1V451.8M344.9,451.1V451.8M345.4,451.0V451.8M345.9,451.2V451.7M346.4,451.0V451.8M346.9,451.1V451.8M347.4,451.1V451.6M347.9,451.2V451.6M348.4,451.1V451.8M348.9,451.0V451.8M349.4,451.0V451.7M349.9,451.0V451.7M350.4,451.0V451.6M350.9,451.0V451.6M351.4,451.1V451.8M351.9,451.0V451.8M352.4,451.1V451.7M352.9,451.0V451.6M353.4,451.0V451.7M353.9,451.1V451.7M354.4,451.0V451.6M354.9,451.2V451.6M355.4,451.2V451.7M355.9,451.0V451.6M356.4,451.1V451.7M356.9,451.1V451.7M357.4,451.2V451.7M357.9,451.1V451.6M358.4,451.2V451.8M358.9,451.0V451.8M359.4,451.0V451.8M359.9,451.1V451.6M360.4,451.0V451.8M360.9,451.0V451.6M361.4,451.0V451.7M361.9,451.2V451.7M362.4,451.0V451.7M362.9,451.2V451.6M363.4,451.0V451.7M363.9,451.1V451.6M364.4,451.2V451.7M364.9,451.1V451.6M365.4,451.2V451.7M365.9,451.2V451.6M366.4,451.1V451.6M366.9,451.0V451.8M367.4,451.0V451.8M367.9,451.2V451.7M368.4,451.1V451.6M368.9,451.0V451.6M369.4,410.4V473.4M369.9,420.6V467.9M370.4,444.3V460.5M370.9,443.2V460.0M371.4,446.6V459.3M371.9,447.6V458.3M372.4,446.0V456.2M372.9,446.4V456.1M373.4,447.7V456.5M373.9,445.9V458.9M374.4,445.2V460.4M374.9,447.6V461.8M375.4,448.5V459.3M375.9,447.5V457.8M376.4,447.1V456.3M376.9,445.7V455.5M377.4,442.8V460.2M377.9,440.5V464.2M378.4,425.4V478.4M378.9,431.9V471.6M379.4,440.3V461.5M379.9,441.7V460.8M380.4,444.6V460.6M380.9,429.4V479.4M381.4,434.9V472.4M381.9,438.9V465.9M382.4,434.5V461.2M382.9,432.4V459.1M383.4,436.6V461.5M383.9,435.7V468.0M384.4,429.1V472.0M384.9,437.7V468.5M385.4,443.5V468.9M385.9,436.7V463.3M386.4,435.6V460.3M386.9,439.6V461.0M387.4,442.6V460.8M387.9,443.7V457.6M388.4,439.1V466.1M388.9,419.4V469.4M389.4,427.4V466.0M389.9,437.1V463.8M390.4,446.9V458.1M390.9,443.6V461.5M391.4,441.2V464.9M391.9,434.8V466.8M392.4,435.5V466.1M392.9,441.0V464.0M393.4,442.3V463.3M393.9,443.2V461.4M394.4,446.1V460.7M394.9,446.1V460.9M395.4,446.1V460.2M395.9,429.4V471.4M396.4,434.9V470.5M396.9,430.1V464.7M397.4,432.5V461.0M397.9,429.6V463.7M398.4,432.0V462.3M398.9,437.5V464.1M399.4,443.3V460.7M399.9,445.9V458.4M400.4,444.1V462.3M400.9,438.0V460.8M401.4,433.8V459.0M401.9,431.4V475.4M402.4,432.3V469.4M402.9,435.2V461.5M403.4,437.6V461.6M403.9,443.5V461.9M404.4,441.6V466.3M404.9,437.8V473.4M405.4,440.4V464.1M405.9,439.5V461.1M406.4,437.8V461.6M406.9,438.6V462.9M407.4,442.6V467.0M407.9,437.5V463.1M408.4,433.1V463.0M408.9,432.4V462.7M409.4,435.8V466.2M409.9,444.6V466.7M410.4,444.2V461.9M410.9,433.4V481.4M411.4,435.3V473.9M411.9,434.3V462.5M412.4,441.6V459.0M412.9,438.3V458.2M413.4,431.0V460.2M413.9,437.1V465.2M414.4,437.1V470.6M414.9,437.8V472.5M415.4,434.6V470.2M415.9,429.4V469.4M416.4,434.9V464.9M416.9,444.4V458.1M417.4,444.0V462.2M417.9,442.6V460.6M418.4,443.0V459.2M418.9,439.5V463.1M419.4,436.2V469.0M419.9,436.4V462.2M420.4,440.2V458.7M420.9,443.8V458.2M421.4,438.8V461.9M421.9,432.1V466.2M422.4,438.9V466.5M422.9,441.0V464.9M423.4,426.4V471.4M423.9,432.6V466.4M424.4,441.0V462.1M424.9,433.8V467.9M425.4,432.4V469.4M425.9,433.4V475.4M426.4,437.9V469.4M426.9,438.5V469.9M427.4,436.7V465.9M427.9,431.4V460.9M428.4,434.0V463.1M428.9,432.7V461.3M429.4,437.0V460.9M429.9,439.3V464.4M430.4,440.7V465.5M430.9,439.9V465.1M431.4,438.8V464.7M431.9,426.4V469.4M432.4,432.6V464.9M432.9,439.0V462.3M433.4,440.3V462.0M433.9,442.2V462.9M434.4,444.6V459.6M434.9,437.4V473.4M435.4,440.9V467.9M435.9,442.9V459.8M436.4,442.5V460.1M436.9,444.7V459.3M437.4,446.0V458.8M437.9,448.5V456.4M438.4,446.7V456.2M438.9,443.9V456.2M439.4,441.8V454.8M439.9,442.5V455.8M440.4,442.7V459.9M440.9,441.8V459.3M441.4,441.8V460.3M441.9,442.6V457.3M442.4,443.9V457.6M442.9,445.3V458.7M443.4,445.5V460.5M443.9,443.5V460.9M444.4,445.2V456.5M444.9,446.7V455.3M445.4,448.0V458.4M445.9,448.0V458.6M446.4,447.1V455.9M446.9,446.9V455.2M447.4,447.3V455.3M447.9,444.7V454.9M448.4,443.7V454.9M448.9,444.6V455.2M449.4,445.8V455.0M449.9,446.3V453.4M450.4,446.1V453.8M450.9,446.4V453.7M451.4,448.3V454.0M451.9,448.1V454.4M452.4,446.6V455.0M452.9,446.2V454.7M453.4,445.3V454.2M453.9,446.6V453.8M454.4,448.0V455.3M454.9,448.1V457.4M455.4,448.0V455.9M455.9,447.6V454.7M456.4,447.9V455.1M456.9,447.6V455.4M457.4,446.7V456.3M457.9,447.3V456.4M458.4,448.9V457.2M458.9,449.3V455.6M459.4,449.1V453.8M459.9,448.4V453.7M460.4,447.7V455.0M460.9,446.5V457.0M461.4,446.2V457.8M461.9,446.3V457.3M462.4,446.6V457.0M462.9,445.9V456.7M463.4,445.6V455.8M463.9,446.5V455.3M464.4,448.3V454.4M464.9,449.3V454.1M465.4,449.3V454.1M465.9,448.2V456.6M466.4,448.1V457.0M466.9,448.0V456.5M467.4,448.9V455.6M467.9,448.9V455.1M468.4,447.9V455.4M468.9,447.5V455.0M469.4,448.8V453.7M469.9,449.0V454.3M470.4,449.0V454.6M470.9,449.1V456.2M471.4,447.9V455.0M471.9,446.7V453.7M472.4,447.7V453.9M472.9,449.9V454.7M473.4,449.4V454.1M473.9,449.1V454.2M474.4,449.2V455.7M474.9,449.3V456.1M475.4,449.4V455.4M475.9,449.3V454.9M476.4,448.8V454.4M476.9,449.5V454.2M477.4,448.8V453.5M477.9,447.0V452.8M478.4,447.6V453.4M478.9,448.6V454.1M479.4,447.9V453.6M479.9,448.3V453.5M480.4,449.4V453.8M480.9,449.2V453.3M481.4,448.7V453.0M481.9,448.8V454.3M482.4,447.9V454.9M482.9,448.0V454.0M483.4,448.3V454.3M483.9,449.7V454.4M484.4,449.4V454.7M484.9,448.8V454.8M485.4,448.2V455.1M485.9,447.6V454.6M486.4,448.1V454.3M486.9,449.0V453.7M487.4,449.5V454.3M487.9,449.3V454.6M488.4,448.5V454.3M488.9,448.5V453.3M489.4,449.0V454.1M489.9,449.3V455.0M490.4,448.9V453.2M490.9,448.7V452.9M491.4,448.7V454.2M491.9,448.6V454.2M492.4,447.8V453.8M492.9,448.7V453.9M493.4,449.2V453.8M493.9,448.7V454.8M494.4,449.1V454.2M494.9,449.7V453.1M495.4,449.2V453.2M495.9,448.8V453.3M496.4,449.4V453.8M496.9,449.6V454.3M497.4,449.3V454.1M497.9,449.7V453.6M498.4,449.6V453.4M498.9,449.9V453.8M499.4,450.0V454.0M499.9,450.2V453.7M500.4,450.1V453.7M500.9,450.1V454.0M501.4,449.8V453.6M501.9,449.6V453.5M502.4,450.0V453.1M502.9,450.2V452.8M503.4,450.4V452.8M503.9,449.7V452.5M504.4,449.2V452.4M504.9,449.7V452.5M505.4,449.9V452.4M505.9,448.8V452.4M506.4,449.2V453.0M506.9,449.5V454.0M507.4,449.9V452.9M507.9,449.9V452.6M508.4,449.2V453.1M508.9,449.3V452.8M509.4,449.2V452.5M509.9,449.5V453.4M510.4,450.1V453.6M510.9,450.3V453.3M511.4,450.1V452.9M511.9,449.5V452.5M512.4,449.5V453.1M512.9,449.1V453.4M513.4,449.6V453.7M513.9,449.5V453.4M514.4,449.3V453.6M514.9,449.8V453.0M515.4,450.0V452.5M515.9,449.9V452.7M516.4,449.9V453.0M516.9,450.1V453.0M517.4,450.3V452.8M517.9,450.0V452.5M518.4,450.0V452.8M518.9,450.2V452.9M519.4,450.0V453.2M519.9,450.1V453.1M520.4,450.1V453.3M520.9,449.7V453.2M521.4,449.7V453.4M521.9,450.2V453.3M522.4,450.4V453.0M522.9,450.4V452.7M523.4,450.4V452.9M523.9,450.2V453.2M524.4,449.8V452.9M524.9,449.5V452.5M525.4,449.8V452.4M525.9,450.2V452.3M526.4,450.6V452.2M526.9,450.0V452.6M527.4,449.5V452.8M527.9,449.6V452.7M528.4,449.6V452.5M528.9,449.7V452.3M529.4,450.1V452.5M529.9,450.1V452.7M530.4,450.0V452.7M530.9,449.9V452.5M531.4,450.3V452.6M531.9,450.5V452.6M532.4,450.5V452.7M532.9,450.1V452.7M533.4,449.5V452.7M533.9,449.7V452.6M534.4,450.0V452.9M534.9,450.5V453.2M535.4,450.0V453.3M535.9,449.8V453.1M536.4,450.4V452.6M536.9,450.6V452.6M537.4,450.3V453.1M537.9,450.5V452.8M538.4,450.6V452.6M538.9,450.6V452.9M539.4,450.6V452.8M539.9,450.5V452.3M540.4,450.2V452.3M540.9,450.0V452.5M541.4,450.3V452.8M541.9,450.4V452.9M542.4,450.5V452.8M542.9,450.5V452.8M543.4,450.6V452.9M543.9,450.5V452.6" stroke="#000" stroke-width="0.8" fill="none"/>
<text x="326.2" y="561.5" font-size="8.5" text-anchor="middle">-80</text>
<text x="351.9" y="561.5" font-size="8.5" text-anchor="middle">-60</text>
<text x="377.6" y="561.5" font-size="8.5" text-anchor="middle">-40</text>
<text x="403.3" y="561.5" font-size="8.5" text-anchor="middle">-20</text>
<text x="428.9" y="561.5" font-size="8.5" text-anchor="middle">0</text>
<text x="454.6" y="561.5" font-size="8.5" text-anchor="middle">20</text>
<text x="480.3" y="561.5" font-size="8.5" text-anchor="middle">40</text>
<text x="506.0" y="561.5" font-size="8.5" text-anchor="middle">60</text>
<text x="531.7" y="561.5" font-size="8.5" text-anchor="middle">80</text>
<text x="307.8" y="410.0" font-size="8.3" text-anchor="end">1</text>
<text x="307.8" y="431.7" font-size="8.3" text-anchor="end">0.5</text>
<text x="307.8" y="453.2" font-size="8.3" text-anchor="end">0</text>
<text x="307.8" y="475.2" font-size="8.3" text-anchor="end">-0.5</text>
<text x="307.8" y="551.1" font-size="8.3" text-anchor="end">0</text>
<text x="307.8" y="527.1" font-size="8.3" text-anchor="end">50</text>
<text x="307.8" y="503.1" font-size="8.3" text-anchor="end">100</text>
<path d="M326.2,485.1v2 M326.2,549.3v2.2 M351.9,485.1v2 M351.9,549.3v2.2 M377.6,485.1v2 M377.6,549.3v2.2 M403.3,485.1v2 M403.3,549.3v2.2 M428.9,485.1v2 M428.9,549.3v2.2 M454.6,485.1v2 M454.6,549.3v2.2 M480.3,485.1v2 M480.3,549.3v2.2 M506.0,485.1v2 M506.0,549.3v2.2 M531.7,485.1v2 M531.7,549.3v2.2 M313.4,408.2h-2.2 M313.4,429.9h-2.2 M313.4,451.4h-2.2 M313.4,473.4h-2.2 M313.4,549.3h-2.2 M313.4,525.3h-2.2 M313.4,501.3h-2.2" stroke="#222" stroke-width="0.6" fill="none"/>
<text x="430.9" y="572.0" font-size="8.9" text-anchor="middle">Time (s)</text>
<text x="295.7" y="400.3" font-size="8.8">1e8</text>
<text x="316.1" y="419.6" font-size="11.5">MAHY02</text>
<text x="362.6" y="396.9" font-size="9.3" text-anchor="middle">P</text>
<path d="M364.4,398.0L368.0,405.5" stroke="#222" stroke-width="0.6"/>
<path d="M369.5,408.7L366.6,406.1L369.3,404.8Z" fill="#111"/>
<text x="371.5" y="391.0" font-size="9.3" text-anchor="middle">S</text>
<path d="M371.5,392.6L371.5,433.8" stroke="#222" stroke-width="0.6"/>
<path d="M371.5,437.4L370.0,433.8L373.0,433.8Z" fill="#111"/>
<text x="379.2" y="391.0" font-size="9.3" text-anchor="middle">T</text>
<path d="M378.7,392.6L376.9,416.8" stroke="#222" stroke-width="0.6"/>
<path d="M376.6,420.4L375.4,416.7L378.4,416.9Z" fill="#111"/>
<g shape-rendering="crispEdges"><path fill="#57126d" d="M215.4,680.3h2.1v2.1h-2.1z"/><path fill="#6c1972" d="M109.5,680.3h2.1v2.1h-2.1zM113.5,680.3h2.1v2.1h-2.1zM119.5,680.3h2.1v2.1h-2.1zM147.5,680.3h2.1v2.1h-2.1zM153.5,680.3h2.1v2.1h-2.1zM157.5,680.3h2.1v2.1h-2.1zM165.5,680.3h2.1v2.1h-2.1zM185.4,680.3h2.1v2.1h-2.1zM213.4,680.3h2.1v2.1h-2.1zM77.6,682.3h2.1v2.1h-2.1zM193.4,682.3h4.1v2.1h-4.1zM251.3,682.3h2.1v2.1h-2.1zM237.4,684.2h2.1v2.1h-2.1zM145.5,686.2h2.1v2.1h-2.1z"/><path fill="#761d70" d="M55.6,680.3h2.1v2.1h-2.1zM77.6,680.3h2.1v2.1h-2.1zM83.6,680.3h6.1v2.1h-6.1zM97.5,680.3h2.1v2.1h-2.1zM115.5,680.3h2.1v2.1h-2.1zM139.5,680.3h2.1v2.1h-2.1zM149.5,680.3h4.1v2.1h-4.1zM177.4,680.3h2.1v2.1h-2.1zM239.4,680.3h2.1v2.1h-2.1zM247.3,680.3h2.1v2.1h-2.1zM253.3,680.3h4.1v2.1h-4.1zM263.3,680.3h2.1v2.1h-2.1zM279.3,680.3h2.1v2.1h-2.1zM69.6,682.3h2.1v2.1h-2.1zM75.6,682.3h2.1v2.1h-2.1zM103.5,682.3h2.1v2.1h-2.1zM153.5,682.3h2.1v2.1h-2.1zM161.5,682.3h2.1v2.1h-2.1zM205.4,682.3h2.1v2.1h-2.1zM263.3,682.3h2.1v2.1h-2.1zM271.3,682.3h2.1v2.1h-2.1zM55.6,684.2h4.1v2.1h-4.1zM129.5,684.2h2.1v2.1h-2.1zM135.5,684.2h2.1v2.1h-2.1zM139.5,684.2h2.1v2.1h-2.1zM147.5,684.2h2.1v2.1h-2.1zM155.5,684.2h2.1v2.1h-2.1zM177.4,684.2h2.1v2.1h-2.1zM181.4,684.2h2.1v2.1h-2.1zM185.4,684.2h2.1v2.1h-2.1zM217.4,684.2h2.1v2.1h-2.1zM243.4,684.2h2.1v2.1h-2.1zM281.3,684.2h2.1v2.1h-2.1zM55.6,686.2h2.1v2.1h-2.1zM71.6,686.2h2.1v2.1h-2.1zM89.6,686.2h2.1v2.1h-2.1zM95.5,686.2h2.1v2.1h-2.1zM127.5,686.2h2.1v2.1h-2.1zM135.5,686.2h2.1v2.1h-2.1zM157.5,686.2h2.1v2.1h-2.1zM173.4,686.2h2.1v2.1h-2.1zM237.4,686.2h2.1v2.1h-2.1zM245.3,686.2h2.1v2.1h-2.1zM265.3,686.2h2.1v2.1h-2.1zM103.5,688.2h2.1v2.1h-2.1zM157.5,688.2h2.1v2.1h-2.1zM167.5,688.2h4.1v2.1h-4.1zM207.4,688.2h2.1v2.1h-2.1zM227.4,688.2h2.1v2.1h-2.1zM253.3,688.2h2.1v2.1h-2.1zM165.5,690.1h2.1v2.1h-2.1zM193.4,690.1h2.1v2.1h-2.1zM137.5,692.1h2.1v2.1h-2.1zM201.4,692.1h2.1v2.1h-2.1zM273.3,692.1h2.1v2.1h-2.1zM185.4,694.1h2.1v2.1h-2.1zM229.4,694.1h2.1v2.1h-2.1zM213.4,696.1h2.1v2.1h-2.1zM193.4,698.0h2.1v2.1h-2.1z"/><path fill="#81206f" d="M59.6,680.3h4.1v2.1h-4.1zM67.6,680.3h2.1v2.1h-2.1zM73.6,680.3h2.1v2.1h-2.1zM79.6,680.3h4.1v2.1h-4.1zM89.6,680.3h6.1v2.1h-6.1zM99.5,680.3h2.1v2.1h-2.1zM105.5,680.3h4.1v2.1h-4.1zM111.5,680.3h2.1v2.1h-2.1zM125.5,680.3h2.1v2.1h-2.1zM133.5,680.3h6.1v2.1h-6.1zM141.5,680.3h4.1v2.1h-4.1zM159.5,680.3h4.1v2.1h-4.1zM169.4,680.3h6.1v2.1h-6.1zM179.4,680.3h2.1v2.1h-2.1zM191.4,680.3h2.1v2.1h-2.1zM195.4,680.3h2.1v2.1h-2.1zM201.4,680.3h10.1v2.1h-10.1zM217.4,680.3h4.1v2.1h-4.1zM223.4,680.3h4.1v2.1h-4.1zM231.4,680.3h4.1v2.1h-4.1zM245.3,680.3h2.1v2.1h-2.1zM251.3,680.3h2.1v2.1h-2.1zM257.3,680.3h2.1v2.1h-2.1zM261.3,680.3h2.1v2.1h-2.1zM273.3,680.3h6.1v2.1h-6.1zM55.6,682.3h14.1v2.1h-14.1zM83.6,682.3h6.1v2.1h-6.1zM91.5,682.3h2.1v2.1h-2.1zM95.5,682.3h2.1v2.1h-2.1zM101.5,682.3h2.1v2.1h-2.1zM105.5,682.3h4.1v2.1h-4.1zM113.5,682.3h2.1v2.1h-2.1zM121.5,682.3h4.1v2.1h-4.1zM129.5,682.3h2.1v2.1h-2.1zM133.5,682.3h4.1v2.1h-4.1zM141.5,682.3h2.1v2.1h-2.1zM147.5,682.3h2.1v2.1h-2.1zM165.5,682.3h2.1v2.1h-2.1zM173.4,682.3h4.1v2.1h-4.1zM179.4,682.3h2.1v2.1h-2.1zM185.4,682.3h2.1v2.1h-2.1zM201.4,682.3h2.1v2.1h-2.1zM207.4,682.3h6.1v2.1h-6.1zM219.4,682.3h4.1v2.1h-4.1zM225.4,682.3h2.1v2.1h-2.1zM229.4,682.3h2.1v2.1h-2.1zM233.4,682.3h2.1v2.1h-2.1zM237.4,682.3h2.1v2.1h-2.1zM247.3,682.3h4.1v2.1h-4.1zM255.3,682.3h4.1v2.1h-4.1zM267.3,682.3h2.1v2.1h-2.1zM273.3,682.3h2.1v2.1h-2.1zM281.3,682.3h2.1v2.1h-2.1zM67.6,684.2h2.1v2.1h-2.1zM95.5,684.2h2.1v2.1h-2.1zM99.5,684.2h4.1v2.1h-4.1zM113.5,684.2h2.1v2.1h-2.1zM119.5,684.2h2.1v2.1h-2.1zM125.5,684.2h2.1v2.1h-2.1zM131.5,684.2h2.1v2.1h-2.1zM143.5,684.2h2.1v2.1h-2.1zM161.5,684.2h2.1v2.1h-2.1zM165.5,684.2h2.1v2.1h-2.1zM175.4,684.2h2.1v2.1h-2.1zM205.4,684.2h2.1v2.1h-2.1zM215.4,684.2h2.1v2.1h-2.1zM221.4,684.2h2.1v2.1h-2.1zM229.4,684.2h2.1v2.1h-2.1zM233.4,684.2h2.1v2.1h-2.1zM245.3,684.2h2.1v2.1h-2.1zM257.3,684.2h4.1v2.1h-4.1zM263.3,684.2h2.1v2.1h-2.1zM277.3,684.2h4.1v2.1h-4.1zM51.6,686.2h4.1v2.1h-4.1zM69.6,686.2h2.1v2.1h-2.1zM87.6,686.2h2.1v2.1h-2.1zM99.5,686.2h2.1v2.1h-2.1zM107.5,686.2h2.1v2.1h-2.1zM115.5,686.2h2.1v2.1h-2.1zM123.5,686.2h2.1v2.1h-2.1zM133.5,686.2h2.1v2.1h-2.1zM141.5,686.2h2.1v2.1h-2.1zM147.5,686.2h2.1v2.1h-2.1zM155.5,686.2h2.1v2.1h-2.1zM161.5,686.2h2.1v2.1h-2.1zM195.4,686.2h4.1v2.1h-4.1zM203.4,686.2h2.1v2.1h-2.1zM243.4,686.2h2.1v2.1h-2.1zM259.3,686.2h2.1v2.1h-2.1zM267.3,686.2h2.1v2.1h-2.1zM271.3,686.2h4.1v2.1h-4.1zM55.6,688.2h2.1v2.1h-2.1zM59.6,688.2h4.1v2.1h-4.1zM65.6,688.2h2.1v2.1h-2.1zM77.6,688.2h2.1v2.1h-2.1zM81.6,688.2h2.1v2.1h-2.1zM91.5,688.2h2.1v2.1h-2.1zM97.5,688.2h2.1v2.1h-2.1zM107.5,688.2h2.1v2.1h-2.1zM121.5,688.2h2.1v2.1h-2.1zM127.5,688.2h2.1v2.1h-2.1zM133.5,688.2h2.1v2.1h-2.1zM143.5,688.2h2.1v2.1h-2.1zM163.5,688.2h2.1v2.1h-2.1zM173.4,688.2h2.1v2.1h-2.1zM177.4,688.2h6.1v2.1h-6.1zM189.4,688.2h4.1v2.1h-4.1zM205.4,688.2h2.1v2.1h-2.1zM209.4,688.2h2.1v2.1h-2.1zM217.4,688.2h2.1v2.1h-2.1zM231.4,688.2h2.1v2.1h-2.1zM241.4,688.2h2.1v2.1h-2.1zM245.3,688.2h2.1v2.1h-2.1zM249.3,688.2h2.1v2.1h-2.1zM257.3,688.2h2.1v2.1h-2.1zM261.3,688.2h2.1v2.1h-2.1zM277.3,688.2h4.1v2.1h-4.1zM57.6,690.1h2.1v2.1h-2.1zM65.6,690.1h2.1v2.1h-2.1zM145.5,690.1h2.1v2.1h-2.1zM157.5,690.1h2.1v2.1h-2.1zM163.5,690.1h2.1v2.1h-2.1zM225.4,690.1h2.1v2.1h-2.1zM229.4,690.1h2.1v2.1h-2.1zM241.4,690.1h2.1v2.1h-2.1zM249.3,690.1h2.1v2.1h-2.1zM253.3,690.1h2.1v2.1h-2.1zM263.3,690.1h2.1v2.1h-2.1zM275.3,690.1h4.1v2.1h-4.1zM95.5,692.1h2.1v2.1h-2.1zM99.5,692.1h4.1v2.1h-4.1zM149.5,692.1h2.1v2.1h-2.1zM155.5,692.1h2.1v2.1h-2.1zM177.4,692.1h2.1v2.1h-2.1zM203.4,692.1h4.1v2.1h-4.1zM239.4,692.1h2.1v2.1h-2.1zM55.6,694.1h2.1v2.1h-2.1zM59.6,694.1h2.1v2.1h-2.1zM145.5,694.1h4.1v2.1h-4.1zM159.5,694.1h4.1v2.1h-4.1zM169.4,694.1h2.1v2.1h-2.1zM173.4,694.1h2.1v2.1h-2.1zM183.4,694.1h2.1v2.1h-2.1zM207.4,694.1h2.1v2.1h-2.1zM213.4,694.1h2.1v2.1h-2.1zM241.4,694.1h2.1v2.1h-2.1zM251.3,694.1h2.1v2.1h-2.1zM51.6,696.1h2.1v2.1h-2.1zM147.5,696.1h2.1v2.1h-2.1zM151.5,696.1h2.1v2.1h-2.1zM179.4,696.1h2.1v2.1h-2.1zM249.3,696.1h2.1v2.1h-2.1zM259.3,696.1h2.1v2.1h-2.1zM275.3,696.1h2.1v2.1h-2.1zM67.6,698.0h2.1v2.1h-2.1zM75.6,698.0h2.1v2.1h-2.1zM79.6,698.0h2.1v2.1h-2.1zM211.4,698.0h2.1v2.1h-2.1zM235.4,698.0h2.1v2.1h-2.1zM265.3,698.0h2.1v2.1h-2.1zM259.3,700.0h2.1v2.1h-2.1zM83.6,702.0h2.1v2.1h-2.1zM187.4,702.0h2.1v2.1h-2.1zM67.6,703.9h2.1v2.1h-2.1zM269.3,703.9h2.1v2.1h-2.1z"/><path fill="#8c246e" d="M51.6,680.3h2.1v2.1h-2.1zM65.6,680.3h2.1v2.1h-2.1zM69.6,680.3h2.1v2.1h-2.1zM75.6,680.3h2.1v2.1h-2.1zM95.5,680.3h2.1v2.1h-2.1zM101.5,680.3h4.1v2.1h-4.1zM121.5,680.3h4.1v2.1h-4.1zM127.5,680.3h4.1v2.1h-4.1zM175.4,680.3h2.1v2.1h-2.1zM181.4,680.3h2.1v2.1h-2.1zM193.4,680.3h2.1v2.1h-2.1zM199.4,680.3h2.1v2.1h-2.1zM221.4,680.3h2.1v2.1h-2.1zM227.4,680.3h2.1v2.1h-2.1zM237.4,680.3h2.1v2.1h-2.1zM243.4,680.3h2.1v2.1h-2.1zM249.3,680.3h2.1v2.1h-2.1zM265.3,680.3h6.1v2.1h-6.1zM281.3,680.3h2.1v2.1h-2.1zM53.6,682.3h2.1v2.1h-2.1zM71.6,682.3h4.1v2.1h-4.1zM79.6,682.3h2.1v2.1h-2.1zM89.6,682.3h2.1v2.1h-2.1zM99.5,682.3h2.1v2.1h-2.1zM109.5,682.3h4.1v2.1h-4.1zM115.5,682.3h2.1v2.1h-2.1zM119.5,682.3h2.1v2.1h-2.1zM127.5,682.3h2.1v2.1h-2.1zM131.5,682.3h2.1v2.1h-2.1zM143.5,682.3h4.1v2.1h-4.1zM149.5,682.3h4.1v2.1h-4.1zM155.5,682.3h2.1v2.1h-2.1zM159.5,682.3h2.1v2.1h-2.1zM163.5,682.3h2.1v2.1h-2.1zM167.5,682.3h6.1v2.1h-6.1zM181.4,682.3h4.1v2.1h-4.1zM189.4,682.3h2.1v2.1h-2.1zM199.4,682.3h2.1v2.1h-2.1zM203.4,682.3h2.1v2.1h-2.1zM215.4,682.3h4.1v2.1h-4.1zM223.4,682.3h2.1v2.1h-2.1zM241.4,682.3h4.1v2.1h-4.1zM259.3,682.3h2.1v2.1h-2.1zM265.3,682.3h2.1v2.1h-2.1zM269.3,682.3h2.1v2.1h-2.1zM51.6,684.2h4.1v2.1h-4.1zM61.6,684.2h4.1v2.1h-4.1zM69.6,684.2h14.1v2.1h-14.1zM85.6,684.2h2.1v2.1h-2.1zM91.5,684.2h2.1v2.1h-2.1zM103.5,684.2h2.1v2.1h-2.1zM111.5,684.2h2.1v2.1h-2.1zM117.5,684.2h2.1v2.1h-2.1zM123.5,684.2h2.1v2.1h-2.1zM127.5,684.2h2.1v2.1h-2.1zM133.5,684.2h2.1v2.1h-2.1zM137.5,684.2h2.1v2.1h-2.1zM145.5,684.2h2.1v2.1h-2.1zM149.5,684.2h2.1v2.1h-2.1zM153.5,684.2h2.1v2.1h-2.1zM167.5,684.2h2.1v2.1h-2.1zM179.4,684.2h2.1v2.1h-2.1zM183.4,684.2h2.1v2.1h-2.1zM193.4,684.2h12.1v2.1h-12.1zM209.4,684.2h2.1v2.1h-2.1zM223.4,684.2h6.1v2.1h-6.1zM231.4,684.2h2.1v2.1h-2.1zM235.4,684.2h2.1v2.1h-2.1zM241.4,684.2h2.1v2.1h-2.1zM247.3,684.2h2.1v2.1h-2.1zM251.3,684.2h2.1v2.1h-2.1zM255.3,684.2h2.1v2.1h-2.1zM273.3,684.2h4.1v2.1h-4.1zM57.6,686.2h2.1v2.1h-2.1zM61.6,686.2h2.1v2.1h-2.1zM75.6,686.2h2.1v2.1h-2.1zM83.6,686.2h2.1v2.1h-2.1zM91.5,686.2h2.1v2.1h-2.1zM101.5,686.2h6.1v2.1h-6.1zM109.5,686.2h2.1v2.1h-2.1zM125.5,686.2h2.1v2.1h-2.1zM137.5,686.2h2.1v2.1h-2.1zM143.5,686.2h2.1v2.1h-2.1zM149.5,686.2h4.1v2.1h-4.1zM163.5,686.2h2.1v2.1h-2.1zM175.4,686.2h2.1v2.1h-2.1zM179.4,686.2h2.1v2.1h-2.1zM183.4,686.2h4.1v2.1h-4.1zM191.4,686.2h2.1v2.1h-2.1zM201.4,686.2h2.1v2.1h-2.1zM207.4,686.2h2.1v2.1h-2.1zM213.4,686.2h8.1v2.1h-8.1zM229.4,686.2h2.1v2.1h-2.1zM233.4,686.2h4.1v2.1h-4.1zM239.4,686.2h2.1v2.1h-2.1zM247.3,686.2h2.1v2.1h-2.1zM253.3,686.2h6.1v2.1h-6.1zM261.3,686.2h4.1v2.1h-4.1zM269.3,686.2h2.1v2.1h-2.1zM279.3,686.2h4.1v2.1h-4.1zM53.6,688.2h2.1v2.1h-2.1zM63.6,688.2h2.1v2.1h-2.1zM67.6,688.2h2.1v2.1h-2.1zM75.6,688.2h2.1v2.1h-2.1zM79.6,688.2h2.1v2.1h-2.1zM83.6,688.2h2.1v2.1h-2.1zM89.6,688.2h2.1v2.1h-2.1zM93.5,688.2h4.1v2.1h-4.1zM99.5,688.2h2.1v2.1h-2.1zM105.5,688.2h2.1v2.1h-2.1zM135.5,688.2h6.1v2.1h-6.1zM145.5,688.2h2.1v2.1h-2.1zM151.5,688.2h4.1v2.1h-4.1zM161.5,688.2h2.1v2.1h-2.1zM165.5,688.2h2.1v2.1h-2.1zM171.4,688.2h2.1v2.1h-2.1zM185.4,688.2h4.1v2.1h-4.1zM193.4,688.2h2.1v2.1h-2.1zM203.4,688.2h2.1v2.1h-2.1zM213.4,688.2h2.1v2.1h-2.1zM223.4,688.2h2.1v2.1h-2.1zM229.4,688.2h2.1v2.1h-2.1zM235.4,688.2h4.1v2.1h-4.1zM247.3,688.2h2.1v2.1h-2.1zM259.3,688.2h2.1v2.1h-2.1zM265.3,688.2h2.1v2.1h-2.1zM275.3,688.2h2.1v2.1h-2.1zM51.6,690.1h2.1v2.1h-2.1zM63.6,690.1h2.1v2.1h-2.1zM67.6,690.1h2.1v2.1h-2.1zM71.6,690.1h4.1v2.1h-4.1zM77.6,690.1h2.1v2.1h-2.1zM81.6,690.1h4.1v2.1h-4.1zM91.5,690.1h2.1v2.1h-2.1zM107.5,690.1h2.1v2.1h-2.1zM115.5,690.1h2.1v2.1h-2.1zM127.5,690.1h2.1v2.1h-2.1zM131.5,690.1h4.1v2.1h-4.1zM139.5,690.1h4.1v2.1h-4.1zM149.5,690.1h4.1v2.1h-4.1zM159.5,690.1h2.1v2.1h-2.1zM167.5,690.1h4.1v2.1h-4.1zM185.4,690.1h2.1v2.1h-2.1zM189.4,690.1h2.1v2.1h-2.1zM197.4,690.1h4.1v2.1h-4.1zM205.4,690.1h4.1v2.1h-4.1zM215.4,690.1h2.1v2.1h-2.1zM221.4,690.1h4.1v2.1h-4.1zM233.4,690.1h4.1v2.1h-4.1zM243.4,690.1h2.1v2.1h-2.1zM247.3,690.1h2.1v2.1h-2.1zM251.3,690.1h2.1v2.1h-2.1zM255.3,690.1h2.1v2.1h-2.1zM259.3,690.1h4.1v2.1h-4.1zM267.3,690.1h4.1v2.1h-4.1zM281.3,690.1h2.1v2.1h-2.1zM53.6,692.1h4.1v2.1h-4.1zM67.6,692.1h4.1v2.1h-4.1zM103.5,692.1h2.1v2.1h-2.1zM131.5,692.1h4.1v2.1h-4.1zM139.5,692.1h2.1v2.1h-2.1zM143.5,692.1h2.1v2.1h-2.1zM153.5,692.1h2.1v2.1h-2.1zM157.5,692.1h2.1v2.1h-2.1zM161.5,692.1h4.1v2.1h-4.1zM173.4,692.1h4.1v2.1h-4.1zM187.4,692.1h2.1v2.1h-2.1zM197.4,692.1h2.1v2.1h-2.1zM207.4,692.1h4.1v2.1h-4.1zM213.4,692.1h2.1v2.1h-2.1zM217.4,692.1h2.1v2.1h-2.1zM221.4,692.1h2.1v2.1h-2.1zM227.4,692.1h2.1v2.1h-2.1zM237.4,692.1h2.1v2.1h-2.1zM241.4,692.1h2.1v2.1h-2.1zM247.3,692.1h2.1v2.1h-2.1zM251.3,692.1h2.1v2.1h-2.1zM257.3,692.1h2.1v2.1h-2.1zM263.3,692.1h2.1v2.1h-2.1zM271.3,692.1h2.1v2.1h-2.1zM277.3,692.1h4.1v2.1h-4.1zM51.6,694.1h2.1v2.1h-2.1zM69.6,694.1h2.1v2.1h-2.1zM83.6,694.1h2.1v2.1h-2.1zM93.5,694.1h2.1v2.1h-2.1zM133.5,694.1h2.1v2.1h-2.1zM137.5,694.1h2.1v2.1h-2.1zM151.5,694.1h2.1v2.1h-2.1zM165.5,694.1h4.1v2.1h-4.1zM175.4,694.1h2.1v2.1h-2.1zM187.4,694.1h2.1v2.1h-2.1zM191.4,694.1h2.1v2.1h-2.1zM197.4,694.1h2.1v2.1h-2.1zM203.4,694.1h2.1v2.1h-2.1zM219.4,694.1h6.1v2.1h-6.1zM227.4,694.1h2.1v2.1h-2.1zM235.4,694.1h2.1v2.1h-2.1zM243.4,694.1h4.1v2.1h-4.1zM261.3,694.1h4.1v2.1h-4.1zM57.6,696.1h2.1v2.1h-2.1zM71.6,696.1h2.1v2.1h-2.1zM91.5,696.1h4.1v2.1h-4.1zM101.5,696.1h2.1v2.1h-2.1zM141.5,696.1h2.1v2.1h-2.1zM159.5,696.1h2.1v2.1h-2.1zM165.5,696.1h4.1v2.1h-4.1zM171.4,696.1h2.1v2.1h-2.1zM177.4,696.1h2.1v2.1h-2.1zM181.4,696.1h2.1v2.1h-2.1zM217.4,696.1h2.1v2.1h-2.1zM223.4,696.1h2.1v2.1h-2.1zM235.4,696.1h2.1v2.1h-2.1zM239.4,696.1h2.1v2.1h-2.1zM251.3,696.1h2.1v2.1h-2.1zM263.3,696.1h2.1v2.1h-2.1zM271.3,696.1h2.1v2.1h-2.1zM51.6,698.0h2.1v2.1h-2.1zM61.6,698.0h2.1v2.1h-2.1zM85.6,698.0h2.1v2.1h-2.1zM95.5,698.0h4.1v2.1h-4.1zM143.5,698.0h2.1v2.1h-2.1zM153.5,698.0h2.1v2.1h-2.1zM171.4,698.0h2.1v2.1h-2.1zM175.4,698.0h4.1v2.1h-4.1zM199.4,698.0h2.1v2.1h-2.1zM205.4,698.0h2.1v2.1h-2.1zM213.4,698.0h2.1v2.1h-2.1zM227.4,698.0h2.1v2.1h-2.1zM269.3,698.0h2.1v2.1h-2.1zM71.6,700.0h2.1v2.1h-2.1zM145.5,700.0h2.1v2.1h-2.1zM161.5,700.0h2.1v2.1h-2.1zM171.4,700.0h2.1v2.1h-2.1zM175.4,700.0h2.1v2.1h-2.1zM179.4,700.0h2.1v2.1h-2.1zM189.4,700.0h2.1v2.1h-2.1zM215.4,700.0h2.1v2.1h-2.1zM73.6,702.0h2.1v2.1h-2.1zM99.5,702.0h2.1v2.1h-2.1zM269.3,702.0h2.1v2.1h-2.1zM279.3,703.9h2.1v2.1h-2.1zM223.4,705.9h2.1v2.1h-2.1z"/><path fill="#96286c" d="M53.6,680.3h2.1v2.1h-2.1zM57.6,680.3h2.1v2.1h-2.1zM71.6,680.3h2.1v2.1h-2.1zM117.5,680.3h2.1v2.1h-2.1zM131.5,680.3h2.1v2.1h-2.1zM145.5,680.3h2.1v2.1h-2.1zM163.5,680.3h2.1v2.1h-2.1zM167.5,680.3h2.1v2.1h-2.1zM187.4,680.3h4.1v2.1h-4.1zM197.4,680.3h2.1v2.1h-2.1zM229.4,680.3h2.1v2.1h-2.1zM259.3,680.3h2.1v2.1h-2.1zM271.3,680.3h2.1v2.1h-2.1zM51.6,682.3h2.1v2.1h-2.1zM81.6,682.3h2.1v2.1h-2.1zM93.5,682.3h2.1v2.1h-2.1zM97.5,682.3h2.1v2.1h-2.1zM117.5,682.3h2.1v2.1h-2.1zM125.5,682.3h2.1v2.1h-2.1zM137.5,682.3h4.1v2.1h-4.1zM157.5,682.3h2.1v2.1h-2.1zM177.4,682.3h2.1v2.1h-2.1zM197.4,682.3h2.1v2.1h-2.1zM213.4,682.3h2.1v2.1h-2.1zM227.4,682.3h2.1v2.1h-2.1zM235.4,682.3h2.1v2.1h-2.1zM245.3,682.3h2.1v2.1h-2.1zM253.3,682.3h2.1v2.1h-2.1zM275.3,682.3h6.1v2.1h-6.1zM59.6,684.2h2.1v2.1h-2.1zM65.6,684.2h2.1v2.1h-2.1zM87.6,684.2h4.1v2.1h-4.1zM93.5,684.2h2.1v2.1h-2.1zM97.5,684.2h2.1v2.1h-2.1zM105.5,684.2h6.1v2.1h-6.1zM115.5,684.2h2.1v2.1h-2.1zM121.5,684.2h2.1v2.1h-2.1zM141.5,684.2h2.1v2.1h-2.1zM151.5,684.2h2.1v2.1h-2.1zM157.5,684.2h4.1v2.1h-4.1zM163.5,684.2h2.1v2.1h-2.1zM169.4,684.2h6.1v2.1h-6.1zM187.4,684.2h6.1v2.1h-6.1zM211.4,684.2h4.1v2.1h-4.1zM219.4,684.2h2.1v2.1h-2.1zM239.4,684.2h2.1v2.1h-2.1zM249.3,684.2h2.1v2.1h-2.1zM253.3,684.2h2.1v2.1h-2.1zM261.3,684.2h2.1v2.1h-2.1zM265.3,684.2h8.1v2.1h-8.1zM59.6,686.2h2.1v2.1h-2.1zM65.6,686.2h4.1v2.1h-4.1zM73.6,686.2h2.1v2.1h-2.1zM77.6,686.2h4.1v2.1h-4.1zM85.6,686.2h2.1v2.1h-2.1zM97.5,686.2h2.1v2.1h-2.1zM111.5,686.2h4.1v2.1h-4.1zM129.5,686.2h4.1v2.1h-4.1zM139.5,686.2h2.1v2.1h-2.1zM159.5,686.2h2.1v2.1h-2.1zM165.5,686.2h4.1v2.1h-4.1zM181.4,686.2h2.1v2.1h-2.1zM189.4,686.2h2.1v2.1h-2.1zM193.4,686.2h2.1v2.1h-2.1zM199.4,686.2h2.1v2.1h-2.1zM205.4,686.2h2.1v2.1h-2.1zM211.4,686.2h2.1v2.1h-2.1zM227.4,686.2h2.1v2.1h-2.1zM231.4,686.2h2.1v2.1h-2.1zM275.3,686.2h2.1v2.1h-2.1zM51.6,688.2h2.1v2.1h-2.1zM69.6,688.2h2.1v2.1h-2.1zM73.6,688.2h2.1v2.1h-2.1zM85.6,688.2h4.1v2.1h-4.1zM101.5,688.2h2.1v2.1h-2.1zM111.5,688.2h10.1v2.1h-10.1zM123.5,688.2h4.1v2.1h-4.1zM129.5,688.2h4.1v2.1h-4.1zM141.5,688.2h2.1v2.1h-2.1zM147.5,688.2h4.1v2.1h-4.1zM155.5,688.2h2.1v2.1h-2.1zM159.5,688.2h2.1v2.1h-2.1zM175.4,688.2h2.1v2.1h-2.1zM195.4,688.2h2.1v2.1h-2.1zM201.4,688.2h2.1v2.1h-2.1zM211.4,688.2h2.1v2.1h-2.1zM215.4,688.2h2.1v2.1h-2.1zM219.4,688.2h4.1v2.1h-4.1zM225.4,688.2h2.1v2.1h-2.1zM239.4,688.2h2.1v2.1h-2.1zM251.3,688.2h2.1v2.1h-2.1zM255.3,688.2h2.1v2.1h-2.1zM263.3,688.2h2.1v2.1h-2.1zM267.3,688.2h8.1v2.1h-8.1zM281.3,688.2h2.1v2.1h-2.1zM55.6,690.1h2.1v2.1h-2.1zM59.6,690.1h2.1v2.1h-2.1zM69.6,690.1h2.1v2.1h-2.1zM75.6,690.1h2.1v2.1h-2.1zM79.6,690.1h2.1v2.1h-2.1zM85.6,690.1h6.1v2.1h-6.1zM93.5,690.1h8.1v2.1h-8.1zM103.5,690.1h4.1v2.1h-4.1zM109.5,690.1h6.1v2.1h-6.1zM121.5,690.1h6.1v2.1h-6.1zM129.5,690.1h2.1v2.1h-2.1zM135.5,690.1h4.1v2.1h-4.1zM143.5,690.1h2.1v2.1h-2.1zM147.5,690.1h2.1v2.1h-2.1zM153.5,690.1h4.1v2.1h-4.1zM161.5,690.1h2.1v2.1h-2.1zM171.4,690.1h8.1v2.1h-8.1zM181.4,690.1h4.1v2.1h-4.1zM191.4,690.1h2.1v2.1h-2.1zM195.4,690.1h2.1v2.1h-2.1zM203.4,690.1h2.1v2.1h-2.1zM211.4,690.1h4.1v2.1h-4.1zM219.4,690.1h2.1v2.1h-2.1zM227.4,690.1h2.1v2.1h-2.1zM231.4,690.1h2.1v2.1h-2.1zM237.4,690.1h4.1v2.1h-4.1zM245.3,690.1h2.1v2.1h-2.1zM257.3,690.1h2.1v2.1h-2.1zM265.3,690.1h2.1v2.1h-2.1zM271.3,690.1h2.1v2.1h-2.1zM279.3,690.1h2.1v2.1h-2.1zM61.6,692.1h6.1v2.1h-6.1zM73.6,692.1h6.1v2.1h-6.1zM83.6,692.1h6.1v2.1h-6.1zM91.5,692.1h2.1v2.1h-2.1zM135.5,692.1h2.1v2.1h-2.1zM145.5,692.1h4.1v2.1h-4.1zM151.5,692.1h2.1v2.1h-2.1zM159.5,692.1h2.1v2.1h-2.1zM169.4,692.1h4.1v2.1h-4.1zM179.4,692.1h2.1v2.1h-2.1zM185.4,692.1h2.1v2.1h-2.1zM189.4,692.1h6.1v2.1h-6.1zM219.4,692.1h2.1v2.1h-2.1zM225.4,692.1h2.1v2.1h-2.1zM231.4,692.1h6.1v2.1h-6.1zM245.3,692.1h2.1v2.1h-2.1zM255.3,692.1h2.1v2.1h-2.1zM259.3,692.1h4.1v2.1h-4.1zM265.3,692.1h2.1v2.1h-2.1zM281.3,692.1h2.1v2.1h-2.1zM57.6,694.1h2.1v2.1h-2.1zM63.6,694.1h2.1v2.1h-2.1zM71.6,694.1h2.1v2.1h-2.1zM75.6,694.1h4.1v2.1h-4.1zM85.6,694.1h2.1v2.1h-2.1zM89.6,694.1h4.1v2.1h-4.1zM97.5,694.1h8.1v2.1h-8.1zM131.5,694.1h2.1v2.1h-2.1zM139.5,694.1h2.1v2.1h-2.1zM143.5,694.1h2.1v2.1h-2.1zM149.5,694.1h2.1v2.1h-2.1zM153.5,694.1h6.1v2.1h-6.1zM171.4,694.1h2.1v2.1h-2.1zM179.4,694.1h2.1v2.1h-2.1zM189.4,694.1h2.1v2.1h-2.1zM195.4,694.1h2.1v2.1h-2.1zM201.4,694.1h2.1v2.1h-2.1zM215.4,694.1h4.1v2.1h-4.1zM225.4,694.1h2.1v2.1h-2.1zM247.3,694.1h4.1v2.1h-4.1zM255.3,694.1h2.1v2.1h-2.1zM267.3,694.1h6.1v2.1h-6.1zM277.3,694.1h6.1v2.1h-6.1zM53.6,696.1h2.1v2.1h-2.1zM59.6,696.1h6.1v2.1h-6.1zM69.6,696.1h2.1v2.1h-2.1zM73.6,696.1h8.1v2.1h-8.1zM95.5,696.1h6.1v2.1h-6.1zM131.5,696.1h2.1v2.1h-2.1zM145.5,696.1h2.1v2.1h-2.1zM153.5,696.1h6.1v2.1h-6.1zM163.5,696.1h2.1v2.1h-2.1zM169.4,696.1h2.1v2.1h-2.1zM175.4,696.1h2.1v2.1h-2.1zM185.4,696.1h2.1v2.1h-2.1zM189.4,696.1h2.1v2.1h-2.1zM195.4,696.1h4.1v2.1h-4.1zM201.4,696.1h2.1v2.1h-2.1zM205.4,696.1h2.1v2.1h-2.1zM209.4,696.1h2.1v2.1h-2.1zM215.4,696.1h2.1v2.1h-2.1zM219.4,696.1h4.1v2.1h-4.1zM225.4,696.1h2.1v2.1h-2.1zM231.4,696.1h2.1v2.1h-2.1zM245.3,696.1h2.1v2.1h-2.1zM255.3,696.1h2.1v2.1h-2.1zM261.3,696.1h2.1v2.1h-2.1zM267.3,696.1h2.1v2.1h-2.1zM273.3,696.1h2.1v2.1h-2.1zM277.3,696.1h2.1v2.1h-2.1zM281.3,696.1h2.1v2.1h-2.1zM71.6,698.0h2.1v2.1h-2.1zM77.6,698.0h2.1v2.1h-2.1zM83.6,698.0h2.1v2.1h-2.1zM87.6,698.0h2.1v2.1h-2.1zM91.5,698.0h2.1v2.1h-2.1zM99.5,698.0h4.1v2.1h-4.1zM159.5,698.0h2.1v2.1h-2.1zM165.5,698.0h4.1v2.1h-4.1zM173.4,698.0h2.1v2.1h-2.1zM179.4,698.0h2.1v2.1h-2.1zM185.4,698.0h2.1v2.1h-2.1zM197.4,698.0h2.1v2.1h-2.1zM207.4,698.0h2.1v2.1h-2.1zM229.4,698.0h2.1v2.1h-2.1zM239.4,698.0h4.1v2.1h-4.1zM245.3,698.0h8.1v2.1h-8.1zM259.3,698.0h4.1v2.1h-4.1zM275.3,698.0h2.1v2.1h-2.1zM61.6,700.0h2.1v2.1h-2.1zM77.6,700.0h4.1v2.1h-4.1zM91.5,700.0h2.1v2.1h-2.1zM99.5,700.0h6.1v2.1h-6.1zM147.5,700.0h2.1v2.1h-2.1zM157.5,700.0h2.1v2.1h-2.1zM169.4,700.0h2.1v2.1h-2.1zM173.4,700.0h2.1v2.1h-2.1zM181.4,700.0h2.1v2.1h-2.1zM191.4,700.0h2.1v2.1h-2.1zM197.4,700.0h2.1v2.1h-2.1zM205.4,700.0h2.1v2.1h-2.1zM213.4,700.0h2.1v2.1h-2.1zM223.4,700.0h4.1v2.1h-4.1zM231.4,700.0h2.1v2.1h-2.1zM243.4,700.0h4.1v2.1h-4.1zM261.3,700.0h2.1v2.1h-2.1zM265.3,700.0h4.1v2.1h-4.1zM281.3,700.0h2.1v2.1h-2.1zM51.6,702.0h2.1v2.1h-2.1zM59.6,702.0h4.1v2.1h-4.1zM81.6,702.0h2.1v2.1h-2.1zM87.6,702.0h2.1v2.1h-2.1zM163.5,702.0h2.1v2.1h-2.1zM185.4,702.0h2.1v2.1h-2.1zM191.4,702.0h4.1v2.1h-4.1zM207.4,702.0h2.1v2.1h-2.1zM217.4,702.0h2.1v2.1h-2.1zM221.4,702.0h2.1v2.1h-2.1zM225.4,702.0h2.1v2.1h-2.1zM233.4,702.0h2.1v2.1h-2.1zM243.4,702.0h6.1v2.1h-6.1zM259.3,702.0h2.1v2.1h-2.1zM265.3,702.0h4.1v2.1h-4.1zM271.3,702.0h2.1v2.1h-2.1zM281.3,702.0h2.1v2.1h-2.1zM55.6,703.9h2.1v2.1h-2.1zM93.5,703.9h2.1v2.1h-2.1zM175.4,703.9h4.1v2.1h-4.1zM191.4,703.9h2.1v2.1h-2.1zM203.4,703.9h2.1v2.1h-2.1zM209.4,703.9h2.1v2.1h-2.1zM221.4,703.9h2.1v2.1h-2.1zM225.4,703.9h2.1v2.1h-2.1zM235.4,703.9h4.1v2.1h-4.1zM243.4,703.9h2.1v2.1h-2.1zM247.3,703.9h2.1v2.1h-2.1zM255.3,703.9h4.1v2.1h-4.1zM265.3,703.9h2.1v2.1h-2.1zM281.3,703.9h2.1v2.1h-2.1zM203.4,705.9h2.1v2.1h-2.1zM207.4,705.9h2.1v2.1h-2.1zM235.4,705.9h2.1v2.1h-2.1zM239.4,705.9h2.1v2.1h-2.1zM243.4,705.9h2.1v2.1h-2.1zM263.3,705.9h2.1v2.1h-2.1zM269.3,705.9h2.1v2.1h-2.1zM281.3,705.9h2.1v2.1h-2.1zM53.6,707.9h2.1v2.1h-2.1zM93.5,707.9h2.1v2.1h-2.1zM245.3,707.9h2.1v2.1h-2.1zM101.5,709.8h2.1v2.1h-2.1zM197.4,709.8h2.1v2.1h-2.1zM211.4,709.8h2.1v2.1h-2.1zM271.3,709.8h2.1v2.1h-2.1zM237.4,711.8h2.1v2.1h-2.1zM243.4,711.8h2.1v2.1h-2.1zM269.3,711.8h2.1v2.1h-2.1zM81.6,713.8h2.1v2.1h-2.1zM267.3,715.7h2.1v2.1h-2.1z"/><path fill="#a02c68" d="M63.6,680.3h2.1v2.1h-2.1zM155.5,680.3h2.1v2.1h-2.1zM183.4,680.3h2.1v2.1h-2.1zM211.4,680.3h2.1v2.1h-2.1zM235.4,680.3h2.1v2.1h-2.1zM241.4,680.3h2.1v2.1h-2.1zM187.4,682.3h2.1v2.1h-2.1zM191.4,682.3h2.1v2.1h-2.1zM231.4,682.3h2.1v2.1h-2.1zM239.4,682.3h2.1v2.1h-2.1zM261.3,682.3h2.1v2.1h-2.1zM83.6,684.2h2.1v2.1h-2.1zM207.4,684.2h2.1v2.1h-2.1zM63.6,686.2h2.1v2.1h-2.1zM81.6,686.2h2.1v2.1h-2.1zM93.5,686.2h2.1v2.1h-2.1zM117.5,686.2h4.1v2.1h-4.1zM153.5,686.2h2.1v2.1h-2.1zM169.4,686.2h4.1v2.1h-4.1zM177.4,686.2h2.1v2.1h-2.1zM187.4,686.2h2.1v2.1h-2.1zM209.4,686.2h2.1v2.1h-2.1zM221.4,686.2h6.1v2.1h-6.1zM241.4,686.2h2.1v2.1h-2.1zM249.3,686.2h4.1v2.1h-4.1zM277.3,686.2h2.1v2.1h-2.1zM57.6,688.2h2.1v2.1h-2.1zM71.6,688.2h2.1v2.1h-2.1zM109.5,688.2h2.1v2.1h-2.1zM183.4,688.2h2.1v2.1h-2.1zM197.4,688.2h4.1v2.1h-4.1zM233.4,688.2h2.1v2.1h-2.1zM243.4,688.2h2.1v2.1h-2.1zM53.6,690.1h2.1v2.1h-2.1zM101.5,690.1h2.1v2.1h-2.1zM117.5,690.1h2.1v2.1h-2.1zM179.4,690.1h2.1v2.1h-2.1zM187.4,690.1h2.1v2.1h-2.1zM201.4,690.1h2.1v2.1h-2.1zM217.4,690.1h2.1v2.1h-2.1zM51.6,692.1h2.1v2.1h-2.1zM57.6,692.1h4.1v2.1h-4.1zM71.6,692.1h2.1v2.1h-2.1zM79.6,692.1h4.1v2.1h-4.1zM93.5,692.1h2.1v2.1h-2.1zM97.5,692.1h2.1v2.1h-2.1zM113.5,692.1h2.1v2.1h-2.1zM117.5,692.1h2.1v2.1h-2.1zM125.5,692.1h4.1v2.1h-4.1zM141.5,692.1h2.1v2.1h-2.1zM165.5,692.1h4.1v2.1h-4.1zM181.4,692.1h4.1v2.1h-4.1zM195.4,692.1h2.1v2.1h-2.1zM215.4,692.1h2.1v2.1h-2.1zM243.4,692.1h2.1v2.1h-2.1zM249.3,692.1h2.1v2.1h-2.1zM253.3,692.1h2.1v2.1h-2.1zM267.3,692.1h4.1v2.1h-4.1zM53.6,694.1h2.1v2.1h-2.1zM65.6,694.1h4.1v2.1h-4.1zM73.6,694.1h2.1v2.1h-2.1zM79.6,694.1h4.1v2.1h-4.1zM87.6,694.1h2.1v2.1h-2.1zM123.5,694.1h2.1v2.1h-2.1zM129.5,694.1h2.1v2.1h-2.1zM141.5,694.1h2.1v2.1h-2.1zM163.5,694.1h2.1v2.1h-2.1zM177.4,694.1h2.1v2.1h-2.1zM181.4,694.1h2.1v2.1h-2.1zM193.4,694.1h2.1v2.1h-2.1zM199.4,694.1h2.1v2.1h-2.1zM205.4,694.1h2.1v2.1h-2.1zM209.4,694.1h4.1v2.1h-4.1zM231.4,694.1h4.1v2.1h-4.1zM237.4,694.1h2.1v2.1h-2.1zM253.3,694.1h2.1v2.1h-2.1zM257.3,694.1h2.1v2.1h-2.1zM265.3,694.1h2.1v2.1h-2.1zM275.3,694.1h2.1v2.1h-2.1zM55.6,696.1h2.1v2.1h-2.1zM67.6,696.1h2.1v2.1h-2.1zM103.5,696.1h2.1v2.1h-2.1zM119.5,696.1h2.1v2.1h-2.1zM137.5,696.1h2.1v2.1h-2.1zM143.5,696.1h2.1v2.1h-2.1zM173.4,696.1h2.1v2.1h-2.1zM183.4,696.1h2.1v2.1h-2.1zM191.4,696.1h4.1v2.1h-4.1zM199.4,696.1h2.1v2.1h-2.1zM203.4,696.1h2.1v2.1h-2.1zM211.4,696.1h2.1v2.1h-2.1zM227.4,696.1h4.1v2.1h-4.1zM233.4,696.1h2.1v2.1h-2.1zM237.4,696.1h2.1v2.1h-2.1zM241.4,696.1h2.1v2.1h-2.1zM247.3,696.1h2.1v2.1h-2.1zM257.3,696.1h2.1v2.1h-2.1zM265.3,696.1h2.1v2.1h-2.1zM279.3,696.1h2.1v2.1h-2.1zM53.6,698.0h6.1v2.1h-6.1zM65.6,698.0h2.1v2.1h-2.1zM73.6,698.0h2.1v2.1h-2.1zM81.6,698.0h2.1v2.1h-2.1zM93.5,698.0h2.1v2.1h-2.1zM103.5,698.0h2.1v2.1h-2.1zM129.5,698.0h2.1v2.1h-2.1zM137.5,698.0h2.1v2.1h-2.1zM141.5,698.0h2.1v2.1h-2.1zM145.5,698.0h8.1v2.1h-8.1zM155.5,698.0h4.1v2.1h-4.1zM161.5,698.0h4.1v2.1h-4.1zM181.4,698.0h2.1v2.1h-2.1zM187.4,698.0h6.1v2.1h-6.1zM195.4,698.0h2.1v2.1h-2.1zM201.4,698.0h2.1v2.1h-2.1zM209.4,698.0h2.1v2.1h-2.1zM215.4,698.0h4.1v2.1h-4.1zM221.4,698.0h2.1v2.1h-2.1zM225.4,698.0h2.1v2.1h-2.1zM231.4,698.0h4.1v2.1h-4.1zM237.4,698.0h2.1v2.1h-2.1zM255.3,698.0h4.1v2.1h-4.1zM263.3,698.0h2.1v2.1h-2.1zM271.3,698.0h4.1v2.1h-4.1zM277.3,698.0h4.1v2.1h-4.1zM51.6,700.0h2.1v2.1h-2.1zM55.6,700.0h4.1v2.1h-4.1zM63.6,700.0h4.1v2.1h-4.1zM69.6,700.0h2.1v2.1h-2.1zM75.6,700.0h2.1v2.1h-2.1zM81.6,700.0h8.1v2.1h-8.1zM93.5,700.0h4.1v2.1h-4.1zM151.5,700.0h6.1v2.1h-6.1zM159.5,700.0h2.1v2.1h-2.1zM167.5,700.0h2.1v2.1h-2.1zM177.4,700.0h2.1v2.1h-2.1zM183.4,700.0h6.1v2.1h-6.1zM201.4,700.0h4.1v2.1h-4.1zM209.4,700.0h4.1v2.1h-4.1zM217.4,700.0h4.1v2.1h-4.1zM235.4,700.0h2.1v2.1h-2.1zM239.4,700.0h2.1v2.1h-2.1zM249.3,700.0h4.1v2.1h-4.1zM255.3,700.0h4.1v2.1h-4.1zM269.3,700.0h4.1v2.1h-4.1zM275.3,700.0h4.1v2.1h-4.1zM53.6,702.0h2.1v2.1h-2.1zM57.6,702.0h2.1v2.1h-2.1zM63.6,702.0h2.1v2.1h-2.1zM69.6,702.0h4.1v2.1h-4.1zM79.6,702.0h2.1v2.1h-2.1zM95.5,702.0h2.1v2.1h-2.1zM103.5,702.0h2.1v2.1h-2.1zM157.5,702.0h2.1v2.1h-2.1zM161.5,702.0h2.1v2.1h-2.1zM165.5,702.0h6.1v2.1h-6.1zM175.4,702.0h4.1v2.1h-4.1zM181.4,702.0h4.1v2.1h-4.1zM195.4,702.0h6.1v2.1h-6.1zM203.4,702.0h4.1v2.1h-4.1zM209.4,702.0h2.1v2.1h-2.1zM213.4,702.0h4.1v2.1h-4.1zM219.4,702.0h2.1v2.1h-2.1zM223.4,702.0h2.1v2.1h-2.1zM227.4,702.0h2.1v2.1h-2.1zM231.4,702.0h2.1v2.1h-2.1zM235.4,702.0h2.1v2.1h-2.1zM249.3,702.0h8.1v2.1h-8.1zM261.3,702.0h4.1v2.1h-4.1zM273.3,702.0h8.1v2.1h-8.1zM57.6,703.9h4.1v2.1h-4.1zM65.6,703.9h2.1v2.1h-2.1zM75.6,703.9h4.1v2.1h-4.1zM81.6,703.9h2.1v2.1h-2.1zM85.6,703.9h2.1v2.1h-2.1zM89.6,703.9h2.1v2.1h-2.1zM99.5,703.9h2.1v2.1h-2.1zM103.5,703.9h2.1v2.1h-2.1zM181.4,703.9h2.1v2.1h-2.1zM193.4,703.9h4.1v2.1h-4.1zM205.4,703.9h2.1v2.1h-2.1zM211.4,703.9h2.1v2.1h-2.1zM219.4,703.9h2.1v2.1h-2.1zM223.4,703.9h2.1v2.1h-2.1zM227.4,703.9h2.1v2.1h-2.1zM245.3,703.9h2.1v2.1h-2.1zM249.3,703.9h2.1v2.1h-2.1zM261.3,703.9h2.1v2.1h-2.1zM267.3,703.9h2.1v2.1h-2.1zM277.3,703.9h2.1v2.1h-2.1zM51.6,705.9h2.1v2.1h-2.1zM57.6,705.9h2.1v2.1h-2.1zM65.6,705.9h4.1v2.1h-4.1zM73.6,705.9h2.1v2.1h-2.1zM79.6,705.9h2.1v2.1h-2.1zM97.5,705.9h2.1v2.1h-2.1zM101.5,705.9h4.1v2.1h-4.1zM173.4,705.9h2.1v2.1h-2.1zM185.4,705.9h2.1v2.1h-2.1zM195.4,705.9h6.1v2.1h-6.1zM211.4,705.9h2.1v2.1h-2.1zM219.4,705.9h2.1v2.1h-2.1zM225.4,705.9h4.1v2.1h-4.1zM237.4,705.9h2.1v2.1h-2.1zM265.3,705.9h2.1v2.1h-2.1zM275.3,705.9h2.1v2.1h-2.1zM61.6,707.9h2.1v2.1h-2.1zM73.6,707.9h2.1v2.1h-2.1zM91.5,707.9h2.1v2.1h-2.1zM95.5,707.9h4.1v2.1h-4.1zM179.4,707.9h2.1v2.1h-2.1zM189.4,707.9h8.1v2.1h-8.1zM201.4,707.9h2.1v2.1h-2.1zM205.4,707.9h2.1v2.1h-2.1zM211.4,707.9h2.1v2.1h-2.1zM217.4,707.9h2.1v2.1h-2.1zM223.4,707.9h4.1v2.1h-4.1zM235.4,707.9h2.1v2.1h-2.1zM257.3,707.9h2.1v2.1h-2.1zM263.3,707.9h4.1v2.1h-4.1zM269.3,707.9h2.1v2.1h-2.1zM275.3,707.9h2.1v2.1h-2.1zM279.3,707.9h2.1v2.1h-2.1zM61.6,709.8h2.1v2.1h-2.1zM73.6,709.8h2.1v2.1h-2.1zM85.6,709.8h2.1v2.1h-2.1zM91.5,709.8h2.1v2.1h-2.1zM179.4,709.8h2.1v2.1h-2.1zM213.4,709.8h2.1v2.1h-2.1zM221.4,709.8h4.1v2.1h-4.1zM227.4,709.8h2.1v2.1h-2.1zM231.4,709.8h2.1v2.1h-2.1zM241.4,709.8h2.1v2.1h-2.1zM249.3,709.8h2.1v2.1h-2.1zM255.3,709.8h2.1v2.1h-2.1zM259.3,709.8h2.1v2.1h-2.1zM263.3,709.8h4.1v2.1h-4.1zM273.3,709.8h6.1v2.1h-6.1zM53.6,711.8h2.1v2.1h-2.1zM71.6,711.8h2.1v2.1h-2.1zM85.6,711.8h2.1v2.1h-2.1zM99.5,711.8h2.1v2.1h-2.1zM221.4,711.8h2.1v2.1h-2.1zM241.4,711.8h2.1v2.1h-2.1zM249.3,711.8h2.1v2.1h-2.1zM63.6,713.8h2.1v2.1h-2.1zM83.6,713.8h2.1v2.1h-2.1zM245.3,713.8h2.1v2.1h-2.1zM261.3,713.8h2.1v2.1h-2.1zM95.5,715.7h2.1v2.1h-2.1zM253.3,715.7h2.1v2.1h-2.1z"/><path fill="#a93063" d="M121.5,686.2h2.1v2.1h-2.1zM61.6,690.1h2.1v2.1h-2.1zM209.4,690.1h2.1v2.1h-2.1zM273.3,690.1h2.1v2.1h-2.1zM109.5,692.1h4.1v2.1h-4.1zM119.5,692.1h2.1v2.1h-2.1zM123.5,692.1h2.1v2.1h-2.1zM129.5,692.1h2.1v2.1h-2.1zM199.4,692.1h2.1v2.1h-2.1zM211.4,692.1h2.1v2.1h-2.1zM223.4,692.1h2.1v2.1h-2.1zM229.4,692.1h2.1v2.1h-2.1zM275.3,692.1h2.1v2.1h-2.1zM61.6,694.1h2.1v2.1h-2.1zM95.5,694.1h2.1v2.1h-2.1zM119.5,694.1h2.1v2.1h-2.1zM125.5,694.1h4.1v2.1h-4.1zM135.5,694.1h2.1v2.1h-2.1zM239.4,694.1h2.1v2.1h-2.1zM259.3,694.1h2.1v2.1h-2.1zM83.6,696.1h6.1v2.1h-6.1zM127.5,696.1h4.1v2.1h-4.1zM135.5,696.1h2.1v2.1h-2.1zM149.5,696.1h2.1v2.1h-2.1zM161.5,696.1h2.1v2.1h-2.1zM187.4,696.1h2.1v2.1h-2.1zM207.4,696.1h2.1v2.1h-2.1zM59.6,698.0h2.1v2.1h-2.1zM63.6,698.0h2.1v2.1h-2.1zM89.6,698.0h2.1v2.1h-2.1zM119.5,698.0h2.1v2.1h-2.1zM123.5,698.0h2.1v2.1h-2.1zM133.5,698.0h4.1v2.1h-4.1zM169.4,698.0h2.1v2.1h-2.1zM183.4,698.0h2.1v2.1h-2.1zM203.4,698.0h2.1v2.1h-2.1zM219.4,698.0h2.1v2.1h-2.1zM243.4,698.0h2.1v2.1h-2.1zM267.3,698.0h2.1v2.1h-2.1zM59.6,700.0h2.1v2.1h-2.1zM67.6,700.0h2.1v2.1h-2.1zM73.6,700.0h2.1v2.1h-2.1zM89.6,700.0h2.1v2.1h-2.1zM97.5,700.0h2.1v2.1h-2.1zM129.5,700.0h4.1v2.1h-4.1zM141.5,700.0h2.1v2.1h-2.1zM163.5,700.0h4.1v2.1h-4.1zM195.4,700.0h2.1v2.1h-2.1zM207.4,700.0h2.1v2.1h-2.1zM221.4,700.0h2.1v2.1h-2.1zM227.4,700.0h4.1v2.1h-4.1zM233.4,700.0h2.1v2.1h-2.1zM237.4,700.0h2.1v2.1h-2.1zM241.4,700.0h2.1v2.1h-2.1zM247.3,700.0h2.1v2.1h-2.1zM253.3,700.0h2.1v2.1h-2.1zM263.3,700.0h2.1v2.1h-2.1zM273.3,700.0h2.1v2.1h-2.1zM279.3,700.0h2.1v2.1h-2.1zM55.6,702.0h2.1v2.1h-2.1zM65.6,702.0h2.1v2.1h-2.1zM75.6,702.0h4.1v2.1h-4.1zM85.6,702.0h2.1v2.1h-2.1zM91.5,702.0h4.1v2.1h-4.1zM97.5,702.0h2.1v2.1h-2.1zM131.5,702.0h2.1v2.1h-2.1zM143.5,702.0h4.1v2.1h-4.1zM149.5,702.0h2.1v2.1h-2.1zM155.5,702.0h2.1v2.1h-2.1zM159.5,702.0h2.1v2.1h-2.1zM171.4,702.0h4.1v2.1h-4.1zM179.4,702.0h2.1v2.1h-2.1zM189.4,702.0h2.1v2.1h-2.1zM211.4,702.0h2.1v2.1h-2.1zM229.4,702.0h2.1v2.1h-2.1zM237.4,702.0h6.1v2.1h-6.1zM257.3,702.0h2.1v2.1h-2.1zM61.6,703.9h4.1v2.1h-4.1zM71.6,703.9h4.1v2.1h-4.1zM79.6,703.9h2.1v2.1h-2.1zM97.5,703.9h2.1v2.1h-2.1zM153.5,703.9h4.1v2.1h-4.1zM159.5,703.9h6.1v2.1h-6.1zM167.5,703.9h2.1v2.1h-2.1zM171.4,703.9h2.1v2.1h-2.1zM183.4,703.9h8.1v2.1h-8.1zM197.4,703.9h6.1v2.1h-6.1zM207.4,703.9h2.1v2.1h-2.1zM213.4,703.9h2.1v2.1h-2.1zM217.4,703.9h2.1v2.1h-2.1zM229.4,703.9h4.1v2.1h-4.1zM251.3,703.9h4.1v2.1h-4.1zM259.3,703.9h2.1v2.1h-2.1zM275.3,703.9h2.1v2.1h-2.1zM59.6,705.9h6.1v2.1h-6.1zM71.6,705.9h2.1v2.1h-2.1zM77.6,705.9h2.1v2.1h-2.1zM85.6,705.9h2.1v2.1h-2.1zM91.5,705.9h6.1v2.1h-6.1zM99.5,705.9h2.1v2.1h-2.1zM167.5,705.9h2.1v2.1h-2.1zM171.4,705.9h2.1v2.1h-2.1zM175.4,705.9h2.1v2.1h-2.1zM179.4,705.9h4.1v2.1h-4.1zM187.4,705.9h2.1v2.1h-2.1zM191.4,705.9h4.1v2.1h-4.1zM201.4,705.9h2.1v2.1h-2.1zM205.4,705.9h2.1v2.1h-2.1zM209.4,705.9h2.1v2.1h-2.1zM213.4,705.9h2.1v2.1h-2.1zM221.4,705.9h2.1v2.1h-2.1zM229.4,705.9h6.1v2.1h-6.1zM241.4,705.9h2.1v2.1h-2.1zM245.3,705.9h2.1v2.1h-2.1zM259.3,705.9h4.1v2.1h-4.1zM271.3,705.9h4.1v2.1h-4.1zM277.3,705.9h4.1v2.1h-4.1zM51.6,707.9h2.1v2.1h-2.1zM57.6,707.9h2.1v2.1h-2.1zM67.6,707.9h6.1v2.1h-6.1zM75.6,707.9h6.1v2.1h-6.1zM85.6,707.9h2.1v2.1h-2.1zM89.6,707.9h2.1v2.1h-2.1zM99.5,707.9h6.1v2.1h-6.1zM183.4,707.9h6.1v2.1h-6.1zM197.4,707.9h4.1v2.1h-4.1zM203.4,707.9h2.1v2.1h-2.1zM207.4,707.9h4.1v2.1h-4.1zM213.4,707.9h4.1v2.1h-4.1zM219.4,707.9h2.1v2.1h-2.1zM229.4,707.9h2.1v2.1h-2.1zM237.4,707.9h4.1v2.1h-4.1zM249.3,707.9h8.1v2.1h-8.1zM259.3,707.9h2.1v2.1h-2.1zM271.3,707.9h4.1v2.1h-4.1zM277.3,707.9h2.1v2.1h-2.1zM281.3,707.9h2.1v2.1h-2.1zM53.6,709.8h2.1v2.1h-2.1zM63.6,709.8h2.1v2.1h-2.1zM67.6,709.8h6.1v2.1h-6.1zM77.6,709.8h4.1v2.1h-4.1zM87.6,709.8h4.1v2.1h-4.1zM103.5,709.8h2.1v2.1h-2.1zM189.4,709.8h2.1v2.1h-2.1zM201.4,709.8h2.1v2.1h-2.1zM215.4,709.8h2.1v2.1h-2.1zM233.4,709.8h2.1v2.1h-2.1zM237.4,709.8h4.1v2.1h-4.1zM257.3,709.8h2.1v2.1h-2.1zM261.3,709.8h2.1v2.1h-2.1zM269.3,709.8h2.1v2.1h-2.1zM279.3,709.8h4.1v2.1h-4.1zM55.6,711.8h12.1v2.1h-12.1zM69.6,711.8h2.1v2.1h-2.1zM75.6,711.8h2.1v2.1h-2.1zM95.5,711.8h2.1v2.1h-2.1zM103.5,711.8h2.1v2.1h-2.1zM219.4,711.8h2.1v2.1h-2.1zM245.3,711.8h4.1v2.1h-4.1zM251.3,711.8h2.1v2.1h-2.1zM259.3,711.8h2.1v2.1h-2.1zM265.3,711.8h4.1v2.1h-4.1zM277.3,711.8h2.1v2.1h-2.1zM53.6,713.8h4.1v2.1h-4.1zM87.6,713.8h2.1v2.1h-2.1zM225.4,713.8h2.1v2.1h-2.1zM251.3,713.8h2.1v2.1h-2.1zM257.3,713.8h2.1v2.1h-2.1zM263.3,713.8h2.1v2.1h-2.1zM275.3,713.8h2.1v2.1h-2.1zM279.3,713.8h4.1v2.1h-4.1zM53.6,715.7h2.1v2.1h-2.1zM71.6,715.7h2.1v2.1h-2.1zM75.6,715.7h2.1v2.1h-2.1zM83.6,715.7h4.1v2.1h-4.1zM91.5,715.7h4.1v2.1h-4.1zM241.4,715.7h2.1v2.1h-2.1zM273.3,715.7h2.1v2.1h-2.1zM281.3,715.7h2.1v2.1h-2.1zM51.6,717.7h2.1v2.1h-2.1zM67.6,717.7h2.1v2.1h-2.1zM85.6,721.6h2.1v2.1h-2.1zM53.6,725.6h2.1v2.1h-2.1zM57.6,727.6h2.1v2.1h-2.1z"/><path fill="#b2335e" d="M119.5,690.1h2.1v2.1h-2.1zM89.6,692.1h2.1v2.1h-2.1zM105.5,692.1h4.1v2.1h-4.1zM121.5,692.1h2.1v2.1h-2.1zM107.5,694.1h2.1v2.1h-2.1zM113.5,694.1h6.1v2.1h-6.1zM273.3,694.1h2.1v2.1h-2.1zM65.6,696.1h2.1v2.1h-2.1zM81.6,696.1h2.1v2.1h-2.1zM89.6,696.1h2.1v2.1h-2.1zM123.5,696.1h4.1v2.1h-4.1zM133.5,696.1h2.1v2.1h-2.1zM243.4,696.1h2.1v2.1h-2.1zM253.3,696.1h2.1v2.1h-2.1zM269.3,696.1h2.1v2.1h-2.1zM69.6,698.0h2.1v2.1h-2.1zM125.5,698.0h2.1v2.1h-2.1zM139.5,698.0h2.1v2.1h-2.1zM223.4,698.0h2.1v2.1h-2.1zM253.3,698.0h2.1v2.1h-2.1zM281.3,698.0h2.1v2.1h-2.1zM53.6,700.0h2.1v2.1h-2.1zM135.5,700.0h2.1v2.1h-2.1zM139.5,700.0h2.1v2.1h-2.1zM193.4,700.0h2.1v2.1h-2.1zM199.4,700.0h2.1v2.1h-2.1zM67.6,702.0h2.1v2.1h-2.1zM89.6,702.0h2.1v2.1h-2.1zM101.5,702.0h2.1v2.1h-2.1zM137.5,702.0h2.1v2.1h-2.1zM201.4,702.0h2.1v2.1h-2.1zM51.6,703.9h4.1v2.1h-4.1zM83.6,703.9h2.1v2.1h-2.1zM87.6,703.9h2.1v2.1h-2.1zM91.5,703.9h2.1v2.1h-2.1zM95.5,703.9h2.1v2.1h-2.1zM101.5,703.9h2.1v2.1h-2.1zM149.5,703.9h4.1v2.1h-4.1zM169.4,703.9h2.1v2.1h-2.1zM173.4,703.9h2.1v2.1h-2.1zM179.4,703.9h2.1v2.1h-2.1zM215.4,703.9h2.1v2.1h-2.1zM233.4,703.9h2.1v2.1h-2.1zM239.4,703.9h4.1v2.1h-4.1zM263.3,703.9h2.1v2.1h-2.1zM271.3,703.9h4.1v2.1h-4.1zM55.6,705.9h2.1v2.1h-2.1zM69.6,705.9h2.1v2.1h-2.1zM81.6,705.9h4.1v2.1h-4.1zM89.6,705.9h2.1v2.1h-2.1zM159.5,705.9h2.1v2.1h-2.1zM169.4,705.9h2.1v2.1h-2.1zM177.4,705.9h2.1v2.1h-2.1zM183.4,705.9h2.1v2.1h-2.1zM189.4,705.9h2.1v2.1h-2.1zM215.4,705.9h2.1v2.1h-2.1zM247.3,705.9h2.1v2.1h-2.1zM251.3,705.9h8.1v2.1h-8.1zM267.3,705.9h2.1v2.1h-2.1zM59.6,707.9h2.1v2.1h-2.1zM65.6,707.9h2.1v2.1h-2.1zM83.6,707.9h2.1v2.1h-2.1zM87.6,707.9h2.1v2.1h-2.1zM153.5,707.9h2.1v2.1h-2.1zM163.5,707.9h2.1v2.1h-2.1zM175.4,707.9h2.1v2.1h-2.1zM221.4,707.9h2.1v2.1h-2.1zM227.4,707.9h2.1v2.1h-2.1zM231.4,707.9h2.1v2.1h-2.1zM243.4,707.9h2.1v2.1h-2.1zM247.3,707.9h2.1v2.1h-2.1zM261.3,707.9h2.1v2.1h-2.1zM267.3,707.9h2.1v2.1h-2.1zM51.6,709.8h2.1v2.1h-2.1zM55.6,709.8h6.1v2.1h-6.1zM75.6,709.8h2.1v2.1h-2.1zM81.6,709.8h2.1v2.1h-2.1zM93.5,709.8h2.1v2.1h-2.1zM97.5,709.8h2.1v2.1h-2.1zM185.4,709.8h2.1v2.1h-2.1zM199.4,709.8h2.1v2.1h-2.1zM203.4,709.8h2.1v2.1h-2.1zM207.4,709.8h2.1v2.1h-2.1zM217.4,709.8h2.1v2.1h-2.1zM225.4,709.8h2.1v2.1h-2.1zM229.4,709.8h2.1v2.1h-2.1zM243.4,709.8h2.1v2.1h-2.1zM247.3,709.8h2.1v2.1h-2.1zM251.3,709.8h2.1v2.1h-2.1zM267.3,709.8h2.1v2.1h-2.1zM51.6,711.8h2.1v2.1h-2.1zM73.6,711.8h2.1v2.1h-2.1zM83.6,711.8h2.1v2.1h-2.1zM93.5,711.8h2.1v2.1h-2.1zM97.5,711.8h2.1v2.1h-2.1zM199.4,711.8h2.1v2.1h-2.1zM203.4,711.8h2.1v2.1h-2.1zM211.4,711.8h2.1v2.1h-2.1zM223.4,711.8h6.1v2.1h-6.1zM231.4,711.8h6.1v2.1h-6.1zM253.3,711.8h6.1v2.1h-6.1zM261.3,711.8h2.1v2.1h-2.1zM271.3,711.8h2.1v2.1h-2.1zM275.3,711.8h2.1v2.1h-2.1zM75.6,713.8h2.1v2.1h-2.1zM85.6,713.8h2.1v2.1h-2.1zM95.5,713.8h4.1v2.1h-4.1zM101.5,713.8h2.1v2.1h-2.1zM207.4,713.8h2.1v2.1h-2.1zM217.4,713.8h2.1v2.1h-2.1zM221.4,713.8h2.1v2.1h-2.1zM231.4,713.8h10.1v2.1h-10.1zM243.4,713.8h2.1v2.1h-2.1zM247.3,713.8h4.1v2.1h-4.1zM255.3,713.8h2.1v2.1h-2.1zM259.3,713.8h2.1v2.1h-2.1zM271.3,713.8h4.1v2.1h-4.1zM277.3,713.8h2.1v2.1h-2.1zM55.6,715.7h4.1v2.1h-4.1zM61.6,715.7h2.1v2.1h-2.1zM67.6,715.7h4.1v2.1h-4.1zM81.6,715.7h2.1v2.1h-2.1zM87.6,715.7h2.1v2.1h-2.1zM97.5,715.7h2.1v2.1h-2.1zM235.4,715.7h2.1v2.1h-2.1zM261.3,715.7h4.1v2.1h-4.1zM275.3,715.7h6.1v2.1h-6.1zM55.6,717.7h2.1v2.1h-2.1zM61.6,717.7h2.1v2.1h-2.1zM71.6,717.7h2.1v2.1h-2.1zM75.6,717.7h2.1v2.1h-2.1zM79.6,717.7h2.1v2.1h-2.1zM83.6,717.7h2.1v2.1h-2.1zM95.5,717.7h2.1v2.1h-2.1zM99.5,717.7h2.1v2.1h-2.1zM103.5,717.7h2.1v2.1h-2.1zM273.3,717.7h2.1v2.1h-2.1zM51.6,719.7h2.1v2.1h-2.1zM59.6,719.7h2.1v2.1h-2.1zM65.6,719.7h4.1v2.1h-4.1zM71.6,719.7h2.1v2.1h-2.1zM79.6,719.7h2.1v2.1h-2.1zM95.5,719.7h2.1v2.1h-2.1zM103.5,719.7h2.1v2.1h-2.1zM253.3,719.7h2.1v2.1h-2.1zM51.6,721.6h4.1v2.1h-4.1zM69.6,721.6h2.1v2.1h-2.1zM65.6,723.6h2.1v2.1h-2.1zM69.6,723.6h4.1v2.1h-4.1zM77.6,723.6h2.1v2.1h-2.1zM103.5,723.6h2.1v2.1h-2.1zM59.6,725.6h2.1v2.1h-2.1zM93.5,727.6h2.1v2.1h-2.1zM87.6,729.5h2.1v2.1h-2.1zM93.5,729.5h2.1v2.1h-2.1zM81.6,731.5h2.1v2.1h-2.1z"/><path fill="#bc375a" d="M115.5,692.1h2.1v2.1h-2.1zM109.5,694.1h4.1v2.1h-4.1zM121.5,694.1h2.1v2.1h-2.1zM113.5,696.1h6.1v2.1h-6.1zM139.5,696.1h2.1v2.1h-2.1zM121.5,698.0h2.1v2.1h-2.1zM127.5,698.0h2.1v2.1h-2.1zM131.5,698.0h2.1v2.1h-2.1zM119.5,700.0h4.1v2.1h-4.1zM133.5,700.0h2.1v2.1h-2.1zM143.5,700.0h2.1v2.1h-2.1zM133.5,702.0h2.1v2.1h-2.1zM139.5,702.0h4.1v2.1h-4.1zM147.5,702.0h2.1v2.1h-2.1zM151.5,702.0h2.1v2.1h-2.1zM137.5,703.9h2.1v2.1h-2.1zM141.5,703.9h2.1v2.1h-2.1zM157.5,703.9h2.1v2.1h-2.1zM165.5,703.9h2.1v2.1h-2.1zM53.6,705.9h2.1v2.1h-2.1zM75.6,705.9h2.1v2.1h-2.1zM87.6,705.9h2.1v2.1h-2.1zM137.5,705.9h2.1v2.1h-2.1zM149.5,705.9h4.1v2.1h-4.1zM217.4,705.9h2.1v2.1h-2.1zM55.6,707.9h2.1v2.1h-2.1zM63.6,707.9h2.1v2.1h-2.1zM81.6,707.9h2.1v2.1h-2.1zM143.5,707.9h2.1v2.1h-2.1zM161.5,707.9h2.1v2.1h-2.1zM165.5,707.9h2.1v2.1h-2.1zM169.4,707.9h6.1v2.1h-6.1zM241.4,707.9h2.1v2.1h-2.1zM65.6,709.8h2.1v2.1h-2.1zM83.6,709.8h2.1v2.1h-2.1zM99.5,709.8h2.1v2.1h-2.1zM157.5,709.8h2.1v2.1h-2.1zM171.4,709.8h4.1v2.1h-4.1zM191.4,709.8h2.1v2.1h-2.1zM205.4,709.8h2.1v2.1h-2.1zM209.4,709.8h2.1v2.1h-2.1zM219.4,709.8h2.1v2.1h-2.1zM245.3,709.8h2.1v2.1h-2.1zM253.3,709.8h2.1v2.1h-2.1zM67.6,711.8h2.1v2.1h-2.1zM77.6,711.8h6.1v2.1h-6.1zM87.6,711.8h6.1v2.1h-6.1zM101.5,711.8h2.1v2.1h-2.1zM173.4,711.8h2.1v2.1h-2.1zM187.4,711.8h4.1v2.1h-4.1zM193.4,711.8h6.1v2.1h-6.1zM205.4,711.8h4.1v2.1h-4.1zM217.4,711.8h2.1v2.1h-2.1zM229.4,711.8h2.1v2.1h-2.1zM239.4,711.8h2.1v2.1h-2.1zM263.3,711.8h2.1v2.1h-2.1zM279.3,711.8h4.1v2.1h-4.1zM57.6,713.8h6.1v2.1h-6.1zM65.6,713.8h2.1v2.1h-2.1zM69.6,713.8h2.1v2.1h-2.1zM73.6,713.8h2.1v2.1h-2.1zM79.6,713.8h2.1v2.1h-2.1zM93.5,713.8h2.1v2.1h-2.1zM99.5,713.8h2.1v2.1h-2.1zM103.5,713.8h2.1v2.1h-2.1zM189.4,713.8h2.1v2.1h-2.1zM199.4,713.8h2.1v2.1h-2.1zM203.4,713.8h4.1v2.1h-4.1zM213.4,713.8h2.1v2.1h-2.1zM219.4,713.8h2.1v2.1h-2.1zM223.4,713.8h2.1v2.1h-2.1zM253.3,713.8h2.1v2.1h-2.1zM267.3,713.8h4.1v2.1h-4.1zM59.6,715.7h2.1v2.1h-2.1zM63.6,715.7h4.1v2.1h-4.1zM99.5,715.7h2.1v2.1h-2.1zM103.5,715.7h2.1v2.1h-2.1zM223.4,715.7h6.1v2.1h-6.1zM247.3,715.7h4.1v2.1h-4.1zM257.3,715.7h4.1v2.1h-4.1zM53.6,717.7h2.1v2.1h-2.1zM57.6,717.7h2.1v2.1h-2.1zM69.6,717.7h2.1v2.1h-2.1zM73.6,717.7h2.1v2.1h-2.1zM87.6,717.7h2.1v2.1h-2.1zM91.5,717.7h4.1v2.1h-4.1zM97.5,717.7h2.1v2.1h-2.1zM101.5,717.7h2.1v2.1h-2.1zM231.4,717.7h2.1v2.1h-2.1zM243.4,717.7h2.1v2.1h-2.1zM255.3,717.7h2.1v2.1h-2.1zM261.3,717.7h2.1v2.1h-2.1zM275.3,717.7h6.1v2.1h-6.1zM57.6,719.7h2.1v2.1h-2.1zM69.6,719.7h2.1v2.1h-2.1zM77.6,719.7h2.1v2.1h-2.1zM81.6,719.7h4.1v2.1h-4.1zM87.6,719.7h2.1v2.1h-2.1zM91.5,719.7h2.1v2.1h-2.1zM99.5,719.7h2.1v2.1h-2.1zM273.3,719.7h2.1v2.1h-2.1zM277.3,719.7h2.1v2.1h-2.1zM55.6,721.6h2.1v2.1h-2.1zM65.6,721.6h2.1v2.1h-2.1zM77.6,721.6h2.1v2.1h-2.1zM81.6,721.6h4.1v2.1h-4.1zM89.6,721.6h2.1v2.1h-2.1zM97.5,721.6h8.1v2.1h-8.1zM53.6,723.6h2.1v2.1h-2.1zM59.6,723.6h2.1v2.1h-2.1zM73.6,723.6h2.1v2.1h-2.1zM79.6,723.6h2.1v2.1h-2.1zM85.6,723.6h2.1v2.1h-2.1zM91.5,723.6h4.1v2.1h-4.1zM97.5,723.6h6.1v2.1h-6.1zM71.6,725.6h2.1v2.1h-2.1zM85.6,725.6h2.1v2.1h-2.1zM53.6,727.6h2.1v2.1h-2.1zM65.6,727.6h2.1v2.1h-2.1zM71.6,727.6h2.1v2.1h-2.1zM89.6,727.6h4.1v2.1h-4.1zM97.5,727.6h2.1v2.1h-2.1zM101.5,727.6h2.1v2.1h-2.1zM53.6,729.5h2.1v2.1h-2.1zM89.6,729.5h2.1v2.1h-2.1zM103.5,729.5h2.1v2.1h-2.1zM79.6,731.5h2.1v2.1h-2.1zM103.5,731.5h2.1v2.1h-2.1zM61.6,733.5h2.1v2.1h-2.1z"/><path fill="#c43e52" d="M109.5,696.1h2.1v2.1h-2.1zM121.5,696.1h2.1v2.1h-2.1zM117.5,698.0h2.1v2.1h-2.1zM115.5,700.0h2.1v2.1h-2.1zM123.5,700.0h6.1v2.1h-6.1zM137.5,700.0h2.1v2.1h-2.1zM149.5,700.0h2.1v2.1h-2.1zM135.5,702.0h2.1v2.1h-2.1zM153.5,702.0h2.1v2.1h-2.1zM69.6,703.9h2.1v2.1h-2.1zM125.5,703.9h2.1v2.1h-2.1zM129.5,703.9h8.1v2.1h-8.1zM139.5,703.9h2.1v2.1h-2.1zM145.5,703.9h4.1v2.1h-4.1zM139.5,705.9h8.1v2.1h-8.1zM155.5,705.9h2.1v2.1h-2.1zM161.5,705.9h6.1v2.1h-6.1zM249.3,705.9h2.1v2.1h-2.1zM147.5,707.9h2.1v2.1h-2.1zM155.5,707.9h4.1v2.1h-4.1zM167.5,707.9h2.1v2.1h-2.1zM177.4,707.9h2.1v2.1h-2.1zM181.4,707.9h2.1v2.1h-2.1zM233.4,707.9h2.1v2.1h-2.1zM95.5,709.8h2.1v2.1h-2.1zM151.5,709.8h2.1v2.1h-2.1zM159.5,709.8h2.1v2.1h-2.1zM163.5,709.8h8.1v2.1h-8.1zM175.4,709.8h2.1v2.1h-2.1zM181.4,709.8h4.1v2.1h-4.1zM187.4,709.8h2.1v2.1h-2.1zM193.4,709.8h4.1v2.1h-4.1zM235.4,709.8h2.1v2.1h-2.1zM179.4,711.8h2.1v2.1h-2.1zM185.4,711.8h2.1v2.1h-2.1zM191.4,711.8h2.1v2.1h-2.1zM209.4,711.8h2.1v2.1h-2.1zM215.4,711.8h2.1v2.1h-2.1zM273.3,711.8h2.1v2.1h-2.1zM51.6,713.8h2.1v2.1h-2.1zM67.6,713.8h2.1v2.1h-2.1zM77.6,713.8h2.1v2.1h-2.1zM89.6,713.8h4.1v2.1h-4.1zM171.4,713.8h2.1v2.1h-2.1zM175.4,713.8h2.1v2.1h-2.1zM181.4,713.8h2.1v2.1h-2.1zM185.4,713.8h4.1v2.1h-4.1zM193.4,713.8h2.1v2.1h-2.1zM209.4,713.8h2.1v2.1h-2.1zM215.4,713.8h2.1v2.1h-2.1zM229.4,713.8h2.1v2.1h-2.1zM241.4,713.8h2.1v2.1h-2.1zM265.3,713.8h2.1v2.1h-2.1zM51.6,715.7h2.1v2.1h-2.1zM73.6,715.7h2.1v2.1h-2.1zM77.6,715.7h4.1v2.1h-4.1zM89.6,715.7h2.1v2.1h-2.1zM101.5,715.7h2.1v2.1h-2.1zM199.4,715.7h6.1v2.1h-6.1zM213.4,715.7h4.1v2.1h-4.1zM219.4,715.7h2.1v2.1h-2.1zM229.4,715.7h6.1v2.1h-6.1zM239.4,715.7h2.1v2.1h-2.1zM245.3,715.7h2.1v2.1h-2.1zM251.3,715.7h2.1v2.1h-2.1zM255.3,715.7h2.1v2.1h-2.1zM265.3,715.7h2.1v2.1h-2.1zM269.3,715.7h4.1v2.1h-4.1zM59.6,717.7h2.1v2.1h-2.1zM89.6,717.7h2.1v2.1h-2.1zM191.4,717.7h2.1v2.1h-2.1zM219.4,717.7h2.1v2.1h-2.1zM229.4,717.7h2.1v2.1h-2.1zM237.4,717.7h2.1v2.1h-2.1zM251.3,717.7h2.1v2.1h-2.1zM257.3,717.7h4.1v2.1h-4.1zM263.3,717.7h4.1v2.1h-4.1zM269.3,717.7h2.1v2.1h-2.1zM281.3,717.7h2.1v2.1h-2.1zM53.6,719.7h4.1v2.1h-4.1zM61.6,719.7h4.1v2.1h-4.1zM73.6,719.7h4.1v2.1h-4.1zM89.6,719.7h2.1v2.1h-2.1zM93.5,719.7h2.1v2.1h-2.1zM97.5,719.7h2.1v2.1h-2.1zM101.5,719.7h2.1v2.1h-2.1zM261.3,719.7h2.1v2.1h-2.1zM269.3,719.7h2.1v2.1h-2.1zM279.3,719.7h4.1v2.1h-4.1zM57.6,721.6h6.1v2.1h-6.1zM71.6,721.6h4.1v2.1h-4.1zM87.6,721.6h2.1v2.1h-2.1zM91.5,721.6h6.1v2.1h-6.1zM255.3,721.6h2.1v2.1h-2.1zM267.3,721.6h2.1v2.1h-2.1zM57.6,723.6h2.1v2.1h-2.1zM61.6,723.6h2.1v2.1h-2.1zM67.6,723.6h2.1v2.1h-2.1zM87.6,723.6h4.1v2.1h-4.1zM51.6,725.6h2.1v2.1h-2.1zM57.6,725.6h2.1v2.1h-2.1zM63.6,725.6h4.1v2.1h-4.1zM73.6,725.6h2.1v2.1h-2.1zM81.6,725.6h2.1v2.1h-2.1zM87.6,725.6h2.1v2.1h-2.1zM91.5,725.6h8.1v2.1h-8.1zM101.5,725.6h2.1v2.1h-2.1zM67.6,727.6h2.1v2.1h-2.1zM75.6,727.6h2.1v2.1h-2.1zM79.6,727.6h4.1v2.1h-4.1zM87.6,727.6h2.1v2.1h-2.1zM95.5,727.6h2.1v2.1h-2.1zM99.5,727.6h2.1v2.1h-2.1zM103.5,727.6h2.1v2.1h-2.1zM55.6,729.5h4.1v2.1h-4.1zM61.6,729.5h12.1v2.1h-12.1zM75.6,729.5h2.1v2.1h-2.1zM83.6,729.5h4.1v2.1h-4.1zM91.5,729.5h2.1v2.1h-2.1zM57.6,731.5h2.1v2.1h-2.1zM65.6,731.5h2.1v2.1h-2.1zM73.6,731.5h2.1v2.1h-2.1zM85.6,731.5h2.1v2.1h-2.1zM95.5,731.5h2.1v2.1h-2.1zM99.5,731.5h2.1v2.1h-2.1zM63.6,733.5h2.1v2.1h-2.1zM87.6,733.5h2.1v2.1h-2.1zM99.5,733.5h2.1v2.1h-2.1z"/><path fill="#cd444a" d="M105.5,694.1h2.1v2.1h-2.1zM111.5,696.1h2.1v2.1h-2.1zM113.5,698.0h4.1v2.1h-4.1zM109.5,700.0h2.1v2.1h-2.1zM115.5,702.0h8.1v2.1h-8.1zM127.5,702.0h2.1v2.1h-2.1zM127.5,703.9h2.1v2.1h-2.1zM143.5,703.9h2.1v2.1h-2.1zM147.5,705.9h2.1v2.1h-2.1zM157.5,705.9h2.1v2.1h-2.1zM129.5,707.9h2.1v2.1h-2.1zM139.5,707.9h2.1v2.1h-2.1zM145.5,707.9h2.1v2.1h-2.1zM149.5,707.9h4.1v2.1h-4.1zM159.5,707.9h2.1v2.1h-2.1zM139.5,709.8h2.1v2.1h-2.1zM145.5,709.8h2.1v2.1h-2.1zM149.5,709.8h2.1v2.1h-2.1zM155.5,709.8h2.1v2.1h-2.1zM161.5,709.8h2.1v2.1h-2.1zM177.4,709.8h2.1v2.1h-2.1zM163.5,711.8h4.1v2.1h-4.1zM169.4,711.8h2.1v2.1h-2.1zM175.4,711.8h2.1v2.1h-2.1zM181.4,711.8h2.1v2.1h-2.1zM201.4,711.8h2.1v2.1h-2.1zM213.4,711.8h2.1v2.1h-2.1zM71.6,713.8h2.1v2.1h-2.1zM153.5,713.8h4.1v2.1h-4.1zM159.5,713.8h6.1v2.1h-6.1zM169.4,713.8h2.1v2.1h-2.1zM183.4,713.8h2.1v2.1h-2.1zM191.4,713.8h2.1v2.1h-2.1zM201.4,713.8h2.1v2.1h-2.1zM211.4,713.8h2.1v2.1h-2.1zM227.4,713.8h2.1v2.1h-2.1zM185.4,715.7h2.1v2.1h-2.1zM205.4,715.7h2.1v2.1h-2.1zM221.4,715.7h2.1v2.1h-2.1zM243.4,715.7h2.1v2.1h-2.1zM63.6,717.7h4.1v2.1h-4.1zM77.6,717.7h2.1v2.1h-2.1zM81.6,717.7h2.1v2.1h-2.1zM85.6,717.7h2.1v2.1h-2.1zM203.4,717.7h2.1v2.1h-2.1zM215.4,717.7h4.1v2.1h-4.1zM223.4,717.7h4.1v2.1h-4.1zM235.4,717.7h2.1v2.1h-2.1zM241.4,717.7h2.1v2.1h-2.1zM245.3,717.7h6.1v2.1h-6.1zM267.3,717.7h2.1v2.1h-2.1zM85.6,719.7h2.1v2.1h-2.1zM219.4,719.7h2.1v2.1h-2.1zM231.4,719.7h2.1v2.1h-2.1zM235.4,719.7h2.1v2.1h-2.1zM239.4,719.7h2.1v2.1h-2.1zM243.4,719.7h2.1v2.1h-2.1zM247.3,719.7h6.1v2.1h-6.1zM255.3,719.7h2.1v2.1h-2.1zM267.3,719.7h2.1v2.1h-2.1zM271.3,719.7h2.1v2.1h-2.1zM275.3,719.7h2.1v2.1h-2.1zM63.6,721.6h2.1v2.1h-2.1zM67.6,721.6h2.1v2.1h-2.1zM75.6,721.6h2.1v2.1h-2.1zM79.6,721.6h2.1v2.1h-2.1zM191.4,721.6h2.1v2.1h-2.1zM247.3,721.6h2.1v2.1h-2.1zM253.3,721.6h2.1v2.1h-2.1zM259.3,721.6h2.1v2.1h-2.1zM265.3,721.6h2.1v2.1h-2.1zM269.3,721.6h6.1v2.1h-6.1zM281.3,721.6h2.1v2.1h-2.1zM51.6,723.6h2.1v2.1h-2.1zM75.6,723.6h2.1v2.1h-2.1zM83.6,723.6h2.1v2.1h-2.1zM95.5,723.6h2.1v2.1h-2.1zM271.3,723.6h2.1v2.1h-2.1zM279.3,723.6h2.1v2.1h-2.1zM55.6,725.6h2.1v2.1h-2.1zM69.6,725.6h2.1v2.1h-2.1zM77.6,725.6h2.1v2.1h-2.1zM83.6,725.6h2.1v2.1h-2.1zM89.6,725.6h2.1v2.1h-2.1zM103.5,725.6h2.1v2.1h-2.1zM51.6,727.6h2.1v2.1h-2.1zM55.6,727.6h2.1v2.1h-2.1zM59.6,727.6h2.1v2.1h-2.1zM63.6,727.6h2.1v2.1h-2.1zM69.6,727.6h2.1v2.1h-2.1zM73.6,727.6h2.1v2.1h-2.1zM83.6,727.6h4.1v2.1h-4.1zM51.6,729.5h2.1v2.1h-2.1zM73.6,729.5h2.1v2.1h-2.1zM77.6,729.5h6.1v2.1h-6.1zM97.5,729.5h4.1v2.1h-4.1zM53.6,731.5h4.1v2.1h-4.1zM59.6,731.5h2.1v2.1h-2.1zM63.6,731.5h2.1v2.1h-2.1zM69.6,731.5h4.1v2.1h-4.1zM77.6,731.5h2.1v2.1h-2.1zM83.6,731.5h2.1v2.1h-2.1zM87.6,731.5h4.1v2.1h-4.1zM97.5,731.5h2.1v2.1h-2.1zM51.6,733.5h2.1v2.1h-2.1zM55.6,733.5h2.1v2.1h-2.1zM65.6,733.5h4.1v2.1h-4.1zM71.6,733.5h2.1v2.1h-2.1zM77.6,733.5h2.1v2.1h-2.1zM89.6,733.5h4.1v2.1h-4.1zM97.5,733.5h2.1v2.1h-2.1z"/><path fill="#d54a42" d="M107.5,696.1h2.1v2.1h-2.1zM107.5,698.0h6.1v2.1h-6.1zM117.5,700.0h2.1v2.1h-2.1zM109.5,702.0h2.1v2.1h-2.1zM113.5,702.0h2.1v2.1h-2.1zM123.5,702.0h4.1v2.1h-4.1zM129.5,702.0h2.1v2.1h-2.1zM119.5,703.9h6.1v2.1h-6.1zM121.5,705.9h2.1v2.1h-2.1zM125.5,705.9h4.1v2.1h-4.1zM153.5,705.9h2.1v2.1h-2.1zM119.5,707.9h2.1v2.1h-2.1zM131.5,707.9h2.1v2.1h-2.1zM141.5,707.9h2.1v2.1h-2.1zM123.5,709.8h2.1v2.1h-2.1zM129.5,709.8h2.1v2.1h-2.1zM153.5,709.8h2.1v2.1h-2.1zM137.5,711.8h6.1v2.1h-6.1zM149.5,711.8h2.1v2.1h-2.1zM153.5,711.8h4.1v2.1h-4.1zM159.5,711.8h4.1v2.1h-4.1zM167.5,711.8h2.1v2.1h-2.1zM171.4,711.8h2.1v2.1h-2.1zM177.4,711.8h2.1v2.1h-2.1zM183.4,711.8h2.1v2.1h-2.1zM151.5,713.8h2.1v2.1h-2.1zM165.5,713.8h4.1v2.1h-4.1zM173.4,713.8h2.1v2.1h-2.1zM177.4,713.8h2.1v2.1h-2.1zM195.4,713.8h2.1v2.1h-2.1zM155.5,715.7h2.1v2.1h-2.1zM171.4,715.7h2.1v2.1h-2.1zM177.4,715.7h4.1v2.1h-4.1zM187.4,715.7h6.1v2.1h-6.1zM195.4,715.7h4.1v2.1h-4.1zM207.4,715.7h2.1v2.1h-2.1zM211.4,715.7h2.1v2.1h-2.1zM237.4,715.7h2.1v2.1h-2.1zM189.4,717.7h2.1v2.1h-2.1zM197.4,717.7h4.1v2.1h-4.1zM205.4,717.7h4.1v2.1h-4.1zM211.4,717.7h2.1v2.1h-2.1zM221.4,717.7h2.1v2.1h-2.1zM227.4,717.7h2.1v2.1h-2.1zM239.4,717.7h2.1v2.1h-2.1zM253.3,717.7h2.1v2.1h-2.1zM271.3,717.7h2.1v2.1h-2.1zM191.4,719.7h2.1v2.1h-2.1zM215.4,719.7h2.1v2.1h-2.1zM221.4,719.7h4.1v2.1h-4.1zM229.4,719.7h2.1v2.1h-2.1zM257.3,719.7h2.1v2.1h-2.1zM263.3,719.7h4.1v2.1h-4.1zM193.4,721.6h2.1v2.1h-2.1zM209.4,721.6h2.1v2.1h-2.1zM217.4,721.6h4.1v2.1h-4.1zM249.3,721.6h2.1v2.1h-2.1zM257.3,721.6h2.1v2.1h-2.1zM261.3,721.6h2.1v2.1h-2.1zM277.3,721.6h4.1v2.1h-4.1zM55.6,723.6h2.1v2.1h-2.1zM63.6,723.6h2.1v2.1h-2.1zM81.6,723.6h2.1v2.1h-2.1zM213.4,723.6h2.1v2.1h-2.1zM219.4,723.6h2.1v2.1h-2.1zM241.4,723.6h2.1v2.1h-2.1zM251.3,723.6h2.1v2.1h-2.1zM263.3,723.6h4.1v2.1h-4.1zM269.3,723.6h2.1v2.1h-2.1zM61.6,725.6h2.1v2.1h-2.1zM67.6,725.6h2.1v2.1h-2.1zM75.6,725.6h2.1v2.1h-2.1zM79.6,725.6h2.1v2.1h-2.1zM99.5,725.6h2.1v2.1h-2.1zM261.3,725.6h2.1v2.1h-2.1zM269.3,725.6h2.1v2.1h-2.1zM61.6,727.6h2.1v2.1h-2.1zM77.6,727.6h2.1v2.1h-2.1zM59.6,729.5h2.1v2.1h-2.1zM95.5,729.5h2.1v2.1h-2.1zM51.6,731.5h2.1v2.1h-2.1zM75.6,731.5h2.1v2.1h-2.1zM93.5,731.5h2.1v2.1h-2.1zM101.5,731.5h2.1v2.1h-2.1zM57.6,733.5h4.1v2.1h-4.1zM69.6,733.5h2.1v2.1h-2.1zM73.6,733.5h2.1v2.1h-2.1zM79.6,733.5h2.1v2.1h-2.1zM85.6,733.5h2.1v2.1h-2.1zM93.5,733.5h4.1v2.1h-4.1zM101.5,733.5h2.1v2.1h-2.1zM55.6,735.4h2.1v2.1h-2.1zM73.6,735.4h2.1v2.1h-2.1zM81.6,735.4h2.1v2.1h-2.1zM95.5,735.4h2.1v2.1h-2.1z"/><path fill="#dd513a" d="M107.5,700.0h2.1v2.1h-2.1zM111.5,700.0h4.1v2.1h-4.1zM111.5,702.0h2.1v2.1h-2.1zM117.5,703.9h2.1v2.1h-2.1zM111.5,705.9h2.1v2.1h-2.1zM115.5,705.9h2.1v2.1h-2.1zM123.5,705.9h2.1v2.1h-2.1zM129.5,705.9h4.1v2.1h-4.1zM135.5,705.9h2.1v2.1h-2.1zM117.5,707.9h2.1v2.1h-2.1zM121.5,707.9h2.1v2.1h-2.1zM133.5,707.9h4.1v2.1h-4.1zM133.5,709.8h4.1v2.1h-4.1zM141.5,709.8h4.1v2.1h-4.1zM147.5,709.8h2.1v2.1h-2.1zM127.5,711.8h2.1v2.1h-2.1zM131.5,711.8h4.1v2.1h-4.1zM143.5,711.8h2.1v2.1h-2.1zM151.5,711.8h2.1v2.1h-2.1zM139.5,713.8h2.1v2.1h-2.1zM147.5,713.8h4.1v2.1h-4.1zM179.4,713.8h2.1v2.1h-2.1zM197.4,713.8h2.1v2.1h-2.1zM151.5,715.7h2.1v2.1h-2.1zM159.5,715.7h2.1v2.1h-2.1zM165.5,715.7h2.1v2.1h-2.1zM175.4,715.7h2.1v2.1h-2.1zM181.4,715.7h4.1v2.1h-4.1zM209.4,715.7h2.1v2.1h-2.1zM217.4,715.7h2.1v2.1h-2.1zM167.5,717.7h2.1v2.1h-2.1zM173.4,717.7h2.1v2.1h-2.1zM177.4,717.7h2.1v2.1h-2.1zM201.4,717.7h2.1v2.1h-2.1zM209.4,717.7h2.1v2.1h-2.1zM233.4,717.7h2.1v2.1h-2.1zM189.4,719.7h2.1v2.1h-2.1zM195.4,719.7h6.1v2.1h-6.1zM205.4,719.7h6.1v2.1h-6.1zM233.4,719.7h2.1v2.1h-2.1zM241.4,719.7h2.1v2.1h-2.1zM245.3,719.7h2.1v2.1h-2.1zM181.4,721.6h2.1v2.1h-2.1zM201.4,721.6h2.1v2.1h-2.1zM213.4,721.6h2.1v2.1h-2.1zM223.4,721.6h2.1v2.1h-2.1zM229.4,721.6h6.1v2.1h-6.1zM237.4,721.6h4.1v2.1h-4.1zM243.4,721.6h2.1v2.1h-2.1zM251.3,721.6h2.1v2.1h-2.1zM275.3,721.6h2.1v2.1h-2.1zM211.4,723.6h2.1v2.1h-2.1zM233.4,723.6h2.1v2.1h-2.1zM237.4,723.6h4.1v2.1h-4.1zM247.3,723.6h4.1v2.1h-4.1zM253.3,723.6h2.1v2.1h-2.1zM257.3,723.6h2.1v2.1h-2.1zM267.3,723.6h2.1v2.1h-2.1zM273.3,723.6h4.1v2.1h-4.1zM281.3,723.6h2.1v2.1h-2.1zM233.4,725.6h2.1v2.1h-2.1zM241.4,725.6h2.1v2.1h-2.1zM267.3,725.6h2.1v2.1h-2.1zM247.3,727.6h2.1v2.1h-2.1zM275.3,727.6h2.1v2.1h-2.1zM101.5,729.5h2.1v2.1h-2.1zM61.6,731.5h2.1v2.1h-2.1zM67.6,731.5h2.1v2.1h-2.1zM91.5,731.5h2.1v2.1h-2.1zM53.6,733.5h2.1v2.1h-2.1zM75.6,733.5h2.1v2.1h-2.1zM81.6,733.5h4.1v2.1h-4.1zM103.5,733.5h2.1v2.1h-2.1zM59.6,735.4h2.1v2.1h-2.1zM63.6,735.4h4.1v2.1h-4.1zM71.6,735.4h2.1v2.1h-2.1zM97.5,735.4h4.1v2.1h-4.1zM103.5,735.4h2.1v2.1h-2.1z"/><path fill="#e25b32" d="M105.5,700.0h2.1v2.1h-2.1zM105.5,702.0h4.1v2.1h-4.1zM107.5,705.9h2.1v2.1h-2.1zM133.5,705.9h2.1v2.1h-2.1zM127.5,707.9h2.1v2.1h-2.1zM137.5,707.9h2.1v2.1h-2.1zM127.5,709.8h2.1v2.1h-2.1zM131.5,709.8h2.1v2.1h-2.1zM137.5,709.8h2.1v2.1h-2.1zM125.5,711.8h2.1v2.1h-2.1zM129.5,711.8h2.1v2.1h-2.1zM135.5,711.8h2.1v2.1h-2.1zM145.5,711.8h2.1v2.1h-2.1zM157.5,711.8h2.1v2.1h-2.1zM113.5,713.8h2.1v2.1h-2.1zM135.5,713.8h2.1v2.1h-2.1zM141.5,713.8h4.1v2.1h-4.1zM163.5,715.7h2.1v2.1h-2.1zM167.5,715.7h2.1v2.1h-2.1zM193.4,715.7h2.1v2.1h-2.1zM153.5,717.7h2.1v2.1h-2.1zM161.5,717.7h2.1v2.1h-2.1zM169.4,717.7h4.1v2.1h-4.1zM179.4,717.7h10.1v2.1h-10.1zM193.4,717.7h4.1v2.1h-4.1zM213.4,717.7h2.1v2.1h-2.1zM157.5,719.7h2.1v2.1h-2.1zM161.5,719.7h2.1v2.1h-2.1zM173.4,719.7h2.1v2.1h-2.1zM179.4,719.7h8.1v2.1h-8.1zM193.4,719.7h2.1v2.1h-2.1zM203.4,719.7h2.1v2.1h-2.1zM213.4,719.7h2.1v2.1h-2.1zM217.4,719.7h2.1v2.1h-2.1zM225.4,719.7h4.1v2.1h-4.1zM237.4,719.7h2.1v2.1h-2.1zM259.3,719.7h2.1v2.1h-2.1zM185.4,721.6h2.1v2.1h-2.1zM203.4,721.6h2.1v2.1h-2.1zM207.4,721.6h2.1v2.1h-2.1zM215.4,721.6h2.1v2.1h-2.1zM225.4,721.6h2.1v2.1h-2.1zM235.4,721.6h2.1v2.1h-2.1zM241.4,721.6h2.1v2.1h-2.1zM245.3,721.6h2.1v2.1h-2.1zM263.3,721.6h2.1v2.1h-2.1zM201.4,723.6h4.1v2.1h-4.1zM217.4,723.6h2.1v2.1h-2.1zM225.4,723.6h2.1v2.1h-2.1zM231.4,723.6h2.1v2.1h-2.1zM243.4,723.6h2.1v2.1h-2.1zM255.3,723.6h2.1v2.1h-2.1zM259.3,723.6h4.1v2.1h-4.1zM277.3,723.6h2.1v2.1h-2.1zM201.4,725.6h2.1v2.1h-2.1zM227.4,725.6h2.1v2.1h-2.1zM239.4,725.6h2.1v2.1h-2.1zM245.3,725.6h2.1v2.1h-2.1zM251.3,725.6h8.1v2.1h-8.1zM265.3,725.6h2.1v2.1h-2.1zM275.3,725.6h8.1v2.1h-8.1zM249.3,727.6h2.1v2.1h-2.1zM261.3,727.6h2.1v2.1h-2.1zM271.3,727.6h4.1v2.1h-4.1zM277.3,727.6h2.1v2.1h-2.1zM275.3,729.5h2.1v2.1h-2.1zM51.6,735.4h2.1v2.1h-2.1zM75.6,735.4h2.1v2.1h-2.1zM83.6,735.4h4.1v2.1h-4.1zM89.6,735.4h4.1v2.1h-4.1z"/><path fill="#e86529" d="M105.5,696.1h2.1v2.1h-2.1zM105.5,698.0h2.1v2.1h-2.1zM109.5,703.9h2.1v2.1h-2.1zM113.5,703.9h2.1v2.1h-2.1zM109.5,705.9h2.1v2.1h-2.1zM113.5,705.9h2.1v2.1h-2.1zM117.5,705.9h4.1v2.1h-4.1zM111.5,707.9h6.1v2.1h-6.1zM123.5,707.9h4.1v2.1h-4.1zM125.5,709.8h2.1v2.1h-2.1zM123.5,711.8h2.1v2.1h-2.1zM117.5,713.8h2.1v2.1h-2.1zM121.5,713.8h4.1v2.1h-4.1zM145.5,713.8h2.1v2.1h-2.1zM157.5,713.8h2.1v2.1h-2.1zM129.5,715.7h2.1v2.1h-2.1zM141.5,715.7h2.1v2.1h-2.1zM147.5,715.7h4.1v2.1h-4.1zM153.5,715.7h2.1v2.1h-2.1zM157.5,715.7h2.1v2.1h-2.1zM161.5,715.7h2.1v2.1h-2.1zM169.4,715.7h2.1v2.1h-2.1zM173.4,715.7h2.1v2.1h-2.1zM127.5,717.7h2.1v2.1h-2.1zM155.5,717.7h2.1v2.1h-2.1zM159.5,717.7h2.1v2.1h-2.1zM163.5,717.7h4.1v2.1h-4.1zM175.4,717.7h2.1v2.1h-2.1zM133.5,719.7h2.1v2.1h-2.1zM141.5,719.7h2.1v2.1h-2.1zM151.5,719.7h2.1v2.1h-2.1zM159.5,719.7h2.1v2.1h-2.1zM163.5,719.7h8.1v2.1h-8.1zM175.4,719.7h4.1v2.1h-4.1zM187.4,719.7h2.1v2.1h-2.1zM201.4,719.7h2.1v2.1h-2.1zM211.4,719.7h2.1v2.1h-2.1zM159.5,721.6h8.1v2.1h-8.1zM173.4,721.6h2.1v2.1h-2.1zM183.4,721.6h2.1v2.1h-2.1zM187.4,721.6h4.1v2.1h-4.1zM195.4,721.6h2.1v2.1h-2.1zM199.4,721.6h2.1v2.1h-2.1zM205.4,721.6h2.1v2.1h-2.1zM211.4,721.6h2.1v2.1h-2.1zM221.4,721.6h2.1v2.1h-2.1zM227.4,721.6h2.1v2.1h-2.1zM159.5,723.6h2.1v2.1h-2.1zM191.4,723.6h2.1v2.1h-2.1zM197.4,723.6h2.1v2.1h-2.1zM207.4,723.6h2.1v2.1h-2.1zM215.4,723.6h2.1v2.1h-2.1zM221.4,723.6h4.1v2.1h-4.1zM227.4,723.6h4.1v2.1h-4.1zM235.4,723.6h2.1v2.1h-2.1zM245.3,723.6h2.1v2.1h-2.1zM175.4,725.6h2.1v2.1h-2.1zM195.4,725.6h2.1v2.1h-2.1zM207.4,725.6h2.1v2.1h-2.1zM219.4,725.6h2.1v2.1h-2.1zM223.4,725.6h2.1v2.1h-2.1zM229.4,725.6h4.1v2.1h-4.1zM237.4,725.6h2.1v2.1h-2.1zM243.4,725.6h2.1v2.1h-2.1zM247.3,725.6h2.1v2.1h-2.1zM259.3,725.6h2.1v2.1h-2.1zM263.3,725.6h2.1v2.1h-2.1zM271.3,725.6h4.1v2.1h-4.1zM229.4,727.6h4.1v2.1h-4.1zM245.3,727.6h2.1v2.1h-2.1zM251.3,727.6h6.1v2.1h-6.1zM259.3,727.6h2.1v2.1h-2.1zM263.3,727.6h2.1v2.1h-2.1zM281.3,727.6h2.1v2.1h-2.1zM255.3,729.5h2.1v2.1h-2.1zM261.3,729.5h2.1v2.1h-2.1zM277.3,729.5h4.1v2.1h-4.1zM253.3,731.5h2.1v2.1h-2.1zM263.3,731.5h2.1v2.1h-2.1zM279.3,731.5h2.1v2.1h-2.1zM53.6,735.4h2.1v2.1h-2.1zM57.6,735.4h2.1v2.1h-2.1zM61.6,735.4h2.1v2.1h-2.1zM67.6,735.4h4.1v2.1h-4.1zM77.6,735.4h4.1v2.1h-4.1zM101.5,735.4h2.1v2.1h-2.1z"/><path fill="#ee6e21" d="M107.5,703.9h2.1v2.1h-2.1zM111.5,703.9h2.1v2.1h-2.1zM115.5,703.9h2.1v2.1h-2.1zM109.5,707.9h2.1v2.1h-2.1zM109.5,709.8h8.1v2.1h-8.1zM119.5,709.8h4.1v2.1h-4.1zM109.5,711.8h2.1v2.1h-2.1zM113.5,711.8h2.1v2.1h-2.1zM119.5,711.8h4.1v2.1h-4.1zM147.5,711.8h2.1v2.1h-2.1zM115.5,713.8h2.1v2.1h-2.1zM125.5,713.8h4.1v2.1h-4.1zM131.5,713.8h2.1v2.1h-2.1zM137.5,713.8h2.1v2.1h-2.1zM125.5,715.7h2.1v2.1h-2.1zM139.5,715.7h2.1v2.1h-2.1zM145.5,715.7h2.1v2.1h-2.1zM137.5,717.7h2.1v2.1h-2.1zM141.5,717.7h2.1v2.1h-2.1zM151.5,717.7h2.1v2.1h-2.1zM157.5,717.7h2.1v2.1h-2.1zM131.5,719.7h2.1v2.1h-2.1zM135.5,719.7h2.1v2.1h-2.1zM139.5,719.7h2.1v2.1h-2.1zM145.5,719.7h2.1v2.1h-2.1zM153.5,719.7h2.1v2.1h-2.1zM171.4,719.7h2.1v2.1h-2.1zM149.5,721.6h2.1v2.1h-2.1zM155.5,721.6h4.1v2.1h-4.1zM167.5,721.6h2.1v2.1h-2.1zM175.4,721.6h6.1v2.1h-6.1zM197.4,721.6h2.1v2.1h-2.1zM165.5,723.6h4.1v2.1h-4.1zM179.4,723.6h12.1v2.1h-12.1zM193.4,723.6h2.1v2.1h-2.1zM199.4,723.6h2.1v2.1h-2.1zM209.4,723.6h2.1v2.1h-2.1zM173.4,725.6h2.1v2.1h-2.1zM183.4,725.6h2.1v2.1h-2.1zM209.4,725.6h2.1v2.1h-2.1zM215.4,725.6h2.1v2.1h-2.1zM221.4,725.6h2.1v2.1h-2.1zM225.4,725.6h2.1v2.1h-2.1zM235.4,725.6h2.1v2.1h-2.1zM249.3,725.6h2.1v2.1h-2.1zM187.4,727.6h2.1v2.1h-2.1zM211.4,727.6h2.1v2.1h-2.1zM221.4,727.6h2.1v2.1h-2.1zM225.4,727.6h2.1v2.1h-2.1zM233.4,727.6h2.1v2.1h-2.1zM239.4,727.6h4.1v2.1h-4.1zM265.3,727.6h2.1v2.1h-2.1zM269.3,727.6h2.1v2.1h-2.1zM279.3,727.6h2.1v2.1h-2.1zM195.4,729.5h2.1v2.1h-2.1zM215.4,729.5h2.1v2.1h-2.1zM223.4,729.5h2.1v2.1h-2.1zM231.4,729.5h2.1v2.1h-2.1zM245.3,729.5h2.1v2.1h-2.1zM257.3,729.5h2.1v2.1h-2.1zM263.3,729.5h4.1v2.1h-4.1zM269.3,729.5h4.1v2.1h-4.1zM281.3,729.5h2.1v2.1h-2.1zM255.3,731.5h2.1v2.1h-2.1zM267.3,731.5h2.1v2.1h-2.1zM273.3,731.5h4.1v2.1h-4.1zM281.3,731.5h2.1v2.1h-2.1zM87.6,735.4h2.1v2.1h-2.1zM93.5,735.4h2.1v2.1h-2.1z"/><path fill="#f37819" d="M105.5,703.9h2.1v2.1h-2.1zM107.5,707.9h2.1v2.1h-2.1zM105.5,709.8h2.1v2.1h-2.1zM117.5,709.8h2.1v2.1h-2.1zM117.5,711.8h2.1v2.1h-2.1zM111.5,713.8h2.1v2.1h-2.1zM119.5,713.8h2.1v2.1h-2.1zM129.5,713.8h2.1v2.1h-2.1zM133.5,713.8h2.1v2.1h-2.1zM115.5,715.7h10.1v2.1h-10.1zM131.5,715.7h8.1v2.1h-8.1zM143.5,715.7h2.1v2.1h-2.1zM111.5,717.7h2.1v2.1h-2.1zM131.5,717.7h2.1v2.1h-2.1zM135.5,717.7h2.1v2.1h-2.1zM143.5,717.7h8.1v2.1h-8.1zM129.5,719.7h2.1v2.1h-2.1zM137.5,719.7h2.1v2.1h-2.1zM147.5,719.7h2.1v2.1h-2.1zM155.5,719.7h2.1v2.1h-2.1zM141.5,721.6h2.1v2.1h-2.1zM147.5,721.6h2.1v2.1h-2.1zM171.4,721.6h2.1v2.1h-2.1zM137.5,723.6h2.1v2.1h-2.1zM141.5,723.6h2.1v2.1h-2.1zM145.5,723.6h2.1v2.1h-2.1zM149.5,723.6h2.1v2.1h-2.1zM157.5,723.6h2.1v2.1h-2.1zM163.5,723.6h2.1v2.1h-2.1zM169.4,723.6h2.1v2.1h-2.1zM173.4,723.6h2.1v2.1h-2.1zM195.4,723.6h2.1v2.1h-2.1zM205.4,723.6h2.1v2.1h-2.1zM157.5,725.6h4.1v2.1h-4.1zM163.5,725.6h2.1v2.1h-2.1zM169.4,725.6h4.1v2.1h-4.1zM179.4,725.6h2.1v2.1h-2.1zM185.4,725.6h2.1v2.1h-2.1zM197.4,725.6h2.1v2.1h-2.1zM203.4,725.6h2.1v2.1h-2.1zM213.4,725.6h2.1v2.1h-2.1zM217.4,725.6h2.1v2.1h-2.1zM167.5,727.6h2.1v2.1h-2.1zM191.4,727.6h4.1v2.1h-4.1zM197.4,727.6h4.1v2.1h-4.1zM203.4,727.6h8.1v2.1h-8.1zM215.4,727.6h6.1v2.1h-6.1zM227.4,727.6h2.1v2.1h-2.1zM237.4,727.6h2.1v2.1h-2.1zM243.4,727.6h2.1v2.1h-2.1zM257.3,727.6h2.1v2.1h-2.1zM267.3,727.6h2.1v2.1h-2.1zM183.4,729.5h2.1v2.1h-2.1zM189.4,729.5h2.1v2.1h-2.1zM209.4,729.5h2.1v2.1h-2.1zM225.4,729.5h2.1v2.1h-2.1zM229.4,729.5h2.1v2.1h-2.1zM235.4,729.5h6.1v2.1h-6.1zM243.4,729.5h2.1v2.1h-2.1zM249.3,729.5h6.1v2.1h-6.1zM259.3,729.5h2.1v2.1h-2.1zM267.3,729.5h2.1v2.1h-2.1zM273.3,729.5h2.1v2.1h-2.1zM205.4,731.5h2.1v2.1h-2.1zM233.4,731.5h2.1v2.1h-2.1zM237.4,731.5h2.1v2.1h-2.1zM251.3,731.5h2.1v2.1h-2.1zM259.3,731.5h4.1v2.1h-4.1zM269.3,731.5h4.1v2.1h-4.1zM277.3,731.5h2.1v2.1h-2.1zM259.3,733.5h2.1v2.1h-2.1zM263.3,733.5h2.1v2.1h-2.1zM271.3,733.5h2.1v2.1h-2.1zM275.3,733.5h4.1v2.1h-4.1z"/><path fill="#f58315" d="M105.5,705.9h2.1v2.1h-2.1zM107.5,709.8h2.1v2.1h-2.1zM105.5,711.8h4.1v2.1h-4.1zM111.5,711.8h2.1v2.1h-2.1zM109.5,713.8h2.1v2.1h-2.1zM115.5,717.7h4.1v2.1h-4.1zM121.5,717.7h6.1v2.1h-6.1zM129.5,717.7h2.1v2.1h-2.1zM133.5,717.7h2.1v2.1h-2.1zM139.5,717.7h2.1v2.1h-2.1zM121.5,719.7h2.1v2.1h-2.1zM143.5,719.7h2.1v2.1h-2.1zM149.5,719.7h2.1v2.1h-2.1zM123.5,721.6h4.1v2.1h-4.1zM133.5,721.6h8.1v2.1h-8.1zM143.5,721.6h2.1v2.1h-2.1zM151.5,721.6h4.1v2.1h-4.1zM169.4,721.6h2.1v2.1h-2.1zM129.5,723.6h2.1v2.1h-2.1zM139.5,723.6h2.1v2.1h-2.1zM161.5,723.6h2.1v2.1h-2.1zM171.4,723.6h2.1v2.1h-2.1zM175.4,723.6h4.1v2.1h-4.1zM143.5,725.6h2.1v2.1h-2.1zM147.5,725.6h2.1v2.1h-2.1zM153.5,725.6h2.1v2.1h-2.1zM161.5,725.6h2.1v2.1h-2.1zM165.5,725.6h4.1v2.1h-4.1zM177.4,725.6h2.1v2.1h-2.1zM187.4,725.6h2.1v2.1h-2.1zM191.4,725.6h4.1v2.1h-4.1zM211.4,725.6h2.1v2.1h-2.1zM159.5,727.6h2.1v2.1h-2.1zM169.4,727.6h4.1v2.1h-4.1zM175.4,727.6h10.1v2.1h-10.1zM201.4,727.6h2.1v2.1h-2.1zM213.4,727.6h2.1v2.1h-2.1zM223.4,727.6h2.1v2.1h-2.1zM159.5,729.5h2.1v2.1h-2.1zM163.5,729.5h2.1v2.1h-2.1zM187.4,729.5h2.1v2.1h-2.1zM191.4,729.5h2.1v2.1h-2.1zM201.4,729.5h6.1v2.1h-6.1zM211.4,729.5h4.1v2.1h-4.1zM217.4,729.5h4.1v2.1h-4.1zM227.4,729.5h2.1v2.1h-2.1zM241.4,729.5h2.1v2.1h-2.1zM247.3,729.5h2.1v2.1h-2.1zM213.4,731.5h2.1v2.1h-2.1zM225.4,731.5h6.1v2.1h-6.1zM235.4,731.5h2.1v2.1h-2.1zM243.4,731.5h4.1v2.1h-4.1zM249.3,731.5h2.1v2.1h-2.1zM257.3,731.5h2.1v2.1h-2.1zM265.3,731.5h2.1v2.1h-2.1zM227.4,733.5h2.1v2.1h-2.1zM265.3,733.5h2.1v2.1h-2.1z"/><path fill="#f88e12" d="M105.5,707.9h2.1v2.1h-2.1zM115.5,711.8h2.1v2.1h-2.1zM113.5,715.7h2.1v2.1h-2.1zM127.5,715.7h2.1v2.1h-2.1zM119.5,717.7h2.1v2.1h-2.1zM111.5,719.7h2.1v2.1h-2.1zM117.5,719.7h4.1v2.1h-4.1zM111.5,721.6h4.1v2.1h-4.1zM127.5,721.6h4.1v2.1h-4.1zM145.5,721.6h2.1v2.1h-2.1zM125.5,723.6h4.1v2.1h-4.1zM133.5,723.6h4.1v2.1h-4.1zM143.5,723.6h2.1v2.1h-2.1zM147.5,723.6h2.1v2.1h-2.1zM151.5,723.6h6.1v2.1h-6.1zM119.5,725.6h2.1v2.1h-2.1zM127.5,725.6h2.1v2.1h-2.1zM141.5,725.6h2.1v2.1h-2.1zM155.5,725.6h2.1v2.1h-2.1zM181.4,725.6h2.1v2.1h-2.1zM189.4,725.6h2.1v2.1h-2.1zM199.4,725.6h2.1v2.1h-2.1zM205.4,725.6h2.1v2.1h-2.1zM145.5,727.6h2.1v2.1h-2.1zM151.5,727.6h2.1v2.1h-2.1zM155.5,727.6h2.1v2.1h-2.1zM163.5,727.6h2.1v2.1h-2.1zM173.4,727.6h2.1v2.1h-2.1zM185.4,727.6h2.1v2.1h-2.1zM189.4,727.6h2.1v2.1h-2.1zM235.4,727.6h2.1v2.1h-2.1zM137.5,729.5h2.1v2.1h-2.1zM177.4,729.5h4.1v2.1h-4.1zM193.4,729.5h2.1v2.1h-2.1zM207.4,729.5h2.1v2.1h-2.1zM221.4,729.5h2.1v2.1h-2.1zM233.4,729.5h2.1v2.1h-2.1zM193.4,731.5h2.1v2.1h-2.1zM207.4,731.5h2.1v2.1h-2.1zM215.4,731.5h2.1v2.1h-2.1zM221.4,731.5h4.1v2.1h-4.1zM231.4,731.5h2.1v2.1h-2.1zM241.4,731.5h2.1v2.1h-2.1zM247.3,731.5h2.1v2.1h-2.1zM207.4,733.5h2.1v2.1h-2.1zM237.4,733.5h2.1v2.1h-2.1zM241.4,733.5h2.1v2.1h-2.1zM245.3,733.5h2.1v2.1h-2.1zM257.3,733.5h2.1v2.1h-2.1zM261.3,733.5h2.1v2.1h-2.1zM275.3,735.4h2.1v2.1h-2.1z"/><path fill="#fa9a0e" d="M105.5,713.8h4.1v2.1h-4.1zM107.5,715.7h2.1v2.1h-2.1zM111.5,715.7h2.1v2.1h-2.1zM109.5,717.7h2.1v2.1h-2.1zM113.5,717.7h2.1v2.1h-2.1zM115.5,719.7h2.1v2.1h-2.1zM123.5,719.7h6.1v2.1h-6.1zM117.5,721.6h2.1v2.1h-2.1zM131.5,721.6h2.1v2.1h-2.1zM123.5,723.6h2.1v2.1h-2.1zM131.5,723.6h2.1v2.1h-2.1zM111.5,725.6h2.1v2.1h-2.1zM139.5,725.6h2.1v2.1h-2.1zM145.5,725.6h2.1v2.1h-2.1zM149.5,725.6h4.1v2.1h-4.1zM125.5,727.6h2.1v2.1h-2.1zM149.5,727.6h2.1v2.1h-2.1zM161.5,727.6h2.1v2.1h-2.1zM195.4,727.6h2.1v2.1h-2.1zM141.5,729.5h4.1v2.1h-4.1zM151.5,729.5h4.1v2.1h-4.1zM167.5,729.5h2.1v2.1h-2.1zM171.4,729.5h2.1v2.1h-2.1zM175.4,729.5h2.1v2.1h-2.1zM185.4,729.5h2.1v2.1h-2.1zM197.4,729.5h4.1v2.1h-4.1zM153.5,731.5h2.1v2.1h-2.1zM173.4,731.5h4.1v2.1h-4.1zM183.4,731.5h2.1v2.1h-2.1zM187.4,731.5h2.1v2.1h-2.1zM191.4,731.5h2.1v2.1h-2.1zM197.4,731.5h8.1v2.1h-8.1zM211.4,731.5h2.1v2.1h-2.1zM217.4,731.5h2.1v2.1h-2.1zM239.4,731.5h2.1v2.1h-2.1zM173.4,733.5h2.1v2.1h-2.1zM201.4,733.5h2.1v2.1h-2.1zM205.4,733.5h2.1v2.1h-2.1zM219.4,733.5h2.1v2.1h-2.1zM223.4,733.5h4.1v2.1h-4.1zM231.4,733.5h2.1v2.1h-2.1zM239.4,733.5h2.1v2.1h-2.1zM255.3,733.5h2.1v2.1h-2.1zM267.3,733.5h4.1v2.1h-4.1zM279.3,733.5h4.1v2.1h-4.1zM249.3,735.4h2.1v2.1h-2.1z"/><path fill="#fca50a" d="M105.5,715.7h2.1v2.1h-2.1zM107.5,717.7h2.1v2.1h-2.1zM109.5,719.7h2.1v2.1h-2.1zM107.5,721.6h2.1v2.1h-2.1zM115.5,721.6h2.1v2.1h-2.1zM121.5,721.6h2.1v2.1h-2.1zM109.5,723.6h2.1v2.1h-2.1zM117.5,723.6h6.1v2.1h-6.1zM115.5,725.6h2.1v2.1h-2.1zM121.5,725.6h6.1v2.1h-6.1zM131.5,725.6h2.1v2.1h-2.1zM135.5,725.6h4.1v2.1h-4.1zM119.5,727.6h4.1v2.1h-4.1zM137.5,727.6h6.1v2.1h-6.1zM153.5,727.6h2.1v2.1h-2.1zM157.5,727.6h2.1v2.1h-2.1zM165.5,727.6h2.1v2.1h-2.1zM125.5,729.5h4.1v2.1h-4.1zM155.5,729.5h4.1v2.1h-4.1zM165.5,729.5h2.1v2.1h-2.1zM169.4,729.5h2.1v2.1h-2.1zM173.4,729.5h2.1v2.1h-2.1zM181.4,729.5h2.1v2.1h-2.1zM147.5,731.5h2.1v2.1h-2.1zM157.5,731.5h4.1v2.1h-4.1zM167.5,731.5h2.1v2.1h-2.1zM171.4,731.5h2.1v2.1h-2.1zM179.4,731.5h4.1v2.1h-4.1zM185.4,731.5h2.1v2.1h-2.1zM209.4,731.5h2.1v2.1h-2.1zM219.4,731.5h2.1v2.1h-2.1zM143.5,733.5h2.1v2.1h-2.1zM175.4,733.5h2.1v2.1h-2.1zM179.4,733.5h2.1v2.1h-2.1zM193.4,733.5h6.1v2.1h-6.1zM203.4,733.5h2.1v2.1h-2.1zM211.4,733.5h4.1v2.1h-4.1zM221.4,733.5h2.1v2.1h-2.1zM229.4,733.5h2.1v2.1h-2.1zM233.4,733.5h2.1v2.1h-2.1zM243.4,733.5h2.1v2.1h-2.1zM247.3,733.5h2.1v2.1h-2.1zM253.3,733.5h2.1v2.1h-2.1zM273.3,733.5h2.1v2.1h-2.1zM217.4,735.4h2.1v2.1h-2.1zM223.4,735.4h2.1v2.1h-2.1zM257.3,735.4h2.1v2.1h-2.1zM271.3,735.4h2.1v2.1h-2.1zM277.3,735.4h2.1v2.1h-2.1zM281.3,735.4h2.1v2.1h-2.1z"/><path fill="#fab119" d="M109.5,715.7h2.1v2.1h-2.1zM105.5,717.7h2.1v2.1h-2.1zM105.5,719.7h2.1v2.1h-2.1zM109.5,721.6h2.1v2.1h-2.1zM119.5,721.6h2.1v2.1h-2.1zM111.5,723.6h2.1v2.1h-2.1zM115.5,723.6h2.1v2.1h-2.1zM113.5,725.6h2.1v2.1h-2.1zM129.5,725.6h2.1v2.1h-2.1zM133.5,725.6h2.1v2.1h-2.1zM113.5,727.6h6.1v2.1h-6.1zM123.5,727.6h2.1v2.1h-2.1zM129.5,727.6h2.1v2.1h-2.1zM135.5,727.6h2.1v2.1h-2.1zM143.5,727.6h2.1v2.1h-2.1zM147.5,727.6h2.1v2.1h-2.1zM117.5,729.5h2.1v2.1h-2.1zM131.5,729.5h6.1v2.1h-6.1zM145.5,729.5h2.1v2.1h-2.1zM149.5,729.5h2.1v2.1h-2.1zM161.5,729.5h2.1v2.1h-2.1zM119.5,731.5h2.1v2.1h-2.1zM137.5,731.5h2.1v2.1h-2.1zM143.5,731.5h2.1v2.1h-2.1zM155.5,731.5h2.1v2.1h-2.1zM161.5,731.5h2.1v2.1h-2.1zM165.5,731.5h2.1v2.1h-2.1zM177.4,731.5h2.1v2.1h-2.1zM189.4,731.5h2.1v2.1h-2.1zM195.4,731.5h2.1v2.1h-2.1zM161.5,733.5h2.1v2.1h-2.1zM165.5,733.5h2.1v2.1h-2.1zM177.4,733.5h2.1v2.1h-2.1zM181.4,733.5h6.1v2.1h-6.1zM189.4,733.5h4.1v2.1h-4.1zM199.4,733.5h2.1v2.1h-2.1zM209.4,733.5h2.1v2.1h-2.1zM215.4,733.5h4.1v2.1h-4.1zM235.4,733.5h2.1v2.1h-2.1zM249.3,733.5h4.1v2.1h-4.1zM183.4,735.4h2.1v2.1h-2.1zM189.4,735.4h2.1v2.1h-2.1zM203.4,735.4h2.1v2.1h-2.1zM209.4,735.4h4.1v2.1h-4.1zM219.4,735.4h4.1v2.1h-4.1zM225.4,735.4h2.1v2.1h-2.1zM229.4,735.4h2.1v2.1h-2.1zM233.4,735.4h4.1v2.1h-4.1zM241.4,735.4h4.1v2.1h-4.1zM247.3,735.4h2.1v2.1h-2.1zM255.3,735.4h2.1v2.1h-2.1zM263.3,735.4h6.1v2.1h-6.1zM273.3,735.4h2.1v2.1h-2.1zM279.3,735.4h2.1v2.1h-2.1z"/><path fill="#f9be28" d="M107.5,719.7h2.1v2.1h-2.1zM113.5,719.7h2.1v2.1h-2.1zM105.5,723.6h2.1v2.1h-2.1zM113.5,723.6h2.1v2.1h-2.1zM105.5,725.6h4.1v2.1h-4.1zM117.5,725.6h2.1v2.1h-2.1zM107.5,727.6h2.1v2.1h-2.1zM111.5,727.6h2.1v2.1h-2.1zM131.5,727.6h2.1v2.1h-2.1zM119.5,729.5h6.1v2.1h-6.1zM139.5,729.5h2.1v2.1h-2.1zM147.5,729.5h2.1v2.1h-2.1zM113.5,731.5h2.1v2.1h-2.1zM117.5,731.5h2.1v2.1h-2.1zM123.5,731.5h2.1v2.1h-2.1zM131.5,731.5h2.1v2.1h-2.1zM135.5,731.5h2.1v2.1h-2.1zM141.5,731.5h2.1v2.1h-2.1zM145.5,731.5h2.1v2.1h-2.1zM149.5,731.5h2.1v2.1h-2.1zM163.5,731.5h2.1v2.1h-2.1zM169.4,731.5h2.1v2.1h-2.1zM125.5,733.5h2.1v2.1h-2.1zM141.5,733.5h2.1v2.1h-2.1zM147.5,733.5h4.1v2.1h-4.1zM155.5,733.5h6.1v2.1h-6.1zM167.5,733.5h2.1v2.1h-2.1zM141.5,735.4h2.1v2.1h-2.1zM147.5,735.4h2.1v2.1h-2.1zM165.5,735.4h2.1v2.1h-2.1zM169.4,735.4h2.1v2.1h-2.1zM175.4,735.4h2.1v2.1h-2.1zM179.4,735.4h2.1v2.1h-2.1zM185.4,735.4h2.1v2.1h-2.1zM205.4,735.4h2.1v2.1h-2.1zM215.4,735.4h2.1v2.1h-2.1zM227.4,735.4h2.1v2.1h-2.1zM231.4,735.4h2.1v2.1h-2.1zM237.4,735.4h4.1v2.1h-4.1zM245.3,735.4h2.1v2.1h-2.1zM251.3,735.4h4.1v2.1h-4.1zM259.3,735.4h4.1v2.1h-4.1zM269.3,735.4h2.1v2.1h-2.1z"/><path fill="#f8ca37" d="M105.5,721.6h2.1v2.1h-2.1zM109.5,725.6h2.1v2.1h-2.1zM127.5,727.6h2.1v2.1h-2.1zM133.5,727.6h2.1v2.1h-2.1zM109.5,729.5h2.1v2.1h-2.1zM115.5,729.5h2.1v2.1h-2.1zM129.5,729.5h2.1v2.1h-2.1zM107.5,731.5h2.1v2.1h-2.1zM115.5,731.5h2.1v2.1h-2.1zM127.5,731.5h2.1v2.1h-2.1zM133.5,731.5h2.1v2.1h-2.1zM139.5,731.5h2.1v2.1h-2.1zM151.5,731.5h2.1v2.1h-2.1zM117.5,733.5h2.1v2.1h-2.1zM121.5,733.5h4.1v2.1h-4.1zM131.5,733.5h2.1v2.1h-2.1zM137.5,733.5h2.1v2.1h-2.1zM151.5,733.5h4.1v2.1h-4.1zM163.5,733.5h2.1v2.1h-2.1zM169.4,733.5h4.1v2.1h-4.1zM187.4,733.5h2.1v2.1h-2.1zM133.5,735.4h2.1v2.1h-2.1zM137.5,735.4h2.1v2.1h-2.1zM143.5,735.4h2.1v2.1h-2.1zM181.4,735.4h2.1v2.1h-2.1zM187.4,735.4h2.1v2.1h-2.1zM191.4,735.4h2.1v2.1h-2.1zM199.4,735.4h4.1v2.1h-4.1zM213.4,735.4h2.1v2.1h-2.1z"/><path fill="#f6d746" d="M107.5,723.6h2.1v2.1h-2.1zM109.5,727.6h2.1v2.1h-2.1zM107.5,729.5h2.1v2.1h-2.1zM113.5,729.5h2.1v2.1h-2.1zM121.5,731.5h2.1v2.1h-2.1zM125.5,731.5h2.1v2.1h-2.1zM129.5,731.5h2.1v2.1h-2.1zM111.5,733.5h2.1v2.1h-2.1zM119.5,733.5h2.1v2.1h-2.1zM127.5,733.5h2.1v2.1h-2.1zM135.5,733.5h2.1v2.1h-2.1zM139.5,733.5h2.1v2.1h-2.1zM145.5,733.5h2.1v2.1h-2.1zM121.5,735.4h2.1v2.1h-2.1zM127.5,735.4h2.1v2.1h-2.1zM149.5,735.4h4.1v2.1h-4.1zM159.5,735.4h2.1v2.1h-2.1zM167.5,735.4h2.1v2.1h-2.1zM173.4,735.4h2.1v2.1h-2.1zM193.4,735.4h6.1v2.1h-6.1zM207.4,735.4h2.1v2.1h-2.1z"/><path fill="#f8e15e" d="M105.5,727.6h2.1v2.1h-2.1zM105.5,729.5h2.1v2.1h-2.1zM111.5,729.5h2.1v2.1h-2.1zM109.5,731.5h4.1v2.1h-4.1zM113.5,733.5h2.1v2.1h-2.1zM133.5,733.5h2.1v2.1h-2.1zM113.5,735.4h2.1v2.1h-2.1zM119.5,735.4h2.1v2.1h-2.1zM125.5,735.4h2.1v2.1h-2.1zM129.5,735.4h4.1v2.1h-4.1zM139.5,735.4h2.1v2.1h-2.1zM145.5,735.4h2.1v2.1h-2.1zM153.5,735.4h2.1v2.1h-2.1zM157.5,735.4h2.1v2.1h-2.1zM161.5,735.4h4.1v2.1h-4.1zM177.4,735.4h2.1v2.1h-2.1z"/><path fill="#f9eb75" d="M105.5,731.5h2.1v2.1h-2.1zM107.5,733.5h4.1v2.1h-4.1zM115.5,733.5h2.1v2.1h-2.1zM129.5,733.5h2.1v2.1h-2.1zM107.5,735.4h2.1v2.1h-2.1zM111.5,735.4h2.1v2.1h-2.1zM115.5,735.4h4.1v2.1h-4.1zM135.5,735.4h2.1v2.1h-2.1zM155.5,735.4h2.1v2.1h-2.1zM171.4,735.4h2.1v2.1h-2.1z"/><path fill="#faf58c" d="M105.5,733.5h2.1v2.1h-2.1zM123.5,735.4h2.1v2.1h-2.1z"/><path fill="#fcffa4" d="M105.5,735.4h2.1v2.1h-2.1zM109.5,735.4h2.1v2.1h-2.1z"/></g>
<rect x="51.6" y="680.3" width="231.7" height="57.1" fill="none" stroke="#222" stroke-width="0.7"/>
<rect x="51.6" y="595.3" width="231.7" height="78.0" fill="#fff" stroke="#222" stroke-width="0.8"/>
<path d="M51.6,632.5H283.3" stroke="#000" stroke-width="0.9"/>
<path d="M52.1,632.1V632.8M52.6,632.3V632.9M53.1,632.2V632.7M53.6,632.1V632.7M54.1,632.2V632.8M54.6,632.2V632.9M55.1,632.3V632.8M55.6,632.1V632.8M56.1,632.1V632.8M56.6,632.1V632.9M57.1,632.2V632.9M57.6,632.2V632.9M58.1,632.1V632.9M58.6,632.1V632.8M59.1,632.1V632.7M59.6,632.2V632.7M60.1,632.2V632.9M60.6,632.2V632.9M61.1,632.2V632.8M61.6,632.2V632.8M62.1,632.2V632.7M62.6,632.2V632.9M63.1,632.2V632.9M63.6,632.2V632.7M64.1,632.2V632.8M64.6,632.3V632.8M65.1,632.1V632.7M65.6,632.1V632.7M66.1,632.3V632.8M66.6,632.1V632.9M67.1,632.1V632.8M67.6,632.1V632.7M68.1,632.1V632.7M68.6,632.3V632.9M69.1,632.1V632.9M69.6,632.2V632.9M70.1,632.2V632.8M70.6,632.3V632.9M71.1,632.3V632.8M71.6,632.2V632.9M72.1,632.1V632.9M72.6,632.2V632.7M73.1,632.1V632.7M73.6,632.1V632.9M74.1,632.3V632.9M74.6,632.2V632.7M75.1,632.1V632.8M75.6,632.2V632.8M76.1,632.3V632.8M76.6,632.2V632.9M77.1,632.3V632.9M77.6,632.3V632.8M78.1,632.2V632.7M78.6,632.3V632.8M79.1,632.2V632.7M79.6,632.2V632.7M80.1,632.1V632.9M80.6,632.2V632.8M81.1,632.2V632.8M81.6,632.2V632.7M82.1,632.2V632.9M82.6,632.2V632.7M83.1,632.3V632.9M83.6,632.2V632.9M84.1,632.2V632.8M84.6,632.2V632.8M85.1,632.2V632.8M85.6,632.1V632.7M86.1,632.2V632.9M86.6,632.1V632.9M87.1,632.1V632.7M87.6,632.1V632.7M88.1,632.1V632.8M88.6,632.2V632.8M89.1,632.2V632.8M89.6,632.1V632.8M90.1,632.2V632.8M90.6,632.2V632.8M91.1,632.1V632.9M91.6,632.2V632.8M92.1,632.2V632.9M92.6,632.2V632.7M93.1,632.2V632.7M93.6,632.3V632.8M94.1,632.2V632.9M94.6,632.2V632.8M95.1,632.2V632.7M95.6,632.3V632.8M96.1,632.2V632.8M96.6,632.2V632.7M97.1,632.2V632.7M97.6,632.2V632.7M98.1,632.1V632.7M98.6,632.2V632.7M99.1,632.2V632.9M99.6,632.1V632.9M100.1,632.2V632.8M100.6,632.2V632.7M101.1,632.2V632.8M101.6,632.2V632.9M102.1,632.2V632.8M102.6,632.1V632.8M103.1,632.2V632.9M103.6,632.2V632.8M104.1,632.2V632.9M104.6,632.1V632.8M105.1,632.2V632.9M105.6,599.5V652.5M106.1,607.8V647.5M106.6,629.5V635.6M107.1,629.3V636.1M107.6,626.8V637.6M108.1,607.5V661.5M108.6,613.8V654.2M109.1,623.8V641.4M109.6,626.2V639.2M110.1,627.0V638.2M110.6,628.4V639.2M111.1,627.5V641.9M111.6,624.1V645.0M112.1,618.8V645.8M112.6,612.4V651.5M113.1,613.4V652.6M113.6,608.6V649.7M114.1,599.5V662.5M114.6,607.8V655.0M115.1,602.5V670.5M115.6,609.7V661.0M116.1,613.6V651.8M116.6,617.1V648.1M117.1,612.5V659.5M117.6,613.0V652.8M118.1,621.4V650.4M118.6,622.5V648.0M119.1,609.9V642.7M119.6,612.4V644.5M120.1,615.5V649.2M120.6,617.2V644.7M121.1,615.9V643.3M121.6,622.2V642.3M122.1,620.8V641.9M122.6,617.3V640.9M123.1,618.4V640.1M123.6,618.1V641.1M124.1,619.8V643.3M124.6,621.1V646.7M125.1,622.9V646.4M125.6,619.3V649.5M126.1,616.9V649.1M126.6,622.0V644.3M127.1,623.0V642.3M127.6,623.1V644.5M128.1,624.7V643.7M128.6,625.4V637.4M129.1,620.2V641.3M129.6,619.4V643.9M130.1,624.9V639.5M130.6,626.6V641.7M131.1,625.7V647.7M131.6,627.0V648.1M132.1,626.7V651.0M132.6,621.0V641.7M133.1,619.6V641.0M133.6,621.4V648.2M134.1,621.7V642.3M134.6,621.7V639.0M135.1,625.8V640.3M135.6,627.0V639.1M136.1,624.7V637.9M136.6,623.4V639.1M137.1,624.9V641.0M137.6,626.1V639.8M138.1,628.0V638.9M138.6,628.7V642.3M139.1,625.0V644.8M139.6,615.1V643.9M140.1,621.5V643.0M140.6,627.4V641.5M141.1,626.4V645.1M141.6,625.2V643.5M142.1,625.3V640.3M142.6,624.7V639.0M143.1,621.9V640.5M143.6,626.2V640.3M144.1,626.7V639.2M144.6,623.7V636.6M145.1,624.0V641.6M145.6,623.9V648.3M146.1,620.3V642.2M146.6,619.5V637.2M147.1,626.5V636.9M147.6,626.9V641.4M148.1,625.0V647.4M148.6,624.3V646.1M149.1,622.0V646.7M149.6,617.5V644.6M150.1,618.3V641.6M150.6,621.3V642.5M151.1,622.7V640.1M151.6,622.1V638.4M152.1,622.6V637.5M152.6,622.7V638.1M153.1,624.6V643.1M153.6,627.1V640.5M154.1,628.1V639.1M154.6,625.4V638.3M155.1,622.7V639.0M155.6,618.7V645.0M156.1,618.5V645.5M156.6,618.5V636.9M157.1,623.9V637.9M157.6,625.6V640.2M158.1,623.6V645.0M158.6,620.5V646.4M159.1,620.4V644.0M159.6,622.6V641.6M160.1,626.9V637.4M160.6,624.1V641.8M161.1,624.0V643.7M161.6,626.0V641.4M162.1,627.0V643.0M162.6,627.4V643.0M163.1,627.4V645.9M163.6,627.5V646.9M164.1,627.4V645.9M164.6,626.6V642.0M165.1,627.0V641.2M165.6,628.3V643.4M166.1,629.1V643.4M166.6,626.3V641.4M167.1,626.2V640.4M167.6,628.7V641.4M168.1,626.3V641.9M168.6,622.8V643.2M169.1,624.1V642.7M169.6,624.8V640.7M170.1,628.8V639.5M170.6,626.3V636.6M171.1,622.0V635.1M171.6,626.8V638.9M172.1,628.2V641.2M172.6,626.0V638.2M173.1,625.7V637.9M173.6,626.2V639.0M174.1,626.1V637.5M174.6,627.2V637.2M175.1,627.7V639.1M175.6,627.6V638.5M176.1,627.7V637.8M176.6,628.0V639.0M177.1,628.9V640.0M177.6,626.1V639.7M178.1,625.2V639.2M178.6,628.9V638.3M179.1,627.2V638.8M179.6,625.2V640.3M180.1,627.5V638.6M180.6,628.7V638.0M181.1,628.5V638.4M181.6,628.2V638.2M182.1,627.8V638.6M182.6,629.6V639.1M183.1,630.5V639.1M183.6,630.0V638.5M184.1,629.4V638.5M184.6,628.8V639.3M185.1,628.0V638.2M185.6,628.2V637.7M186.1,626.8V637.8M186.6,626.1V636.4M187.1,626.0V635.6M187.6,627.3V635.3M188.1,630.5V635.6M188.6,629.3V635.7M189.1,628.7V636.7M189.6,629.6V636.2M190.1,629.4V638.0M190.6,626.4V638.3M191.1,628.2V636.0M191.6,629.1V634.4M192.1,627.2V635.0M192.6,627.1V636.0M193.1,628.3V637.7M193.6,629.5V637.2M194.1,630.4V635.8M194.6,630.9V637.5M195.1,630.6V636.6M195.6,630.1V635.0M196.1,629.0V635.9M196.6,627.0V636.7M197.1,629.6V635.9M197.6,630.3V635.9M198.1,629.6V636.1M198.6,629.4V635.3M199.1,629.9V634.2M199.6,629.9V634.8M200.1,629.5V635.3M200.6,629.0V635.9M201.1,629.0V636.4M201.6,630.4V636.3M202.1,629.6V636.1M202.6,628.9V635.6M203.1,629.0V635.4M203.6,628.8V634.9M204.1,628.7V634.1M204.6,629.3V634.8M205.1,630.1V635.8M205.6,629.3V635.0M206.1,628.7V634.8M206.6,629.7V635.2M207.1,630.2V635.4M207.6,629.9V635.3M208.1,629.9V635.0M208.6,630.1V634.6M209.1,629.5V635.5M209.6,629.2V635.4M210.1,629.4V634.1M210.6,630.1V634.6M211.1,631.3V635.6M211.6,631.2V634.4M212.1,631.1V634.0M212.6,630.6V635.1M213.1,630.0V635.5M213.6,629.7V634.5M214.1,630.2V634.3M214.6,630.7V634.4M215.1,630.9V635.1M215.6,630.5V634.8M216.1,629.8V634.5M216.6,630.3V634.3M217.1,631.2V634.3M217.6,631.5V633.7M218.1,631.6V633.9M218.6,631.5V634.4M219.1,631.6V634.8M219.6,631.6V634.4M220.1,630.8V633.9M220.6,630.9V633.7M221.1,631.4V633.5M221.6,631.1V633.7M222.1,630.7V633.9M222.6,630.4V634.3M223.1,630.3V634.6M223.6,630.5V634.4M224.1,630.3V634.3M224.6,630.5V633.9M225.1,630.9V633.5M225.6,631.3V633.4M226.1,631.1V633.9M226.6,630.8V633.9M227.1,630.9V633.5M227.6,631.0V633.8M228.1,631.0V634.0M228.6,631.2V633.9M229.1,631.4V633.9M229.6,631.0V634.2M230.1,631.3V634.0M230.6,631.7V633.3M231.1,631.5V633.8M231.6,631.4V634.1M232.1,630.8V634.0M232.6,631.0V633.7M233.1,631.4V633.2M233.6,631.5V633.5M234.1,631.5V633.7M234.6,631.2V633.5M235.1,631.1V633.6M235.6,631.4V633.8M236.1,631.6V634.0M236.6,631.8V634.2M237.1,631.8V633.9M237.6,631.8V633.7M238.1,631.7V633.7M238.6,631.7V633.6M239.1,631.6V633.7M239.6,631.3V633.5M240.1,631.3V633.4M240.6,631.6V633.5M241.1,631.5V633.4M241.6,631.3V633.2M242.1,631.1V633.5M242.6,631.2V633.7M243.1,631.5V633.3M243.6,631.4V633.3M244.1,631.2V633.4M244.6,631.3V633.3M245.1,631.4V633.2M245.6,631.5V633.4M246.1,631.7V633.5M246.6,631.7V633.2M247.1,631.7V633.1M247.6,631.6V633.2M248.1,631.4V633.4M248.6,631.4V633.6M249.1,631.5V633.6M249.6,631.6V633.7M250.1,631.8V633.6M250.6,631.7V633.6M251.1,631.7V633.5M251.6,631.6V633.7M252.1,631.6V633.7M252.6,631.8V633.2M253.1,631.7V633.4M253.6,631.6V633.5M254.1,631.7V633.5M254.6,631.7V633.4M255.1,631.5V633.2M255.6,631.5V633.2M256.1,631.8V633.2M256.6,631.8V633.2M257.1,631.8V633.3M257.6,631.6V633.3M258.1,631.6V633.5M258.6,631.7V633.7M259.1,631.5V633.5M259.6,631.3V633.5M260.1,631.6V633.5M260.6,631.6V633.4M261.1,631.7V633.2M261.6,631.5V633.3M262.1,631.4V633.6M262.6,631.7V633.5M263.1,631.7V633.3M263.6,631.6V633.2M264.1,631.5V633.3M264.6,631.5V633.4M265.1,631.6V633.3M265.6,631.7V633.2M266.1,631.4V633.3M266.6,631.5V633.3M267.1,631.9V633.3M267.6,631.7V633.4M268.1,631.4V633.5M268.6,631.7V633.3M269.1,631.7V633.2M269.6,631.4V633.3M270.1,631.6V633.3M270.6,631.8V633.2M271.1,631.9V633.4M271.6,631.8V633.5M272.1,631.7V633.6M272.6,631.5V633.4M273.1,631.4V633.2M273.6,631.6V633.4M274.1,631.8V633.5M274.6,631.7V633.4M275.1,631.6V633.3M275.6,631.6V633.2M276.1,631.7V633.2M276.6,631.8V633.3M277.1,631.7V633.3M277.6,631.7V633.4M278.1,631.9V633.5M278.6,631.8V633.4M279.1,631.7V633.4M279.6,631.5V633.2M280.1,631.6V633.2M280.6,631.7V633.5M281.1,631.8V633.5M281.6,631.8V633.4M282.1,631.9V633.3M282.6,631.9V633.3" stroke="#000" stroke-width="0.8" fill="none"/>
<text x="64.5" y="749.6" font-size="8.5" text-anchor="middle">-80</text>
<text x="90.2" y="749.6" font-size="8.5" text-anchor="middle">-60</text>
<text x="116.0" y="749.6" font-size="8.5" text-anchor="middle">-40</text>
<text x="141.7" y="749.6" font-size="8.5" text-anchor="middle">-20</text>
<text x="167.5" y="749.6" font-size="8.5" text-anchor="middle">0</text>
<text x="193.2" y="749.6" font-size="8.5" text-anchor="middle">20</text>
<text x="218.9" y="749.6" font-size="8.5" text-anchor="middle">40</text>
<text x="244.7" y="749.6" font-size="8.5" text-anchor="middle">60</text>
<text x="270.4" y="749.6" font-size="8.5" text-anchor="middle">80</text>
<text x="46.0" y="611.4" font-size="8.3" text-anchor="end">1</text>
<text x="46.0" y="634.3" font-size="8.3" text-anchor="end">0</text>
<text x="46.0" y="657.0" font-size="8.3" text-anchor="end">-1</text>
<text x="46.0" y="739.2" font-size="8.3" text-anchor="end">0</text>
<text x="46.0" y="715.2" font-size="8.3" text-anchor="end">50</text>
<text x="46.0" y="691.2" font-size="8.3" text-anchor="end">100</text>
<path d="M64.5,673.3v2 M64.5,737.4v2.2 M90.2,673.3v2 M90.2,737.4v2.2 M116.0,673.3v2 M116.0,737.4v2.2 M141.7,673.3v2 M141.7,737.4v2.2 M167.5,673.3v2 M167.5,737.4v2.2 M193.2,673.3v2 M193.2,737.4v2.2 M218.9,673.3v2 M218.9,737.4v2.2 M244.7,673.3v2 M244.7,737.4v2.2 M270.4,673.3v2 M270.4,737.4v2.2 M51.6,609.6h-2.2 M51.6,632.5h-2.2 M51.6,655.2h-2.2 M51.6,737.4h-2.2 M51.6,713.4h-2.2 M51.6,689.4h-2.2" stroke="#222" stroke-width="0.6" fill="none"/>
<text x="169.5" y="760.1" font-size="8.9" text-anchor="middle">Time (s)</text>
<text x="33.3" y="596.6" font-size="8.8">1e8</text>
<text transform="translate(27.0,631.9) rotate(-90)" font-size="8.8" text-anchor="middle">Amplitude</text>
<text transform="translate(27.0,708.0) rotate(-90)" font-size="8.8" text-anchor="middle">Frequency (Hz)</text>
<text x="55.3" y="608.0" font-size="11.5">MAHY03</text>
<text x="101.3" y="581.6999999999999" font-size="9.3" text-anchor="middle">P</text>
<path d="M102.6,583.4L104.5,594.2" stroke="#222" stroke-width="0.6"/>
<path d="M105.1,597.7L103.0,594.4L106.0,593.9Z" fill="#111"/>
<text x="108.2" y="573.0" font-size="9.3" text-anchor="middle">S</text>
<path d="M108.2,574.8L108.2,607.4" stroke="#222" stroke-width="0.6"/>
<path d="M108.2,611.0L106.7,607.4L109.7,607.4Z" fill="#111"/>
<text x="113.3" y="583.6999999999999" font-size="9.3" text-anchor="middle">T</text>
<path d="M113.3,585.2L113.3,600.0" stroke="#222" stroke-width="0.6"/>
<path d="M113.3,603.6L111.8,600.0L114.8,600.0Z" fill="#111"/>
<g shape-rendering="crispEdges"><path fill="#8c246e" d="M358.1,680.3h2.1v2.1h-2.1zM469.8,680.3h2.1v2.1h-2.1zM479.7,680.3h2.1v2.1h-2.1zM429.9,682.3h2.1v2.1h-2.1zM360.1,684.2h2.1v2.1h-2.1zM441.9,684.2h2.1v2.1h-2.1zM525.6,688.2h2.1v2.1h-2.1zM507.6,696.1h2.1v2.1h-2.1z"/><path fill="#96286c" d="M346.2,680.3h2.1v2.1h-2.1zM449.8,680.3h2.1v2.1h-2.1zM465.8,680.3h2.1v2.1h-2.1zM483.7,680.3h4.1v2.1h-4.1zM495.7,680.3h2.1v2.1h-2.1zM445.8,682.3h2.1v2.1h-2.1zM463.8,682.3h2.1v2.1h-2.1zM485.7,682.3h2.1v2.1h-2.1zM519.6,682.3h2.1v2.1h-2.1zM535.5,682.3h2.1v2.1h-2.1zM320.3,684.2h2.1v2.1h-2.1zM332.2,684.2h2.1v2.1h-2.1zM354.2,684.2h2.1v2.1h-2.1zM404.0,684.2h2.1v2.1h-2.1zM425.9,684.2h2.1v2.1h-2.1zM435.9,684.2h2.1v2.1h-2.1zM449.8,684.2h6.1v2.1h-6.1zM497.7,684.2h4.1v2.1h-4.1zM342.2,686.2h6.1v2.1h-6.1zM352.2,686.2h2.1v2.1h-2.1zM423.9,686.2h2.1v2.1h-2.1zM441.9,686.2h2.1v2.1h-2.1zM465.8,686.2h2.1v2.1h-2.1zM501.6,686.2h2.1v2.1h-2.1zM531.5,686.2h2.1v2.1h-2.1zM537.5,686.2h2.1v2.1h-2.1zM316.3,688.2h2.1v2.1h-2.1zM322.3,688.2h2.1v2.1h-2.1zM330.2,688.2h2.1v2.1h-2.1zM413.9,688.2h2.1v2.1h-2.1zM465.8,688.2h2.1v2.1h-2.1zM485.7,688.2h2.1v2.1h-2.1zM511.6,688.2h2.1v2.1h-2.1zM322.3,690.1h2.1v2.1h-2.1zM352.2,690.1h2.1v2.1h-2.1zM431.9,690.1h2.1v2.1h-2.1zM457.8,690.1h2.1v2.1h-2.1zM473.7,690.1h2.1v2.1h-2.1zM346.2,692.1h2.1v2.1h-2.1zM447.8,692.1h2.1v2.1h-2.1zM473.7,692.1h2.1v2.1h-2.1zM481.7,692.1h4.1v2.1h-4.1zM493.7,692.1h2.1v2.1h-2.1zM507.6,692.1h2.1v2.1h-2.1zM527.6,692.1h2.1v2.1h-2.1zM535.5,692.1h2.1v2.1h-2.1zM342.2,694.1h2.1v2.1h-2.1zM354.2,694.1h2.1v2.1h-2.1zM453.8,694.1h2.1v2.1h-2.1zM477.7,694.1h2.1v2.1h-2.1zM485.7,694.1h2.1v2.1h-2.1zM515.6,694.1h2.1v2.1h-2.1zM529.5,694.1h2.1v2.1h-2.1zM318.3,698.0h2.1v2.1h-2.1zM324.3,698.0h2.1v2.1h-2.1zM340.2,698.0h2.1v2.1h-2.1zM356.1,702.0h2.1v2.1h-2.1zM529.5,703.9h2.1v2.1h-2.1z"/><path fill="#a02c68" d="M316.3,680.3h2.1v2.1h-2.1zM326.3,680.3h2.1v2.1h-2.1zM330.2,680.3h6.1v2.1h-6.1zM350.2,680.3h4.1v2.1h-4.1zM356.1,680.3h2.1v2.1h-2.1zM390.0,680.3h4.1v2.1h-4.1zM396.0,680.3h4.1v2.1h-4.1zM406.0,680.3h2.1v2.1h-2.1zM412.0,680.3h2.1v2.1h-2.1zM415.9,680.3h2.1v2.1h-2.1zM423.9,680.3h2.1v2.1h-2.1zM427.9,680.3h6.1v2.1h-6.1zM435.9,680.3h2.1v2.1h-2.1zM441.9,680.3h2.1v2.1h-2.1zM467.8,680.3h2.1v2.1h-2.1zM477.7,680.3h2.1v2.1h-2.1zM487.7,680.3h2.1v2.1h-2.1zM491.7,680.3h2.1v2.1h-2.1zM509.6,680.3h2.1v2.1h-2.1zM527.6,680.3h4.1v2.1h-4.1zM314.3,682.3h2.1v2.1h-2.1zM334.2,682.3h2.1v2.1h-2.1zM354.2,682.3h2.1v2.1h-2.1zM394.0,682.3h2.1v2.1h-2.1zM406.0,682.3h2.1v2.1h-2.1zM410.0,682.3h2.1v2.1h-2.1zM413.9,682.3h2.1v2.1h-2.1zM417.9,682.3h2.1v2.1h-2.1zM423.9,682.3h4.1v2.1h-4.1zM441.9,682.3h2.1v2.1h-2.1zM449.8,682.3h2.1v2.1h-2.1zM453.8,682.3h6.1v2.1h-6.1zM461.8,682.3h2.1v2.1h-2.1zM471.7,682.3h4.1v2.1h-4.1zM477.7,682.3h2.1v2.1h-2.1zM493.7,682.3h6.1v2.1h-6.1zM501.6,682.3h2.1v2.1h-2.1zM517.6,682.3h2.1v2.1h-2.1zM525.6,682.3h2.1v2.1h-2.1zM529.5,682.3h4.1v2.1h-4.1zM316.3,684.2h2.1v2.1h-2.1zM322.3,684.2h2.1v2.1h-2.1zM328.2,684.2h2.1v2.1h-2.1zM336.2,684.2h2.1v2.1h-2.1zM344.2,684.2h2.1v2.1h-2.1zM352.2,684.2h2.1v2.1h-2.1zM356.1,684.2h2.1v2.1h-2.1zM412.0,684.2h2.1v2.1h-2.1zM421.9,684.2h2.1v2.1h-2.1zM431.9,684.2h4.1v2.1h-4.1zM437.9,684.2h2.1v2.1h-2.1zM447.8,684.2h2.1v2.1h-2.1zM455.8,684.2h2.1v2.1h-2.1zM459.8,684.2h2.1v2.1h-2.1zM465.8,684.2h2.1v2.1h-2.1zM471.7,684.2h2.1v2.1h-2.1zM479.7,684.2h2.1v2.1h-2.1zM485.7,684.2h2.1v2.1h-2.1zM495.7,684.2h2.1v2.1h-2.1zM503.6,684.2h4.1v2.1h-4.1zM515.6,684.2h4.1v2.1h-4.1zM529.5,684.2h2.1v2.1h-2.1zM535.5,684.2h2.1v2.1h-2.1zM312.3,686.2h4.1v2.1h-4.1zM320.3,686.2h2.1v2.1h-2.1zM336.2,686.2h2.1v2.1h-2.1zM340.2,686.2h2.1v2.1h-2.1zM350.2,686.2h2.1v2.1h-2.1zM354.2,686.2h2.1v2.1h-2.1zM358.1,686.2h4.1v2.1h-4.1zM402.0,686.2h2.1v2.1h-2.1zM408.0,686.2h2.1v2.1h-2.1zM421.9,686.2h2.1v2.1h-2.1zM429.9,686.2h2.1v2.1h-2.1zM437.9,686.2h4.1v2.1h-4.1zM447.8,686.2h4.1v2.1h-4.1zM453.8,686.2h4.1v2.1h-4.1zM459.8,686.2h4.1v2.1h-4.1zM469.8,686.2h10.1v2.1h-10.1zM487.7,686.2h2.1v2.1h-2.1zM491.7,686.2h4.1v2.1h-4.1zM505.6,686.2h2.1v2.1h-2.1zM517.6,686.2h2.1v2.1h-2.1zM527.6,686.2h2.1v2.1h-2.1zM332.2,688.2h2.1v2.1h-2.1zM346.2,688.2h8.1v2.1h-8.1zM412.0,688.2h2.1v2.1h-2.1zM435.9,688.2h2.1v2.1h-2.1zM439.9,688.2h4.1v2.1h-4.1zM461.8,688.2h4.1v2.1h-4.1zM475.7,688.2h2.1v2.1h-2.1zM479.7,688.2h2.1v2.1h-2.1zM495.7,688.2h2.1v2.1h-2.1zM499.7,688.2h6.1v2.1h-6.1zM531.5,688.2h2.1v2.1h-2.1zM539.5,688.2h2.1v2.1h-2.1zM312.3,690.1h2.1v2.1h-2.1zM334.2,690.1h2.1v2.1h-2.1zM344.2,690.1h4.1v2.1h-4.1zM423.9,690.1h4.1v2.1h-4.1zM481.7,690.1h2.1v2.1h-2.1zM491.7,690.1h2.1v2.1h-2.1zM499.7,690.1h6.1v2.1h-6.1zM539.5,690.1h2.1v2.1h-2.1zM318.3,692.1h4.1v2.1h-4.1zM328.2,692.1h2.1v2.1h-2.1zM332.2,692.1h2.1v2.1h-2.1zM348.2,692.1h2.1v2.1h-2.1zM429.9,692.1h2.1v2.1h-2.1zM435.9,692.1h2.1v2.1h-2.1zM445.8,692.1h2.1v2.1h-2.1zM451.8,692.1h2.1v2.1h-2.1zM479.7,692.1h2.1v2.1h-2.1zM497.7,692.1h4.1v2.1h-4.1zM505.6,692.1h2.1v2.1h-2.1zM509.6,692.1h2.1v2.1h-2.1zM519.6,692.1h4.1v2.1h-4.1zM318.3,694.1h2.1v2.1h-2.1zM332.2,694.1h2.1v2.1h-2.1zM358.1,694.1h2.1v2.1h-2.1zM431.9,694.1h2.1v2.1h-2.1zM469.8,694.1h2.1v2.1h-2.1zM473.7,694.1h2.1v2.1h-2.1zM481.7,694.1h2.1v2.1h-2.1zM497.7,694.1h2.1v2.1h-2.1zM535.5,694.1h2.1v2.1h-2.1zM541.5,694.1h2.1v2.1h-2.1zM334.2,696.1h2.1v2.1h-2.1zM348.2,696.1h2.1v2.1h-2.1zM485.7,696.1h2.1v2.1h-2.1zM493.7,696.1h2.1v2.1h-2.1zM513.6,696.1h2.1v2.1h-2.1zM519.6,696.1h2.1v2.1h-2.1zM531.5,696.1h2.1v2.1h-2.1zM338.2,698.0h2.1v2.1h-2.1zM346.2,698.0h2.1v2.1h-2.1zM354.2,698.0h2.1v2.1h-2.1zM473.7,698.0h2.1v2.1h-2.1zM477.7,698.0h2.1v2.1h-2.1zM519.6,698.0h2.1v2.1h-2.1zM535.5,698.0h2.1v2.1h-2.1zM318.3,700.0h4.1v2.1h-4.1zM328.2,700.0h2.1v2.1h-2.1zM451.8,700.0h2.1v2.1h-2.1zM459.8,700.0h2.1v2.1h-2.1zM483.7,700.0h2.1v2.1h-2.1zM505.6,700.0h2.1v2.1h-2.1zM541.5,700.0h2.1v2.1h-2.1zM324.3,702.0h2.1v2.1h-2.1zM336.2,702.0h2.1v2.1h-2.1zM348.2,702.0h2.1v2.1h-2.1zM360.1,702.0h2.1v2.1h-2.1zM467.8,702.0h2.1v2.1h-2.1zM489.7,702.0h2.1v2.1h-2.1zM495.7,702.0h2.1v2.1h-2.1zM340.2,703.9h2.1v2.1h-2.1zM352.2,703.9h2.1v2.1h-2.1zM461.8,703.9h2.1v2.1h-2.1zM465.8,703.9h2.1v2.1h-2.1zM487.7,703.9h2.1v2.1h-2.1zM503.6,705.9h2.1v2.1h-2.1zM497.7,707.9h2.1v2.1h-2.1zM515.6,707.9h2.1v2.1h-2.1z"/><path fill="#a93063" d="M312.3,680.3h4.1v2.1h-4.1zM318.3,680.3h2.1v2.1h-2.1zM322.3,680.3h2.1v2.1h-2.1zM328.2,680.3h2.1v2.1h-2.1zM336.2,680.3h6.1v2.1h-6.1zM348.2,680.3h2.1v2.1h-2.1zM360.1,680.3h2.1v2.1h-2.1zM386.0,680.3h2.1v2.1h-2.1zM394.0,680.3h2.1v2.1h-2.1zM400.0,680.3h6.1v2.1h-6.1zM410.0,680.3h2.1v2.1h-2.1zM417.9,680.3h6.1v2.1h-6.1zM425.9,680.3h2.1v2.1h-2.1zM439.9,680.3h2.1v2.1h-2.1zM443.8,680.3h6.1v2.1h-6.1zM451.8,680.3h2.1v2.1h-2.1zM455.8,680.3h2.1v2.1h-2.1zM461.8,680.3h2.1v2.1h-2.1zM473.7,680.3h2.1v2.1h-2.1zM489.7,680.3h2.1v2.1h-2.1zM493.7,680.3h2.1v2.1h-2.1zM499.7,680.3h10.1v2.1h-10.1zM511.6,680.3h4.1v2.1h-4.1zM517.6,680.3h10.1v2.1h-10.1zM533.5,680.3h4.1v2.1h-4.1zM312.3,682.3h2.1v2.1h-2.1zM318.3,682.3h4.1v2.1h-4.1zM326.3,682.3h4.1v2.1h-4.1zM332.2,682.3h2.1v2.1h-2.1zM338.2,682.3h4.1v2.1h-4.1zM344.2,682.3h2.1v2.1h-2.1zM348.2,682.3h4.1v2.1h-4.1zM358.1,682.3h2.1v2.1h-2.1zM386.0,682.3h2.1v2.1h-2.1zM390.0,682.3h4.1v2.1h-4.1zM396.0,682.3h2.1v2.1h-2.1zM402.0,682.3h2.1v2.1h-2.1zM408.0,682.3h2.1v2.1h-2.1zM412.0,682.3h2.1v2.1h-2.1zM419.9,682.3h4.1v2.1h-4.1zM427.9,682.3h2.1v2.1h-2.1zM431.9,682.3h10.1v2.1h-10.1zM443.8,682.3h2.1v2.1h-2.1zM451.8,682.3h2.1v2.1h-2.1zM465.8,682.3h6.1v2.1h-6.1zM479.7,682.3h2.1v2.1h-2.1zM483.7,682.3h2.1v2.1h-2.1zM489.7,682.3h4.1v2.1h-4.1zM499.7,682.3h2.1v2.1h-2.1zM503.6,682.3h2.1v2.1h-2.1zM507.6,682.3h4.1v2.1h-4.1zM523.6,682.3h2.1v2.1h-2.1zM527.6,682.3h2.1v2.1h-2.1zM312.3,684.2h4.1v2.1h-4.1zM318.3,684.2h2.1v2.1h-2.1zM324.3,684.2h4.1v2.1h-4.1zM334.2,684.2h2.1v2.1h-2.1zM338.2,684.2h4.1v2.1h-4.1zM350.2,684.2h2.1v2.1h-2.1zM396.0,684.2h8.1v2.1h-8.1zM415.9,684.2h4.1v2.1h-4.1zM429.9,684.2h2.1v2.1h-2.1zM439.9,684.2h2.1v2.1h-2.1zM467.8,684.2h2.1v2.1h-2.1zM477.7,684.2h2.1v2.1h-2.1zM483.7,684.2h2.1v2.1h-2.1zM487.7,684.2h6.1v2.1h-6.1zM513.6,684.2h2.1v2.1h-2.1zM521.6,684.2h4.1v2.1h-4.1zM531.5,684.2h2.1v2.1h-2.1zM318.3,686.2h2.1v2.1h-2.1zM322.3,686.2h8.1v2.1h-8.1zM356.1,686.2h2.1v2.1h-2.1zM417.9,686.2h2.1v2.1h-2.1zM443.8,686.2h4.1v2.1h-4.1zM481.7,686.2h2.1v2.1h-2.1zM489.7,686.2h2.1v2.1h-2.1zM495.7,686.2h6.1v2.1h-6.1zM503.6,686.2h2.1v2.1h-2.1zM509.6,686.2h6.1v2.1h-6.1zM519.6,686.2h8.1v2.1h-8.1zM529.5,686.2h2.1v2.1h-2.1zM535.5,686.2h2.1v2.1h-2.1zM539.5,686.2h2.1v2.1h-2.1zM312.3,688.2h4.1v2.1h-4.1zM320.3,688.2h2.1v2.1h-2.1zM324.3,688.2h2.1v2.1h-2.1zM334.2,688.2h2.1v2.1h-2.1zM338.2,688.2h2.1v2.1h-2.1zM342.2,688.2h4.1v2.1h-4.1zM356.1,688.2h2.1v2.1h-2.1zM425.9,688.2h4.1v2.1h-4.1zM433.9,688.2h2.1v2.1h-2.1zM445.8,688.2h2.1v2.1h-2.1zM453.8,688.2h6.1v2.1h-6.1zM477.7,688.2h2.1v2.1h-2.1zM489.7,688.2h4.1v2.1h-4.1zM497.7,688.2h2.1v2.1h-2.1zM509.6,688.2h2.1v2.1h-2.1zM515.6,688.2h4.1v2.1h-4.1zM523.6,688.2h2.1v2.1h-2.1zM527.6,688.2h4.1v2.1h-4.1zM535.5,688.2h4.1v2.1h-4.1zM316.3,690.1h4.1v2.1h-4.1zM324.3,690.1h6.1v2.1h-6.1zM338.2,690.1h2.1v2.1h-2.1zM348.2,690.1h4.1v2.1h-4.1zM356.1,690.1h4.1v2.1h-4.1zM410.0,690.1h2.1v2.1h-2.1zM417.9,690.1h2.1v2.1h-2.1zM421.9,690.1h2.1v2.1h-2.1zM427.9,690.1h2.1v2.1h-2.1zM439.9,690.1h2.1v2.1h-2.1zM445.8,690.1h4.1v2.1h-4.1zM453.8,690.1h2.1v2.1h-2.1zM469.8,690.1h2.1v2.1h-2.1zM477.7,690.1h2.1v2.1h-2.1zM483.7,690.1h4.1v2.1h-4.1zM489.7,690.1h2.1v2.1h-2.1zM493.7,690.1h2.1v2.1h-2.1zM505.6,690.1h10.1v2.1h-10.1zM519.6,690.1h2.1v2.1h-2.1zM523.6,690.1h2.1v2.1h-2.1zM541.5,690.1h2.1v2.1h-2.1zM312.3,692.1h2.1v2.1h-2.1zM316.3,692.1h2.1v2.1h-2.1zM322.3,692.1h6.1v2.1h-6.1zM330.2,692.1h2.1v2.1h-2.1zM334.2,692.1h6.1v2.1h-6.1zM342.2,692.1h4.1v2.1h-4.1zM352.2,692.1h2.1v2.1h-2.1zM356.1,692.1h2.1v2.1h-2.1zM408.0,692.1h2.1v2.1h-2.1zM427.9,692.1h2.1v2.1h-2.1zM433.9,692.1h2.1v2.1h-2.1zM441.9,692.1h4.1v2.1h-4.1zM449.8,692.1h2.1v2.1h-2.1zM455.8,692.1h2.1v2.1h-2.1zM459.8,692.1h2.1v2.1h-2.1zM465.8,692.1h2.1v2.1h-2.1zM471.7,692.1h2.1v2.1h-2.1zM477.7,692.1h2.1v2.1h-2.1zM511.6,692.1h2.1v2.1h-2.1zM523.6,692.1h2.1v2.1h-2.1zM531.5,692.1h2.1v2.1h-2.1zM320.3,694.1h4.1v2.1h-4.1zM328.2,694.1h2.1v2.1h-2.1zM334.2,694.1h2.1v2.1h-2.1zM338.2,694.1h2.1v2.1h-2.1zM346.2,694.1h4.1v2.1h-4.1zM360.1,694.1h2.1v2.1h-2.1zM427.9,694.1h2.1v2.1h-2.1zM433.9,694.1h2.1v2.1h-2.1zM437.9,694.1h8.1v2.1h-8.1zM449.8,694.1h4.1v2.1h-4.1zM455.8,694.1h2.1v2.1h-2.1zM459.8,694.1h2.1v2.1h-2.1zM463.8,694.1h2.1v2.1h-2.1zM475.7,694.1h2.1v2.1h-2.1zM479.7,694.1h2.1v2.1h-2.1zM501.6,694.1h10.1v2.1h-10.1zM513.6,694.1h2.1v2.1h-2.1zM517.6,694.1h4.1v2.1h-4.1zM525.6,694.1h2.1v2.1h-2.1zM533.5,694.1h2.1v2.1h-2.1zM539.5,694.1h2.1v2.1h-2.1zM316.3,696.1h6.1v2.1h-6.1zM324.3,696.1h2.1v2.1h-2.1zM328.2,696.1h4.1v2.1h-4.1zM340.2,696.1h4.1v2.1h-4.1zM358.1,696.1h4.1v2.1h-4.1zM431.9,696.1h4.1v2.1h-4.1zM447.8,696.1h4.1v2.1h-4.1zM455.8,696.1h6.1v2.1h-6.1zM465.8,696.1h6.1v2.1h-6.1zM473.7,696.1h2.1v2.1h-2.1zM477.7,696.1h4.1v2.1h-4.1zM491.7,696.1h2.1v2.1h-2.1zM495.7,696.1h2.1v2.1h-2.1zM499.7,696.1h2.1v2.1h-2.1zM503.6,696.1h2.1v2.1h-2.1zM517.6,696.1h2.1v2.1h-2.1zM533.5,696.1h2.1v2.1h-2.1zM541.5,696.1h2.1v2.1h-2.1zM312.3,698.0h4.1v2.1h-4.1zM342.2,698.0h2.1v2.1h-2.1zM348.2,698.0h4.1v2.1h-4.1zM358.1,698.0h2.1v2.1h-2.1zM429.9,698.0h2.1v2.1h-2.1zM443.8,698.0h2.1v2.1h-2.1zM447.8,698.0h2.1v2.1h-2.1zM451.8,698.0h4.1v2.1h-4.1zM459.8,698.0h2.1v2.1h-2.1zM463.8,698.0h8.1v2.1h-8.1zM481.7,698.0h2.1v2.1h-2.1zM495.7,698.0h6.1v2.1h-6.1zM507.6,698.0h2.1v2.1h-2.1zM515.6,698.0h2.1v2.1h-2.1zM521.6,698.0h4.1v2.1h-4.1zM527.6,698.0h4.1v2.1h-4.1zM312.3,700.0h2.1v2.1h-2.1zM322.3,700.0h2.1v2.1h-2.1zM350.2,700.0h2.1v2.1h-2.1zM354.2,700.0h2.1v2.1h-2.1zM360.1,700.0h2.1v2.1h-2.1zM447.8,700.0h2.1v2.1h-2.1zM453.8,700.0h4.1v2.1h-4.1zM463.8,700.0h6.1v2.1h-6.1zM471.7,700.0h2.1v2.1h-2.1zM475.7,700.0h2.1v2.1h-2.1zM489.7,700.0h2.1v2.1h-2.1zM495.7,700.0h2.1v2.1h-2.1zM503.6,700.0h2.1v2.1h-2.1zM519.6,700.0h2.1v2.1h-2.1zM525.6,700.0h2.1v2.1h-2.1zM537.5,700.0h2.1v2.1h-2.1zM316.3,702.0h2.1v2.1h-2.1zM332.2,702.0h4.1v2.1h-4.1zM451.8,702.0h2.1v2.1h-2.1zM465.8,702.0h2.1v2.1h-2.1zM469.8,702.0h2.1v2.1h-2.1zM475.7,702.0h4.1v2.1h-4.1zM487.7,702.0h2.1v2.1h-2.1zM491.7,702.0h2.1v2.1h-2.1zM501.6,702.0h2.1v2.1h-2.1zM505.6,702.0h2.1v2.1h-2.1zM513.6,702.0h2.1v2.1h-2.1zM519.6,702.0h2.1v2.1h-2.1zM523.6,702.0h2.1v2.1h-2.1zM537.5,702.0h2.1v2.1h-2.1zM312.3,703.9h4.1v2.1h-4.1zM346.2,703.9h4.1v2.1h-4.1zM354.2,703.9h2.1v2.1h-2.1zM455.8,703.9h2.1v2.1h-2.1zM469.8,703.9h4.1v2.1h-4.1zM477.7,703.9h2.1v2.1h-2.1zM481.7,703.9h4.1v2.1h-4.1zM491.7,703.9h4.1v2.1h-4.1zM499.7,703.9h2.1v2.1h-2.1zM507.6,703.9h2.1v2.1h-2.1zM513.6,703.9h2.1v2.1h-2.1zM517.6,703.9h4.1v2.1h-4.1zM531.5,703.9h2.1v2.1h-2.1zM541.5,703.9h2.1v2.1h-2.1zM326.3,705.9h4.1v2.1h-4.1zM344.2,705.9h2.1v2.1h-2.1zM465.8,705.9h2.1v2.1h-2.1zM473.7,705.9h2.1v2.1h-2.1zM487.7,705.9h2.1v2.1h-2.1zM513.6,705.9h4.1v2.1h-4.1zM523.6,705.9h2.1v2.1h-2.1zM535.5,705.9h2.1v2.1h-2.1zM312.3,707.9h2.1v2.1h-2.1zM346.2,707.9h4.1v2.1h-4.1zM483.7,707.9h2.1v2.1h-2.1zM523.6,707.9h2.1v2.1h-2.1zM527.6,707.9h2.1v2.1h-2.1zM338.2,709.8h2.1v2.1h-2.1zM507.6,709.8h2.1v2.1h-2.1zM515.6,709.8h2.1v2.1h-2.1zM527.6,709.8h2.1v2.1h-2.1zM539.5,709.8h4.1v2.1h-4.1zM316.3,711.8h2.1v2.1h-2.1zM324.3,711.8h2.1v2.1h-2.1zM332.2,711.8h2.1v2.1h-2.1zM515.6,711.8h2.1v2.1h-2.1zM525.6,711.8h2.1v2.1h-2.1zM348.2,713.8h2.1v2.1h-2.1zM358.1,713.8h2.1v2.1h-2.1zM322.3,715.7h2.1v2.1h-2.1zM320.3,717.7h2.1v2.1h-2.1z"/><path fill="#b2335e" d="M320.3,680.3h2.1v2.1h-2.1zM324.3,680.3h2.1v2.1h-2.1zM344.2,680.3h2.1v2.1h-2.1zM354.2,680.3h2.1v2.1h-2.1zM378.1,680.3h6.1v2.1h-6.1zM408.0,680.3h2.1v2.1h-2.1zM413.9,680.3h2.1v2.1h-2.1zM433.9,680.3h2.1v2.1h-2.1zM437.9,680.3h2.1v2.1h-2.1zM453.8,680.3h2.1v2.1h-2.1zM457.8,680.3h4.1v2.1h-4.1zM471.7,680.3h2.1v2.1h-2.1zM481.7,680.3h2.1v2.1h-2.1zM515.6,680.3h2.1v2.1h-2.1zM531.5,680.3h2.1v2.1h-2.1zM539.5,680.3h4.1v2.1h-4.1zM316.3,682.3h2.1v2.1h-2.1zM322.3,682.3h4.1v2.1h-4.1zM336.2,682.3h2.1v2.1h-2.1zM342.2,682.3h2.1v2.1h-2.1zM352.2,682.3h2.1v2.1h-2.1zM356.1,682.3h2.1v2.1h-2.1zM360.1,682.3h4.1v2.1h-4.1zM378.1,682.3h4.1v2.1h-4.1zM400.0,682.3h2.1v2.1h-2.1zM415.9,682.3h2.1v2.1h-2.1zM447.8,682.3h2.1v2.1h-2.1zM459.8,682.3h2.1v2.1h-2.1zM475.7,682.3h2.1v2.1h-2.1zM481.7,682.3h2.1v2.1h-2.1zM505.6,682.3h2.1v2.1h-2.1zM511.6,682.3h6.1v2.1h-6.1zM521.6,682.3h2.1v2.1h-2.1zM537.5,682.3h4.1v2.1h-4.1zM330.2,684.2h2.1v2.1h-2.1zM346.2,684.2h4.1v2.1h-4.1zM390.0,684.2h2.1v2.1h-2.1zM394.0,684.2h2.1v2.1h-2.1zM408.0,684.2h4.1v2.1h-4.1zM413.9,684.2h2.1v2.1h-2.1zM423.9,684.2h2.1v2.1h-2.1zM427.9,684.2h2.1v2.1h-2.1zM443.8,684.2h4.1v2.1h-4.1zM461.8,684.2h4.1v2.1h-4.1zM469.8,684.2h2.1v2.1h-2.1zM473.7,684.2h2.1v2.1h-2.1zM481.7,684.2h2.1v2.1h-2.1zM493.7,684.2h2.1v2.1h-2.1zM509.6,684.2h2.1v2.1h-2.1zM519.6,684.2h2.1v2.1h-2.1zM527.6,684.2h2.1v2.1h-2.1zM533.5,684.2h2.1v2.1h-2.1zM539.5,684.2h2.1v2.1h-2.1zM316.3,686.2h2.1v2.1h-2.1zM330.2,686.2h2.1v2.1h-2.1zM334.2,686.2h2.1v2.1h-2.1zM348.2,686.2h2.1v2.1h-2.1zM404.0,686.2h2.1v2.1h-2.1zM410.0,686.2h4.1v2.1h-4.1zM425.9,686.2h4.1v2.1h-4.1zM431.9,686.2h6.1v2.1h-6.1zM451.8,686.2h2.1v2.1h-2.1zM463.8,686.2h2.1v2.1h-2.1zM479.7,686.2h2.1v2.1h-2.1zM485.7,686.2h2.1v2.1h-2.1zM515.6,686.2h2.1v2.1h-2.1zM541.5,686.2h2.1v2.1h-2.1zM328.2,688.2h2.1v2.1h-2.1zM340.2,688.2h2.1v2.1h-2.1zM358.1,688.2h4.1v2.1h-4.1zM386.0,688.2h2.1v2.1h-2.1zM408.0,688.2h2.1v2.1h-2.1zM417.9,688.2h4.1v2.1h-4.1zM429.9,688.2h4.1v2.1h-4.1zM443.8,688.2h2.1v2.1h-2.1zM447.8,688.2h2.1v2.1h-2.1zM467.8,688.2h8.1v2.1h-8.1zM483.7,688.2h2.1v2.1h-2.1zM487.7,688.2h2.1v2.1h-2.1zM493.7,688.2h2.1v2.1h-2.1zM505.6,688.2h4.1v2.1h-4.1zM519.6,688.2h2.1v2.1h-2.1zM541.5,688.2h2.1v2.1h-2.1zM314.3,690.1h2.1v2.1h-2.1zM320.3,690.1h2.1v2.1h-2.1zM332.2,690.1h2.1v2.1h-2.1zM340.2,690.1h2.1v2.1h-2.1zM354.2,690.1h2.1v2.1h-2.1zM360.1,690.1h2.1v2.1h-2.1zM402.0,690.1h2.1v2.1h-2.1zM408.0,690.1h2.1v2.1h-2.1zM415.9,690.1h2.1v2.1h-2.1zM429.9,690.1h2.1v2.1h-2.1zM433.9,690.1h6.1v2.1h-6.1zM449.8,690.1h2.1v2.1h-2.1zM459.8,690.1h10.1v2.1h-10.1zM475.7,690.1h2.1v2.1h-2.1zM487.7,690.1h2.1v2.1h-2.1zM497.7,690.1h2.1v2.1h-2.1zM517.6,690.1h2.1v2.1h-2.1zM521.6,690.1h2.1v2.1h-2.1zM527.6,690.1h4.1v2.1h-4.1zM533.5,690.1h4.1v2.1h-4.1zM314.3,692.1h2.1v2.1h-2.1zM350.2,692.1h2.1v2.1h-2.1zM354.2,692.1h2.1v2.1h-2.1zM358.1,692.1h4.1v2.1h-4.1zM417.9,692.1h6.1v2.1h-6.1zM425.9,692.1h2.1v2.1h-2.1zM431.9,692.1h2.1v2.1h-2.1zM439.9,692.1h2.1v2.1h-2.1zM453.8,692.1h2.1v2.1h-2.1zM457.8,692.1h2.1v2.1h-2.1zM461.8,692.1h4.1v2.1h-4.1zM467.8,692.1h4.1v2.1h-4.1zM475.7,692.1h2.1v2.1h-2.1zM495.7,692.1h2.1v2.1h-2.1zM501.6,692.1h4.1v2.1h-4.1zM513.6,692.1h2.1v2.1h-2.1zM517.6,692.1h2.1v2.1h-2.1zM525.6,692.1h2.1v2.1h-2.1zM529.5,692.1h2.1v2.1h-2.1zM533.5,692.1h2.1v2.1h-2.1zM537.5,692.1h2.1v2.1h-2.1zM314.3,694.1h4.1v2.1h-4.1zM324.3,694.1h4.1v2.1h-4.1zM340.2,694.1h2.1v2.1h-2.1zM352.2,694.1h2.1v2.1h-2.1zM421.9,694.1h2.1v2.1h-2.1zM425.9,694.1h2.1v2.1h-2.1zM435.9,694.1h2.1v2.1h-2.1zM445.8,694.1h4.1v2.1h-4.1zM457.8,694.1h2.1v2.1h-2.1zM465.8,694.1h4.1v2.1h-4.1zM483.7,694.1h2.1v2.1h-2.1zM487.7,694.1h6.1v2.1h-6.1zM495.7,694.1h2.1v2.1h-2.1zM499.7,694.1h2.1v2.1h-2.1zM523.6,694.1h2.1v2.1h-2.1zM527.6,694.1h2.1v2.1h-2.1zM537.5,694.1h2.1v2.1h-2.1zM312.3,696.1h2.1v2.1h-2.1zM322.3,696.1h2.1v2.1h-2.1zM326.3,696.1h2.1v2.1h-2.1zM336.2,696.1h2.1v2.1h-2.1zM344.2,696.1h4.1v2.1h-4.1zM352.2,696.1h2.1v2.1h-2.1zM356.1,696.1h2.1v2.1h-2.1zM413.9,696.1h2.1v2.1h-2.1zM417.9,696.1h4.1v2.1h-4.1zM427.9,696.1h2.1v2.1h-2.1zM439.9,696.1h2.1v2.1h-2.1zM443.8,696.1h4.1v2.1h-4.1zM451.8,696.1h2.1v2.1h-2.1zM463.8,696.1h2.1v2.1h-2.1zM471.7,696.1h2.1v2.1h-2.1zM475.7,696.1h2.1v2.1h-2.1zM481.7,696.1h4.1v2.1h-4.1zM487.7,696.1h4.1v2.1h-4.1zM497.7,696.1h2.1v2.1h-2.1zM505.6,696.1h2.1v2.1h-2.1zM509.6,696.1h4.1v2.1h-4.1zM537.5,696.1h4.1v2.1h-4.1zM316.3,698.0h2.1v2.1h-2.1zM322.3,698.0h2.1v2.1h-2.1zM326.3,698.0h6.1v2.1h-6.1zM336.2,698.0h2.1v2.1h-2.1zM352.2,698.0h2.1v2.1h-2.1zM356.1,698.0h2.1v2.1h-2.1zM421.9,698.0h2.1v2.1h-2.1zM427.9,698.0h2.1v2.1h-2.1zM431.9,698.0h2.1v2.1h-2.1zM437.9,698.0h4.1v2.1h-4.1zM449.8,698.0h2.1v2.1h-2.1zM457.8,698.0h2.1v2.1h-2.1zM461.8,698.0h2.1v2.1h-2.1zM475.7,698.0h2.1v2.1h-2.1zM479.7,698.0h2.1v2.1h-2.1zM483.7,698.0h4.1v2.1h-4.1zM491.7,698.0h4.1v2.1h-4.1zM501.6,698.0h6.1v2.1h-6.1zM509.6,698.0h4.1v2.1h-4.1zM525.6,698.0h2.1v2.1h-2.1zM324.3,700.0h2.1v2.1h-2.1zM332.2,700.0h4.1v2.1h-4.1zM340.2,700.0h2.1v2.1h-2.1zM356.1,700.0h4.1v2.1h-4.1zM408.0,700.0h2.1v2.1h-2.1zM425.9,700.0h2.1v2.1h-2.1zM433.9,700.0h2.1v2.1h-2.1zM441.9,700.0h2.1v2.1h-2.1zM445.8,700.0h2.1v2.1h-2.1zM457.8,700.0h2.1v2.1h-2.1zM461.8,700.0h2.1v2.1h-2.1zM479.7,700.0h2.1v2.1h-2.1zM487.7,700.0h2.1v2.1h-2.1zM491.7,700.0h2.1v2.1h-2.1zM497.7,700.0h2.1v2.1h-2.1zM515.6,700.0h2.1v2.1h-2.1zM521.6,700.0h4.1v2.1h-4.1zM527.6,700.0h2.1v2.1h-2.1zM531.5,700.0h2.1v2.1h-2.1zM535.5,700.0h2.1v2.1h-2.1zM314.3,702.0h2.1v2.1h-2.1zM320.3,702.0h2.1v2.1h-2.1zM338.2,702.0h4.1v2.1h-4.1zM344.2,702.0h2.1v2.1h-2.1zM350.2,702.0h2.1v2.1h-2.1zM433.9,702.0h2.1v2.1h-2.1zM463.8,702.0h2.1v2.1h-2.1zM473.7,702.0h2.1v2.1h-2.1zM481.7,702.0h2.1v2.1h-2.1zM485.7,702.0h2.1v2.1h-2.1zM507.6,702.0h4.1v2.1h-4.1zM515.6,702.0h2.1v2.1h-2.1zM521.6,702.0h2.1v2.1h-2.1zM527.6,702.0h2.1v2.1h-2.1zM535.5,702.0h2.1v2.1h-2.1zM539.5,702.0h2.1v2.1h-2.1zM322.3,703.9h2.1v2.1h-2.1zM344.2,703.9h2.1v2.1h-2.1zM356.1,703.9h2.1v2.1h-2.1zM433.9,703.9h2.1v2.1h-2.1zM453.8,703.9h2.1v2.1h-2.1zM467.8,703.9h2.1v2.1h-2.1zM473.7,703.9h2.1v2.1h-2.1zM485.7,703.9h2.1v2.1h-2.1zM495.7,703.9h4.1v2.1h-4.1zM505.6,703.9h2.1v2.1h-2.1zM515.6,703.9h2.1v2.1h-2.1zM533.5,703.9h2.1v2.1h-2.1zM537.5,703.9h2.1v2.1h-2.1zM320.3,705.9h2.1v2.1h-2.1zM324.3,705.9h2.1v2.1h-2.1zM334.2,705.9h2.1v2.1h-2.1zM338.2,705.9h2.1v2.1h-2.1zM354.2,705.9h4.1v2.1h-4.1zM443.8,705.9h2.1v2.1h-2.1zM453.8,705.9h2.1v2.1h-2.1zM461.8,705.9h2.1v2.1h-2.1zM475.7,705.9h4.1v2.1h-4.1zM481.7,705.9h2.1v2.1h-2.1zM495.7,705.9h2.1v2.1h-2.1zM505.6,705.9h2.1v2.1h-2.1zM517.6,705.9h2.1v2.1h-2.1zM521.6,705.9h2.1v2.1h-2.1zM527.6,705.9h2.1v2.1h-2.1zM531.5,705.9h2.1v2.1h-2.1zM541.5,705.9h2.1v2.1h-2.1zM318.3,707.9h2.1v2.1h-2.1zM324.3,707.9h2.1v2.1h-2.1zM330.2,707.9h4.1v2.1h-4.1zM340.2,707.9h4.1v2.1h-4.1zM350.2,707.9h2.1v2.1h-2.1zM356.1,707.9h2.1v2.1h-2.1zM471.7,707.9h2.1v2.1h-2.1zM487.7,707.9h4.1v2.1h-4.1zM493.7,707.9h4.1v2.1h-4.1zM501.6,707.9h2.1v2.1h-2.1zM505.6,707.9h6.1v2.1h-6.1zM521.6,707.9h2.1v2.1h-2.1zM525.6,707.9h2.1v2.1h-2.1zM529.5,707.9h2.1v2.1h-2.1zM535.5,707.9h2.1v2.1h-2.1zM328.2,709.8h2.1v2.1h-2.1zM487.7,709.8h2.1v2.1h-2.1zM499.7,709.8h2.1v2.1h-2.1zM509.6,709.8h2.1v2.1h-2.1zM513.6,709.8h2.1v2.1h-2.1zM517.6,709.8h2.1v2.1h-2.1zM533.5,709.8h2.1v2.1h-2.1zM318.3,711.8h2.1v2.1h-2.1zM338.2,711.8h2.1v2.1h-2.1zM344.2,711.8h2.1v2.1h-2.1zM354.2,711.8h2.1v2.1h-2.1zM527.6,711.8h2.1v2.1h-2.1zM314.3,713.8h2.1v2.1h-2.1zM320.3,713.8h4.1v2.1h-4.1zM330.2,713.8h2.1v2.1h-2.1zM340.2,713.8h2.1v2.1h-2.1zM352.2,713.8h2.1v2.1h-2.1zM356.1,713.8h2.1v2.1h-2.1zM529.5,713.8h2.1v2.1h-2.1zM533.5,713.8h2.1v2.1h-2.1zM324.3,715.7h2.1v2.1h-2.1zM338.2,715.7h2.1v2.1h-2.1zM539.5,717.7h2.1v2.1h-2.1zM322.3,719.7h2.1v2.1h-2.1zM340.2,719.7h2.1v2.1h-2.1z"/><path fill="#bc375a" d="M342.2,680.3h2.1v2.1h-2.1zM362.1,680.3h6.1v2.1h-6.1zM384.1,680.3h2.1v2.1h-2.1zM388.0,680.3h2.1v2.1h-2.1zM463.8,680.3h2.1v2.1h-2.1zM475.7,680.3h2.1v2.1h-2.1zM497.7,680.3h2.1v2.1h-2.1zM330.2,682.3h2.1v2.1h-2.1zM346.2,682.3h2.1v2.1h-2.1zM366.1,682.3h2.1v2.1h-2.1zM384.1,682.3h2.1v2.1h-2.1zM388.0,682.3h2.1v2.1h-2.1zM487.7,682.3h2.1v2.1h-2.1zM533.5,682.3h2.1v2.1h-2.1zM541.5,682.3h2.1v2.1h-2.1zM342.2,684.2h2.1v2.1h-2.1zM358.1,684.2h2.1v2.1h-2.1zM378.1,684.2h6.1v2.1h-6.1zM386.0,684.2h4.1v2.1h-4.1zM392.0,684.2h2.1v2.1h-2.1zM406.0,684.2h2.1v2.1h-2.1zM419.9,684.2h2.1v2.1h-2.1zM457.8,684.2h2.1v2.1h-2.1zM475.7,684.2h2.1v2.1h-2.1zM501.6,684.2h2.1v2.1h-2.1zM511.6,684.2h2.1v2.1h-2.1zM525.6,684.2h2.1v2.1h-2.1zM537.5,684.2h2.1v2.1h-2.1zM541.5,684.2h2.1v2.1h-2.1zM338.2,686.2h2.1v2.1h-2.1zM382.1,686.2h4.1v2.1h-4.1zM394.0,686.2h8.1v2.1h-8.1zM406.0,686.2h2.1v2.1h-2.1zM413.9,686.2h4.1v2.1h-4.1zM419.9,686.2h2.1v2.1h-2.1zM457.8,686.2h2.1v2.1h-2.1zM467.8,686.2h2.1v2.1h-2.1zM483.7,686.2h2.1v2.1h-2.1zM507.6,686.2h2.1v2.1h-2.1zM533.5,686.2h2.1v2.1h-2.1zM318.3,688.2h2.1v2.1h-2.1zM326.3,688.2h2.1v2.1h-2.1zM336.2,688.2h2.1v2.1h-2.1zM354.2,688.2h2.1v2.1h-2.1zM384.1,688.2h2.1v2.1h-2.1zM388.0,688.2h2.1v2.1h-2.1zM392.0,688.2h2.1v2.1h-2.1zM398.0,688.2h4.1v2.1h-4.1zM410.0,688.2h2.1v2.1h-2.1zM415.9,688.2h2.1v2.1h-2.1zM421.9,688.2h4.1v2.1h-4.1zM451.8,688.2h2.1v2.1h-2.1zM459.8,688.2h2.1v2.1h-2.1zM481.7,688.2h2.1v2.1h-2.1zM521.6,688.2h2.1v2.1h-2.1zM533.5,688.2h2.1v2.1h-2.1zM330.2,690.1h2.1v2.1h-2.1zM336.2,690.1h2.1v2.1h-2.1zM342.2,690.1h2.1v2.1h-2.1zM388.0,690.1h2.1v2.1h-2.1zM394.0,690.1h4.1v2.1h-4.1zM406.0,690.1h2.1v2.1h-2.1zM413.9,690.1h2.1v2.1h-2.1zM419.9,690.1h2.1v2.1h-2.1zM441.9,690.1h4.1v2.1h-4.1zM451.8,690.1h2.1v2.1h-2.1zM455.8,690.1h2.1v2.1h-2.1zM471.7,690.1h2.1v2.1h-2.1zM479.7,690.1h2.1v2.1h-2.1zM495.7,690.1h2.1v2.1h-2.1zM515.6,690.1h2.1v2.1h-2.1zM525.6,690.1h2.1v2.1h-2.1zM537.5,690.1h2.1v2.1h-2.1zM340.2,692.1h2.1v2.1h-2.1zM396.0,692.1h2.1v2.1h-2.1zM404.0,692.1h2.1v2.1h-2.1zM412.0,692.1h6.1v2.1h-6.1zM423.9,692.1h2.1v2.1h-2.1zM437.9,692.1h2.1v2.1h-2.1zM485.7,692.1h6.1v2.1h-6.1zM539.5,692.1h4.1v2.1h-4.1zM312.3,694.1h2.1v2.1h-2.1zM330.2,694.1h2.1v2.1h-2.1zM336.2,694.1h2.1v2.1h-2.1zM344.2,694.1h2.1v2.1h-2.1zM350.2,694.1h2.1v2.1h-2.1zM356.1,694.1h2.1v2.1h-2.1zM390.0,694.1h2.1v2.1h-2.1zM400.0,694.1h2.1v2.1h-2.1zM406.0,694.1h2.1v2.1h-2.1zM410.0,694.1h6.1v2.1h-6.1zM417.9,694.1h4.1v2.1h-4.1zM429.9,694.1h2.1v2.1h-2.1zM461.8,694.1h2.1v2.1h-2.1zM471.7,694.1h2.1v2.1h-2.1zM493.7,694.1h2.1v2.1h-2.1zM511.6,694.1h2.1v2.1h-2.1zM531.5,694.1h2.1v2.1h-2.1zM332.2,696.1h2.1v2.1h-2.1zM338.2,696.1h2.1v2.1h-2.1zM350.2,696.1h2.1v2.1h-2.1zM354.2,696.1h2.1v2.1h-2.1zM402.0,696.1h2.1v2.1h-2.1zM406.0,696.1h2.1v2.1h-2.1zM412.0,696.1h2.1v2.1h-2.1zM421.9,696.1h6.1v2.1h-6.1zM435.9,696.1h4.1v2.1h-4.1zM441.9,696.1h2.1v2.1h-2.1zM453.8,696.1h2.1v2.1h-2.1zM461.8,696.1h2.1v2.1h-2.1zM501.6,696.1h2.1v2.1h-2.1zM515.6,696.1h2.1v2.1h-2.1zM521.6,696.1h10.1v2.1h-10.1zM535.5,696.1h2.1v2.1h-2.1zM320.3,698.0h2.1v2.1h-2.1zM332.2,698.0h4.1v2.1h-4.1zM344.2,698.0h2.1v2.1h-2.1zM360.1,698.0h2.1v2.1h-2.1zM415.9,698.0h2.1v2.1h-2.1zM423.9,698.0h2.1v2.1h-2.1zM435.9,698.0h2.1v2.1h-2.1zM471.7,698.0h2.1v2.1h-2.1zM487.7,698.0h4.1v2.1h-4.1zM513.6,698.0h2.1v2.1h-2.1zM517.6,698.0h2.1v2.1h-2.1zM531.5,698.0h4.1v2.1h-4.1zM537.5,698.0h6.1v2.1h-6.1zM314.3,700.0h4.1v2.1h-4.1zM330.2,700.0h2.1v2.1h-2.1zM336.2,700.0h4.1v2.1h-4.1zM344.2,700.0h6.1v2.1h-6.1zM412.0,700.0h4.1v2.1h-4.1zM423.9,700.0h2.1v2.1h-2.1zM429.9,700.0h4.1v2.1h-4.1zM443.8,700.0h2.1v2.1h-2.1zM449.8,700.0h2.1v2.1h-2.1zM473.7,700.0h2.1v2.1h-2.1zM481.7,700.0h2.1v2.1h-2.1zM499.7,700.0h4.1v2.1h-4.1zM507.6,700.0h8.1v2.1h-8.1zM517.6,700.0h2.1v2.1h-2.1zM533.5,700.0h2.1v2.1h-2.1zM539.5,700.0h2.1v2.1h-2.1zM312.3,702.0h2.1v2.1h-2.1zM318.3,702.0h2.1v2.1h-2.1zM328.2,702.0h4.1v2.1h-4.1zM342.2,702.0h2.1v2.1h-2.1zM346.2,702.0h2.1v2.1h-2.1zM352.2,702.0h4.1v2.1h-4.1zM358.1,702.0h2.1v2.1h-2.1zM429.9,702.0h2.1v2.1h-2.1zM435.9,702.0h2.1v2.1h-2.1zM441.9,702.0h2.1v2.1h-2.1zM447.8,702.0h2.1v2.1h-2.1zM455.8,702.0h8.1v2.1h-8.1zM471.7,702.0h2.1v2.1h-2.1zM479.7,702.0h2.1v2.1h-2.1zM493.7,702.0h2.1v2.1h-2.1zM497.7,702.0h4.1v2.1h-4.1zM503.6,702.0h2.1v2.1h-2.1zM511.6,702.0h2.1v2.1h-2.1zM517.6,702.0h2.1v2.1h-2.1zM525.6,702.0h2.1v2.1h-2.1zM529.5,702.0h6.1v2.1h-6.1zM541.5,702.0h2.1v2.1h-2.1zM316.3,703.9h2.1v2.1h-2.1zM320.3,703.9h2.1v2.1h-2.1zM326.3,703.9h2.1v2.1h-2.1zM330.2,703.9h6.1v2.1h-6.1zM338.2,703.9h2.1v2.1h-2.1zM350.2,703.9h2.1v2.1h-2.1zM358.1,703.9h2.1v2.1h-2.1zM439.9,703.9h2.1v2.1h-2.1zM447.8,703.9h2.1v2.1h-2.1zM459.8,703.9h2.1v2.1h-2.1zM501.6,703.9h2.1v2.1h-2.1zM509.6,703.9h4.1v2.1h-4.1zM521.6,703.9h4.1v2.1h-4.1zM539.5,703.9h2.1v2.1h-2.1zM318.3,705.9h2.1v2.1h-2.1zM330.2,705.9h2.1v2.1h-2.1zM336.2,705.9h2.1v2.1h-2.1zM340.2,705.9h4.1v2.1h-4.1zM348.2,705.9h6.1v2.1h-6.1zM358.1,705.9h2.1v2.1h-2.1zM441.9,705.9h2.1v2.1h-2.1zM449.8,705.9h4.1v2.1h-4.1zM455.8,705.9h2.1v2.1h-2.1zM467.8,705.9h6.1v2.1h-6.1zM479.7,705.9h2.1v2.1h-2.1zM483.7,705.9h2.1v2.1h-2.1zM489.7,705.9h2.1v2.1h-2.1zM493.7,705.9h2.1v2.1h-2.1zM501.6,705.9h2.1v2.1h-2.1zM507.6,705.9h4.1v2.1h-4.1zM519.6,705.9h2.1v2.1h-2.1zM525.6,705.9h2.1v2.1h-2.1zM529.5,705.9h2.1v2.1h-2.1zM533.5,705.9h2.1v2.1h-2.1zM537.5,705.9h4.1v2.1h-4.1zM328.2,707.9h2.1v2.1h-2.1zM338.2,707.9h2.1v2.1h-2.1zM344.2,707.9h2.1v2.1h-2.1zM352.2,707.9h4.1v2.1h-4.1zM358.1,707.9h2.1v2.1h-2.1zM463.8,707.9h2.1v2.1h-2.1zM467.8,707.9h2.1v2.1h-2.1zM477.7,707.9h6.1v2.1h-6.1zM485.7,707.9h2.1v2.1h-2.1zM499.7,707.9h2.1v2.1h-2.1zM513.6,707.9h2.1v2.1h-2.1zM533.5,707.9h2.1v2.1h-2.1zM537.5,707.9h6.1v2.1h-6.1zM322.3,709.8h2.1v2.1h-2.1zM326.3,709.8h2.1v2.1h-2.1zM330.2,709.8h2.1v2.1h-2.1zM336.2,709.8h2.1v2.1h-2.1zM340.2,709.8h4.1v2.1h-4.1zM346.2,709.8h6.1v2.1h-6.1zM356.1,709.8h6.1v2.1h-6.1zM473.7,709.8h2.1v2.1h-2.1zM477.7,709.8h2.1v2.1h-2.1zM483.7,709.8h4.1v2.1h-4.1zM501.6,709.8h4.1v2.1h-4.1zM511.6,709.8h2.1v2.1h-2.1zM523.6,709.8h2.1v2.1h-2.1zM529.5,709.8h4.1v2.1h-4.1zM535.5,709.8h2.1v2.1h-2.1zM312.3,711.8h2.1v2.1h-2.1zM320.3,711.8h4.1v2.1h-4.1zM330.2,711.8h2.1v2.1h-2.1zM336.2,711.8h2.1v2.1h-2.1zM348.2,711.8h4.1v2.1h-4.1zM360.1,711.8h2.1v2.1h-2.1zM481.7,711.8h2.1v2.1h-2.1zM493.7,711.8h4.1v2.1h-4.1zM503.6,711.8h6.1v2.1h-6.1zM513.6,711.8h2.1v2.1h-2.1zM523.6,711.8h2.1v2.1h-2.1zM535.5,711.8h8.1v2.1h-8.1zM328.2,713.8h2.1v2.1h-2.1zM342.2,713.8h4.1v2.1h-4.1zM350.2,713.8h2.1v2.1h-2.1zM354.2,713.8h2.1v2.1h-2.1zM499.7,713.8h2.1v2.1h-2.1zM509.6,713.8h8.1v2.1h-8.1zM519.6,713.8h6.1v2.1h-6.1zM527.6,713.8h2.1v2.1h-2.1zM539.5,713.8h4.1v2.1h-4.1zM314.3,715.7h4.1v2.1h-4.1zM326.3,715.7h2.1v2.1h-2.1zM330.2,715.7h4.1v2.1h-4.1zM344.2,715.7h2.1v2.1h-2.1zM354.2,715.7h2.1v2.1h-2.1zM360.1,715.7h2.1v2.1h-2.1zM487.7,715.7h2.1v2.1h-2.1zM523.6,715.7h2.1v2.1h-2.1zM531.5,715.7h2.1v2.1h-2.1zM537.5,715.7h6.1v2.1h-6.1zM316.3,717.7h2.1v2.1h-2.1zM338.2,717.7h2.1v2.1h-2.1zM348.2,717.7h2.1v2.1h-2.1zM354.2,717.7h2.1v2.1h-2.1zM358.1,717.7h2.1v2.1h-2.1zM521.6,717.7h2.1v2.1h-2.1zM529.5,717.7h2.1v2.1h-2.1zM326.3,719.7h2.1v2.1h-2.1zM330.2,719.7h2.1v2.1h-2.1zM334.2,719.7h2.1v2.1h-2.1zM354.2,719.7h2.1v2.1h-2.1zM513.6,719.7h2.1v2.1h-2.1zM531.5,719.7h2.1v2.1h-2.1zM322.3,721.6h2.1v2.1h-2.1zM326.3,721.6h2.1v2.1h-2.1zM358.1,721.6h4.1v2.1h-4.1zM334.2,723.6h2.1v2.1h-2.1zM360.1,723.6h2.1v2.1h-2.1zM340.2,725.6h2.1v2.1h-2.1zM320.3,727.6h2.1v2.1h-2.1z"/><path fill="#c43e52" d="M382.1,682.3h2.1v2.1h-2.1zM398.0,682.3h2.1v2.1h-2.1zM404.0,682.3h2.1v2.1h-2.1zM362.1,684.2h2.1v2.1h-2.1zM384.1,684.2h2.1v2.1h-2.1zM507.6,684.2h2.1v2.1h-2.1zM332.2,686.2h2.1v2.1h-2.1zM362.1,686.2h2.1v2.1h-2.1zM386.0,686.2h2.1v2.1h-2.1zM390.0,686.2h2.1v2.1h-2.1zM390.0,688.2h2.1v2.1h-2.1zM394.0,688.2h4.1v2.1h-4.1zM406.0,688.2h2.1v2.1h-2.1zM437.9,688.2h2.1v2.1h-2.1zM449.8,688.2h2.1v2.1h-2.1zM513.6,688.2h2.1v2.1h-2.1zM384.1,690.1h2.1v2.1h-2.1zM390.0,690.1h2.1v2.1h-2.1zM398.0,690.1h4.1v2.1h-4.1zM404.0,690.1h2.1v2.1h-2.1zM412.0,690.1h2.1v2.1h-2.1zM531.5,690.1h2.1v2.1h-2.1zM394.0,692.1h2.1v2.1h-2.1zM398.0,692.1h4.1v2.1h-4.1zM406.0,692.1h2.1v2.1h-2.1zM410.0,692.1h2.1v2.1h-2.1zM491.7,692.1h2.1v2.1h-2.1zM515.6,692.1h2.1v2.1h-2.1zM392.0,694.1h2.1v2.1h-2.1zM404.0,694.1h2.1v2.1h-2.1zM408.0,694.1h2.1v2.1h-2.1zM415.9,694.1h2.1v2.1h-2.1zM423.9,694.1h2.1v2.1h-2.1zM521.6,694.1h2.1v2.1h-2.1zM314.3,696.1h2.1v2.1h-2.1zM396.0,696.1h2.1v2.1h-2.1zM400.0,696.1h2.1v2.1h-2.1zM408.0,696.1h2.1v2.1h-2.1zM429.9,696.1h2.1v2.1h-2.1zM396.0,698.0h2.1v2.1h-2.1zM404.0,698.0h2.1v2.1h-2.1zM408.0,698.0h2.1v2.1h-2.1zM412.0,698.0h4.1v2.1h-4.1zM417.9,698.0h2.1v2.1h-2.1zM433.9,698.0h2.1v2.1h-2.1zM441.9,698.0h2.1v2.1h-2.1zM445.8,698.0h2.1v2.1h-2.1zM455.8,698.0h2.1v2.1h-2.1zM342.2,700.0h2.1v2.1h-2.1zM352.2,700.0h2.1v2.1h-2.1zM417.9,700.0h2.1v2.1h-2.1zM421.9,700.0h2.1v2.1h-2.1zM427.9,700.0h2.1v2.1h-2.1zM437.9,700.0h4.1v2.1h-4.1zM469.8,700.0h2.1v2.1h-2.1zM485.7,700.0h2.1v2.1h-2.1zM493.7,700.0h2.1v2.1h-2.1zM529.5,700.0h2.1v2.1h-2.1zM322.3,702.0h2.1v2.1h-2.1zM326.3,702.0h2.1v2.1h-2.1zM413.9,702.0h2.1v2.1h-2.1zM423.9,702.0h4.1v2.1h-4.1zM437.9,702.0h4.1v2.1h-4.1zM449.8,702.0h2.1v2.1h-2.1zM453.8,702.0h2.1v2.1h-2.1zM483.7,702.0h2.1v2.1h-2.1zM318.3,703.9h2.1v2.1h-2.1zM324.3,703.9h2.1v2.1h-2.1zM328.2,703.9h2.1v2.1h-2.1zM336.2,703.9h2.1v2.1h-2.1zM342.2,703.9h2.1v2.1h-2.1zM360.1,703.9h2.1v2.1h-2.1zM410.0,703.9h2.1v2.1h-2.1zM421.9,703.9h2.1v2.1h-2.1zM427.9,703.9h2.1v2.1h-2.1zM435.9,703.9h2.1v2.1h-2.1zM443.8,703.9h4.1v2.1h-4.1zM457.8,703.9h2.1v2.1h-2.1zM463.8,703.9h2.1v2.1h-2.1zM479.7,703.9h2.1v2.1h-2.1zM489.7,703.9h2.1v2.1h-2.1zM503.6,703.9h2.1v2.1h-2.1zM525.6,703.9h4.1v2.1h-4.1zM535.5,703.9h2.1v2.1h-2.1zM312.3,705.9h6.1v2.1h-6.1zM322.3,705.9h2.1v2.1h-2.1zM332.2,705.9h2.1v2.1h-2.1zM360.1,705.9h2.1v2.1h-2.1zM425.9,705.9h2.1v2.1h-2.1zM437.9,705.9h2.1v2.1h-2.1zM459.8,705.9h2.1v2.1h-2.1zM463.8,705.9h2.1v2.1h-2.1zM485.7,705.9h2.1v2.1h-2.1zM497.7,705.9h4.1v2.1h-4.1zM511.6,705.9h2.1v2.1h-2.1zM314.3,707.9h4.1v2.1h-4.1zM320.3,707.9h2.1v2.1h-2.1zM326.3,707.9h2.1v2.1h-2.1zM334.2,707.9h4.1v2.1h-4.1zM360.1,707.9h2.1v2.1h-2.1zM439.9,707.9h2.1v2.1h-2.1zM451.8,707.9h2.1v2.1h-2.1zM457.8,707.9h2.1v2.1h-2.1zM465.8,707.9h2.1v2.1h-2.1zM469.8,707.9h2.1v2.1h-2.1zM473.7,707.9h2.1v2.1h-2.1zM491.7,707.9h2.1v2.1h-2.1zM503.6,707.9h2.1v2.1h-2.1zM511.6,707.9h2.1v2.1h-2.1zM519.6,707.9h2.1v2.1h-2.1zM531.5,707.9h2.1v2.1h-2.1zM312.3,709.8h2.1v2.1h-2.1zM316.3,709.8h6.1v2.1h-6.1zM324.3,709.8h2.1v2.1h-2.1zM332.2,709.8h4.1v2.1h-4.1zM344.2,709.8h2.1v2.1h-2.1zM352.2,709.8h4.1v2.1h-4.1zM447.8,709.8h2.1v2.1h-2.1zM453.8,709.8h2.1v2.1h-2.1zM457.8,709.8h2.1v2.1h-2.1zM471.7,709.8h2.1v2.1h-2.1zM475.7,709.8h2.1v2.1h-2.1zM493.7,709.8h2.1v2.1h-2.1zM497.7,709.8h2.1v2.1h-2.1zM505.6,709.8h2.1v2.1h-2.1zM519.6,709.8h2.1v2.1h-2.1zM525.6,709.8h2.1v2.1h-2.1zM314.3,711.8h2.1v2.1h-2.1zM326.3,711.8h4.1v2.1h-4.1zM340.2,711.8h4.1v2.1h-4.1zM346.2,711.8h2.1v2.1h-2.1zM352.2,711.8h2.1v2.1h-2.1zM356.1,711.8h2.1v2.1h-2.1zM451.8,711.8h4.1v2.1h-4.1zM461.8,711.8h2.1v2.1h-2.1zM471.7,711.8h2.1v2.1h-2.1zM475.7,711.8h4.1v2.1h-4.1zM485.7,711.8h2.1v2.1h-2.1zM489.7,711.8h2.1v2.1h-2.1zM499.7,711.8h2.1v2.1h-2.1zM511.6,711.8h2.1v2.1h-2.1zM517.6,711.8h4.1v2.1h-4.1zM529.5,711.8h6.1v2.1h-6.1zM312.3,713.8h2.1v2.1h-2.1zM326.3,713.8h2.1v2.1h-2.1zM334.2,713.8h4.1v2.1h-4.1zM346.2,713.8h2.1v2.1h-2.1zM360.1,713.8h2.1v2.1h-2.1zM477.7,713.8h4.1v2.1h-4.1zM483.7,713.8h6.1v2.1h-6.1zM495.7,713.8h4.1v2.1h-4.1zM505.6,713.8h2.1v2.1h-2.1zM517.6,713.8h2.1v2.1h-2.1zM525.6,713.8h2.1v2.1h-2.1zM535.5,713.8h2.1v2.1h-2.1zM312.3,715.7h2.1v2.1h-2.1zM336.2,715.7h2.1v2.1h-2.1zM346.2,715.7h8.1v2.1h-8.1zM358.1,715.7h2.1v2.1h-2.1zM483.7,715.7h2.1v2.1h-2.1zM497.7,715.7h2.1v2.1h-2.1zM507.6,715.7h2.1v2.1h-2.1zM511.6,715.7h2.1v2.1h-2.1zM517.6,715.7h6.1v2.1h-6.1zM527.6,715.7h4.1v2.1h-4.1zM312.3,717.7h4.1v2.1h-4.1zM318.3,717.7h2.1v2.1h-2.1zM322.3,717.7h6.1v2.1h-6.1zM334.2,717.7h4.1v2.1h-4.1zM342.2,717.7h6.1v2.1h-6.1zM350.2,717.7h4.1v2.1h-4.1zM360.1,717.7h2.1v2.1h-2.1zM475.7,717.7h2.1v2.1h-2.1zM493.7,717.7h2.1v2.1h-2.1zM509.6,717.7h2.1v2.1h-2.1zM513.6,717.7h2.1v2.1h-2.1zM517.6,717.7h2.1v2.1h-2.1zM527.6,717.7h2.1v2.1h-2.1zM535.5,717.7h4.1v2.1h-4.1zM541.5,717.7h2.1v2.1h-2.1zM312.3,719.7h2.1v2.1h-2.1zM318.3,719.7h4.1v2.1h-4.1zM332.2,719.7h2.1v2.1h-2.1zM338.2,719.7h2.1v2.1h-2.1zM342.2,719.7h2.1v2.1h-2.1zM350.2,719.7h4.1v2.1h-4.1zM356.1,719.7h2.1v2.1h-2.1zM503.6,719.7h2.1v2.1h-2.1zM519.6,719.7h2.1v2.1h-2.1zM539.5,719.7h2.1v2.1h-2.1zM312.3,721.6h10.1v2.1h-10.1zM324.3,721.6h2.1v2.1h-2.1zM336.2,721.6h2.1v2.1h-2.1zM340.2,721.6h6.1v2.1h-6.1zM348.2,721.6h2.1v2.1h-2.1zM354.2,721.6h2.1v2.1h-2.1zM541.5,721.6h2.1v2.1h-2.1zM314.3,723.6h6.1v2.1h-6.1zM324.3,723.6h2.1v2.1h-2.1zM348.2,723.6h4.1v2.1h-4.1zM320.3,725.6h6.1v2.1h-6.1zM336.2,725.6h4.1v2.1h-4.1zM344.2,725.6h2.1v2.1h-2.1zM352.2,725.6h2.1v2.1h-2.1zM334.2,727.6h2.1v2.1h-2.1zM346.2,727.6h2.1v2.1h-2.1zM320.3,729.5h2.1v2.1h-2.1z"/><path fill="#cd444a" d="M537.5,680.3h2.1v2.1h-2.1zM364.1,684.2h2.1v2.1h-2.1zM366.1,686.2h2.1v2.1h-2.1zM380.1,686.2h2.1v2.1h-2.1zM362.1,688.2h2.1v2.1h-2.1zM378.1,688.2h4.1v2.1h-4.1zM402.0,688.2h4.1v2.1h-4.1zM378.1,690.1h2.1v2.1h-2.1zM382.1,690.1h2.1v2.1h-2.1zM392.0,690.1h2.1v2.1h-2.1zM386.0,692.1h2.1v2.1h-2.1zM390.0,692.1h2.1v2.1h-2.1zM362.1,694.1h2.1v2.1h-2.1zM386.0,694.1h2.1v2.1h-2.1zM394.0,694.1h6.1v2.1h-6.1zM402.0,694.1h2.1v2.1h-2.1zM388.0,696.1h2.1v2.1h-2.1zM394.0,696.1h2.1v2.1h-2.1zM404.0,696.1h2.1v2.1h-2.1zM410.0,696.1h2.1v2.1h-2.1zM394.0,698.0h2.1v2.1h-2.1zM406.0,698.0h2.1v2.1h-2.1zM410.0,698.0h2.1v2.1h-2.1zM419.9,698.0h2.1v2.1h-2.1zM425.9,698.0h2.1v2.1h-2.1zM400.0,700.0h4.1v2.1h-4.1zM410.0,700.0h2.1v2.1h-2.1zM415.9,700.0h2.1v2.1h-2.1zM435.9,700.0h2.1v2.1h-2.1zM477.7,700.0h2.1v2.1h-2.1zM394.0,702.0h2.1v2.1h-2.1zM410.0,702.0h2.1v2.1h-2.1zM417.9,702.0h2.1v2.1h-2.1zM427.9,702.0h2.1v2.1h-2.1zM431.9,702.0h2.1v2.1h-2.1zM443.8,702.0h4.1v2.1h-4.1zM419.9,703.9h2.1v2.1h-2.1zM423.9,703.9h4.1v2.1h-4.1zM431.9,703.9h2.1v2.1h-2.1zM437.9,703.9h2.1v2.1h-2.1zM449.8,703.9h4.1v2.1h-4.1zM475.7,703.9h2.1v2.1h-2.1zM346.2,705.9h2.1v2.1h-2.1zM408.0,705.9h2.1v2.1h-2.1zM423.9,705.9h2.1v2.1h-2.1zM429.9,705.9h4.1v2.1h-4.1zM439.9,705.9h2.1v2.1h-2.1zM457.8,705.9h2.1v2.1h-2.1zM491.7,705.9h2.1v2.1h-2.1zM322.3,707.9h2.1v2.1h-2.1zM431.9,707.9h4.1v2.1h-4.1zM441.9,707.9h2.1v2.1h-2.1zM445.8,707.9h2.1v2.1h-2.1zM455.8,707.9h2.1v2.1h-2.1zM459.8,707.9h4.1v2.1h-4.1zM475.7,707.9h2.1v2.1h-2.1zM517.6,707.9h2.1v2.1h-2.1zM314.3,709.8h2.1v2.1h-2.1zM439.9,709.8h2.1v2.1h-2.1zM445.8,709.8h2.1v2.1h-2.1zM455.8,709.8h2.1v2.1h-2.1zM459.8,709.8h4.1v2.1h-4.1zM465.8,709.8h4.1v2.1h-4.1zM479.7,709.8h2.1v2.1h-2.1zM489.7,709.8h4.1v2.1h-4.1zM495.7,709.8h2.1v2.1h-2.1zM521.6,709.8h2.1v2.1h-2.1zM334.2,711.8h2.1v2.1h-2.1zM358.1,711.8h2.1v2.1h-2.1zM437.9,711.8h2.1v2.1h-2.1zM455.8,711.8h2.1v2.1h-2.1zM459.8,711.8h2.1v2.1h-2.1zM463.8,711.8h2.1v2.1h-2.1zM473.7,711.8h2.1v2.1h-2.1zM479.7,711.8h2.1v2.1h-2.1zM487.7,711.8h2.1v2.1h-2.1zM501.6,711.8h2.1v2.1h-2.1zM509.6,711.8h2.1v2.1h-2.1zM521.6,711.8h2.1v2.1h-2.1zM316.3,713.8h4.1v2.1h-4.1zM324.3,713.8h2.1v2.1h-2.1zM332.2,713.8h2.1v2.1h-2.1zM338.2,713.8h2.1v2.1h-2.1zM451.8,713.8h2.1v2.1h-2.1zM461.8,713.8h2.1v2.1h-2.1zM469.8,713.8h4.1v2.1h-4.1zM481.7,713.8h2.1v2.1h-2.1zM493.7,713.8h2.1v2.1h-2.1zM503.6,713.8h2.1v2.1h-2.1zM531.5,713.8h2.1v2.1h-2.1zM537.5,713.8h2.1v2.1h-2.1zM318.3,715.7h4.1v2.1h-4.1zM334.2,715.7h2.1v2.1h-2.1zM342.2,715.7h2.1v2.1h-2.1zM475.7,715.7h2.1v2.1h-2.1zM485.7,715.7h2.1v2.1h-2.1zM489.7,715.7h6.1v2.1h-6.1zM503.6,715.7h4.1v2.1h-4.1zM509.6,715.7h2.1v2.1h-2.1zM513.6,715.7h4.1v2.1h-4.1zM525.6,715.7h2.1v2.1h-2.1zM535.5,715.7h2.1v2.1h-2.1zM328.2,717.7h6.1v2.1h-6.1zM340.2,717.7h2.1v2.1h-2.1zM356.1,717.7h2.1v2.1h-2.1zM479.7,717.7h2.1v2.1h-2.1zM487.7,717.7h2.1v2.1h-2.1zM491.7,717.7h2.1v2.1h-2.1zM503.6,717.7h2.1v2.1h-2.1zM511.6,717.7h2.1v2.1h-2.1zM515.6,717.7h2.1v2.1h-2.1zM523.6,717.7h2.1v2.1h-2.1zM531.5,717.7h4.1v2.1h-4.1zM314.3,719.7h2.1v2.1h-2.1zM324.3,719.7h2.1v2.1h-2.1zM336.2,719.7h2.1v2.1h-2.1zM346.2,719.7h4.1v2.1h-4.1zM360.1,719.7h2.1v2.1h-2.1zM499.7,719.7h2.1v2.1h-2.1zM505.6,719.7h6.1v2.1h-6.1zM525.6,719.7h2.1v2.1h-2.1zM533.5,719.7h2.1v2.1h-2.1zM541.5,719.7h2.1v2.1h-2.1zM328.2,721.6h4.1v2.1h-4.1zM334.2,721.6h2.1v2.1h-2.1zM338.2,721.6h2.1v2.1h-2.1zM352.2,721.6h2.1v2.1h-2.1zM356.1,721.6h2.1v2.1h-2.1zM519.6,721.6h2.1v2.1h-2.1zM527.6,721.6h2.1v2.1h-2.1zM535.5,721.6h2.1v2.1h-2.1zM539.5,721.6h2.1v2.1h-2.1zM322.3,723.6h2.1v2.1h-2.1zM326.3,723.6h8.1v2.1h-8.1zM338.2,723.6h4.1v2.1h-4.1zM344.2,723.6h2.1v2.1h-2.1zM354.2,723.6h6.1v2.1h-6.1zM312.3,725.6h6.1v2.1h-6.1zM356.1,725.6h4.1v2.1h-4.1zM312.3,727.6h4.1v2.1h-4.1zM326.3,727.6h2.1v2.1h-2.1zM330.2,727.6h4.1v2.1h-4.1zM336.2,727.6h2.1v2.1h-2.1zM340.2,727.6h4.1v2.1h-4.1zM350.2,727.6h2.1v2.1h-2.1zM312.3,729.5h4.1v2.1h-4.1zM318.3,729.5h2.1v2.1h-2.1zM328.2,729.5h2.1v2.1h-2.1zM344.2,729.5h6.1v2.1h-6.1zM314.3,731.5h2.1v2.1h-2.1zM326.3,731.5h2.1v2.1h-2.1zM334.2,731.5h2.1v2.1h-2.1zM342.2,731.5h4.1v2.1h-4.1zM350.2,731.5h2.1v2.1h-2.1zM316.3,733.5h2.1v2.1h-2.1zM344.2,733.5h2.1v2.1h-2.1zM354.2,733.5h2.1v2.1h-2.1z"/><path fill="#d54a42" d="M364.1,682.3h2.1v2.1h-2.1zM378.1,686.2h2.1v2.1h-2.1zM388.0,686.2h2.1v2.1h-2.1zM392.0,686.2h2.1v2.1h-2.1zM362.1,690.1h2.1v2.1h-2.1zM380.1,690.1h2.1v2.1h-2.1zM386.0,690.1h2.1v2.1h-2.1zM380.1,692.1h6.1v2.1h-6.1zM392.0,692.1h2.1v2.1h-2.1zM378.1,694.1h2.1v2.1h-2.1zM384.1,694.1h2.1v2.1h-2.1zM388.0,694.1h2.1v2.1h-2.1zM362.1,696.1h2.1v2.1h-2.1zM380.1,696.1h2.1v2.1h-2.1zM392.0,696.1h2.1v2.1h-2.1zM415.9,696.1h2.1v2.1h-2.1zM326.3,700.0h2.1v2.1h-2.1zM378.1,700.0h2.1v2.1h-2.1zM394.0,700.0h6.1v2.1h-6.1zM400.0,702.0h2.1v2.1h-2.1zM408.0,702.0h2.1v2.1h-2.1zM412.0,702.0h2.1v2.1h-2.1zM419.9,702.0h2.1v2.1h-2.1zM402.0,703.9h4.1v2.1h-4.1zM412.0,703.9h4.1v2.1h-4.1zM429.9,703.9h2.1v2.1h-2.1zM441.9,703.9h2.1v2.1h-2.1zM412.0,705.9h2.1v2.1h-2.1zM417.9,705.9h6.1v2.1h-6.1zM427.9,705.9h2.1v2.1h-2.1zM433.9,705.9h4.1v2.1h-4.1zM445.8,705.9h4.1v2.1h-4.1zM423.9,707.9h2.1v2.1h-2.1zM447.8,707.9h4.1v2.1h-4.1zM429.9,709.8h4.1v2.1h-4.1zM449.8,709.8h4.1v2.1h-4.1zM463.8,709.8h2.1v2.1h-2.1zM469.8,709.8h2.1v2.1h-2.1zM481.7,709.8h2.1v2.1h-2.1zM537.5,709.8h2.1v2.1h-2.1zM427.9,711.8h2.1v2.1h-2.1zM435.9,711.8h2.1v2.1h-2.1zM439.9,711.8h2.1v2.1h-2.1zM449.8,711.8h2.1v2.1h-2.1zM457.8,711.8h2.1v2.1h-2.1zM465.8,711.8h4.1v2.1h-4.1zM483.7,711.8h2.1v2.1h-2.1zM491.7,711.8h2.1v2.1h-2.1zM497.7,711.8h2.1v2.1h-2.1zM441.9,713.8h2.1v2.1h-2.1zM449.8,713.8h2.1v2.1h-2.1zM455.8,713.8h2.1v2.1h-2.1zM463.8,713.8h6.1v2.1h-6.1zM475.7,713.8h2.1v2.1h-2.1zM489.7,713.8h4.1v2.1h-4.1zM501.6,713.8h2.1v2.1h-2.1zM507.6,713.8h2.1v2.1h-2.1zM328.2,715.7h2.1v2.1h-2.1zM340.2,715.7h2.1v2.1h-2.1zM453.8,715.7h2.1v2.1h-2.1zM457.8,715.7h2.1v2.1h-2.1zM461.8,715.7h2.1v2.1h-2.1zM471.7,715.7h4.1v2.1h-4.1zM479.7,715.7h2.1v2.1h-2.1zM495.7,715.7h2.1v2.1h-2.1zM499.7,715.7h4.1v2.1h-4.1zM533.5,715.7h2.1v2.1h-2.1zM457.8,717.7h2.1v2.1h-2.1zM467.8,717.7h2.1v2.1h-2.1zM485.7,717.7h2.1v2.1h-2.1zM499.7,717.7h2.1v2.1h-2.1zM507.6,717.7h2.1v2.1h-2.1zM519.6,717.7h2.1v2.1h-2.1zM525.6,717.7h2.1v2.1h-2.1zM316.3,719.7h2.1v2.1h-2.1zM358.1,719.7h2.1v2.1h-2.1zM473.7,719.7h2.1v2.1h-2.1zM477.7,719.7h4.1v2.1h-4.1zM487.7,719.7h4.1v2.1h-4.1zM493.7,719.7h2.1v2.1h-2.1zM497.7,719.7h2.1v2.1h-2.1zM501.6,719.7h2.1v2.1h-2.1zM523.6,719.7h2.1v2.1h-2.1zM529.5,719.7h2.1v2.1h-2.1zM535.5,719.7h4.1v2.1h-4.1zM332.2,721.6h2.1v2.1h-2.1zM346.2,721.6h2.1v2.1h-2.1zM350.2,721.6h2.1v2.1h-2.1zM479.7,721.6h2.1v2.1h-2.1zM489.7,721.6h2.1v2.1h-2.1zM495.7,721.6h4.1v2.1h-4.1zM515.6,721.6h4.1v2.1h-4.1zM525.6,721.6h2.1v2.1h-2.1zM529.5,721.6h6.1v2.1h-6.1zM537.5,721.6h2.1v2.1h-2.1zM320.3,723.6h2.1v2.1h-2.1zM336.2,723.6h2.1v2.1h-2.1zM342.2,723.6h2.1v2.1h-2.1zM346.2,723.6h2.1v2.1h-2.1zM352.2,723.6h2.1v2.1h-2.1zM497.7,723.6h4.1v2.1h-4.1zM503.6,723.6h2.1v2.1h-2.1zM521.6,723.6h2.1v2.1h-2.1zM525.6,723.6h4.1v2.1h-4.1zM531.5,723.6h2.1v2.1h-2.1zM535.5,723.6h2.1v2.1h-2.1zM539.5,723.6h2.1v2.1h-2.1zM318.3,725.6h2.1v2.1h-2.1zM328.2,725.6h8.1v2.1h-8.1zM342.2,725.6h2.1v2.1h-2.1zM346.2,725.6h2.1v2.1h-2.1zM350.2,725.6h2.1v2.1h-2.1zM354.2,725.6h2.1v2.1h-2.1zM360.1,725.6h2.1v2.1h-2.1zM525.6,725.6h2.1v2.1h-2.1zM531.5,725.6h2.1v2.1h-2.1zM541.5,725.6h2.1v2.1h-2.1zM316.3,727.6h4.1v2.1h-4.1zM322.3,727.6h2.1v2.1h-2.1zM328.2,727.6h2.1v2.1h-2.1zM338.2,727.6h2.1v2.1h-2.1zM344.2,727.6h2.1v2.1h-2.1zM348.2,727.6h2.1v2.1h-2.1zM352.2,727.6h10.1v2.1h-10.1zM523.6,727.6h2.1v2.1h-2.1zM539.5,727.6h2.1v2.1h-2.1zM332.2,729.5h12.1v2.1h-12.1zM350.2,729.5h2.1v2.1h-2.1zM354.2,729.5h2.1v2.1h-2.1zM316.3,731.5h2.1v2.1h-2.1zM328.2,731.5h2.1v2.1h-2.1zM336.2,731.5h6.1v2.1h-6.1zM346.2,731.5h4.1v2.1h-4.1zM312.3,733.5h4.1v2.1h-4.1zM320.3,733.5h2.1v2.1h-2.1zM330.2,733.5h4.1v2.1h-4.1zM336.2,733.5h2.1v2.1h-2.1zM342.2,733.5h2.1v2.1h-2.1zM358.1,733.5h2.1v2.1h-2.1z"/><path fill="#dd513a" d="M364.1,686.2h2.1v2.1h-2.1zM364.1,688.2h2.1v2.1h-2.1zM382.1,688.2h2.1v2.1h-2.1zM364.1,690.1h2.1v2.1h-2.1zM362.1,692.1h2.1v2.1h-2.1zM388.0,692.1h2.1v2.1h-2.1zM402.0,692.1h2.1v2.1h-2.1zM382.1,694.1h2.1v2.1h-2.1zM382.1,696.1h6.1v2.1h-6.1zM390.0,696.1h2.1v2.1h-2.1zM398.0,696.1h2.1v2.1h-2.1zM362.1,698.0h2.1v2.1h-2.1zM384.1,698.0h2.1v2.1h-2.1zM390.0,698.0h4.1v2.1h-4.1zM398.0,698.0h6.1v2.1h-6.1zM362.1,700.0h2.1v2.1h-2.1zM404.0,700.0h2.1v2.1h-2.1zM384.1,702.0h2.1v2.1h-2.1zM390.0,702.0h2.1v2.1h-2.1zM398.0,702.0h2.1v2.1h-2.1zM402.0,702.0h6.1v2.1h-6.1zM415.9,702.0h2.1v2.1h-2.1zM421.9,702.0h2.1v2.1h-2.1zM392.0,703.9h4.1v2.1h-4.1zM406.0,703.9h4.1v2.1h-4.1zM415.9,703.9h4.1v2.1h-4.1zM396.0,705.9h2.1v2.1h-2.1zM400.0,705.9h2.1v2.1h-2.1zM410.0,705.9h2.1v2.1h-2.1zM415.9,705.9h2.1v2.1h-2.1zM400.0,707.9h2.1v2.1h-2.1zM408.0,707.9h4.1v2.1h-4.1zM415.9,707.9h2.1v2.1h-2.1zM419.9,707.9h2.1v2.1h-2.1zM425.9,707.9h6.1v2.1h-6.1zM435.9,707.9h4.1v2.1h-4.1zM443.8,707.9h2.1v2.1h-2.1zM453.8,707.9h2.1v2.1h-2.1zM410.0,709.8h2.1v2.1h-2.1zM419.9,709.8h2.1v2.1h-2.1zM423.9,709.8h2.1v2.1h-2.1zM435.9,709.8h4.1v2.1h-4.1zM441.9,709.8h4.1v2.1h-4.1zM423.9,711.8h4.1v2.1h-4.1zM431.9,711.8h2.1v2.1h-2.1zM447.8,711.8h2.1v2.1h-2.1zM469.8,711.8h2.1v2.1h-2.1zM425.9,713.8h2.1v2.1h-2.1zM439.9,713.8h2.1v2.1h-2.1zM443.8,713.8h6.1v2.1h-6.1zM453.8,713.8h2.1v2.1h-2.1zM457.8,713.8h4.1v2.1h-4.1zM473.7,713.8h2.1v2.1h-2.1zM356.1,715.7h2.1v2.1h-2.1zM447.8,715.7h6.1v2.1h-6.1zM455.8,715.7h2.1v2.1h-2.1zM459.8,715.7h2.1v2.1h-2.1zM463.8,715.7h2.1v2.1h-2.1zM469.8,715.7h2.1v2.1h-2.1zM477.7,715.7h2.1v2.1h-2.1zM481.7,715.7h2.1v2.1h-2.1zM433.9,717.7h2.1v2.1h-2.1zM453.8,717.7h2.1v2.1h-2.1zM463.8,717.7h4.1v2.1h-4.1zM481.7,717.7h4.1v2.1h-4.1zM497.7,717.7h2.1v2.1h-2.1zM501.6,717.7h2.1v2.1h-2.1zM505.6,717.7h2.1v2.1h-2.1zM328.2,719.7h2.1v2.1h-2.1zM344.2,719.7h2.1v2.1h-2.1zM453.8,719.7h2.1v2.1h-2.1zM461.8,719.7h2.1v2.1h-2.1zM471.7,719.7h2.1v2.1h-2.1zM475.7,719.7h2.1v2.1h-2.1zM481.7,719.7h6.1v2.1h-6.1zM495.7,719.7h2.1v2.1h-2.1zM515.6,719.7h4.1v2.1h-4.1zM521.6,719.7h2.1v2.1h-2.1zM469.8,721.6h2.1v2.1h-2.1zM487.7,721.6h2.1v2.1h-2.1zM491.7,721.6h2.1v2.1h-2.1zM503.6,721.6h6.1v2.1h-6.1zM513.6,721.6h2.1v2.1h-2.1zM521.6,721.6h4.1v2.1h-4.1zM312.3,723.6h2.1v2.1h-2.1zM469.8,723.6h2.1v2.1h-2.1zM477.7,723.6h2.1v2.1h-2.1zM505.6,723.6h2.1v2.1h-2.1zM511.6,723.6h8.1v2.1h-8.1zM529.5,723.6h2.1v2.1h-2.1zM326.3,725.6h2.1v2.1h-2.1zM348.2,725.6h2.1v2.1h-2.1zM501.6,725.6h2.1v2.1h-2.1zM513.6,725.6h2.1v2.1h-2.1zM521.6,725.6h4.1v2.1h-4.1zM527.6,725.6h4.1v2.1h-4.1zM533.5,725.6h2.1v2.1h-2.1zM324.3,727.6h2.1v2.1h-2.1zM521.6,727.6h2.1v2.1h-2.1zM529.5,727.6h2.1v2.1h-2.1zM541.5,727.6h2.1v2.1h-2.1zM316.3,729.5h2.1v2.1h-2.1zM322.3,729.5h2.1v2.1h-2.1zM326.3,729.5h2.1v2.1h-2.1zM330.2,729.5h2.1v2.1h-2.1zM352.2,729.5h2.1v2.1h-2.1zM356.1,729.5h6.1v2.1h-6.1zM535.5,729.5h2.1v2.1h-2.1zM312.3,731.5h2.1v2.1h-2.1zM324.3,731.5h2.1v2.1h-2.1zM330.2,731.5h4.1v2.1h-4.1zM354.2,731.5h6.1v2.1h-6.1zM537.5,731.5h2.1v2.1h-2.1zM318.3,733.5h2.1v2.1h-2.1zM322.3,733.5h4.1v2.1h-4.1zM334.2,733.5h2.1v2.1h-2.1zM340.2,733.5h2.1v2.1h-2.1zM346.2,733.5h2.1v2.1h-2.1zM352.2,733.5h2.1v2.1h-2.1zM328.2,735.4h2.1v2.1h-2.1zM356.1,735.4h2.1v2.1h-2.1zM360.1,735.4h2.1v2.1h-2.1z"/><path fill="#e25b32" d="M372.1,680.3h2.1v2.1h-2.1zM366.1,684.2h2.1v2.1h-2.1zM366.1,690.1h2.1v2.1h-2.1zM376.1,690.1h2.1v2.1h-2.1zM378.1,692.1h2.1v2.1h-2.1zM380.1,694.1h2.1v2.1h-2.1zM388.0,698.0h2.1v2.1h-2.1zM382.1,700.0h2.1v2.1h-2.1zM390.0,700.0h4.1v2.1h-4.1zM406.0,700.0h2.1v2.1h-2.1zM419.9,700.0h2.1v2.1h-2.1zM362.1,702.0h2.1v2.1h-2.1zM380.1,702.0h2.1v2.1h-2.1zM388.0,702.0h2.1v2.1h-2.1zM392.0,702.0h2.1v2.1h-2.1zM396.0,702.0h2.1v2.1h-2.1zM396.0,703.9h2.1v2.1h-2.1zM400.0,703.9h2.1v2.1h-2.1zM382.1,705.9h2.1v2.1h-2.1zM388.0,705.9h2.1v2.1h-2.1zM394.0,705.9h2.1v2.1h-2.1zM402.0,705.9h2.1v2.1h-2.1zM406.0,705.9h2.1v2.1h-2.1zM362.1,707.9h2.1v2.1h-2.1zM398.0,707.9h2.1v2.1h-2.1zM402.0,707.9h2.1v2.1h-2.1zM413.9,707.9h2.1v2.1h-2.1zM417.9,707.9h2.1v2.1h-2.1zM421.9,707.9h2.1v2.1h-2.1zM394.0,709.8h2.1v2.1h-2.1zM415.9,709.8h2.1v2.1h-2.1zM421.9,709.8h2.1v2.1h-2.1zM425.9,709.8h4.1v2.1h-4.1zM433.9,709.8h2.1v2.1h-2.1zM408.0,711.8h2.1v2.1h-2.1zM417.9,711.8h2.1v2.1h-2.1zM421.9,711.8h2.1v2.1h-2.1zM429.9,711.8h2.1v2.1h-2.1zM433.9,711.8h2.1v2.1h-2.1zM441.9,711.8h4.1v2.1h-4.1zM415.9,713.8h2.1v2.1h-2.1zM421.9,713.8h2.1v2.1h-2.1zM429.9,713.8h2.1v2.1h-2.1zM435.9,713.8h4.1v2.1h-4.1zM429.9,715.7h2.1v2.1h-2.1zM433.9,715.7h2.1v2.1h-2.1zM443.8,715.7h2.1v2.1h-2.1zM465.8,715.7h4.1v2.1h-4.1zM417.9,717.7h2.1v2.1h-2.1zM425.9,717.7h2.1v2.1h-2.1zM441.9,717.7h2.1v2.1h-2.1zM451.8,717.7h2.1v2.1h-2.1zM455.8,717.7h2.1v2.1h-2.1zM459.8,717.7h2.1v2.1h-2.1zM469.8,717.7h6.1v2.1h-6.1zM477.7,717.7h2.1v2.1h-2.1zM489.7,717.7h2.1v2.1h-2.1zM495.7,717.7h2.1v2.1h-2.1zM431.9,719.7h2.1v2.1h-2.1zM463.8,719.7h2.1v2.1h-2.1zM491.7,719.7h2.1v2.1h-2.1zM511.6,719.7h2.1v2.1h-2.1zM527.6,719.7h2.1v2.1h-2.1zM461.8,721.6h2.1v2.1h-2.1zM475.7,721.6h2.1v2.1h-2.1zM483.7,721.6h4.1v2.1h-4.1zM501.6,721.6h2.1v2.1h-2.1zM509.6,721.6h4.1v2.1h-4.1zM467.8,723.6h2.1v2.1h-2.1zM479.7,723.6h4.1v2.1h-4.1zM489.7,723.6h2.1v2.1h-2.1zM493.7,723.6h2.1v2.1h-2.1zM501.6,723.6h2.1v2.1h-2.1zM507.6,723.6h4.1v2.1h-4.1zM533.5,723.6h2.1v2.1h-2.1zM537.5,723.6h2.1v2.1h-2.1zM453.8,725.6h2.1v2.1h-2.1zM507.6,725.6h2.1v2.1h-2.1zM511.6,725.6h2.1v2.1h-2.1zM515.6,725.6h4.1v2.1h-4.1zM535.5,725.6h6.1v2.1h-6.1zM509.6,727.6h4.1v2.1h-4.1zM517.6,727.6h2.1v2.1h-2.1zM539.5,729.5h2.1v2.1h-2.1zM318.3,731.5h2.1v2.1h-2.1zM322.3,731.5h2.1v2.1h-2.1zM352.2,731.5h2.1v2.1h-2.1zM360.1,731.5h2.1v2.1h-2.1zM539.5,731.5h2.1v2.1h-2.1zM326.3,733.5h2.1v2.1h-2.1zM338.2,733.5h2.1v2.1h-2.1zM348.2,733.5h2.1v2.1h-2.1zM356.1,733.5h2.1v2.1h-2.1zM360.1,733.5h2.1v2.1h-2.1zM533.5,733.5h2.1v2.1h-2.1zM318.3,735.4h2.1v2.1h-2.1zM322.3,735.4h6.1v2.1h-6.1zM340.2,735.4h6.1v2.1h-6.1zM348.2,735.4h2.1v2.1h-2.1z"/><path fill="#e86529" d="M374.1,680.3h2.1v2.1h-2.1zM372.1,684.2h2.1v2.1h-2.1zM376.1,686.2h2.1v2.1h-2.1zM364.1,692.1h2.1v2.1h-2.1zM364.1,694.1h4.1v2.1h-4.1zM378.1,696.1h2.1v2.1h-2.1zM378.1,698.0h6.1v2.1h-6.1zM386.0,698.0h2.1v2.1h-2.1zM380.1,700.0h2.1v2.1h-2.1zM388.0,700.0h2.1v2.1h-2.1zM378.1,702.0h2.1v2.1h-2.1zM386.0,702.0h2.1v2.1h-2.1zM362.1,703.9h2.1v2.1h-2.1zM378.1,703.9h2.1v2.1h-2.1zM388.0,703.9h2.1v2.1h-2.1zM398.0,703.9h2.1v2.1h-2.1zM380.1,705.9h2.1v2.1h-2.1zM384.1,705.9h2.1v2.1h-2.1zM398.0,705.9h2.1v2.1h-2.1zM413.9,705.9h2.1v2.1h-2.1zM384.1,707.9h2.1v2.1h-2.1zM390.0,707.9h2.1v2.1h-2.1zM394.0,707.9h4.1v2.1h-4.1zM406.0,707.9h2.1v2.1h-2.1zM412.0,707.9h2.1v2.1h-2.1zM396.0,709.8h2.1v2.1h-2.1zM402.0,709.8h8.1v2.1h-8.1zM412.0,709.8h4.1v2.1h-4.1zM417.9,709.8h2.1v2.1h-2.1zM390.0,711.8h2.1v2.1h-2.1zM402.0,711.8h6.1v2.1h-6.1zM410.0,711.8h2.1v2.1h-2.1zM413.9,711.8h2.1v2.1h-2.1zM419.9,711.8h2.1v2.1h-2.1zM445.8,711.8h2.1v2.1h-2.1zM417.9,713.8h2.1v2.1h-2.1zM427.9,713.8h2.1v2.1h-2.1zM433.9,713.8h2.1v2.1h-2.1zM415.9,715.7h2.1v2.1h-2.1zM435.9,715.7h2.1v2.1h-2.1zM439.9,715.7h2.1v2.1h-2.1zM445.8,715.7h2.1v2.1h-2.1zM443.8,717.7h6.1v2.1h-6.1zM413.9,719.7h2.1v2.1h-2.1zM433.9,719.7h2.1v2.1h-2.1zM439.9,719.7h2.1v2.1h-2.1zM449.8,719.7h4.1v2.1h-4.1zM455.8,719.7h2.1v2.1h-2.1zM465.8,719.7h2.1v2.1h-2.1zM469.8,719.7h2.1v2.1h-2.1zM443.8,721.6h4.1v2.1h-4.1zM451.8,721.6h2.1v2.1h-2.1zM455.8,721.6h2.1v2.1h-2.1zM473.7,721.6h2.1v2.1h-2.1zM481.7,721.6h2.1v2.1h-2.1zM499.7,721.6h2.1v2.1h-2.1zM461.8,723.6h4.1v2.1h-4.1zM473.7,723.6h2.1v2.1h-2.1zM485.7,723.6h4.1v2.1h-4.1zM495.7,723.6h2.1v2.1h-2.1zM519.6,723.6h2.1v2.1h-2.1zM541.5,723.6h2.1v2.1h-2.1zM485.7,725.6h2.1v2.1h-2.1zM497.7,725.6h4.1v2.1h-4.1zM505.6,725.6h2.1v2.1h-2.1zM509.6,725.6h2.1v2.1h-2.1zM479.7,727.6h2.1v2.1h-2.1zM485.7,727.6h2.1v2.1h-2.1zM505.6,727.6h4.1v2.1h-4.1zM519.6,727.6h2.1v2.1h-2.1zM525.6,727.6h4.1v2.1h-4.1zM535.5,727.6h2.1v2.1h-2.1zM324.3,729.5h2.1v2.1h-2.1zM495.7,729.5h2.1v2.1h-2.1zM507.6,729.5h6.1v2.1h-6.1zM519.6,729.5h2.1v2.1h-2.1zM523.6,729.5h12.1v2.1h-12.1zM537.5,729.5h2.1v2.1h-2.1zM320.3,731.5h2.1v2.1h-2.1zM495.7,731.5h2.1v2.1h-2.1zM515.6,731.5h4.1v2.1h-4.1zM533.5,731.5h2.1v2.1h-2.1zM541.5,731.5h2.1v2.1h-2.1zM328.2,733.5h2.1v2.1h-2.1zM350.2,733.5h2.1v2.1h-2.1zM535.5,733.5h2.1v2.1h-2.1zM314.3,735.4h2.1v2.1h-2.1zM320.3,735.4h2.1v2.1h-2.1zM332.2,735.4h2.1v2.1h-2.1zM336.2,735.4h2.1v2.1h-2.1zM346.2,735.4h2.1v2.1h-2.1zM350.2,735.4h6.1v2.1h-6.1z"/><path fill="#ee6e21" d="M372.1,682.3h2.1v2.1h-2.1zM374.1,684.2h4.1v2.1h-4.1zM374.1,686.2h2.1v2.1h-2.1zM366.1,688.2h2.1v2.1h-2.1zM372.1,690.1h2.1v2.1h-2.1zM366.1,692.1h2.1v2.1h-2.1zM374.1,692.1h4.1v2.1h-4.1zM366.1,696.1h2.1v2.1h-2.1zM364.1,700.0h2.1v2.1h-2.1zM384.1,700.0h4.1v2.1h-4.1zM382.1,702.0h2.1v2.1h-2.1zM380.1,703.9h4.1v2.1h-4.1zM386.0,703.9h2.1v2.1h-2.1zM390.0,703.9h2.1v2.1h-2.1zM362.1,705.9h2.1v2.1h-2.1zM390.0,705.9h4.1v2.1h-4.1zM404.0,705.9h2.1v2.1h-2.1zM380.1,707.9h2.1v2.1h-2.1zM386.0,707.9h2.1v2.1h-2.1zM392.0,707.9h2.1v2.1h-2.1zM404.0,707.9h2.1v2.1h-2.1zM362.1,709.8h2.1v2.1h-2.1zM388.0,709.8h2.1v2.1h-2.1zM388.0,711.8h2.1v2.1h-2.1zM394.0,711.8h8.1v2.1h-8.1zM394.0,713.8h4.1v2.1h-4.1zM400.0,713.8h2.1v2.1h-2.1zM406.0,713.8h6.1v2.1h-6.1zM413.9,713.8h2.1v2.1h-2.1zM419.9,713.8h2.1v2.1h-2.1zM431.9,713.8h2.1v2.1h-2.1zM413.9,715.7h2.1v2.1h-2.1zM417.9,715.7h2.1v2.1h-2.1zM421.9,715.7h4.1v2.1h-4.1zM431.9,715.7h2.1v2.1h-2.1zM437.9,715.7h2.1v2.1h-2.1zM408.0,717.7h2.1v2.1h-2.1zM413.9,717.7h2.1v2.1h-2.1zM421.9,717.7h2.1v2.1h-2.1zM427.9,717.7h2.1v2.1h-2.1zM431.9,717.7h2.1v2.1h-2.1zM437.9,717.7h4.1v2.1h-4.1zM461.8,717.7h2.1v2.1h-2.1zM421.9,719.7h2.1v2.1h-2.1zM441.9,719.7h8.1v2.1h-8.1zM459.8,719.7h2.1v2.1h-2.1zM467.8,719.7h2.1v2.1h-2.1zM435.9,721.6h4.1v2.1h-4.1zM447.8,721.6h4.1v2.1h-4.1zM463.8,721.6h6.1v2.1h-6.1zM471.7,721.6h2.1v2.1h-2.1zM477.7,721.6h2.1v2.1h-2.1zM441.9,723.6h2.1v2.1h-2.1zM445.8,723.6h2.1v2.1h-2.1zM455.8,723.6h2.1v2.1h-2.1zM459.8,723.6h2.1v2.1h-2.1zM471.7,723.6h2.1v2.1h-2.1zM475.7,723.6h2.1v2.1h-2.1zM483.7,723.6h2.1v2.1h-2.1zM491.7,723.6h2.1v2.1h-2.1zM523.6,723.6h2.1v2.1h-2.1zM437.9,725.6h2.1v2.1h-2.1zM449.8,725.6h2.1v2.1h-2.1zM465.8,725.6h4.1v2.1h-4.1zM473.7,725.6h6.1v2.1h-6.1zM481.7,725.6h2.1v2.1h-2.1zM487.7,725.6h8.1v2.1h-8.1zM503.6,725.6h2.1v2.1h-2.1zM519.6,725.6h2.1v2.1h-2.1zM461.8,727.6h2.1v2.1h-2.1zM473.7,727.6h4.1v2.1h-4.1zM481.7,727.6h2.1v2.1h-2.1zM489.7,727.6h2.1v2.1h-2.1zM493.7,727.6h2.1v2.1h-2.1zM503.6,727.6h2.1v2.1h-2.1zM513.6,727.6h4.1v2.1h-4.1zM531.5,727.6h4.1v2.1h-4.1zM487.7,729.5h2.1v2.1h-2.1zM491.7,729.5h2.1v2.1h-2.1zM513.6,729.5h4.1v2.1h-4.1zM521.6,729.5h2.1v2.1h-2.1zM541.5,729.5h2.1v2.1h-2.1zM505.6,731.5h4.1v2.1h-4.1zM519.6,731.5h8.1v2.1h-8.1zM529.5,731.5h4.1v2.1h-4.1zM535.5,731.5h2.1v2.1h-2.1zM485.7,733.5h2.1v2.1h-2.1zM509.6,733.5h2.1v2.1h-2.1zM521.6,733.5h4.1v2.1h-4.1zM527.6,733.5h2.1v2.1h-2.1zM312.3,735.4h2.1v2.1h-2.1zM316.3,735.4h2.1v2.1h-2.1zM330.2,735.4h2.1v2.1h-2.1zM338.2,735.4h2.1v2.1h-2.1zM358.1,735.4h2.1v2.1h-2.1z"/><path fill="#f37819" d="M376.1,680.3h2.1v2.1h-2.1zM376.1,682.3h2.1v2.1h-2.1zM372.1,686.2h2.1v2.1h-2.1zM376.1,688.2h2.1v2.1h-2.1zM364.1,698.0h2.1v2.1h-2.1zM384.1,703.9h2.1v2.1h-2.1zM386.0,705.9h2.1v2.1h-2.1zM378.1,707.9h2.1v2.1h-2.1zM382.1,707.9h2.1v2.1h-2.1zM388.0,707.9h2.1v2.1h-2.1zM378.1,709.8h8.1v2.1h-8.1zM392.0,709.8h2.1v2.1h-2.1zM398.0,709.8h4.1v2.1h-4.1zM362.1,711.8h2.1v2.1h-2.1zM384.1,711.8h2.1v2.1h-2.1zM392.0,711.8h2.1v2.1h-2.1zM412.0,711.8h2.1v2.1h-2.1zM415.9,711.8h2.1v2.1h-2.1zM398.0,713.8h2.1v2.1h-2.1zM404.0,713.8h2.1v2.1h-2.1zM412.0,713.8h2.1v2.1h-2.1zM423.9,713.8h2.1v2.1h-2.1zM394.0,715.7h2.1v2.1h-2.1zM404.0,715.7h6.1v2.1h-6.1zM412.0,715.7h2.1v2.1h-2.1zM419.9,715.7h2.1v2.1h-2.1zM427.9,715.7h2.1v2.1h-2.1zM441.9,715.7h2.1v2.1h-2.1zM406.0,717.7h2.1v2.1h-2.1zM410.0,717.7h2.1v2.1h-2.1zM415.9,717.7h2.1v2.1h-2.1zM419.9,717.7h2.1v2.1h-2.1zM429.9,717.7h2.1v2.1h-2.1zM435.9,717.7h2.1v2.1h-2.1zM449.8,717.7h2.1v2.1h-2.1zM408.0,719.7h6.1v2.1h-6.1zM415.9,719.7h6.1v2.1h-6.1zM423.9,719.7h8.1v2.1h-8.1zM437.9,719.7h2.1v2.1h-2.1zM457.8,719.7h2.1v2.1h-2.1zM419.9,721.6h4.1v2.1h-4.1zM431.9,721.6h2.1v2.1h-2.1zM439.9,721.6h2.1v2.1h-2.1zM453.8,721.6h2.1v2.1h-2.1zM457.8,721.6h4.1v2.1h-4.1zM493.7,721.6h2.1v2.1h-2.1zM400.0,723.6h2.1v2.1h-2.1zM413.9,723.6h2.1v2.1h-2.1zM423.9,723.6h2.1v2.1h-2.1zM433.9,723.6h2.1v2.1h-2.1zM447.8,723.6h2.1v2.1h-2.1zM453.8,723.6h2.1v2.1h-2.1zM457.8,723.6h2.1v2.1h-2.1zM465.8,723.6h2.1v2.1h-2.1zM415.9,725.6h2.1v2.1h-2.1zM433.9,725.6h2.1v2.1h-2.1zM447.8,725.6h2.1v2.1h-2.1zM451.8,725.6h2.1v2.1h-2.1zM455.8,725.6h2.1v2.1h-2.1zM459.8,725.6h6.1v2.1h-6.1zM479.7,725.6h2.1v2.1h-2.1zM483.7,725.6h2.1v2.1h-2.1zM495.7,725.6h2.1v2.1h-2.1zM455.8,727.6h4.1v2.1h-4.1zM467.8,727.6h4.1v2.1h-4.1zM491.7,727.6h2.1v2.1h-2.1zM495.7,727.6h8.1v2.1h-8.1zM537.5,727.6h2.1v2.1h-2.1zM459.8,729.5h2.1v2.1h-2.1zM463.8,729.5h2.1v2.1h-2.1zM469.8,729.5h2.1v2.1h-2.1zM473.7,729.5h2.1v2.1h-2.1zM483.7,729.5h2.1v2.1h-2.1zM493.7,729.5h2.1v2.1h-2.1zM497.7,729.5h2.1v2.1h-2.1zM503.6,729.5h4.1v2.1h-4.1zM517.6,729.5h2.1v2.1h-2.1zM485.7,731.5h2.1v2.1h-2.1zM491.7,731.5h4.1v2.1h-4.1zM503.6,731.5h2.1v2.1h-2.1zM511.6,731.5h4.1v2.1h-4.1zM527.6,731.5h2.1v2.1h-2.1zM481.7,733.5h2.1v2.1h-2.1zM491.7,733.5h2.1v2.1h-2.1zM495.7,733.5h2.1v2.1h-2.1zM501.6,733.5h2.1v2.1h-2.1zM511.6,733.5h6.1v2.1h-6.1zM519.6,733.5h2.1v2.1h-2.1zM529.5,733.5h2.1v2.1h-2.1zM537.5,733.5h6.1v2.1h-6.1zM334.2,735.4h2.1v2.1h-2.1z"/><path fill="#f58315" d="M374.1,682.3h2.1v2.1h-2.1zM374.1,688.2h2.1v2.1h-2.1zM374.1,690.1h2.1v2.1h-2.1zM374.1,694.1h2.1v2.1h-2.1zM372.1,696.1h2.1v2.1h-2.1zM366.1,698.0h2.1v2.1h-2.1zM372.1,698.0h2.1v2.1h-2.1zM366.1,700.0h2.1v2.1h-2.1zM376.1,702.0h2.1v2.1h-2.1zM366.1,703.9h2.1v2.1h-2.1zM386.0,709.8h2.1v2.1h-2.1zM390.0,709.8h2.1v2.1h-2.1zM378.1,711.8h6.1v2.1h-6.1zM380.1,713.8h2.1v2.1h-2.1zM384.1,713.8h2.1v2.1h-2.1zM388.0,713.8h2.1v2.1h-2.1zM392.0,713.8h2.1v2.1h-2.1zM402.0,713.8h2.1v2.1h-2.1zM378.1,715.7h2.1v2.1h-2.1zM386.0,715.7h4.1v2.1h-4.1zM392.0,715.7h2.1v2.1h-2.1zM400.0,715.7h2.1v2.1h-2.1zM410.0,715.7h2.1v2.1h-2.1zM425.9,715.7h2.1v2.1h-2.1zM382.1,717.7h2.1v2.1h-2.1zM394.0,717.7h12.1v2.1h-12.1zM412.0,717.7h2.1v2.1h-2.1zM423.9,717.7h2.1v2.1h-2.1zM406.0,719.7h2.1v2.1h-2.1zM435.9,719.7h2.1v2.1h-2.1zM396.0,721.6h2.1v2.1h-2.1zM412.0,721.6h2.1v2.1h-2.1zM415.9,721.6h4.1v2.1h-4.1zM423.9,721.6h4.1v2.1h-4.1zM429.9,721.6h2.1v2.1h-2.1zM433.9,721.6h2.1v2.1h-2.1zM441.9,721.6h2.1v2.1h-2.1zM402.0,723.6h2.1v2.1h-2.1zM427.9,723.6h2.1v2.1h-2.1zM431.9,723.6h2.1v2.1h-2.1zM435.9,723.6h2.1v2.1h-2.1zM443.8,723.6h2.1v2.1h-2.1zM449.8,723.6h4.1v2.1h-4.1zM423.9,725.6h2.1v2.1h-2.1zM431.9,725.6h2.1v2.1h-2.1zM441.9,725.6h6.1v2.1h-6.1zM457.8,725.6h2.1v2.1h-2.1zM469.8,725.6h4.1v2.1h-4.1zM419.9,727.6h2.1v2.1h-2.1zM431.9,727.6h2.1v2.1h-2.1zM463.8,727.6h4.1v2.1h-4.1zM471.7,727.6h2.1v2.1h-2.1zM483.7,727.6h2.1v2.1h-2.1zM487.7,727.6h2.1v2.1h-2.1zM451.8,729.5h4.1v2.1h-4.1zM457.8,729.5h2.1v2.1h-2.1zM465.8,729.5h2.1v2.1h-2.1zM471.7,729.5h2.1v2.1h-2.1zM475.7,729.5h2.1v2.1h-2.1zM481.7,729.5h2.1v2.1h-2.1zM489.7,729.5h2.1v2.1h-2.1zM455.8,731.5h2.1v2.1h-2.1zM463.8,731.5h2.1v2.1h-2.1zM473.7,731.5h10.1v2.1h-10.1zM487.7,731.5h2.1v2.1h-2.1zM497.7,731.5h6.1v2.1h-6.1zM509.6,731.5h2.1v2.1h-2.1zM471.7,733.5h2.1v2.1h-2.1zM493.7,733.5h2.1v2.1h-2.1zM499.7,733.5h2.1v2.1h-2.1zM503.6,733.5h4.1v2.1h-4.1zM517.6,733.5h2.1v2.1h-2.1zM531.5,733.5h2.1v2.1h-2.1zM539.5,735.4h2.1v2.1h-2.1z"/><path fill="#f88e12" d="M370.1,684.2h2.1v2.1h-2.1zM372.1,688.2h2.1v2.1h-2.1zM372.1,692.1h2.1v2.1h-2.1zM376.1,694.1h2.1v2.1h-2.1zM364.1,696.1h2.1v2.1h-2.1zM374.1,696.1h4.1v2.1h-4.1zM374.1,698.0h2.1v2.1h-2.1zM376.1,700.0h2.1v2.1h-2.1zM364.1,702.0h2.1v2.1h-2.1zM372.1,702.0h4.1v2.1h-4.1zM364.1,703.9h2.1v2.1h-2.1zM376.1,703.9h2.1v2.1h-2.1zM364.1,705.9h2.1v2.1h-2.1zM378.1,705.9h2.1v2.1h-2.1zM374.1,707.9h2.1v2.1h-2.1zM386.0,711.8h2.1v2.1h-2.1zM362.1,713.8h2.1v2.1h-2.1zM378.1,713.8h2.1v2.1h-2.1zM386.0,713.8h2.1v2.1h-2.1zM390.0,713.8h2.1v2.1h-2.1zM362.1,715.7h2.1v2.1h-2.1zM380.1,715.7h2.1v2.1h-2.1zM398.0,715.7h2.1v2.1h-2.1zM402.0,715.7h2.1v2.1h-2.1zM362.1,717.7h2.1v2.1h-2.1zM388.0,717.7h2.1v2.1h-2.1zM392.0,717.7h2.1v2.1h-2.1zM380.1,719.7h4.1v2.1h-4.1zM392.0,719.7h4.1v2.1h-4.1zM402.0,719.7h4.1v2.1h-4.1zM404.0,721.6h4.1v2.1h-4.1zM410.0,721.6h2.1v2.1h-2.1zM413.9,721.6h2.1v2.1h-2.1zM427.9,721.6h2.1v2.1h-2.1zM362.1,723.6h2.1v2.1h-2.1zM392.0,723.6h2.1v2.1h-2.1zM415.9,723.6h2.1v2.1h-2.1zM425.9,723.6h2.1v2.1h-2.1zM429.9,723.6h2.1v2.1h-2.1zM406.0,725.6h2.1v2.1h-2.1zM413.9,725.6h2.1v2.1h-2.1zM417.9,725.6h4.1v2.1h-4.1zM425.9,725.6h6.1v2.1h-6.1zM435.9,725.6h2.1v2.1h-2.1zM439.9,725.6h2.1v2.1h-2.1zM423.9,727.6h2.1v2.1h-2.1zM433.9,727.6h2.1v2.1h-2.1zM439.9,727.6h2.1v2.1h-2.1zM445.8,727.6h2.1v2.1h-2.1zM449.8,727.6h2.1v2.1h-2.1zM459.8,727.6h2.1v2.1h-2.1zM477.7,727.6h2.1v2.1h-2.1zM435.9,729.5h2.1v2.1h-2.1zM439.9,729.5h2.1v2.1h-2.1zM445.8,729.5h6.1v2.1h-6.1zM455.8,729.5h2.1v2.1h-2.1zM461.8,729.5h2.1v2.1h-2.1zM477.7,729.5h4.1v2.1h-4.1zM485.7,729.5h2.1v2.1h-2.1zM499.7,729.5h4.1v2.1h-4.1zM441.9,731.5h2.1v2.1h-2.1zM447.8,731.5h2.1v2.1h-2.1zM461.8,731.5h2.1v2.1h-2.1zM467.8,731.5h4.1v2.1h-4.1zM445.8,733.5h2.1v2.1h-2.1zM455.8,733.5h2.1v2.1h-2.1zM459.8,733.5h2.1v2.1h-2.1zM465.8,733.5h2.1v2.1h-2.1zM475.7,733.5h6.1v2.1h-6.1zM497.7,733.5h2.1v2.1h-2.1zM507.6,733.5h2.1v2.1h-2.1zM525.6,733.5h2.1v2.1h-2.1zM499.7,735.4h8.1v2.1h-8.1zM511.6,735.4h4.1v2.1h-4.1zM525.6,735.4h2.1v2.1h-2.1zM535.5,735.4h2.1v2.1h-2.1z"/><path fill="#fa9a0e" d="M368.1,680.3h4.1v2.1h-4.1zM368.1,682.3h4.1v2.1h-4.1zM376.1,698.0h2.1v2.1h-2.1zM372.1,700.0h4.1v2.1h-4.1zM374.1,703.9h2.1v2.1h-2.1zM366.1,705.9h2.1v2.1h-2.1zM374.1,705.9h2.1v2.1h-2.1zM366.1,707.9h2.1v2.1h-2.1zM382.1,713.8h2.1v2.1h-2.1zM382.1,715.7h4.1v2.1h-4.1zM390.0,715.7h2.1v2.1h-2.1zM378.1,717.7h2.1v2.1h-2.1zM386.0,717.7h2.1v2.1h-2.1zM390.0,717.7h2.1v2.1h-2.1zM362.1,719.7h2.1v2.1h-2.1zM384.1,719.7h2.1v2.1h-2.1zM388.0,719.7h2.1v2.1h-2.1zM396.0,719.7h6.1v2.1h-6.1zM382.1,721.6h2.1v2.1h-2.1zM388.0,721.6h4.1v2.1h-4.1zM394.0,721.6h2.1v2.1h-2.1zM402.0,721.6h2.1v2.1h-2.1zM408.0,721.6h2.1v2.1h-2.1zM394.0,723.6h2.1v2.1h-2.1zM410.0,723.6h2.1v2.1h-2.1zM417.9,723.6h6.1v2.1h-6.1zM437.9,723.6h4.1v2.1h-4.1zM362.1,725.6h2.1v2.1h-2.1zM396.0,725.6h2.1v2.1h-2.1zM400.0,725.6h4.1v2.1h-4.1zM412.0,725.6h2.1v2.1h-2.1zM406.0,727.6h6.1v2.1h-6.1zM421.9,727.6h2.1v2.1h-2.1zM427.9,727.6h2.1v2.1h-2.1zM435.9,727.6h2.1v2.1h-2.1zM441.9,727.6h4.1v2.1h-4.1zM447.8,727.6h2.1v2.1h-2.1zM451.8,727.6h4.1v2.1h-4.1zM404.0,729.5h2.1v2.1h-2.1zM413.9,729.5h2.1v2.1h-2.1zM417.9,729.5h2.1v2.1h-2.1zM421.9,729.5h2.1v2.1h-2.1zM425.9,729.5h4.1v2.1h-4.1zM431.9,729.5h4.1v2.1h-4.1zM437.9,729.5h2.1v2.1h-2.1zM441.9,729.5h4.1v2.1h-4.1zM467.8,729.5h2.1v2.1h-2.1zM427.9,731.5h4.1v2.1h-4.1zM445.8,731.5h2.1v2.1h-2.1zM453.8,731.5h2.1v2.1h-2.1zM465.8,731.5h2.1v2.1h-2.1zM483.7,731.5h2.1v2.1h-2.1zM489.7,731.5h2.1v2.1h-2.1zM425.9,733.5h2.1v2.1h-2.1zM433.9,733.5h2.1v2.1h-2.1zM439.9,733.5h2.1v2.1h-2.1zM443.8,733.5h2.1v2.1h-2.1zM447.8,733.5h2.1v2.1h-2.1zM463.8,733.5h2.1v2.1h-2.1zM467.8,733.5h4.1v2.1h-4.1zM473.7,733.5h2.1v2.1h-2.1zM481.7,735.4h2.1v2.1h-2.1zM485.7,735.4h2.1v2.1h-2.1zM491.7,735.4h2.1v2.1h-2.1zM497.7,735.4h2.1v2.1h-2.1zM507.6,735.4h2.1v2.1h-2.1zM515.6,735.4h4.1v2.1h-4.1zM523.6,735.4h2.1v2.1h-2.1zM529.5,735.4h2.1v2.1h-2.1zM533.5,735.4h2.1v2.1h-2.1z"/><path fill="#fca50a" d="M368.1,684.2h2.1v2.1h-2.1zM370.1,686.2h2.1v2.1h-2.1zM370.1,690.1h2.1v2.1h-2.1zM370.1,692.1h2.1v2.1h-2.1zM372.1,694.1h2.1v2.1h-2.1zM366.1,702.0h2.1v2.1h-2.1zM372.1,703.9h2.1v2.1h-2.1zM372.1,705.9h2.1v2.1h-2.1zM376.1,705.9h2.1v2.1h-2.1zM376.1,707.9h2.1v2.1h-2.1zM366.1,709.8h2.1v2.1h-2.1zM396.0,715.7h2.1v2.1h-2.1zM384.1,717.7h2.1v2.1h-2.1zM386.0,719.7h2.1v2.1h-2.1zM390.0,719.7h2.1v2.1h-2.1zM362.1,721.6h2.1v2.1h-2.1zM378.1,721.6h4.1v2.1h-4.1zM386.0,721.6h2.1v2.1h-2.1zM392.0,721.6h2.1v2.1h-2.1zM398.0,721.6h4.1v2.1h-4.1zM390.0,723.6h2.1v2.1h-2.1zM396.0,723.6h2.1v2.1h-2.1zM404.0,723.6h6.1v2.1h-6.1zM412.0,723.6h2.1v2.1h-2.1zM398.0,725.6h2.1v2.1h-2.1zM404.0,725.6h2.1v2.1h-2.1zM410.0,725.6h2.1v2.1h-2.1zM421.9,725.6h2.1v2.1h-2.1zM398.0,727.6h2.1v2.1h-2.1zM415.9,727.6h2.1v2.1h-2.1zM425.9,727.6h2.1v2.1h-2.1zM429.9,727.6h2.1v2.1h-2.1zM437.9,727.6h2.1v2.1h-2.1zM362.1,729.5h2.1v2.1h-2.1zM408.0,729.5h2.1v2.1h-2.1zM419.9,729.5h2.1v2.1h-2.1zM429.9,729.5h2.1v2.1h-2.1zM412.0,731.5h2.1v2.1h-2.1zM425.9,731.5h2.1v2.1h-2.1zM431.9,731.5h2.1v2.1h-2.1zM439.9,731.5h2.1v2.1h-2.1zM443.8,731.5h2.1v2.1h-2.1zM449.8,731.5h4.1v2.1h-4.1zM457.8,731.5h4.1v2.1h-4.1zM471.7,731.5h2.1v2.1h-2.1zM421.9,733.5h2.1v2.1h-2.1zM429.9,733.5h2.1v2.1h-2.1zM449.8,733.5h2.1v2.1h-2.1zM453.8,733.5h2.1v2.1h-2.1zM457.8,733.5h2.1v2.1h-2.1zM461.8,733.5h2.1v2.1h-2.1zM483.7,733.5h2.1v2.1h-2.1zM487.7,733.5h4.1v2.1h-4.1zM439.9,735.4h2.1v2.1h-2.1zM455.8,735.4h2.1v2.1h-2.1zM475.7,735.4h4.1v2.1h-4.1zM483.7,735.4h2.1v2.1h-2.1zM487.7,735.4h4.1v2.1h-4.1zM493.7,735.4h2.1v2.1h-2.1zM509.6,735.4h2.1v2.1h-2.1zM519.6,735.4h4.1v2.1h-4.1zM527.6,735.4h2.1v2.1h-2.1zM531.5,735.4h2.1v2.1h-2.1z"/><path fill="#fab119" d="M368.1,686.2h2.1v2.1h-2.1zM368.1,690.1h2.1v2.1h-2.1zM368.1,692.1h2.1v2.1h-2.1zM368.1,694.1h4.1v2.1h-4.1zM364.1,707.9h2.1v2.1h-2.1zM372.1,707.9h2.1v2.1h-2.1zM364.1,709.8h2.1v2.1h-2.1zM372.1,709.8h2.1v2.1h-2.1zM366.1,711.8h2.1v2.1h-2.1zM376.1,711.8h2.1v2.1h-2.1zM366.1,713.8h2.1v2.1h-2.1zM374.1,713.8h2.1v2.1h-2.1zM378.1,719.7h2.1v2.1h-2.1zM384.1,721.6h2.1v2.1h-2.1zM384.1,723.6h2.1v2.1h-2.1zM388.0,723.6h2.1v2.1h-2.1zM398.0,723.6h2.1v2.1h-2.1zM386.0,725.6h10.1v2.1h-10.1zM408.0,725.6h2.1v2.1h-2.1zM362.1,727.6h2.1v2.1h-2.1zM390.0,727.6h2.1v2.1h-2.1zM412.0,727.6h4.1v2.1h-4.1zM417.9,727.6h2.1v2.1h-2.1zM390.0,729.5h2.1v2.1h-2.1zM394.0,729.5h2.1v2.1h-2.1zM410.0,729.5h2.1v2.1h-2.1zM415.9,729.5h2.1v2.1h-2.1zM423.9,729.5h2.1v2.1h-2.1zM362.1,731.5h2.1v2.1h-2.1zM398.0,731.5h2.1v2.1h-2.1zM404.0,731.5h2.1v2.1h-2.1zM413.9,731.5h2.1v2.1h-2.1zM419.9,731.5h6.1v2.1h-6.1zM433.9,731.5h2.1v2.1h-2.1zM437.9,731.5h2.1v2.1h-2.1zM404.0,733.5h2.1v2.1h-2.1zM423.9,733.5h2.1v2.1h-2.1zM427.9,733.5h2.1v2.1h-2.1zM437.9,733.5h2.1v2.1h-2.1zM441.9,733.5h2.1v2.1h-2.1zM451.8,733.5h2.1v2.1h-2.1zM425.9,735.4h2.1v2.1h-2.1zM437.9,735.4h2.1v2.1h-2.1zM445.8,735.4h2.1v2.1h-2.1zM453.8,735.4h2.1v2.1h-2.1zM459.8,735.4h4.1v2.1h-4.1zM467.8,735.4h8.1v2.1h-8.1zM479.7,735.4h2.1v2.1h-2.1zM495.7,735.4h2.1v2.1h-2.1zM537.5,735.4h2.1v2.1h-2.1zM541.5,735.4h2.1v2.1h-2.1z"/><path fill="#f9be28" d="M368.1,688.2h4.1v2.1h-4.1zM370.1,700.0h2.1v2.1h-2.1zM370.1,707.9h2.1v2.1h-2.1zM374.1,709.8h4.1v2.1h-4.1zM364.1,711.8h2.1v2.1h-2.1zM372.1,711.8h2.1v2.1h-2.1zM372.1,713.8h2.1v2.1h-2.1zM372.1,715.7h2.1v2.1h-2.1zM380.1,717.7h2.1v2.1h-2.1zM380.1,723.6h2.1v2.1h-2.1zM378.1,725.6h4.1v2.1h-4.1zM380.1,727.6h2.1v2.1h-2.1zM392.0,727.6h2.1v2.1h-2.1zM396.0,727.6h2.1v2.1h-2.1zM400.0,727.6h4.1v2.1h-4.1zM386.0,729.5h2.1v2.1h-2.1zM406.0,729.5h2.1v2.1h-2.1zM412.0,729.5h2.1v2.1h-2.1zM384.1,731.5h2.1v2.1h-2.1zM396.0,731.5h2.1v2.1h-2.1zM408.0,731.5h2.1v2.1h-2.1zM415.9,731.5h4.1v2.1h-4.1zM435.9,731.5h2.1v2.1h-2.1zM400.0,733.5h2.1v2.1h-2.1zM412.0,733.5h2.1v2.1h-2.1zM417.9,733.5h2.1v2.1h-2.1zM431.9,733.5h2.1v2.1h-2.1zM402.0,735.4h2.1v2.1h-2.1zM419.9,735.4h2.1v2.1h-2.1zM443.8,735.4h2.1v2.1h-2.1zM447.8,735.4h6.1v2.1h-6.1zM457.8,735.4h2.1v2.1h-2.1zM465.8,735.4h2.1v2.1h-2.1z"/><path fill="#f8ca37" d="M368.1,696.1h2.1v2.1h-2.1zM370.1,698.0h2.1v2.1h-2.1zM368.1,700.0h2.1v2.1h-2.1zM370.1,702.0h2.1v2.1h-2.1zM368.1,705.9h4.1v2.1h-4.1zM376.1,713.8h2.1v2.1h-2.1zM364.1,715.7h2.1v2.1h-2.1zM376.1,715.7h2.1v2.1h-2.1zM366.1,717.7h2.1v2.1h-2.1zM372.1,717.7h6.1v2.1h-6.1zM374.1,719.7h4.1v2.1h-4.1zM378.1,723.6h2.1v2.1h-2.1zM382.1,723.6h2.1v2.1h-2.1zM386.0,723.6h2.1v2.1h-2.1zM382.1,725.6h4.1v2.1h-4.1zM382.1,727.6h8.1v2.1h-8.1zM394.0,727.6h2.1v2.1h-2.1zM404.0,727.6h2.1v2.1h-2.1zM378.1,729.5h2.1v2.1h-2.1zM392.0,729.5h2.1v2.1h-2.1zM396.0,729.5h2.1v2.1h-2.1zM400.0,729.5h2.1v2.1h-2.1zM388.0,731.5h2.1v2.1h-2.1zM394.0,731.5h2.1v2.1h-2.1zM400.0,731.5h4.1v2.1h-4.1zM406.0,731.5h2.1v2.1h-2.1zM410.0,731.5h2.1v2.1h-2.1zM394.0,733.5h2.1v2.1h-2.1zM410.0,733.5h2.1v2.1h-2.1zM413.9,733.5h4.1v2.1h-4.1zM419.9,733.5h2.1v2.1h-2.1zM435.9,733.5h2.1v2.1h-2.1zM394.0,735.4h2.1v2.1h-2.1zM413.9,735.4h4.1v2.1h-4.1zM423.9,735.4h2.1v2.1h-2.1zM427.9,735.4h2.1v2.1h-2.1zM431.9,735.4h2.1v2.1h-2.1zM435.9,735.4h2.1v2.1h-2.1zM441.9,735.4h2.1v2.1h-2.1zM463.8,735.4h2.1v2.1h-2.1z"/><path fill="#f6d746" d="M370.1,696.1h2.1v2.1h-2.1zM368.1,698.0h2.1v2.1h-2.1zM368.1,702.0h2.1v2.1h-2.1zM370.1,703.9h2.1v2.1h-2.1zM370.1,709.8h2.1v2.1h-2.1zM374.1,711.8h2.1v2.1h-2.1zM364.1,713.8h2.1v2.1h-2.1zM366.1,715.7h2.1v2.1h-2.1zM364.1,717.7h2.1v2.1h-2.1zM366.1,719.7h2.1v2.1h-2.1zM372.1,719.7h2.1v2.1h-2.1zM366.1,721.6h2.1v2.1h-2.1zM372.1,721.6h2.1v2.1h-2.1zM374.1,723.6h2.1v2.1h-2.1zM378.1,727.6h2.1v2.1h-2.1zM380.1,729.5h6.1v2.1h-6.1zM388.0,729.5h2.1v2.1h-2.1zM402.0,729.5h2.1v2.1h-2.1zM378.1,731.5h2.1v2.1h-2.1zM386.0,731.5h2.1v2.1h-2.1zM390.0,731.5h2.1v2.1h-2.1zM386.0,733.5h8.1v2.1h-8.1zM396.0,733.5h2.1v2.1h-2.1zM402.0,733.5h2.1v2.1h-2.1zM406.0,733.5h2.1v2.1h-2.1zM388.0,735.4h2.1v2.1h-2.1zM408.0,735.4h6.1v2.1h-6.1zM417.9,735.4h2.1v2.1h-2.1zM421.9,735.4h2.1v2.1h-2.1zM433.9,735.4h2.1v2.1h-2.1z"/><path fill="#f8e15e" d="M368.1,703.9h2.1v2.1h-2.1zM370.1,711.8h2.1v2.1h-2.1zM374.1,715.7h2.1v2.1h-2.1zM368.1,717.7h2.1v2.1h-2.1zM364.1,721.6h2.1v2.1h-2.1zM374.1,721.6h4.1v2.1h-4.1zM364.1,723.6h2.1v2.1h-2.1zM368.1,727.6h2.1v2.1h-2.1zM374.1,727.6h2.1v2.1h-2.1zM398.0,729.5h2.1v2.1h-2.1zM374.1,731.5h2.1v2.1h-2.1zM380.1,731.5h4.1v2.1h-4.1zM362.1,733.5h2.1v2.1h-2.1zM382.1,733.5h4.1v2.1h-4.1zM398.0,733.5h2.1v2.1h-2.1zM408.0,733.5h2.1v2.1h-2.1zM364.1,735.4h2.1v2.1h-2.1zM382.1,735.4h2.1v2.1h-2.1zM390.0,735.4h2.1v2.1h-2.1zM398.0,735.4h4.1v2.1h-4.1zM404.0,735.4h4.1v2.1h-4.1z"/><path fill="#f9eb75" d="M368.1,707.9h2.1v2.1h-2.1zM368.1,709.8h2.1v2.1h-2.1zM368.1,713.8h2.1v2.1h-2.1zM370.1,715.7h2.1v2.1h-2.1zM364.1,719.7h2.1v2.1h-2.1zM368.1,719.7h2.1v2.1h-2.1zM366.1,723.6h2.1v2.1h-2.1zM372.1,723.6h2.1v2.1h-2.1zM376.1,723.6h2.1v2.1h-2.1zM372.1,725.6h2.1v2.1h-2.1zM376.1,725.6h2.1v2.1h-2.1zM368.1,729.5h2.1v2.1h-2.1zM364.1,731.5h2.1v2.1h-2.1zM392.0,731.5h2.1v2.1h-2.1zM374.1,733.5h2.1v2.1h-2.1zM362.1,735.4h2.1v2.1h-2.1zM366.1,735.4h6.1v2.1h-6.1zM374.1,735.4h2.1v2.1h-2.1zM380.1,735.4h2.1v2.1h-2.1zM396.0,735.4h2.1v2.1h-2.1zM429.9,735.4h2.1v2.1h-2.1z"/><path fill="#faf58c" d="M368.1,711.8h2.1v2.1h-2.1zM370.1,713.8h2.1v2.1h-2.1zM370.1,717.7h2.1v2.1h-2.1zM370.1,719.7h2.1v2.1h-2.1zM368.1,723.6h4.1v2.1h-4.1zM364.1,725.6h4.1v2.1h-4.1zM374.1,725.6h2.1v2.1h-2.1zM364.1,727.6h4.1v2.1h-4.1zM370.1,727.6h4.1v2.1h-4.1zM370.1,729.5h2.1v2.1h-2.1zM374.1,729.5h2.1v2.1h-2.1zM368.1,731.5h4.1v2.1h-4.1zM364.1,733.5h8.1v2.1h-8.1zM376.1,733.5h6.1v2.1h-6.1zM372.1,735.4h2.1v2.1h-2.1zM376.1,735.4h4.1v2.1h-4.1zM384.1,735.4h4.1v2.1h-4.1zM392.0,735.4h2.1v2.1h-2.1z"/><path fill="#fcffa4" d="M368.1,715.7h2.1v2.1h-2.1zM368.1,721.6h4.1v2.1h-4.1zM368.1,725.6h4.1v2.1h-4.1zM376.1,727.6h2.1v2.1h-2.1zM364.1,729.5h4.1v2.1h-4.1zM372.1,729.5h2.1v2.1h-2.1zM376.1,729.5h2.1v2.1h-2.1zM366.1,731.5h2.1v2.1h-2.1zM372.1,731.5h2.1v2.1h-2.1zM376.1,731.5h2.1v2.1h-2.1zM372.1,733.5h2.1v2.1h-2.1z"/></g>
<rect x="312.3" y="680.3" width="231.2" height="57.1" fill="none" stroke="#222" stroke-width="0.7"/>
<rect x="312.3" y="595.3" width="231.2" height="78.0" fill="#fff" stroke="#222" stroke-width="0.8"/>
<path d="M312.3,630.4H543.5" stroke="#000" stroke-width="0.9"/>
<path d="M312.8,630.1V630.8M313.3,630.1V630.8M313.8,630.0V630.7M314.3,630.2V630.8M314.8,630.1V630.7M315.3,630.0V630.6M315.8,630.1V630.7M316.3,630.0V630.7M316.8,630.2V630.7M317.3,630.1V630.8M317.8,630.1V630.7M318.3,630.1V630.7M318.8,630.2V630.7M319.3,630.0V630.8M319.8,630.1V630.7M320.3,630.2V630.7M320.8,630.0V630.6M321.3,630.1V630.8M321.8,630.1V630.7M322.3,630.0V630.6M322.8,630.1V630.7M323.3,630.1V630.6M323.8,630.1V630.7M324.3,630.0V630.7M324.8,630.0V630.7M325.3,630.1V630.7M325.8,630.0V630.6M326.3,630.1V630.7M326.8,630.2V630.7M327.3,630.2V630.7M327.8,630.2V630.7M328.3,630.0V630.8M328.8,630.0V630.7M329.3,630.0V630.7M329.8,630.0V630.7M330.3,630.0V630.7M330.8,630.0V630.7M331.3,630.0V630.6M331.8,630.0V630.7M332.3,630.1V630.7M332.8,630.1V630.7M333.3,630.1V630.8M333.8,630.2V630.7M334.3,630.2V630.6M334.8,630.1V630.8M335.3,630.2V630.8M335.8,630.1V630.8M336.3,630.0V630.6M336.8,630.0V630.6M337.3,630.2V630.7M337.8,630.0V630.7M338.3,630.0V630.7M338.8,630.1V630.7M339.3,630.0V630.7M339.8,630.0V630.7M340.3,630.2V630.6M340.8,630.1V630.8M341.3,630.1V630.7M341.8,630.1V630.6M342.3,630.1V630.7M342.8,630.0V630.8M343.3,630.1V630.7M343.8,630.1V630.7M344.3,630.1V630.8M344.8,630.2V630.7M345.3,630.1V630.7M345.8,630.2V630.6M346.3,630.1V630.6M346.8,630.0V630.8M347.3,630.1V630.8M347.8,630.1V630.8M348.3,630.1V630.6M348.8,630.1V630.7M349.3,630.1V630.6M349.8,630.0V630.7M350.3,630.0V630.8M350.8,630.0V630.6M351.3,630.2V630.6M351.8,630.1V630.6M352.3,630.2V630.6M352.8,630.0V630.7M353.3,630.1V630.6M353.8,630.1V630.6M354.3,630.0V630.8M354.8,630.0V630.6M355.3,630.1V630.8M355.8,630.1V630.8M356.3,630.2V630.7M356.8,630.0V630.7M357.3,630.2V630.8M357.8,630.0V630.7M358.3,630.0V630.6M358.8,630.1V630.8M359.3,630.1V630.7M359.8,630.0V630.7M360.3,630.2V630.6M360.8,630.2V630.8M361.3,630.2V630.8M361.8,630.1V630.6M362.3,621.2V639.3M362.8,623.1V637.7M363.3,623.2V635.1M363.8,623.3V633.2M364.3,623.3V634.4M364.8,623.3V635.1M365.3,620.7V633.4M365.8,623.6V632.7M366.3,625.2V633.7M366.8,606.4V660.4M367.3,598.4V670.4M367.8,606.4V660.4M368.3,598.4V670.4M368.8,600.3V640.6M369.3,598.1V658.9M369.8,598.4V668.4M370.3,612.4V655.2M370.8,607.1V662.1M371.3,599.4V669.4M371.8,616.2V662.3M372.3,607.9V662.5M372.8,606.0V657.4M373.3,598.4V666.4M373.8,620.7V644.1M374.3,617.8V652.0M374.8,607.1V667.6M375.3,599.4V668.4M375.8,604.2V649.2M376.3,608.0V646.0M376.8,612.8V649.5M377.3,607.9V658.1M377.8,600.4V667.4M378.3,609.6V654.8M378.8,603.4V665.7M379.3,603.3V659.9M379.8,615.4V655.8M380.3,616.8V657.0M380.8,617.1V661.7M381.3,619.5V648.8M381.8,619.4V643.7M382.3,612.4V655.8M382.8,610.7V651.9M383.3,613.4V647.2M383.8,616.1V649.3M384.3,620.4V649.2M384.8,618.1V643.7M385.3,619.9V640.9M385.8,623.5V640.5M386.3,622.5V639.8M386.8,620.3V640.6M387.3,613.1V639.2M387.8,608.4V641.1M388.3,614.3V649.2M388.8,619.2V643.7M389.3,621.4V636.0M389.8,614.8V637.2M390.3,610.2V639.1M390.8,620.1V642.5M391.3,622.3V640.0M391.8,623.3V637.6M392.3,624.4V636.4M392.8,625.7V636.4M393.3,625.9V636.8M393.8,624.8V636.6M394.3,625.3V636.0M394.8,625.5V634.6M395.3,625.3V634.5M395.8,620.3V638.3M396.3,619.8V640.8M396.8,624.3V639.1M397.3,625.5V637.9M397.8,625.8V635.4M398.3,623.7V639.3M398.8,622.6V639.6M399.3,619.8V639.4M399.8,621.5V636.9M400.3,625.2V634.5M400.8,623.6V637.7M401.3,621.5V639.0M401.8,623.8V635.6M402.3,625.4V635.6M402.8,623.8V638.8M403.3,623.9V638.7M403.8,623.7V637.5M404.3,623.6V634.6M404.8,622.9V633.8M405.3,622.9V637.6M405.8,625.0V637.0M406.3,625.9V634.6M406.8,624.1V635.0M407.3,624.6V635.8M407.8,626.5V637.2M408.3,626.6V636.6M408.8,627.2V634.3M409.3,625.8V633.5M409.8,624.3V632.8M410.3,625.6V632.6M410.8,625.8V633.3M411.3,625.8V635.3M411.8,626.0V634.8M412.3,627.4V633.7M412.8,625.5V634.2M413.3,625.2V634.9M413.8,626.1V634.4M414.3,626.9V635.7M414.8,628.2V635.5M415.3,626.5V635.6M415.8,625.1V635.1M416.3,627.2V635.6M416.8,627.5V634.5M417.3,627.8V633.6M417.8,627.8V634.1M418.3,628.3V634.4M418.8,628.8V633.6M419.3,628.6V632.6M419.8,628.6V632.1M420.3,628.0V632.6M420.8,627.3V633.4M421.3,628.2V632.4M421.8,628.8V632.3M422.3,628.5V634.3M422.8,628.4V633.7M423.3,628.2V632.5M423.8,627.8V632.4M424.3,627.7V632.6M424.8,628.0V632.2M425.3,628.1V632.4M425.8,627.1V632.2M426.3,628.0V632.4M426.8,628.7V633.2M427.3,628.6V633.2M427.8,628.3V633.2M428.3,628.4V631.8M428.8,628.7V631.9M429.3,629.0V632.3M429.8,629.0V632.0M430.3,628.9V632.4M430.8,629.0V633.1M431.3,628.5V633.3M431.8,627.9V632.1M432.3,628.7V632.5M432.8,628.9V632.4M433.3,628.2V632.9M433.8,628.3V632.9M434.3,628.9V632.1M434.8,628.7V632.0M435.3,628.2V632.0M435.8,628.4V632.0M436.3,628.6V632.0M436.8,628.7V631.7M437.3,628.4V632.2M437.8,627.6V632.6M438.3,628.1V632.2M438.8,628.4V631.9M439.3,628.4V632.0M439.8,629.0V632.2M440.3,629.4V632.3M440.8,629.2V632.3M441.3,628.9V632.6M441.8,629.1V632.3M442.3,629.2V632.3M442.8,628.8V632.1M443.3,628.4V632.3M443.8,628.0V632.9M444.3,628.3V632.7M444.8,628.7V632.5M445.3,629.4V632.5M445.8,629.0V632.6M446.3,628.7V632.1M446.8,628.5V632.0M447.3,628.5V631.8M447.8,628.7V631.6M448.3,629.1V631.8M448.8,629.6V632.4M449.3,629.0V631.9M449.8,628.6V631.8M450.3,629.0V632.0M450.8,628.8V631.8M451.3,628.5V631.5M451.8,628.7V631.5M452.3,628.8V631.5M452.8,628.9V631.3M453.3,628.8V631.3M453.8,628.5V631.8M454.3,629.0V631.7M454.8,629.6V631.5M455.3,629.2V631.5M455.8,628.9V631.8M456.3,629.3V631.8M456.8,629.4V632.0M457.3,629.5V631.9M457.8,629.5V632.1M458.3,629.2V632.1M458.8,629.1V631.9M459.3,629.4V631.6M459.8,629.7V631.3M460.3,629.4V631.7M460.8,629.2V631.8M461.3,629.0V631.5M461.8,629.0V631.3M462.3,629.1V631.5M462.8,629.3V631.7M463.3,629.2V632.0M463.8,629.4V632.1M464.3,629.3V631.9M464.8,628.9V631.7M465.3,629.0V631.8M465.8,629.5V631.9M466.3,629.3V631.5M466.8,629.1V631.2M467.3,629.2V631.1M467.8,629.3V631.2M468.3,629.7V631.3M468.8,629.3V631.6M469.3,629.0V631.9M469.8,629.4V631.3M470.3,629.4V631.2M470.8,629.0V631.3M471.3,629.0V631.3M471.8,629.0V631.5M472.3,628.9V631.3M472.8,628.9V631.3M473.3,629.1V631.7M473.8,629.2V631.5M474.3,629.5V631.1M474.8,629.5V631.1M475.3,629.4V631.2M475.8,629.5V631.6M476.3,629.3V631.5M476.8,629.0V631.1M477.3,629.4V631.1M477.8,629.7V631.2M478.3,629.7V631.3M478.8,629.5V631.4M479.3,629.1V631.5M479.8,629.2V631.5M480.3,629.1V631.3M480.8,629.3V631.4M481.3,629.2V631.5M481.8,629.2V631.5M482.3,629.3V631.4M482.8,629.4V631.4M483.3,629.4V631.6M483.8,629.2V631.4M484.3,629.4V631.1M484.8,629.4V631.1M485.3,629.2V631.3M485.8,629.5V631.2M486.3,629.7V631.1M486.8,629.6V631.4M487.3,629.5V631.4M487.8,629.4V631.1M488.3,629.4V631.1M488.8,629.3V631.1M489.3,629.5V631.2M489.8,629.5V631.3M490.3,629.4V631.4M490.8,629.2V631.2M491.3,629.2V631.0M491.8,629.3V631.3M492.3,629.6V631.4M492.8,629.7V631.1M493.3,629.7V631.1M493.8,629.8V631.1M494.3,629.5V631.1M494.8,629.2V631.1M495.3,629.4V631.3M495.8,629.6V631.4M496.3,629.6V631.5M496.8,629.5V631.4M497.3,629.5V631.4M497.8,629.7V631.3M498.3,629.7V631.2M498.8,629.7V631.1M499.3,629.7V631.4M499.8,629.7V631.6M500.3,629.7V631.5M500.8,629.6V631.6M501.3,629.3V631.7M501.8,629.5V631.4M502.3,629.7V631.3M502.8,629.7V631.4M503.3,629.7V631.5M503.8,629.4V631.5M504.3,629.4V631.4M504.8,629.4V631.5M505.3,629.6V631.4M505.8,629.8V631.3M506.3,629.6V631.4M506.8,629.5V631.4M507.3,629.5V631.3M507.8,629.4V631.2M508.3,629.4V631.2M508.8,629.4V631.2M509.3,629.4V631.2M509.8,629.6V631.1M510.3,629.6V631.1M510.8,629.7V631.3M511.3,629.5V631.3M511.8,629.3V631.2M512.3,629.4V631.1M512.8,629.5V631.2M513.3,629.4V631.4M513.8,629.6V631.3M514.3,629.7V631.2M514.8,629.6V631.2M515.3,629.6V631.2M515.8,629.4V631.4M516.3,629.5V631.5M516.8,629.7V631.4M517.3,629.5V631.3M517.8,629.5V631.2M518.3,629.5V631.2M518.8,629.5V631.2M519.3,629.4V631.0M519.8,629.5V631.1M520.3,629.6V631.2M520.8,629.6V631.4M521.3,629.5V631.4M521.8,629.4V631.2M522.3,629.6V631.4M522.8,629.6V631.5M523.3,629.7V631.2M523.8,629.7V631.0M524.3,629.5V631.0M524.8,629.6V631.0M525.3,629.8V631.0M525.8,629.6V631.0M526.3,629.5V631.1M526.8,629.6V631.3M527.3,629.6V631.4M527.8,629.4V631.4M528.3,629.5V631.4M528.8,629.6V631.4M529.3,629.7V631.3M529.8,629.7V631.2M530.3,629.6V631.1M530.8,629.6V631.2M531.3,629.5V631.1M531.8,629.6V631.1M532.3,629.6V631.0M532.8,629.6V631.1M533.3,629.6V631.1M533.8,629.7V631.0M534.3,629.5V631.2M534.8,629.4V631.4M535.3,629.7V631.3M535.8,629.7V631.2M536.3,629.5V631.1M536.8,629.6V631.3M537.3,629.8V631.4M537.8,629.6V631.2M538.3,629.7V631.2M538.8,629.8V631.3M539.3,629.8V631.4M539.8,629.8V631.3M540.3,629.6V631.3M540.8,629.6V631.3M541.3,629.4V631.2M541.8,629.5V631.2M542.3,629.7V631.2M542.8,629.7V631.3" stroke="#000" stroke-width="0.8" fill="none"/>
<text x="325.1" y="749.6" font-size="8.5" text-anchor="middle">-80</text>
<text x="350.8" y="749.6" font-size="8.5" text-anchor="middle">-60</text>
<text x="376.5" y="749.6" font-size="8.5" text-anchor="middle">-40</text>
<text x="402.2" y="749.6" font-size="8.5" text-anchor="middle">-20</text>
<text x="427.9" y="749.6" font-size="8.5" text-anchor="middle">0</text>
<text x="453.6" y="749.6" font-size="8.5" text-anchor="middle">20</text>
<text x="479.3" y="749.6" font-size="8.5" text-anchor="middle">40</text>
<text x="505.0" y="749.6" font-size="8.5" text-anchor="middle">60</text>
<text x="530.7" y="749.6" font-size="8.5" text-anchor="middle">80</text>
<text x="306.7" y="602.2" font-size="8.3" text-anchor="end">2</text>
<text x="306.7" y="617.1" font-size="8.3" text-anchor="end">1</text>
<text x="306.7" y="632.2" font-size="8.3" text-anchor="end">0</text>
<text x="306.7" y="646.9" font-size="8.3" text-anchor="end">-1</text>
<text x="306.7" y="661.8" font-size="8.3" text-anchor="end">-2</text>
<text x="306.7" y="739.2" font-size="8.3" text-anchor="end">0</text>
<text x="306.7" y="715.2" font-size="8.3" text-anchor="end">50</text>
<text x="306.7" y="691.2" font-size="8.3" text-anchor="end">100</text>
<path d="M325.1,673.3v2 M325.1,737.4v2.2 M350.8,673.3v2 M350.8,737.4v2.2 M376.5,673.3v2 M376.5,737.4v2.2 M402.2,673.3v2 M402.2,737.4v2.2 M427.9,673.3v2 M427.9,737.4v2.2 M453.6,673.3v2 M453.6,737.4v2.2 M479.3,673.3v2 M479.3,737.4v2.2 M505.0,673.3v2 M505.0,737.4v2.2 M530.7,673.3v2 M530.7,737.4v2.2 M312.3,600.4h-2.2 M312.3,615.3h-2.2 M312.3,630.4h-2.2 M312.3,645.1h-2.2 M312.3,660.0h-2.2 M312.3,737.4h-2.2 M312.3,713.4h-2.2 M312.3,689.4h-2.2" stroke="#222" stroke-width="0.6" fill="none"/>
<text x="429.9" y="760.1" font-size="8.9" text-anchor="middle">Time (s)</text>
<text x="293.9" y="591.8" font-size="8.8">1e8</text>
<text x="314.8" y="608.0" font-size="11.5">MAHY04</text>
<text x="359.6" y="588.1" font-size="9.3" text-anchor="middle">P</text>
<path d="M360.6,590.0L362.5,609.8" stroke="#222" stroke-width="0.6"/>
<path d="M362.9,613.4L361.1,610.0L364.0,609.7Z" fill="#111"/>
<text x="364.7" y="577.4" font-size="9.3" text-anchor="middle">S</text>
<path d="M364.7,579.1L365.3,614.4" stroke="#222" stroke-width="0.6"/>
<path d="M365.4,618.0L363.8,614.4L366.8,614.4Z" fill="#111"/>
<text x="372.3" y="581.6999999999999" font-size="9.3" text-anchor="middle">T</text>
<path d="M371.5,583.4L368.0,596.0" stroke="#222" stroke-width="0.6"/>
<path d="M367.0,599.5L366.5,595.6L369.4,596.4Z" fill="#111"/>
</svg></body></html>
